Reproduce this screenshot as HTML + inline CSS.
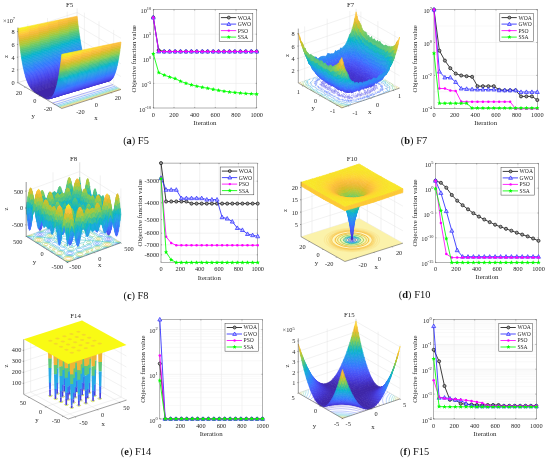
<!DOCTYPE html><html><head><meta charset="utf-8"><title>Figure</title><style>html,body{margin:0;padding:0;background:#fff}svg{display:block}.c0{fill:#3e26a8;stroke:#3e26a8}.c1{fill:#3f29af;stroke:#3f29af}.c2{fill:#402bb6;stroke:#402bb6}.c3{fill:#412ebd;stroke:#412ebd}.c4{fill:#4230c4;stroke:#4230c4}.c5{fill:#4333cb;stroke:#4333cb}.c6{fill:#4436d2;stroke:#4436d2}.c7{fill:#4539d9;stroke:#4539d9}.c8{fill:#463cde;stroke:#463cde}.c9{fill:#473fe2;stroke:#473fe2}.c10{fill:#4743e6;stroke:#4743e6}.c11{fill:#4846ea;stroke:#4846ea}.c12{fill:#484aed;stroke:#484aed}.c13{fill:#474df0;stroke:#474df0}.c14{fill:#4751f3;stroke:#4751f3}.c15{fill:#4754f6;stroke:#4754f6}.c16{fill:#4757f7;stroke:#4757f7}.c17{fill:#465bf9;stroke:#465bf9}.c18{fill:#455efb;stroke:#455efb}.c19{fill:#4461fc;stroke:#4461fc}.c20{fill:#4265fd;stroke:#4265fd}.c21{fill:#416afe;stroke:#416afe}.c22{fill:#3f6efe;stroke:#3f6efe}.c23{fill:#3c71fe;stroke:#3c71fe}.c24{fill:#3975fe;stroke:#3975fe}.c25{fill:#3678fd;stroke:#3678fd}.c26{fill:#327bfc;stroke:#327bfc}.c27{fill:#317efb;stroke:#317efb}.c28{fill:#3082f9;stroke:#3082f9}.c29{fill:#2f85f7;stroke:#2f85f7}.c30{fill:#2f88f6;stroke:#2f88f6}.c31{fill:#2e8bf3;stroke:#2e8bf3}.c32{fill:#2d8ef1;stroke:#2d8ef1}.c33{fill:#2c91ef;stroke:#2c91ef}.c34{fill:#2a94ed;stroke:#2a94ed}.c35{fill:#2997ea;stroke:#2997ea}.c36{fill:#279ae8;stroke:#279ae8}.c37{fill:#269ce6;stroke:#269ce6}.c38{fill:#239fe4;stroke:#239fe4}.c39{fill:#21a2e2;stroke:#21a2e2}.c40{fill:#1ea5e0;stroke:#1ea5e0}.c41{fill:#1ba8de;stroke:#1ba8de}.c42{fill:#17aadb;stroke:#17aadb}.c43{fill:#13acd8;stroke:#13acd8}.c44{fill:#10afd5;stroke:#10afd5}.c45{fill:#0cb1d2;stroke:#0cb1d2}.c46{fill:#08b3ce;stroke:#08b3ce}.c47{fill:#0ab5c7;stroke:#0ab5c7}.c48{fill:#12b7bf;stroke:#12b7bf}.c49{fill:#1ab9b6;stroke:#1ab9b6}.c50{fill:#21baad;stroke:#21baad}.c51{fill:#29bca7;stroke:#29bca7}.c52{fill:#31bda0;stroke:#31bda0}.c53{fill:#38be9a;stroke:#38be9a}.c54{fill:#3fc093;stroke:#3fc093}.c55{fill:#45c18c;stroke:#45c18c}.c56{fill:#4ac386;stroke:#4ac386}.c57{fill:#51c47f;stroke:#51c47f}.c58{fill:#58c579;stroke:#58c579}.c59{fill:#5fc672;stroke:#5fc672}.c60{fill:#67c86c;stroke:#67c86c}.c61{fill:#6fc965;stroke:#6fc965}.c62{fill:#78cb5f;stroke:#78cb5f}.c63{fill:#81cc58;stroke:#81cc58}.c64{fill:#8acb52;stroke:#8acb52}.c65{fill:#93cb4c;stroke:#93cb4c}.c66{fill:#9cca45;stroke:#9cca45}.c67{fill:#a4c940;stroke:#a4c940}.c68{fill:#acc83c;stroke:#acc83c}.c69{fill:#b3c738;stroke:#b3c738}.c70{fill:#bbc533;stroke:#bbc533}.c71{fill:#c2c430;stroke:#c2c430}.c72{fill:#c8c22e;stroke:#c8c22e}.c73{fill:#cec02c;stroke:#cec02c}.c74{fill:#d4be2a;stroke:#d4be2a}.c75{fill:#dabd2a;stroke:#dabd2a}.c76{fill:#e0bc2d;stroke:#e0bc2d}.c77{fill:#e5bb30;stroke:#e5bb30}.c78{fill:#ebba33;stroke:#ebba33}.c79{fill:#f0ba36;stroke:#f0ba36}.c80{fill:#f3bb37;stroke:#f3bb37}.c81{fill:#f6bd39;stroke:#f6bd39}.c82{fill:#f9be3a;stroke:#f9be3a}.c83{fill:#fcbf3c;stroke:#fcbf3c}.c84{fill:#fdc43a;stroke:#fdc43a}.c85{fill:#fdc938;stroke:#fdc938}.c86{fill:#fdce36;stroke:#fdce36}.c87{fill:#fed335;stroke:#fed335}.c88{fill:#fdd732;stroke:#fdd732}.c89{fill:#fbdc2f;stroke:#fbdc2f}.c90{fill:#f9e12b;stroke:#f9e12b}.c91{fill:#f8e628;stroke:#f8e628}.c93{fill:#f6f020;stroke:#f6f020}</style></head><body><svg width="550" height="461" viewBox="0 0 550 461" font-family="Liberation Serif, serif">
<rect width="550" height="461" fill="#fff"/>
<path d="M71.7 105.3L27.8 79.5M27.8 79.5L27.8 24.3M91.4 99L47.5 73.2M47.5 73.2L47.5 18M111.1 92.6L67.2 66.8M67.2 66.8L67.2 11.6M54.5 104.2L113.7 85.1M113.7 85.1L113.7 29.9M39.8 95.6L99 76.5M99 76.5L99 21.3M25.2 87L84.4 67.9M84.4 67.9L84.4 12.7M17.9 82.7L77.1 63.6M77.1 63.6L121 89.4M17.9 69.9L77.1 50.8M77.1 50.8L121 76.6M17.9 57.2L77.1 38.1M77.1 38.1L121 63.9M17.9 44.4L77.1 25.3M77.1 25.3L121 51.1M17.9 31.6L77.1 12.5M77.1 12.5L121 38.3" stroke="#e2e2e2" stroke-width="0.45" fill="none"/>
<path d="M121 89.4L77.1 63.6M17.9 82.7L77.1 63.6M77.1 63.6L77.1 8.4" stroke="#d8d8d8" stroke-width="0.45" fill="none"/>
<path d="M112.9 84.6l-10.1 3.1-7.9 2.4-2.1 0.7-10.1 3-6 1.9-4.1 1.2-10 3.1-4.3 1.3-5.8 1.7" fill="none" stroke="#484aed" stroke-width="0.45" opacity="1.0"/>
<path d="M115.3 86.1l-10 3.1-2.7 0.8-7.3 2.2-10.1 3.1-10 3.1-7.6 2.3-2.4 0.8-10.1 3.1" fill="none" stroke="#3975fe" stroke-width="0.45" opacity="1.0"/>
<path d="M117 87l-10.1 3.1-4.1 1.3-5.9 1.8-10 3.1-1.2 0.4-8.8 2.7-8.3 2.6-1.7 0.5-10.1 3.1" fill="none" stroke="#279ae8" stroke-width="0.45" opacity="1.0"/>
<path d="M118.2 87.8l-1.2 0.4-8.8 2.7-8 2.5-2 0.6-10 3.1-4.7 1.4-5.3 1.7-10 3.1-1.6 0.5-8.4 2.6" fill="none" stroke="#12b7bf" stroke-width="0.45" opacity="1.0"/>
<path d="M119.3 88.4l-10 3.1-2.5 0.8-7.5 2.3-9 2.8-1 0.3-10 3.1-5.6 1.7-4.4 1.4-10 3.1" fill="none" stroke="#5fc672" stroke-width="0.45" opacity="1.0"/>
<path d="M120.2 88.9l-0.5 0.2-9.5 2.9-6.8 2.2-3.2 0.9-10 3.2-3.2 1-6.8 2.1-9.7 3-10.3 3.2" fill="none" stroke="#c2c430" stroke-width="0.45" opacity="1.0"/>
<path d="M121 89.4l-10 3.1-6.2 1.9-3.8 1.2-10 3.1-2.4 0.8-7.6 2.3-8.7 2.8-1.3 0.4-9.9 3.1" fill="none" stroke="#fcbf3c" stroke-width="0.45" opacity="1.0"/>
<g stroke-width="0.6" stroke-linejoin="round"><path class="c83" d="M67.4 20.1l9.9-2.1-0.2-1.8-9.9 2.1z"/><path class="c85" d="M57.6 22.2l9.8-2.1-0.2-1.8-9.8 2z"/><path class="c87" d="M47.7 24.3l9.9-2.1-0.2-1.9-9.9 2.1z"/><path class="c89" d="M37.8 26.4l9.9-2.1-0.2-1.9-9.9 2z"/><path class="c91" d="M28 28.4l9.8-2-0.2-2-9.8 2.1z"/><path class="c93" d="M18.1 30.5l9.9-2.1-0.2-1.9-9.9 2z"/><path class="c80" d="M67.6 22l9.9-2.1-0.2-1.9-9.9 2.1z"/><path class="c82" d="M57.8 24.1l9.8-2.1-0.2-1.9-9.8 2.1z"/><path class="c84" d="M47.9 26.2l9.9-2.1-0.2-1.9-9.9 2.1z"/><path class="c86" d="M38 28.3l9.9-2.1-0.2-1.9-9.9 2.1z"/><path class="c88" d="M28.2 30.4l9.8-2.1-0.2-1.9-9.8 2z"/><path class="c90" d="M18.3 32.5l9.9-2.1-0.2-2-9.9 2.1z"/><path class="c77" d="M67.8 23.8l9.9-2.1-0.2-1.8-9.9 2.1z"/><path class="c79" d="M58 26l9.8-2.2-0.2-1.8-9.8 2.1z"/><path class="c81" d="M48.1 28.1l9.9-2.1-0.2-1.9-9.9 2.1z"/><path class="c83" d="M38.2 30.2l9.9-2.1-0.2-1.9-9.9 2.1z"/><path class="c85" d="M28.4 32.3l9.8-2.1-0.2-1.9-9.8 2.1z"/><path class="c87" d="M18.5 34.4l9.9-2.1-0.2-1.9-9.9 2.1z"/><path class="c74" d="M68 25.6l9.9-2.1-0.2-1.8-9.9 2.1z"/><path class="c76" d="M58.2 27.8l9.8-2.2-0.2-1.8-9.8 2.2z"/><path class="c78" d="M48.3 29.9l9.9-2.1-0.2-1.8-9.9 2.1z"/><path class="c80" d="M38.4 32.1l9.9-2.2-0.2-1.8-9.9 2.1z"/><path class="c82" d="M28.6 34.2l9.8-2.1-0.2-1.9-9.8 2.1z"/><path class="c84" d="M18.7 36.3l9.9-2.1-0.2-1.9-9.9 2.1z"/><path class="c71" d="M68.2 27.4l9.9-2.2-0.2-1.7-9.9 2.1z"/><path class="c73" d="M58.4 29.6l9.8-2.2-0.2-1.8-9.8 2.2z"/><path class="c75" d="M48.5 31.8l9.9-2.2-0.2-1.8-9.9 2.1z"/><path class="c77" d="M38.6 33.9l9.9-2.1-0.2-1.9-9.9 2.2z"/><path class="c79" d="M28.8 36l9.8-2.1-0.2-1.8-9.8 2.1z"/><path class="c80" d="M18.9 38.2l9.9-2.2-0.2-1.8-9.9 2.1z"/><path class="c68" d="M68.5 29.2l9.8-2.2-0.2-1.8-9.9 2.2z"/><path class="c70" d="M58.6 31.4l9.9-2.2-0.3-1.8-9.8 2.2z"/><path class="c72" d="M48.7 33.5l9.9-2.1-0.2-1.8-9.9 2.2z"/><path class="c74" d="M38.9 35.7l9.8-2.2-0.2-1.7-9.9 2.1z"/><path class="c76" d="M29 37.9l9.9-2.2-0.3-1.8-9.8 2.1z"/><path class="c77" d="M19.1 40l9.9-2.1-0.2-1.9-9.9 2.2z"/><path class="c66" d="M68.7 30.9l9.8-2.2-0.2-1.7-9.8 2.2z"/><path class="c67" d="M58.8 33.1l9.9-2.2-0.2-1.7-9.9 2.2z"/><path class="c69" d="M48.9 35.3l9.9-2.2-0.2-1.7-9.9 2.1z"/><path class="c71" d="M39.1 37.5l9.8-2.2-0.2-1.8-9.8 2.2z"/><path class="c73" d="M29.2 39.7l9.9-2.2-0.2-1.8-9.9 2.2z"/><path class="c74" d="M19.3 41.8l9.9-2.1-0.2-1.8-9.9 2.1z"/><path class="c63" d="M68.9 32.6l9.9-2.3-0.3-1.6-9.8 2.2z"/><path class="c65" d="M59 34.8l9.9-2.2-0.2-1.7-9.9 2.2z"/><path class="c66" d="M49.2 37l9.8-2.2-0.2-1.7-9.9 2.2z"/><path class="c68" d="M39.3 39.2l9.9-2.2-0.3-1.7-9.8 2.2z"/><path class="c70" d="M29.4 41.4l9.9-2.2-0.2-1.7-9.9 2.2z"/><path class="c71" d="M19.6 43.6l9.8-2.2-0.2-1.7-9.9 2.1z"/><path class="c60" d="M69.1 34.2l9.9-2.2-0.2-1.7-9.9 2.3z"/><path class="c62" d="M59.2 36.5l9.9-2.3-0.2-1.6-9.9 2.2z"/><path class="c63" d="M49.4 38.7l9.8-2.2-0.2-1.7-9.8 2.2z"/><path class="c65" d="M39.5 41l9.9-2.3-0.2-1.7-9.9 2.2z"/><path class="c67" d="M29.6 43.2l9.9-2.2-0.2-1.8-9.9 2.2z"/><path class="c69" d="M19.8 45.4l9.8-2.2-0.2-1.8-9.8 2.2z"/><path class="c57" d="M69.3 35.9l9.9-2.3-0.2-1.6-9.9 2.2z"/><path class="c59" d="M59.5 38.1l9.8-2.2-0.2-1.7-9.9 2.3z"/><path class="c61" d="M49.6 40.4l9.9-2.3-0.3-1.6-9.8 2.2z"/><path class="c62" d="M39.7 42.7l9.9-2.3-0.2-1.7-9.9 2.3z"/><path class="c64" d="M29.9 44.9l9.8-2.2-0.2-1.7-9.9 2.2z"/><path class="c66" d="M20 47.1l9.9-2.2-0.3-1.7-9.8 2.2z"/><path class="c55" d="M69.6 37.5l9.8-2.3-0.2-1.6-9.9 2.3z"/><path class="c56" d="M59.7 39.8l9.9-2.3-0.3-1.6-9.8 2.2z"/><path class="c58" d="M49.8 42.1l9.9-2.3-0.2-1.7-9.9 2.3z"/><path class="c60" d="M40 44.3l9.8-2.2-0.2-1.7-9.9 2.3z"/><path class="c61" d="M30.1 46.6l9.9-2.3-0.3-1.6-9.8 2.2z"/><path class="c63" d="M20.2 48.8l9.9-2.2-0.2-1.7-9.9 2.2z"/><path class="c52" d="M69.8 39l9.9-2.3-0.3-1.5-9.8 2.3z"/><path class="c54" d="M59.9 41.4l9.9-2.4-0.2-1.5-9.9 2.3z"/><path class="c55" d="M50.1 43.7l9.8-2.3-0.2-1.6-9.9 2.3z"/><path class="c57" d="M40.2 46l9.9-2.3-0.3-1.6-9.8 2.2z"/><path class="c59" d="M30.3 48.3l9.9-2.3-0.2-1.7-9.9 2.3z"/><path class="c60" d="M20.5 50.5l9.8-2.2-0.2-1.7-9.9 2.2z"/><path class="c50" d="M70 40.6l9.9-2.4-0.2-1.5-9.9 2.3z"/><path class="c51" d="M60.1 42.9l9.9-2.3-0.2-1.6-9.9 2.4z"/><path class="c53" d="M50.3 45.3l9.8-2.4-0.2-1.5-9.8 2.3z"/><path class="c54" d="M40.4 47.6l9.9-2.3-0.2-1.6-9.9 2.3z"/><path class="c56" d="M30.5 49.9l9.9-2.3-0.2-1.6-9.9 2.3z"/><path class="c57" d="M20.7 52.2l9.8-2.3-0.2-1.6-9.8 2.2z"/><path class="c47" d="M70.2 42.1l9.9-2.4-0.2-1.5-9.9 2.4z"/><path class="c49" d="M60.4 44.5l9.8-2.4-0.2-1.5-9.9 2.3z"/><path class="c50" d="M50.5 46.8l9.9-2.3-0.3-1.6-9.8 2.4z"/><path class="c52" d="M40.6 49.2l9.9-2.4-0.2-1.5-9.9 2.3z"/><path class="c53" d="M30.8 51.5l9.8-2.3-0.2-1.6-9.9 2.3z"/><path class="c55" d="M20.9 53.8l9.9-2.3-0.3-1.6-9.8 2.3z"/><path class="c45" d="M70.5 43.6l9.9-2.4-0.3-1.5-9.9 2.4z"/><path class="c46" d="M60.6 46l9.9-2.4-0.3-1.5-9.8 2.4z"/><path class="c48" d="M50.8 48.4l9.8-2.4-0.2-1.5-9.9 2.3z"/><path class="c49" d="M40.9 50.7l9.9-2.3-0.3-1.6-9.9 2.4z"/><path class="c51" d="M31 53.1l9.9-2.4-0.3-1.5-9.8 2.3z"/><path class="c52" d="M21.2 55.4l9.8-2.3-0.2-1.6-9.9 2.3z"/><path class="c43" d="M70.7 45.1l9.9-2.5-0.2-1.4-9.9 2.4z"/><path class="c44" d="M60.9 47.5l9.8-2.4-0.2-1.5-9.9 2.4z"/><path class="c45" d="M51 49.9l9.9-2.4-0.3-1.5-9.8 2.4z"/><path class="c47" d="M41.1 52.2l9.9-2.3-0.2-1.5-9.9 2.3z"/><path class="c48" d="M31.3 54.6l9.8-2.4-0.2-1.5-9.9 2.4z"/><path class="c50" d="M21.4 57l9.9-2.4-0.3-1.5-9.8 2.3z"/><path class="c40" d="M71 46.5l9.8-2.5-0.2-1.4-9.9 2.5z"/><path class="c42" d="M61.1 48.9l9.9-2.4-0.3-1.4-9.8 2.4z"/><path class="c43" d="M51.2 51.3l9.9-2.4-0.2-1.4-9.9 2.4z"/><path class="c44" d="M41.4 53.7l9.8-2.4-0.2-1.4-9.9 2.3z"/><path class="c46" d="M31.5 56.1l9.9-2.4-0.3-1.5-9.8 2.4z"/><path class="c47" d="M21.6 58.5l9.9-2.4-0.2-1.5-9.9 2.4z"/><path class="c38" d="M71.2 47.9l9.9-2.5-0.3-1.4-9.8 2.5z"/><path class="c39" d="M61.4 50.3l9.8-2.4-0.2-1.4-9.9 2.4z"/><path class="c41" d="M51.5 52.8l9.9-2.5-0.3-1.4-9.9 2.4z"/><path class="c42" d="M41.6 55.2l9.9-2.4-0.3-1.5-9.8 2.4z"/><path class="c43" d="M31.8 57.6l9.8-2.4-0.2-1.5-9.9 2.4z"/><path class="c45" d="M21.9 60l9.9-2.4-0.3-1.5-9.9 2.4z"/><path class="c36" d="M71.5 49.3l9.8-2.5-0.2-1.4-9.9 2.5z"/><path class="c37" d="M61.6 51.7l9.9-2.4-0.3-1.4-9.8 2.4z"/><path class="c38" d="M51.7 54.2l9.9-2.5-0.2-1.4-9.9 2.5z"/><path class="c40" d="M41.9 56.6l9.8-2.4-0.2-1.4-9.9 2.4z"/><path class="c41" d="M32 59.1l9.9-2.5-0.3-1.4-9.8 2.4z"/><path class="c42" d="M22.1 61.5l9.9-2.4-0.2-1.5-9.9 2.4z"/><path class="c34" d="M71.7 50.6l9.9-2.5-0.3-1.3-9.8 2.5z"/><path class="c35" d="M61.9 53.1l9.8-2.5-0.2-1.3-9.9 2.4z"/><path class="c36" d="M52 55.6l9.9-2.5-0.3-1.4-9.9 2.5z"/><path class="c38" d="M42.1 58l9.9-2.4-0.3-1.4-9.8 2.4z"/><path class="c39" d="M32.3 60.5l9.8-2.5-0.2-1.4-9.9 2.5z"/><path class="c40" d="M22.4 62.9l9.9-2.4-0.3-1.4-9.9 2.4z"/><path class="c32" d="M72 51.9l9.9-2.5-0.3-1.3-9.9 2.5z"/><path class="c33" d="M62.1 54.4l9.9-2.5-0.3-1.3-9.8 2.5z"/><path class="c34" d="M52.3 56.9l9.8-2.5-0.2-1.3-9.9 2.5z"/><path class="c35" d="M42.4 59.4l9.9-2.5-0.3-1.3-9.9 2.4z"/><path class="c37" d="M32.5 61.9l9.9-2.5-0.3-1.4-9.8 2.5z"/><path class="c38" d="M22.7 64.3l9.8-2.4-0.2-1.4-9.9 2.4z"/><path class="c30" d="M72.3 53.2l9.8-2.6-0.2-1.2-9.9 2.5z"/><path class="c31" d="M62.4 55.7l9.9-2.5-0.3-1.3-9.9 2.5z"/><path class="c32" d="M52.5 58.2l9.9-2.5-0.3-1.3-9.8 2.5z"/><path class="c33" d="M42.7 60.7l9.8-2.5-0.2-1.3-9.9 2.5z"/><path class="c35" d="M32.8 63.2l9.9-2.5-0.3-1.3-9.9 2.5z"/><path class="c36" d="M22.9 65.7l9.9-2.5-0.3-1.3-9.8 2.4z"/><path class="c30" d="M52.8 59.5l9.9-2.5-0.3-1.3-9.9 2.5z"/><path class="c31" d="M42.9 62.1l9.9-2.6-0.3-1.3-9.8 2.5z"/><path class="c32" d="M33.1 64.6l9.8-2.5-0.2-1.4-9.9 2.5z"/><path class="c34" d="M23.2 67.1l9.9-2.5-0.3-1.4-9.9 2.5z"/><path class="c28" d="M53.1 60.8l9.9-2.6-0.3-1.2-9.9 2.5z"/><path class="c29" d="M43.2 63.3l9.9-2.5-0.3-1.3-9.9 2.6z"/><path class="c30" d="M33.4 65.9l9.8-2.6-0.3-1.2-9.8 2.5z"/><path class="c32" d="M23.5 68.4l9.9-2.5-0.3-1.3-9.9 2.5z"/><path class="c26" d="M53.4 62l9.8-2.6-0.2-1.2-9.9 2.6z"/><path class="c27" d="M43.5 64.6l9.9-2.6-0.3-1.2-9.9 2.5z"/><path class="c28" d="M33.6 67.2l9.9-2.6-0.3-1.3-9.8 2.6z"/><path class="c30" d="M23.8 69.7l9.8-2.5-0.2-1.3-9.9 2.5z"/><path class="c24" d="M53.7 63.2l9.8-2.6-0.3-1.2-9.8 2.6z"/><path class="c25" d="M43.8 65.8l9.9-2.6-0.3-1.2-9.9 2.6z"/><path class="c26" d="M33.9 68.4l9.9-2.6-0.3-1.2-9.9 2.6z"/><path class="c28" d="M24.1 71l9.8-2.6-0.3-1.2-9.8 2.5z"/><path class="c23" d="M54 64.4l9.8-2.6-0.3-1.2-9.8 2.6z"/><path class="c24" d="M44.1 67l9.9-2.6-0.3-1.2-9.9 2.6z"/><path class="c25" d="M34.2 69.6l9.9-2.6-0.3-1.2-9.9 2.6z"/><path class="c26" d="M24.4 72.2l9.8-2.6-0.3-1.2-9.8 2.6z"/><path class="c21" d="M54.3 65.6l9.8-2.7-0.3-1.1-9.8 2.6z"/><path class="c22" d="M44.4 68.2l9.9-2.6-0.3-1.2-9.9 2.6z"/><path class="c23" d="M34.5 70.8l9.9-2.6-0.3-1.2-9.9 2.6z"/><path class="c24" d="M24.7 73.4l9.8-2.6-0.3-1.2-9.8 2.6z"/><path class="c19" d="M54.6 66.7l9.9-2.7-0.4-1.1-9.8 2.7z"/><path class="c20" d="M44.7 69.3l9.9-2.6-0.3-1.1-9.9 2.6z"/><path class="c21" d="M34.9 72l9.8-2.7-0.3-1.1-9.9 2.6z"/><path class="c22" d="M25 74.6l9.9-2.6-0.4-1.2-9.8 2.6z"/><path class="c18" d="M54.9 67.8l9.9-2.7-0.3-1.1-9.9 2.7z"/><path class="c19" d="M45.1 70.4l9.8-2.6-0.3-1.1-9.9 2.6zM35.2 73.1l9.9-2.7-0.4-1.1-9.8 2.7z"/><path class="c20" d="M25.3 75.8l9.9-2.7-0.3-1.1-9.9 2.6z"/><path class="c16" d="M55.2 68.8l9.9-2.7-0.3-1-9.9 2.7z"/><path class="c17" d="M45.4 71.5l9.8-2.7-0.3-1-9.8 2.6z"/><path class="c18" d="M35.5 74.2l9.9-2.7-0.3-1.1-9.9 2.7z"/><path class="c19" d="M25.6 76.9l9.9-2.7-0.3-1.1-9.9 2.7z"/><path class="c15" d="M55.6 69.8l9.9-2.7-0.4-1-9.9 2.7zM45.7 72.6l9.9-2.8-0.4-1-9.8 2.7z"/><path class="c16" d="M35.9 75.3l9.8-2.7-0.3-1.1-9.9 2.7z"/><path class="c17" d="M26 78l9.9-2.7-0.4-1.1-9.9 2.7z"/><path class="c13" d="M55.9 70.8l9.9-2.7-0.3-1-9.9 2.7z"/><path class="c14" d="M46.1 73.6l9.8-2.8-0.3-1-9.9 2.8z"/><path class="c15" d="M36.2 76.3l9.9-2.7-0.4-1-9.8 2.7z"/><path class="c16" d="M26.3 79l9.9-2.7-0.3-1-9.9 2.7z"/><path class="c12" d="M56.3 71.8l9.9-2.8-0.4-0.9-9.9 2.7z"/><path class="c13" d="M46.4 74.6l9.9-2.8-0.4-1-9.8 2.8zM36.6 77.3l9.8-2.7-0.3-1-9.9 2.7z"/><path class="c14" d="M26.7 80.1l9.9-2.8-0.4-1-9.9 2.7z"/><path class="c11" d="M56.7 72.7l9.8-2.8-0.3-0.9-9.9 2.8zM46.8 75.5l9.9-2.8-0.4-0.9-9.9 2.8z"/><path class="c12" d="M36.9 78.3l9.9-2.8-0.4-0.9-9.8 2.7z"/><path class="c13" d="M27.1 81.1l9.8-2.8-0.3-1-9.9 2.8z"/><path class="c9" d="M57.1 73.6l9.8-2.8-0.4-0.9-9.8 2.8z"/><path class="c10" d="M47.2 76.5l9.9-2.9-0.4-0.9-9.9 2.8z"/><path class="c11" d="M37.3 79.3l9.9-2.8-0.4-1-9.9 2.8zM27.5 82.1l9.8-2.8-0.4-1-9.8 2.8z"/><path class="c8" d="M57.5 74.5l9.8-2.8-0.4-0.9-9.8 2.8z"/><path class="c9" d="M47.6 77.4l9.9-2.9-0.4-0.9-9.9 2.9zM37.7 80.2l9.9-2.8-0.4-0.9-9.9 2.8z"/><path class="c10" d="M27.9 83l9.8-2.8-0.4-0.9-9.8 2.8z"/><path class="c7" d="M57.9 75.4l9.9-2.9-0.5-0.8-9.8 2.8z"/><path class="c8" d="M48 78.2l9.9-2.8-0.4-0.9-9.9 2.9zM38.2 81.1l9.8-2.9-0.4-0.8-9.9 2.8z"/><path class="c9" d="M28.3 83.9l9.9-2.8-0.5-0.9-9.8 2.8z"/><path class="c6" d="M58.3 76.2l9.9-2.9-0.4-0.8-9.9 2.9z"/><path class="c7" d="M48.5 79.1l9.8-2.9-0.4-0.8-9.9 2.8zM38.6 82l9.9-2.9-0.5-0.9-9.8 2.9z"/><path class="c8" d="M28.7 84.8l9.9-2.8-0.4-0.9-9.9 2.8z"/><path class="c6" d="M48.9 79.9l9.9-2.9-0.5-0.8-9.8 2.9zM39.1 82.8l9.8-2.9-0.4-0.8-9.9 2.9z"/><path class="c7" d="M29.2 85.7l9.9-2.9-0.5-0.8-9.9 2.8z"/><path class="c5" d="M49.4 80.7l9.9-2.9-0.5-0.8-9.9 2.9zM39.6 83.6l9.8-2.9-0.5-0.8-9.8 2.9z"/><path class="c6" d="M29.7 86.5l9.9-2.9-0.5-0.8-9.9 2.9z"/><path class="c4" d="M50 81.5l9.8-3-0.5-0.7-9.9 2.9zM40.1 84.4l9.9-2.9-0.6-0.8-9.8 2.9z"/><path class="c5" d="M30.2 87.4l9.9-3-0.5-0.8-9.9 2.9z"/><path class="c3" d="M50.5 82.2l9.9-2.9-0.6-0.8-9.8 3z"/><path class="c4" d="M40.7 85.2l9.8-3-0.5-0.7-9.9 2.9zM30.8 88.2l9.9-3-0.6-0.8-9.9 3z"/><path class="c2" d="M51.1 83l9.9-3-0.6-0.7-9.9 2.9z"/><path class="c3" d="M41.3 86l9.8-3-0.6-0.8-9.8 3zM31.4 89l9.9-3-0.6-0.8-9.9 3z"/><path class="c2" d="M51.8 83.7l9.9-3-0.7-0.7-9.9 3zM41.9 86.7l9.9-3-0.7-0.7-9.8 3zM32.1 89.7l9.8-3-0.6-0.7-9.9 3z"/><path class="c1" d="M52.5 84.4l9.9-3-0.7-0.7-9.9 3z"/><path class="c2" d="M42.7 87.5l9.8-3.1-0.7-0.7-9.9 3zM32.8 90.5l9.9-3-0.8-0.8-9.8 3z"/><path class="c1" d="M53.4 85.2l9.9-3.1-0.9-0.7-9.9 3zM43.5 88.3l9.9-3.1-0.9-0.8-9.8 3.1zM33.7 91.3l9.8-3-0.8-0.8-9.9 3z"/><path class="c0" d="M54.4 86l9.9-3.1-1-0.8-9.9 3.1z"/><path class="c1" d="M44.6 89.1l9.8-3.1-1-0.8-9.9 3.1zM34.7 92.2l9.9-3.1-1.1-0.8-9.8 3z"/><path class="c0" d="M55.8 86.9l9.9-3.1-1.4-0.9-9.9 3.1zM45.9 90.1l9.9-3.2-1.4-0.9-9.8 3.1zM36.1 93.2l9.8-3.1-1.3-1-9.9 3.1zM59.6 89.2l9.9-3.2-3.8-2.2-9.9 3.1zM49.7 92.4l9.9-3.2-3.8-2.3-9.9 3.2zM39.8 95.5l9.9-3.1-3.8-2.3-9.8 3.1zM53.5 94.5l9.9-3.1-3.8-2.2-9.9 3.2zM43.6 97.6l9.9-3.1-3.8-2.1-9.9 3.1zM45 98.2l9.9-3.1-1.4-0.6-9.9 3.1z"/><path class="c1" d="M46 98.6l9.9-3.1-1-0.4-9.9 3.1zM46.9 98.8l9.9-3-0.9-0.3-9.9 3.1z"/><path class="c2" d="M47.6 98.9l9.9-3-0.7-0.1-9.9 3zM48.3 98.9l9.9-3-0.7 0-9.9 3z"/><path class="c3" d="M48.9 98.8l9.9-2.9-0.6 0-9.9 3z"/><path class="c4" d="M49.5 98.7l9.8-3-0.5 0.2-9.9 2.9zM69.7 92.6l9.9-2.9-0.5 0.1-9.9 3zM59.9 95.6l9.8-3-0.5 0.2-9.9 2.9z"/><path class="c5" d="M50 98.5l9.9-2.9-0.6 0.1-9.8 3z"/><path class="c3" d="M99.8 83.6l9.9-2.9-0.5 0.1-9.9 3z"/><path class="c4" d="M90 86.6l9.8-3-0.5 0.2-9.8 2.9zM80.1 89.5l9.9-2.9-0.5 0.1-9.9 3z"/><path class="c5" d="M70.2 92.4l9.9-2.9-0.5 0.2-9.9 2.9zM60.4 95.3l9.8-2.9-0.5 0.2-9.8 3z"/><path class="c6" d="M50.5 98.2l9.9-2.9-0.5 0.3-9.9 2.9z"/><path class="c4" d="M100.3 83.4l9.9-2.9-0.5 0.2-9.9 2.9z"/><path class="c5" d="M80.6 89.3l9.8-3-0.4 0.3-9.9 2.9z"/><path class="c6" d="M70.7 92.1l9.9-2.8-0.5 0.2-9.9 2.9zM60.8 95l9.9-2.9-0.5 0.3-9.8 2.9z"/><path class="c7" d="M51 97.9l9.8-2.9-0.4 0.3-9.9 2.9z"/><path class="c5" d="M100.7 83.2l9.9-2.9-0.4 0.2-9.9 2.9z"/><path class="c6" d="M90.9 86.1l9.8-2.9-0.4 0.2-9.9 2.9zM81 88.9l9.9-2.8-0.5 0.2-9.8 3z"/><path class="c7" d="M71.1 91.8l9.9-2.9-0.4 0.4-9.9 2.8zM61.3 94.7l9.8-2.9-0.4 0.3-9.9 2.9z"/><path class="c8" d="M51.4 97.5l9.9-2.8-0.5 0.3-9.8 2.9z"/><path class="c6" d="M101.2 82.9l9.8-2.9-0.4 0.3-9.9 2.9z"/><path class="c7" d="M91.3 85.7l9.9-2.8-0.5 0.3-9.8 2.9zM81.4 88.6l9.9-2.9-0.4 0.4-9.9 2.8z"/><path class="c8" d="M71.6 91.4l9.8-2.8-0.4 0.3-9.9 2.9zM61.7 94.3l9.9-2.9-0.5 0.4-9.8 2.9z"/><path class="c9" d="M51.8 97.1l9.9-2.8-0.4 0.4-9.9 2.8z"/><path class="c7" d="M101.6 82.5l9.8-2.8-0.4 0.3-9.8 2.9z"/><path class="c8" d="M91.7 85.4l9.9-2.9-0.4 0.4-9.9 2.8zM81.8 88.2l9.9-2.8-0.4 0.3-9.9 2.9z"/><path class="c9" d="M72 91l9.8-2.8-0.4 0.4-9.8 2.8zM62.1 93.8l9.9-2.8-0.4 0.4-9.9 2.9z"/><path class="c10" d="M52.2 96.6l9.9-2.8-0.4 0.5-9.9 2.8z"/><path class="c8" d="M102 82.1l9.8-2.8-0.4 0.4-9.8 2.8z"/><path class="c9" d="M92.1 84.9l9.9-2.8-0.4 0.4-9.9 2.9zM82.2 87.7l9.9-2.8-0.4 0.5-9.9 2.8z"/><path class="c10" d="M72.4 90.5l9.8-2.8-0.4 0.5-9.8 2.8z"/><path class="c11" d="M62.5 93.3l9.9-2.8-0.4 0.5-9.9 2.8zM52.6 96.1l9.9-2.8-0.4 0.5-9.9 2.8z"/><path class="c9" d="M102.3 81.7l9.9-2.8-0.4 0.4-9.8 2.8z"/><path class="c10" d="M92.5 84.5l9.8-2.8-0.3 0.4-9.9 2.8z"/><path class="c11" d="M82.6 87.2l9.9-2.7-0.4 0.4-9.9 2.8zM72.7 90l9.9-2.8-0.4 0.5-9.8 2.8z"/><path class="c12" d="M62.9 92.8l9.8-2.8-0.3 0.5-9.9 2.8z"/><path class="c13" d="M53 95.5l9.9-2.7-0.4 0.5-9.9 2.8z"/><path class="c10" d="M102.7 81.2l9.9-2.8-0.4 0.5-9.9 2.8z"/><path class="c11" d="M92.8 83.9l9.9-2.7-0.4 0.5-9.8 2.8z"/><path class="c12" d="M83 86.7l9.8-2.8-0.3 0.6-9.9 2.7z"/><path class="c13" d="M73.1 89.5l9.9-2.8-0.4 0.5-9.9 2.8zM63.2 92.2l9.9-2.7-0.4 0.5-9.8 2.8z"/><path class="c14" d="M53.4 94.9l9.8-2.7-0.3 0.6-9.9 2.7z"/><path class="c12" d="M103 80.6l9.9-2.7-0.3 0.5-9.9 2.8zM93.2 83.4l9.8-2.8-0.3 0.6-9.9 2.7z"/><path class="c13" d="M83.3 86.1l9.9-2.7-0.4 0.5-9.8 2.8z"/><path class="c14" d="M73.4 88.9l9.9-2.8-0.3 0.6-9.9 2.8z"/><path class="c15" d="M63.6 91.6l9.8-2.7-0.3 0.6-9.9 2.7z"/><path class="c16" d="M53.7 94.3l9.9-2.7-0.4 0.6-9.8 2.7z"/><path class="c13" d="M103.4 80.1l9.9-2.8-0.4 0.6-9.9 2.7z"/><path class="c14" d="M93.5 82.8l9.9-2.7-0.4 0.5-9.8 2.8z"/><path class="c15" d="M83.7 85.5l9.8-2.7-0.3 0.6-9.9 2.7zM73.8 88.2l9.9-2.7-0.4 0.6-9.9 2.8z"/><path class="c16" d="M63.9 90.9l9.9-2.7-0.4 0.7-9.8 2.7z"/><path class="c17" d="M54.1 93.6l9.8-2.7-0.3 0.7-9.9 2.7z"/><path class="c14" d="M103.7 79.4l9.9-2.7-0.3 0.6-9.9 2.8z"/><path class="c15" d="M93.8 82.1l9.9-2.7-0.3 0.7-9.9 2.7z"/><path class="c16" d="M84 84.8l9.8-2.7-0.3 0.7-9.8 2.7z"/><path class="c17" d="M74.1 87.5l9.9-2.7-0.3 0.7-9.9 2.7z"/><path class="c18" d="M64.2 90.2l9.9-2.7-0.3 0.7-9.9 2.7z"/><path class="c19" d="M54.4 92.8l9.8-2.6-0.3 0.7-9.8 2.7z"/><path class="c16" d="M104 78.8l9.9-2.7-0.3 0.6-9.9 2.7z"/><path class="c17" d="M94.2 81.5l9.8-2.7-0.3 0.6-9.9 2.7z"/><path class="c18" d="M84.3 84.1l9.9-2.6-0.4 0.6-9.8 2.7z"/><path class="c19" d="M74.4 86.8l9.9-2.7-0.3 0.7-9.9 2.7zM64.6 89.4l9.8-2.6-0.3 0.7-9.9 2.7z"/><path class="c20" d="M54.7 92.1l9.9-2.7-0.4 0.8-9.8 2.6z"/><path class="c17" d="M104.4 78.1l9.8-2.7-0.3 0.7-9.9 2.7z"/><path class="c18" d="M94.5 80.7l9.9-2.6-0.4 0.7-9.8 2.7z"/><path class="c19" d="M84.6 83.4l9.9-2.7-0.3 0.8-9.9 2.6z"/><path class="c20" d="M74.8 86l9.8-2.6-0.3 0.7-9.9 2.7z"/><path class="c21" d="M64.9 88.6l9.9-2.6-0.4 0.8-9.8 2.6z"/><path class="c22" d="M55 91.3l9.9-2.7-0.3 0.8-9.9 2.7z"/><path class="c19" d="M104.7 77.3l9.8-2.6-0.3 0.7-9.8 2.7z"/><path class="c20" d="M94.8 80l9.9-2.7-0.3 0.8-9.9 2.6z"/><path class="c21" d="M84.9 82.6l9.9-2.6-0.3 0.7-9.9 2.7z"/><path class="c22" d="M75.1 85.2l9.8-2.6-0.3 0.8-9.8 2.6z"/><path class="c23" d="M65.2 87.8l9.9-2.6-0.3 0.8-9.9 2.6z"/><path class="c24" d="M55.3 90.4l9.9-2.6-0.3 0.8-9.9 2.7z"/><path class="c21" d="M105 76.6l9.8-2.7-0.3 0.8-9.8 2.6z"/><path class="c22" d="M95.1 79.2l9.9-2.6-0.3 0.7-9.9 2.7z"/><path class="c23" d="M85.2 81.8l9.9-2.6-0.3 0.8-9.9 2.6z"/><path class="c24" d="M75.4 84.4l9.8-2.6-0.3 0.8-9.8 2.6z"/><path class="c25" d="M65.5 87l9.9-2.6-0.3 0.8-9.9 2.6z"/><path class="c26" d="M55.6 89.5l9.9-2.5-0.3 0.8-9.9 2.6z"/><path class="c22" d="M105.3 75.7l9.8-2.6-0.3 0.8-9.8 2.7z"/><path class="c23" d="M95.4 78.3l9.9-2.6-0.3 0.9-9.9 2.6z"/><path class="c24" d="M85.5 80.9l9.9-2.6-0.3 0.9-9.9 2.6z"/><path class="c25" d="M75.7 83.5l9.8-2.6-0.3 0.9-9.8 2.6z"/><path class="c26" d="M65.8 86l9.9-2.5-0.3 0.9-9.9 2.6z"/><path class="c28" d="M55.9 88.6l9.9-2.6-0.3 1-9.9 2.5z"/><path class="c24" d="M105.5 74.9l9.9-2.6-0.3 0.8-9.8 2.6z"/><path class="c25" d="M95.7 77.5l9.8-2.6-0.2 0.8-9.9 2.6z"/><path class="c26" d="M85.8 80l9.9-2.5-0.3 0.8-9.9 2.6z"/><path class="c27" d="M75.9 82.6l9.9-2.6-0.3 0.9-9.8 2.6z"/><path class="c28" d="M66.1 85.1l9.8-2.5-0.2 0.9-9.9 2.5z"/><path class="c30" d="M56.2 87.6l9.9-2.5-0.3 0.9-9.9 2.6z"/><path class="c26" d="M105.8 74l9.9-2.6-0.3 0.9-9.9 2.6z"/><path class="c27" d="M96 76.5l9.8-2.5-0.3 0.9-9.8 2.6z"/><path class="c28" d="M86.1 79.1l9.9-2.6-0.3 1-9.9 2.5z"/><path class="c29" d="M76.2 81.6l9.9-2.5-0.3 0.9-9.9 2.6z"/><path class="c30" d="M66.4 84.1l9.8-2.5-0.3 1-9.8 2.5z"/><path class="c32" d="M56.5 86.6l9.9-2.5-0.3 1-9.9 2.5z"/><path class="c28" d="M106.1 73.1l9.9-2.6-0.3 0.9-9.9 2.6z"/><path class="c29" d="M96.2 75.6l9.9-2.5-0.3 0.9-9.8 2.5z"/><path class="c30" d="M86.4 78.1l9.8-2.5-0.2 0.9-9.9 2.6z"/><path class="c31" d="M76.5 80.6l9.9-2.5-0.3 1-9.9 2.5z"/><path class="c32" d="M66.6 83.1l9.9-2.5-0.3 1-9.8 2.5z"/><path class="c34" d="M56.8 85.6l9.8-2.5-0.2 1-9.9 2.5z"/><path class="c30" d="M106.4 72.1l9.8-2.5-0.2 0.9-9.9 2.6z"/><path class="c31" d="M96.5 74.6l9.9-2.5-0.3 1-9.9 2.5z"/><path class="c32" d="M86.6 77.1l9.9-2.5-0.3 1-9.8 2.5z"/><path class="c33" d="M76.8 79.6l9.8-2.5-0.2 1-9.9 2.5z"/><path class="c35" d="M66.9 82.1l9.9-2.5-0.3 1-9.9 2.5z"/><path class="c36" d="M57 84.5l9.9-2.4-0.3 1-9.8 2.5z"/><path class="c32" d="M106.6 71.1l9.9-2.5-0.3 1-9.8 2.5z"/><path class="c33" d="M96.8 73.6l9.8-2.5-0.2 1-9.9 2.5z"/><path class="c34" d="M86.9 76.1l9.9-2.5-0.3 1-9.9 2.5z"/><path class="c35" d="M77 78.5l9.9-2.4-0.3 1-9.8 2.5z"/><path class="c37" d="M67.2 81l9.8-2.5-0.2 1.1-9.9 2.5z"/><path class="c38" d="M57.3 83.4l9.9-2.4-0.3 1.1-9.9 2.4z"/><path class="c34" d="M106.9 70.1l9.9-2.5-0.3 1-9.9 2.5z"/><path class="c35" d="M97 72.5l9.9-2.4-0.3 1-9.8 2.5z"/><path class="c36" d="M87.2 75l9.8-2.5-0.2 1.1-9.9 2.5z"/><path class="c38" d="M77.3 77.4l9.9-2.4-0.3 1.1-9.9 2.4z"/><path class="c39" d="M67.4 79.9l9.9-2.5-0.3 1.1-9.8 2.5z"/><path class="c40" d="M57.6 82.3l9.8-2.4-0.2 1.1-9.9 2.4z"/><path class="c36" d="M107.1 69l9.9-2.5-0.2 1.1-9.9 2.5z"/><path class="c37" d="M97.3 71.4l9.8-2.4-0.2 1.1-9.9 2.4z"/><path class="c38" d="M87.4 73.9l9.9-2.5-0.3 1.1-9.8 2.5z"/><path class="c40" d="M77.5 76.3l9.9-2.4-0.2 1.1-9.9 2.4z"/><path class="c41" d="M67.7 78.7l9.8-2.4-0.2 1.1-9.9 2.5z"/><path class="c42" d="M57.8 81.1l9.9-2.4-0.3 1.2-9.8 2.4z"/><path class="c38" d="M107.4 67.9l9.9-2.5-0.3 1.1-9.9 2.5z"/><path class="c39" d="M97.5 70.3l9.9-2.4-0.3 1.1-9.8 2.4z"/><path class="c41" d="M87.7 72.7l9.8-2.4-0.2 1.1-9.9 2.5z"/><path class="c42" d="M77.8 75.1l9.9-2.4-0.3 1.2-9.9 2.4z"/><path class="c43" d="M67.9 77.5l9.9-2.4-0.3 1.2-9.8 2.4z"/><path class="c45" d="M58.1 79.9l9.8-2.4-0.2 1.2-9.9 2.4z"/><path class="c40" d="M107.6 66.7l9.9-2.4-0.2 1.1-9.9 2.5z"/><path class="c42" d="M97.8 69.1l9.8-2.4-0.2 1.2-9.9 2.4z"/><path class="c43" d="M87.9 71.5l9.9-2.4-0.3 1.2-9.8 2.4z"/><path class="c44" d="M78 73.9l9.9-2.4-0.2 1.2-9.9 2.4z"/><path class="c46" d="M68.2 76.3l9.8-2.4-0.2 1.2-9.9 2.4z"/><path class="c47" d="M58.3 78.6l9.9-2.3-0.3 1.2-9.8 2.4z"/><path class="c43" d="M107.9 65.6l9.8-2.4-0.2 1.1-9.9 2.4z"/><path class="c44" d="M98 68l9.9-2.4-0.3 1.1-9.8 2.4z"/><path class="c45" d="M88.1 70.3l9.9-2.3-0.2 1.1-9.9 2.4z"/><path class="c47" d="M78.3 72.7l9.8-2.4-0.2 1.2-9.9 2.4z"/><path class="c48" d="M68.4 75l9.9-2.3-0.3 1.2-9.8 2.4z"/><path class="c50" d="M58.5 77.4l9.9-2.4-0.2 1.3-9.9 2.3z"/><path class="c45" d="M108.1 64.4l9.9-2.4-0.3 1.2-9.8 2.4z"/><path class="c46" d="M98.3 66.7l9.8-2.3-0.2 1.2-9.9 2.4z"/><path class="c48" d="M88.4 69.1l9.9-2.4-0.3 1.3-9.9 2.3z"/><path class="c49" d="M78.5 71.4l9.9-2.3-0.3 1.2-9.8 2.4z"/><path class="c51" d="M68.7 73.7l9.8-2.3-0.2 1.3-9.9 2.3z"/><path class="c52" d="M58.8 76.1l9.9-2.4-0.3 1.3-9.9 2.4z"/><path class="c47" d="M108.4 63.1l9.8-2.3-0.2 1.2-9.9 2.4z"/><path class="c49" d="M98.5 65.5l9.9-2.4-0.3 1.3-9.8 2.3z"/><path class="c50" d="M88.6 67.8l9.9-2.3-0.2 1.2-9.9 2.4z"/><path class="c52" d="M78.8 70.1l9.8-2.3-0.2 1.3-9.9 2.3z"/><path class="c53" d="M68.9 72.4l9.9-2.3-0.3 1.3-9.8 2.3z"/><path class="c55" d="M59 74.7l9.9-2.3-0.2 1.3-9.9 2.4z"/><path class="c50" d="M108.6 61.8l9.8-2.3-0.2 1.3-9.8 2.3z"/><path class="c51" d="M98.7 64.2l9.9-2.4-0.2 1.3-9.9 2.4z"/><path class="c53" d="M88.8 66.5l9.9-2.3-0.2 1.3-9.9 2.3z"/><path class="c54" d="M79 68.8l9.8-2.3-0.2 1.3-9.8 2.3z"/><path class="c56" d="M69.1 71.1l9.9-2.3-0.2 1.3-9.9 2.3z"/><path class="c57" d="M59.2 73.3l9.9-2.2-0.2 1.3-9.9 2.3z"/><path class="c52" d="M108.8 60.5l9.9-2.3-0.3 1.3-9.8 2.3z"/><path class="c54" d="M98.9 62.8l9.9-2.3-0.2 1.3-9.9 2.4z"/><path class="c55" d="M89.1 65.1l9.8-2.3-0.2 1.4-9.9 2.3z"/><path class="c57" d="M79.2 67.4l9.9-2.3-0.3 1.4-9.8 2.3z"/><path class="c59" d="M69.3 69.7l9.9-2.3-0.2 1.4-9.9 2.3z"/><path class="c60" d="M59.5 71.9l9.8-2.2-0.2 1.4-9.9 2.2z"/><path class="c55" d="M109 59.2l9.9-2.3-0.2 1.3-9.9 2.3z"/><path class="c56" d="M99.2 61.5l9.8-2.3-0.2 1.3-9.9 2.3z"/><path class="c58" d="M89.3 63.7l9.9-2.2-0.3 1.3-9.8 2.3z"/><path class="c60" d="M79.4 66l9.9-2.3-0.2 1.4-9.9 2.3z"/><path class="c61" d="M69.6 68.2l9.8-2.2-0.2 1.4-9.9 2.3z"/><path class="c63" d="M59.7 70.5l9.9-2.3-0.3 1.5-9.8 2.2z"/><path class="c57" d="M109.3 57.8l9.8-2.2-0.2 1.3-9.9 2.3z"/><path class="c59" d="M99.4 60.1l9.9-2.3-0.3 1.4-9.8 2.3z"/><path class="c61" d="M89.5 62.3l9.9-2.2-0.2 1.4-9.9 2.2z"/><path class="c62" d="M79.7 64.6l9.8-2.3-0.2 1.4-9.9 2.3z"/><path class="c64" d="M69.8 66.8l9.9-2.2-0.3 1.4-9.8 2.2z"/><path class="c66" d="M59.9 69l9.9-2.2-0.2 1.4-9.9 2.3z"/><path class="c60" d="M109.5 56.4l9.8-2.2-0.2 1.4-9.8 2.2z"/><path class="c62" d="M99.6 58.7l9.9-2.3-0.2 1.4-9.9 2.3z"/><path class="c63" d="M89.7 60.9l9.9-2.2-0.2 1.4-9.9 2.2z"/><path class="c65" d="M79.9 63.1l9.8-2.2-0.2 1.4-9.8 2.3z"/><path class="c67" d="M70 65.3l9.9-2.2-0.2 1.5-9.9 2.2z"/><path class="c69" d="M60.1 67.5l9.9-2.2-0.2 1.5-9.9 2.2z"/><path class="c63" d="M109.7 55l9.9-2.2-0.3 1.4-9.8 2.2z"/><path class="c65" d="M99.8 57.2l9.9-2.2-0.2 1.4-9.9 2.3z"/><path class="c66" d="M90 59.4l9.8-2.2-0.2 1.5-9.9 2.2z"/><path class="c68" d="M80.1 61.6l9.9-2.2-0.3 1.5-9.8 2.2z"/><path class="c70" d="M70.2 63.8l9.9-2.2-0.2 1.5-9.9 2.2z"/><path class="c71" d="M60.4 66l9.8-2.2-0.2 1.5-9.9 2.2z"/><path class="c66" d="M109.9 53.5l9.9-2.2-0.2 1.5-9.9 2.2z"/><path class="c67" d="M100 55.7l9.9-2.2-0.2 1.5-9.9 2.2z"/><path class="c69" d="M90.2 57.9l9.8-2.2-0.2 1.5-9.8 2.2z"/><path class="c71" d="M80.3 60.1l9.9-2.2-0.2 1.5-9.9 2.2z"/><path class="c73" d="M70.4 62.2l9.9-2.1-0.2 1.5-9.9 2.2z"/><path class="c74" d="M60.6 64.4l9.8-2.2-0.2 1.6-9.8 2.2z"/><path class="c68" d="M110.1 52l9.9-2.2-0.2 1.5-9.9 2.2z"/><path class="c70" d="M100.3 54.2l9.8-2.2-0.2 1.5-9.9 2.2z"/><path class="c72" d="M90.4 56.4l9.9-2.2-0.3 1.5-9.8 2.2z"/><path class="c74" d="M80.5 58.5l9.9-2.1-0.2 1.5-9.9 2.2z"/><path class="c76" d="M70.7 60.7l9.8-2.2-0.2 1.6-9.9 2.1z"/><path class="c77" d="M60.8 62.8l9.9-2.1-0.3 1.5-9.8 2.2z"/><path class="c71" d="M110.3 50.5l9.9-2.2-0.2 1.5-9.9 2.2z"/><path class="c73" d="M100.5 52.6l9.8-2.1-0.2 1.5-9.8 2.2z"/><path class="c75" d="M90.6 54.8l9.9-2.2-0.2 1.6-9.9 2.2z"/><path class="c77" d="M80.7 56.9l9.9-2.1-0.2 1.6-9.9 2.1z"/><path class="c79" d="M70.9 59l9.8-2.1-0.2 1.6-9.8 2.2z"/><path class="c80" d="M61 61.1l9.9-2.1-0.2 1.7-9.9 2.1z"/><path class="c74" d="M110.5 48.9l9.9-2.1-0.2 1.5-9.9 2.2z"/><path class="c76" d="M100.7 51.1l9.8-2.2-0.2 1.6-9.8 2.1z"/><path class="c78" d="M90.8 53.2l9.9-2.1-0.2 1.5-9.9 2.2z"/><path class="c80" d="M80.9 55.3l9.9-2.1-0.2 1.6-9.9 2.1z"/><path class="c82" d="M71.1 57.4l9.8-2.1-0.2 1.6-9.8 2.1z"/><path class="c84" d="M61.2 59.5l9.9-2.1-0.2 1.6-9.9 2.1z"/><path class="c77" d="M110.7 47.3l9.9-2.1-0.2 1.6-9.9 2.1z"/><path class="c79" d="M100.9 49.4l9.8-2.1-0.2 1.6-9.8 2.2z"/><path class="c81" d="M91 51.6l9.9-2.2-0.2 1.7-9.9 2.1z"/><path class="c83" d="M81.1 53.6l9.9-2-0.2 1.6-9.9 2.1z"/><path class="c85" d="M71.3 55.7l9.8-2.1-0.2 1.7-9.8 2.1z"/><path class="c87" d="M61.4 57.8l9.9-2.1-0.2 1.7-9.9 2.1z"/><path class="c80" d="M110.9 45.7l9.9-2.1-0.2 1.6-9.9 2.1z"/><path class="c82" d="M101.1 47.8l9.8-2.1-0.2 1.6-9.8 2.1z"/><path class="c84" d="M91.2 49.9l9.9-2.1-0.2 1.6-9.9 2.2z"/><path class="c86" d="M81.3 52l9.9-2.1-0.2 1.7-9.9 2z"/><path class="c88" d="M71.5 54l9.8-2-0.2 1.6-9.8 2.1z"/><path class="c90" d="M61.6 56.1l9.9-2.1-0.2 1.7-9.9 2.1z"/><path class="c83" d="M111.1 44.1l9.9-2.1-0.2 1.6-9.9 2.1z"/><path class="c85" d="M101.3 46.1l9.8-2-0.2 1.6-9.8 2.1z"/><path class="c87" d="M91.4 48.2l9.9-2.1-0.2 1.7-9.9 2.1z"/><path class="c89" d="M81.5 50.2l9.9-2-0.2 1.7-9.9 2.1z"/><path class="c91" d="M71.7 52.3l9.8-2.1-0.2 1.8-9.8 2z"/><path class="c93" d="M61.8 54.3l9.9-2-0.2 1.7-9.9 2.1z"/></g>
<path d="M61.8 108.5L121 89.4M61.8 108.5L17.9 82.7M17.9 82.7L17.9 27.5M71.7 105.3l0.6 0.8M91.4 99l0.6 0.8M111.1 92.6l0.6 0.8M54.5 104.2l-0.6 0.8M39.8 95.6l-0.6 0.8M25.2 87l-0.6 0.8M17.9 82.7h-1M17.9 69.9h-1M17.9 57.2h-1M17.9 44.4h-1M17.9 31.6h-1" stroke="#444" stroke-width="0.5" fill="none"/>
<text x="69.5" y="7.3" font-size="6.8" text-anchor="middle" fill="#262626">F5</text>
<text x="3" y="23.2" font-size="6.3" fill="#262626">×10<tspan font-size="4.4" dy="-2.9">7</tspan></text>
<text x="14.6" y="85.1" font-size="6.3" text-anchor="end" fill="#262626">0</text>
<text x="14.6" y="72.34" font-size="6.3" text-anchor="end" fill="#262626">2</text>
<text x="14.6" y="59.57" font-size="6.3" text-anchor="end" fill="#262626">4</text>
<text x="14.6" y="46.81" font-size="6.3" text-anchor="end" fill="#262626">6</text>
<text x="14.6" y="34.05" font-size="6.3" text-anchor="end" fill="#262626">8</text>
<text transform="translate(7.6 56.5) rotate(-90)" font-size="6.8" text-anchor="middle" fill="#262626">z</text>
<text x="18.9" y="95" font-size="6.3" text-anchor="middle" fill="#262626">20</text>
<text x="34.9" y="103.3" font-size="6.3" text-anchor="middle" fill="#262626">0</text>
<text x="48" y="111.4" font-size="6.3" text-anchor="middle" fill="#262626">-20</text>
<text x="33.2" y="118.2" font-size="6.8" text-anchor="middle" fill="#262626">y</text>
<text x="80.4" y="113.6" font-size="6.3" text-anchor="middle" fill="#262626">-20</text>
<text x="96.4" y="106.6" font-size="6.3" text-anchor="middle" fill="#262626">0</text>
<text x="117.8" y="100.3" font-size="6.3" text-anchor="middle" fill="#262626">20</text>
<text x="96" y="119.6" font-size="6.8" text-anchor="middle" fill="#262626">x</text>
<path d="M348.1 105.7L304.6 80.8M304.6 80.8L304.6 26.4M370.7 98L327.2 73.1M327.2 73.1L327.2 18.7M393.3 90.3L349.8 65.4M349.8 65.4L349.8 11M337 105.2L394.8 85.4M394.8 85.4L394.8 31M320.1 95.5L377.9 75.6M377.9 75.6L377.9 21.2M303.1 85.7L360.9 65.9M360.9 65.9L360.9 11.5M298.3 70.7L356.1 50.9M356.1 50.9L399.6 75.8M298.3 58.4L356.1 38.6M356.1 38.6L399.6 63.5M298.3 46.1L356.1 26.3M356.1 26.3L399.6 51.2M298.3 33.8L356.1 14M356.1 14L399.6 38.9" stroke="#e2e2e2" stroke-width="0.45" fill="none"/>
<path d="M399.6 88.1L356.1 63.2M298.3 83L356.1 63.2M356.1 63.2L356.1 8.8" stroke="#d8d8d8" stroke-width="0.45" fill="none"/>
<path d="M362.1 96.2l0 0M360.2 96.6l-0.2-0.1 0.2 0.1M364.9 94.9l0 0M367.2 94.3l-0.4-0.1 0.4-0.1 0 0.2M368.6 93.6l0.4-0.2 0.3 0.1-0.7 0.1M370.7 92.9l0 0M352.3 98.9l-0.7-0.2 0.7-0.3 0.2 0.1-0.1 0.3-0.1 0.1M356 97.6l-0.5-0.2 0.5 0.2 0 0M360.3 96.2l-0.3 0-0.4-0.2 0.6-0.2 0.2 0.3-0.1 0.1M365.6 94.4l-0.3 0 0.4-0.2-0.1 0.2M367.7 93.6l-0.3-0.1 0.3 0 0 0.1M369.8 92.9l-0.6-0.2-0.6-0.2-0.1-0.3 0.7 0.1 0.5 0.1 0.6-0.1-0.2 0.3-0.1 0.2-0.2 0.1M372.5 92l0 0M375.1 91.1l-0.5-0.3 0.5 0.2 0 0.1M354.5 97.7l-0.3 0.1 0.3-0.1 0 0M356.8 97.1l-0.4 0 0.4-0.2 0 0.2M357.9 96.7l-0.3-0.1-0.8-0.1-0.6-0.1 0-0.4-0.4 0-0.6 0.2 0 0.5-0.7-0.1-0.4-0.2-0.5-0.2-0.4 0.3-0.1 0.4-0.1 0.2-0.6 0.4-0.3-0.1-0.6-0.1-0.4-0.3-0.5-0.1-0.2-0.3-0.4-0.3-0.4 0-0.5 0.2-0.6 0-0.5-0.2-0.3-0.1-0.5 0.2 0.4 0.3 0.3 0 0.7 0 0.3 0-0.1 0.2-0.2 0.3 0.6-0.1 0.5 0.1 0.4 0.2 0.6 0.1 0.6 0.2 0.8 0.1-0.4 0.2-0.7-0.2-0.6 0-0.6 0.1-0.6 0.2 0.4-0.3-0.6-0.4-0.4-0.1-0.3 0-0.4-0.2-0.6-0.1 0.2 0.2 0.4 0.2-0.2 0.3-0.6 0-0.3-0.3-0.5-0.2-0.4 0-0.1 0.4-0.4-0.1 0-0.3-0.3-0.1-0.5 0.3-0.6-0.1 0.6-0.4-0.2-0.5-0.7 0-0.2 0.3-0.7 0.1-0.5 0.3-0.4-0.2 0.4-0.4 0.6-0.1 0.7-0.1 0.3-0.3-0.4-0.4-0.5 0.2-0.5 0.4-0.5 0.2-0.4-0.1 0.2-0.4-0.1-0.4-0.3 0-0.2 0.2-0.6 0.2 0.2-0.2-0.1-0.5-0.9-0.1-0.9-0.1-0.4-0.1 0.2-0.4 0.4-0.3-0.3-0.3-0.3 0.2-0.1 0.2-0.6 0 0.2-0.2-0.5-0.3-0.9 0-0.3-0.1-0.4-0.2 0-0.4 0-0.2-0.3-0.2-0.6 0.2-0.3-0.1-0.4-0.2 0.5-0.4 0.5-0.2 0.5-0.2 0.6 0.1 0.4 0 0.6 0 0.2-0.1-0.4-0.2-0.3-0.1-0.5 0-0.3 0-0.6-0.1-0.6-0.1-0.3 0.1-0.6-0.1 0.2 0.2 0.7 0.2-0.5 0.1-0.8-0.1-0.2-0.3 0.5-0.2-0.2-0.3 0.1-0.3-0.8 0.1-0.4-0.1 0-0.4 0.1-0.3-0.5-0.1-0.5 0 0.2-0.2 0-0.5-0.3-0.4-0.3 0.1-0.3 0.3-0.6 0.2 0.1 0.2-0.6 0.4-0.5 0-0.5-0.1-0.3 0-0.8-0.1-0.2 0.1 0.4-0.5-0.7-0.2-0.6 0-0.2-0.1 0.5-0.2 0.8 0.2 0.4 0 0.2-0.2-0.1-0.3-0.8-0.2 0.4-0.5-0.8-0.1-0.4-0.1-0.5 0.2-0.4 0-0.2-0.3 0.2-0.1 0.8 0.1 0.1-0.4-0.1-0.3-0.4-0.2-0.6-0.1 0.4-0.3 0.1-0.3-0.8-0.1-0.2-0.1-0.4-0.1-0.7 0 0 0.3-0.4 0.1-0.3-0.2 0.5-0.3-0.2-0.2 0.2-0.3 0.5-0.2-0.2-0.1-0.8 0-0.6-0.2 0.5-0.3-0.3-0.5-0.6 0-0.1 0.2-0.7 0.3-0.8 0-0.2 0.3-0.8-0.1 0-0.3 0.8 0 0.4-0.3 0.7-0.1 0.3-0.3 0.7 0 0.8 0.1 0.4 0 0.2-0.2-0.7-0.1 0.3-0.3 0.5 0 0.3 0 0.6-0.1 0.5 0 0.4 0 0.2-0.2 0.4-0.4 0.9 0 0.8-0.1M326.9 81.4l-0.3 0.3-0.7 0.1-0.2 0.4-0.6 0-0.8-0.1-0.5 0-0.4 0-0.4-0.3-0.5-0.2-0.1-0.3-0.4-0.2 0.8-0.1 0.1-0.2 0.7-0.3 0.1-0.3 0.6-0.3-0.1 0.4 0 0.4-0.6 0.3-0.4 0.2-0.2 0.3 0.5 0.2 0.4 0.2 0.4 0 0.1-0.4 0.3-0.4 0.6 0 0.5 0.2 0.3-0.3 0-0.2M372.7 84.9l0.4-0.3 0.3 0.1 0.7 0 0.7 0.2 0.7 0.1 0.2 0.3-0.4 0.2-0.7 0-0.4 0 0.1-0.2 0.2-0.3-0.7 0-0.3 0-0.7-0.1 0.1 0.3 0.3 0.3 0.6 0.1 0.3 0 0.5 0.1 0.5 0.2 0.5 0.1 0.2 0.1-0.5 0.2-0.5 0.2-0.5 0-0.4-0.2-0.4-0.2-0.4-0.2-0.5-0.2-0.2 0.4 0.7 0.1 0.4 0.3 0 0.3 0.8 0.1 0.8 0.1-0.6 0.2-0.4 0.4-0.4 0.2-0.6 0.2 0.6-0.2 0.8 0.1 0.4-0.3 0.7-0.1-0.2 0.3-0.1 0.2-0.5 0.5 0.2 0.4 0.6 0 0.3 0-0.2 0.4-0.3 0.1-0.6 0-0.5 0.2-0.5 0.2-0.5 0-0.5-0.1-0.2 0.3 0.7 0 0.4 0-0.6 0.4-0.6 0.1-0.6-0.2-0.1-0.4 0-0.3-0.9-0.1-0.2 0.1-0.2 0.3-0.6 0.1-0.4 0.3-0.3 0.2 0.5 0.2 0.4-0.1 0.3-0.2 0.5-0.3 0.3 0.1-0.1 0.3 0.4 0.3 0.6 0 0.4 0-0.1 0.4-0.5 0.2-0.3-0.3-0.6 0-0.5 0-0.4 0-0.6 0.2-0.4-0.1-0.7-0.1-0.2-0.3-0.5-0.2 0.1-0.3-0.7 0.1 0.4 0.3-0.2 0.3 0.4 0.2 0.6-0.1-0.3 0.3-0.5 0.2-0.4 0-0.4 0-0.3 0.2 0.3 0.3 0.7 0.1 0.4 0.2 0.3 0.3-0.1 0.4-0.2 0.1-0.3 0-0.5 0-0.3 0 0-0.4-0.4 0-0.6 0-0.4-0.1 0.4 0.4-0.2 0.2-0.5 0.1 0.4 0.2 0.7 0.1-0.4 0.3-0.9-0.1-0.4 0.1-0.4-0.1 0.2 0.5-0.5 0.3-0.4 0.3-0.5-0.1-0.3-0.3 0.3-0.1 0.4-0.1 0.1-0.4-0.1-0.4-0.6 0-0.4 0-0.4 0-0.7 0 0.1 0.3 0.2 0.3-0.3 0.1-0.5-0.1-0.4-0.1 0.2 0.5 0.6 0 0.3 0.1 0.5 0.2 0.3 0.2-0.3 0.5-0.6-0.2 0.1-0.4-0.5 0-0.4 0-0.6-0.1-0.5 0.2-0.6 0.1-0.5 0.3 0 0.4-0.6 0 0-0.3 0.4-0.3-0.7-0.3-0.6 0.1-0.6 0.1 0.3 0.2 0.4 0.1 0 0.3 0.2 0.3 0.7 0.1 0.2 0.1 0 0.2 0 0.2M371 92.1l-0.4 0.1 0.3-0.1 0.1 0M353.2 97.9l-0.3 0 0.3-0.1 0 0.1M360.7 95.4l-0.5 0 0.5-0.2 0 0.2M370.3 92.2l-0.4-0.1 0.4 0.1M371.2 91.7l-0.3-0.1 0.4 0-0.1 0.1M374.9 90.5l-0.4 0 0.1-0.2 0.3 0 0 0.2M349.5 98.7l0-0.4-0.3-0.2 0.5 0.1 0.5 0.3-0.7 0.2M354.3 97.1l0 0M370.3 91.7l-0.5 0 0.1-0.2 0.6 0-0.2 0.2M375.5 89.8l0 0M378.2 89l-0.5-0.3 0.4 0.2 0.1 0.1M348.6 98.7l-1-0.1 0.1-0.4 0.5-0.2 0.3 0.1 0.1 0.5 0 0.1M376.7 89.1l0 0M358.9 94.7l0.6 0-0.5-0.2-0.1 0.2M366 92.3l0.4 0.1 0.3-0.3-0.8 0 0.1 0.2M376.8 88.7l0 0M357.5 94.9l0.4-0.1 0.2-0.2-0.4 0.1-0.2 0.2M362 93.3l-0.3-0.3-0.2 0 0.5 0.3M363.9 92.7l0.4 0 0.6-0.2 0.4-0.2 0.3-0.2-0.6 0-0.4 0.2-0.6 0.2-0.1 0.2M374.1 89.2l-0.4-0.2-0.5 0 0.5 0.3 0.4-0.1M376 88.6l-0.3-0.1 0.3 0 0 0.1M376.9 88.2l-0.6-0.2 0.6-0.3 0.3 0 0.4 0.3-0.7 0.2M352.1 96.4l0 0M355.1 95.3l0.3 0-0.4-0.2 0.1 0.2M358.3 94.2l0.4 0.1 0.5-0.2-0.3-0.2-0.5 0.2-0.1 0.1M352.1 96l0-0.4-0.4 0 0.4 0.4M353.2 95.6l0.3 0-0.3-0.1 0 0.1M354.2 95.3l0.4-0.2-0.3 0-0.1 0.2M357.3 94.2l0.4 0-0.3-0.2-0.1 0.2M371.8 89.2l0.8-0.1-0.4-0.2-0.4 0.3 0 0M373.3 88.7l0.4 0.1 0.1-0.3-0.5 0.1 0 0.1M345.1 98.1l-0.8-0.2 0.4-0.1 0.4 0.2 0 0.1M355.5 94.4l0 0M357.6 93.7l0.7-0.1-0.2-0.2-0.5 0.3 0 0M359.2 93.2l0.3 0.1-0.5-0.3 0.2 0.2M364.9 91.2l0.9-0.1-0.2-0.5-0.4 0.1-0.9 0-0.6 0.1 0.3 0.4 0.9 0M372.3 88.7l0.3 0-0.5-0.3 0.2 0.3M377.1 87.3l-0.5-0.1 0.3-0.1 0.2 0.2M377.9 86.9l-0.2-0.2 0.2 0.2M353 94.9l0 0M360.9 92.2l0 0M363.1 91.5l0 0M367.7 89.9l0.4 0-0.4-0.2 0 0.2M370.9 88.8l0.3-0.1-0.3 0.1M346 97l0.4 0-0.3-0.4-0.4 0.1 0.3 0.3M351.7 95l0.5-0.1 0.2-0.1-0.4 0-0.3 0.2M355.2 93.8l0.5-0.1-0.5 0 0 0.1M362.2 91.4l0 0M367.8 89.5l0.4 0-0.5-0.3 0.1 0.3M369 89.1l0.3-0.4-0.7 0.1 0.4 0.3M370.1 88.7l0 0M371.1 88.4l0 0M348.6 95.7l0.7 0-0.1-0.2-0.4-0.1-0.2 0.3M350.1 95.2l0 0M352.2 94.5l0 0M353.2 94.1l0.5-0.1-0.5-0.2-0.3 0.1 0.3 0.2M359 92.1l0.7-0.1 0.5-0.2-0.6 0.1-0.6 0.1 0 0.1M371.2 88l0.3-0.1-0.4-0.1 0.1 0.2M376.7 86.2l-0.4 0 0.2-0.2 0.5 0-0.3 0.2M343.4 97.2l-0.2-0.1 0.2 0.1M345.9 96.3l0.2 0-0.3-0.2 0.1 0.2M346.8 96l0.5 0-0.4-0.2-0.1 0.2M355.5 93l0 0M364 90.1l0.6-0.2-0.6 0.1 0 0.1M366.7 89.2l0 0M369.9 88l0.6-0.1-0.6 0.1M371.9 87.4l0.2-0.1-0.5-0.2 0.3 0.3M376.8 85.7l-0.5-0.2 0.5 0.2 0 0M341.4 97.5l0 0M349.2 94.8l0.3-0.1-0.6-0.2 0.3 0.3M351.4 94l0 0M358.3 91.6l0.6-0.1-0.6 0.1 0 0M361.9 90.4l0 0M370.4 87.5l0.3 0.1 0.1-0.2-0.7-0.2 0.3 0.3M345.7 95.6l-0.1-0.3-0.5 0 0.6 0.3M368.2 87.9l0.4-0.1-0.4 0.1M371.7 86.7l0 0M377 84.9l-0.3 0.1 0.3-0.1 0 0M355.9 91.7l0 0M366.8 88l0.3-0.1-0.3 0.1M368.5 87.4l0.4 0.1-0.3-0.1-0.1 0M371.7 86.3l0.3 0.1 0.3-0.3-0.6-0.1 0.2-0.5-0.5 0.1-0.5 0.1-0.6 0-0.3 0.1-0.1 0.4 0.9 0.1 0.9 0M340.8 96.7l-0.2-0.2 0.2 0.2M346.4 94.6l0.5-0.1-0.4 0.1-0.1 0M349.7 93.5l0 0M356.1 91.3l0 0M364 88.6l0 0M365.1 88.2l0 0M369.9 86.6l0 0M340.9 96.2l-0.3-0.2 0.4 0.1-0.1 0.1M366.8 87.3l0.5-0.2-0.5 0.2 0 0M340 96.2l0.2-0.2-0.2 0.2M342.2 95.3l0.5 0 0.2-0.2-0.6 0-0.1 0.2M344 94.7l0.3 0.1 0.1-0.2-0.3 0-0.1 0.1M367.9 86.5l0 0M339 96.1l-0.5-0.2 0.5-0.3 0.5-0.2 0.5 0 0.2 0.3-1.1 0 0 0.4-0.1 0M344.2 94.3l0.3 0.1-0.4-0.4-0.3-0.3-0.4 0.1-0.6 0.1 1 0.2 0.4 0.2M349 92.6l0 0M369.1 85.8l0.3-0.1-0.3 0.1M373.5 84.3l-0.4 0.1M373.7 84.2l-0.2 0.1M341.7 94.8l0.4-0.2-0.6-0.1-0.3 0.1 0.5 0.2M364 87.1l0 0M337.7 95.8l0 0M344.5 93.5l0 0M345.5 93.1l0.6-0.2 0.3-0.1-0.3 0.1-0.5 0.2-0.1 0M338.5 95.3l-0.5 0 0.2-0.2 0.5 0-0.2 0.2M337.6 95.3l-0.5 0 0.2-0.2 0.3 0.2M339.4 94.5l0.3-0.1-0.6-0.2 0.3 0.3M336.5 95.2l0 0M343.3 92.8l0 0M343.4 92.4l0 0M337.4 94.2l-0.3 0 0.3-0.1 0 0.1M339 93.5l0.7 0.1-0.2-0.2-0.3-0.1-0.2 0.2M337.7 93.2l0.4 0-0.2-0.1-0.2 0.1M339 92.8l-0.1-0.3-0.5-0.1-1-0.1 0.1 0.3 0.5 0 0.5 0 0.5 0.2M341.1 92.1l0.4-0.1-0.4 0 0 0.1M343.2 91.3l0.4-0.1-0.3 0.1-0.1 0M335 93.8l-0.5-0.2 0.5 0.2 0 0M339.3 92l0 0M338.4 91.9l0 0M333.8 93.2l-0.9-0.1 0.4-0.2 0.5 0.2 0 0.1M335.8 92.4l0 0M338 91.3l0.3-0.1-0.3 0.1M340.3 90.5l0 0M332.7 92.5l-0.4 0 0.6-0.4 0.4 0.1-0.6 0.3M337.9 90.6l0 0M331.8 92.5l-0.4 0 0.2-0.1 0.2 0.1M335.9 90.9l0 0M332.5 91.9l-0.4 0-0.4-0.3 0.7-0.2 0.2 0.3-0.1 0.2M334.4 90.7l0.4 0.1 0.3-0.3-0.7 0.1 0 0.1M335.1 90.5l0.6-0.2 0.8 0-0.2-0.2-0.4-0.2-0.7 0.1-0.8 0.1 0.7 0.4 0 0M331.2 91.2l-0.5-0.3 0.9 0-0.4 0.3M331.8 90.5l-0.7 0.1-0.4-0.1 0.5-0.2 0.6 0.2 0 0M335 89l0.4 0.2-0.2-0.2-0.3-0.1 0.1 0.1M330 90.5l-0.4 0 0.3-0.1 0.1 0.1M332.9 89.4l0.3 0-0.3 0M333.9 89.1l0.3-0.1 0.2-0.1-0.3 0-0.2 0.2M335.7 88.4l0.5-0.1-0.5 0.1 0 0M327.7 90.1l0 0M328.6 89.4l0.4 0-0.3-0.1-0.1 0.1M329.8 89l0.4 0.1-0.1-0.2-0.4-0.2 0.2-0.2-0.5-0.3-0.4 0.2-0.2 0.2 0.6 0.2 0.4 0.2M330.3 88.5l0.4-0.1 0.2-0.1-0.4 0-0.2 0.2M330.7 88l0 0M325.1 89.1l0 0M330.4 87.3l0.2-0.4-0.7 0.1-0.5-0.1-0.5 0-0.4 0.3-0.6 0.1 0.3 0.2 0.4 0.1 0.5-0.1 0.2-0.1 0.5-0.2 0.6 0.1M325.3 88.7l-0.5-0.2 0.4-0.3 0.3 0.1-0.1 0.4-0.1 0M326.9 88.2l0 0M331.7 86.2l0 0M329.9 86.4l0.5-0.1 0.1-0.1-0.2 0-0.4 0.2M327.4 86.9l0.5-0.1 0.2-0.1-0.4 0-0.3 0.2M331.5 85.5l0 0M326 87.2l-0.4 0-0.6-0.2 0.1-0.3 0.5 0.1 0.4 0.2 0 0.2M328.9 86l0.2-0.4-0.5 0.2 0.3 0.2M324.5 87.3l-0.3 0-0.1-0.2 0.7 0-0.3 0.2M331 84.9l0 0M323.1 87l-0.4 0-0.1-0.3 0.8 0 0.5-0.1-0.2 0.3-0.6 0.1M324.8 86.5l-0.6 0 0.3-0.2 0.3 0 0 0.2M326.4 85.8l0.4 0-0.3-0.4-0.5-0.1 0.4 0.5M327.8 85l0.3 0 0.2-0.2-0.5 0.1 0 0.1M322.8 86.3l-0.2-0.1 0.2 0.1M326.6 85l0.4-0.1-0.4 0.1M328.5 84.3l0.3 0.1-0.3-0.1 0 0M324.6 85.3l0.6 0-0.4-0.2-0.2 0.2M327.5 84.3l0.3-0.1-0.3 0 0 0.1M329.7 83.6l0 0M321.6 86.1l-0.3 0 0.2-0.4-0.8-0.2 0.3-0.2 0.6-0.1 0.6-0.2 0.7 0.2-0.7 0.3-0.1 0.3-0.5 0.3M327.6 83.9l0.3 0-0.3-0.1 0 0.1M328.9 83.1l0 0M324.1 84.4l0.4 0-0.3-0.4-0.5 0-0.1 0.2 0.5 0.2M327.5 83.2l0.6-0.1-0.5-0.3-0.1 0.4 0 0M324.8 83.8l0.5-0.2 0.1-0.4-0.4 0-0.5 0.2 0.3 0.4M325.9 83.4l0.2-0.1-0.2 0.1M321.6 84.7l-0.3-0.1 0.2-0.4 0.5 0.2-0.4 0.3M322.7 82.9l-0.5 0 0.1-0.2 0.4 0 0 0.2M325 81.9l0.3-0.1-0.3 0 0 0.1M321.7 82.8l-0.4 0-0.1-0.3 0.5 0.1 0 0.2M322.7 82.4l-0.3 0 0.4-0.1-0.1 0.1M321.7 82.3l-0.7-0.1 0.8-0.3-0.1 0.4 0 0M320.6 81.2l-0.5 0.2 0.5-0.2 0 0M323.9 79.3l0-0.1" fill="none" stroke="#4846ea" stroke-width="0.35" opacity="1.0"/>
<path d="M362.6 99l-0.7 0-0.6 0.1-1 0-0.4 0 0.2-0.4-0.4 0-0.6 0-0.6-0.1 0.1 0.3 0.5 0.1-0.1 0.3-0.5 0-0.6-0.2-0.4-0.2-0.3-0.1 0.3 0.4-0.6 0.4-0.3 0.3 0.1 0.3-0.4 0.2-0.2-0.3-0.4-0.2-0.7 0-0.4 0.3-0.7-0.1-0.5-0.2-0.2 0-0.6 0.1-0.4 0.3-0.2 0.3 0 0.5-0.9 0-0.3 0.1-0.6-0.2-0.5 0.3-0.5 0.1-1-0.1 0-0.4-0.7 0.1-0.5 0.2-0.4 0.3-0.5-0.2 0.6-0.3 0.2-0.3-0.6-0.2-0.5 0-0.1 0.2-0.5 0.2-0.2-0.3-0.7 0-0.8-0.2-0.4-0.2-0.5-0.1-0.7 0.1 0.3-0.3-0.1-0.5-0.7 0-0.6 0.2-0.8-0.2-0.5-0.1-0.6 0.1-0.6-0.2 0.4-0.1 0.5 0 0.2-0.2-0.1-0.4-0.3 0-0.5 0-0.7-0.2-0.4-0.2-0.6-0.2-0.3-0.2 0.1-0.4-0.5-0.2-0.7-0.2-0.6-0.1 0-0.4-0.4 0-0.6 0.1-0.2-0.1 0.4-0.3-0.6-0.3-0.4-0.2-0.9 0-0.1-0.4 0.1-0.4-0.6-0.2-0.3-0.2-0.4 0-0.4-0.1-0.7-0.1-0.2-0.4-0.5 0-0.3 0 0.3-0.5 0.9 0.1 0.6-0.2-0.8-0.1-0.9-0.1-0.6-0.2-0.7-0.1-0.3-0.2-0.7-0.1-0.2 0 0-0.4-0.5 0-0.3-0.1-0.3-0.2 0.7 0.1 0.5 0 0.6 0 0.5 0.1-0.2-0.2 0-0.3-0.8 0-0.3-0.2-0.3-0.2-0.8 0.1-0.5 0.2-0.2-0.1-0.2-0.2 0.7 0 0.3-0.3-0.2-0.2-0.5-0.1-0.4-0.2-0.5-0.2-0.4 0-0.5 0.2-0.3-0.1 0-0.4-0.5 0-0.5 0-0.5-0.1-0.2-0.1 0.4-0.1 0.3 0 0.2-0.1-0.4-0.3-0.2-0.3 0.3-0.3 0.2-0.4-0.3-0.2-0.6 0-0.4 0-0.6-0.1-0.4-0.2-0.4 0-0.6 0 0.1-0.3 0.7-0.1-0.3-0.5 0-0.4-0.5-0.1 0 0.3-0.1 0.2-0.4 0-0.4-0.2-0.3-0.3 0.2-0.4-0.4-0.3-0.1-0.3-0.4-0.1-0.6 0.2-0.3 0 0.1-0.4 0.5-0.4 0.5-0.2 0.4-0.3-0.7 0.1-0.6 0-1 0.1-0.2-0.2 0.1-0.4 0.5 0 0.3 0 0.4 0.1 0.6 0-0.6-0.4 0.2-0.3 0.2-0.2-0.4-0.2-0.5-0.2 0.2-0.2 0.5-0.2 0.4-0.3-0.2-0.1-0.7 0.1-0.2 0 0.3-0.4 0.4-0.3 0.6 0.3 0.6-0.1 0.4-0.2 0.5-0.2-0.2-0.1-0.4-0.1-0.8-0.1-0.4 0.3-0.3-0.1 0.7-0.2 0.4-0.3 0.8 0.2 0.3 0 0.6-0.2 0.2-0.1-0.4-0.3-0.5 0-0.6 0 0.2-0.2 0.2-0.3-0.7 0-0.3 0-0.2-0.3 0.7 0 0.5 0 0.6 0.1 0.1 0.4 0.7 0.1 0.3 0.3 0.5 0.1-0.3-0.2-0.3-0.3 0.2-0.2 0.5-0.2-0.4-0.2-0.4 0.2-0.8 0-0.3-0.3 0.2-0.2 0.6-0.1 0.6-0.2 0.3-0.3 0.5 0.1-0.1 0.4 0.4 0 0.8 0-0.2 0.3 0.7-0.1 0-0.1M321.9 78.1l-0.6 0 0.2-0.3M376.5 81.7l0.2 0.4-0.4 0.4 0.8 0 0.6-0.1 0.3 0.1-0.5 0.2-0.4 0.3-0.7 0.1 0.5 0.4 0.3 0.1 0.5 0 0.3-0.1 0.4-0.2-0.6-0.1 0.1-0.2 0.5 0 0.1 0.3 0.8 0 0.2 0.1-0.4 0.2-0.6 0.2-0.1 0.2 0.7 0.2 0.2 0.1 0.1-0.5 0.4 0.1 0.5 0.2 0.5 0.2-0.6 0.2-0.5 0 0.1 0.2 0.2 0.3 0.2 0.2 0.3 0.3 0.9-0.1 0.2 0.1 0.2 0.2-0.6 0.1-0.5 0.2-0.5 0.2 0.5 0.3 0.5-0.2 0.3 0.1-0.7 0.1 0.2 0.3 0.3 0 0.5-0.2 0.6 0.1 0 0.3-0.6 0.1-0.5 0.2 0.3 0.2 0.7-0.1 0.6 0.2 0 0.4-0.5 0.4-0.6 0.2-0.1 0.4 0.3 0.2 0.4-0.3 0.2-0.3 0.4 0.1 0.4 0.2-0.4 0.4-0.6 0.1-0.1 0.4-0.2 0.3 0.8 0.1-0.4 0.2-0.5 0.2-0.5 0-0.4 0-0.6 0-0.7 0.2 0.7 0.2 0.5 0.2-0.2 0.2-0.4 0.3-0.7 0.1-0.5 0-0.4-0.2-0.4-0.1-0.4 0.3-0.5 0.1-0.4 0.3 0.7 0.1 0.4 0 0.3-0.3 0.7-0.1 0.4 0.1-0.1 0.4-0.3 0.1-0.7 0-0.6 0.1-0.8-0.1-0.3 0.1 0.4 0.3-0.2 0.2-0.3 0.3-0.4 0.3-0.4 0-0.2-0.3-0.3-0.3-0.4 0.4 0.3 0.4-0.7 0.2-1 0-0.9-0.1 0.2 0.3 0.3 0.1 0.7 0 0.8 0.1-0.4 0.4-0.7 0.1-0.4 0.3-0.2 0.1-0.3-0.3-0.7-0.1-0.4-0.2-0.5-0.2-0.2-0.3-0.4 0.1 0.5 0.2-0.1 0.4 0.8 0.1-0.2 0.2-0.5 0-0.4 0-0.5 0 0.2-0.2-0.4-0.2-0.5 0.2 0.4 0.3 0.3 0 0.4 0.1-0.3 0.5-0.2 0.4-0.8 0-0.2 0.4-0.5 0.2-0.6 0.2-0.5 0.1-0.6-0.2-0.5 0.1-0.4 0.2-0.8 0.1-0.3 0-0.5 0-0.4 0.2-0.6 0.2-0.2 0.3-0.6 0-0.3 0-0.6 0.2 0.5 0.2 0.5-0.2 0.3 0.1-0.2 0.4-0.1 0.1M363.7 98.6l0 0M378.6 93.5l0 0M363.9 98.2l-0.2-0.1 0.3-0.3 0.9 0-0.3 0.3-0.7 0.1M367 97.1l0.9 0 0.5-0.2 0.1-0.3 0.3-0.4 0.5-0.2-0.3-0.3-0.4 0.1 0 0.3-0.5 0.2-0.3 0.3-0.4 0-0.5 0-0.5-0.1-0.4 0-0.1 0.2 0.5 0.2 0.4 0.1 0.2 0.1M371.4 95.7l-0.3 0 0.3-0.1 0 0.1M382.4 91.8l0 0M352.9 101.7l0 0M355.6 100.7l-0.3-0.1 0.3 0 0 0.1M358.8 99.7l-0.5 0 0.1-0.2 0.5 0-0.1 0.2M380.4 92.2l0 0M381.5 91.8l0 0M360.6 98.5l0.3 0 0.2-0.4-0.8 0-0.4 0.3 0.3 0.1 0.4 0M364.5 97.2l0 0M367.1 96.3l0.3 0 0.1-0.4 0.5-0.2-0.4-0.3-0.5-0.2 0.3 0.3-0.1 0.3-0.7 0.1 0.5 0.4M351 101.5l-0.3-0.1 0.3 0.1 0 0M353.7 100.6l-0.2-0.1 0.2 0.1M361.9 97.7l0.3 0.1 0.4-0.3-0.7 0.1 0 0.1M363.5 97.2l0.3 0 0.1-0.2-0.6-0.1 0.2 0.3M364.4 96.9l0.5-0.1 0.5-0.1-0.5-0.3-0.3 0-0.3 0.1 0.1 0.4M374.2 93.5l0 0M356.1 99.3l0.4 0.1-0.2-0.2-0.2 0.1M371.6 94l0.6-0.2-0.5 0.2-0.1 0M372.3 93.8l0.6-0.1-0.6 0.1M375.4 92.8l0.4-0.2-0.4 0.1 0 0.1M379.6 91.3l0 0M350.9 100.8l0.5 0-0.4-0.3-0.1 0.3M383.2 89.9l-0.4-0.1 0.4-0.1 0 0.2M349.1 101l0.1-0.4-0.7 0-0.2 0.3 0.8 0.1M350.2 100.6l0.2-0.4 0.7 0.1 0.4 0-0.4-0.3-0.4-0.1-0.3 0.3-0.6 0.1 0.4 0.3M380.4 89.9l0.9-0.1 0.5-0.2-0.2-0.2-0.6 0.2-0.5 0.2-0.1 0.1M379.5 89.9l0.3-0.1-0.3 0.1M347.8 100.4l0.5 0.1 0.1-0.3-0.7-0.1 0.1 0.3M348.8 100l0.3 0-0.3 0M380.3 89.2l0.7-0.1-0.3-0.2-0.4 0.3 0 0M347.1 100.3l0 0M380.8 88.7l0.3 0-0.2-0.1-0.1 0.1M347.1 99.9l0.3 0 0.3-0.2-0.8 0 0.2 0.2M381.2 87.8l0.3 0.1-0.3-0.1 0 0M344 100.2l0.5 0.1-0.3-0.3-0.2 0.2M345.3 99.8l0.4 0.2-0.2-0.3-0.5-0.2 0.3 0.3M342.8 99.9l0.3-0.1-0.3 0.1M345.1 99.1l0 0M382.8 86.2l-0.4 0.1 0.3-0.1 0.3-0.1-0.2 0.1M341.1 100.2l0 0M343 99.5l0.3-0.1 0-0.3-0.3-0.2-0.5 0.2-0.2 0.2 0.7 0.2M382.5 85.6l-0.3 0.1 0.2-0.2 0.1 0.1M379.4 86.3l0 0M339.4 99.8l-0.2-0.1-0.2-0.2 0.3 0.1 0.1 0.2M341.9 98.8l0 0M381.7 85.1l-0.3-0.1 0.3 0.1 0 0M339.2 98.2l0 0M378.7 84.7l0.4-0.1 0.3-0.2-0.5 0.1-0.2 0.2M336.4 98.5l0 0M337.4 98.1l0.7-0.1 0.4-0.2-0.9-0.1-0.4 0.1 0.2 0.3M335.7 97.6l0 0M334.5 97.4l0 0M334.5 96.2l0.4 0 0.4-0.3-0.2-0.1-0.5 0.2-0.1 0.2M374.9 82.3l0.3-0.1-0.3 0 0 0.1M334 95.2l0 0M332.5 95l0.4-0.1-0.3 0-0.1 0.1M331.4 95.2l-0.5 0-0.2-0.3 0.5-0.2 0.2 0.3 0 0.2M332.4 94.3l0 0M330 94.9l-0.3 0 0.4-0.1-0.1 0.1M328.8 94.1l0 0M327.8 94.1l0 0M327.2 93.3l-0.3 0 0.6-0.2-0.3 0.2M329.8 92.3l0 0M326.4 92.8l-0.3-0.2 0.4 0.1-0.1 0.1M327.9 91.9l0.7-0.3-0.6 0.2-0.1 0.1M324.5 91.7l-0.4 0 0.4-0.1 0 0.1M326.2 90.2l0 0M323.6 89.3l0.3 0.1-0.2-0.1-0.1 0M322.1 88.7l0.4-0.1-0.4 0.1M320.4 88.4l-0.3-0.1 0.3 0.1M319.4 88.3l-0.6-0.3-0.1-0.1 0.4 0 0.4 0.3-0.1 0.1M320.4 87.5l0 0M316.5 86.6l0 0M319.1 85.7l0 0M315.6 85.6l-0.5 0.1 0.2-0.2 0.3 0.1M314.3 84.9l0 0M316.9 83.6l0 0M317 83.2l-0.1-0.2 0.1 0.2M317.4 82.3l-0.2-0.3-0.9 0.2 0.3 0.1 0.8 0M314.6 83.1l-0.4-0.1 0.5-0.1-0.1 0.2M313.7 82.1l0 0M314.4 81.6l-0.4 0 0.2-0.2 0.2 0.1 0 0.1M320.6 79.4l0 0M315.9 80l-0.3-0.2 0.3 0.1 0 0.1M315.9 79.5l0 0M320.4 77.7l-0.4 0.1 0.3-0.2 0.3 0-0.2 0.1" fill="none" stroke="#416afe" stroke-width="0.35" opacity="1.0"/>
<path d="M361.8 101.1l-1.5-0.3-1.1 0.6-1.4 0.1-2.2 0.2-0.8 0-0.9 0.2-1.5 0.3-1.3 0.4-0.8 0.6-0.3 0.1-0.5-0.7-1.1-0.5-1 0.8-1.3 0-0.9-0.6-1.4-0.3-0.5-0.3-0.4-0.4-0.4 0.2-0.8 0.5-0.5-0.1-0.7-0.6-1.7 0.2-0.7-0.3-0.3-0.8-1.1-0.1-0.7-0.1-0.7-0.7-1.4-0.4 0-0.9-1.4-0.4-1.2-0.4-0.3-0.4-0.3-0.3-0.8-0.7-0.8-0.1-1.3 0 0.2-0.6 0.2-0.4-1.2-0.1-0.6-0.2-1.7-0.3-0.3-0.8-0.2-0.8-1-0.6-1.2-0.4-0.8-0.6-1.2-0.4-0.4-0.2-0.5-0.5-0.5-0.1-1.1-0.2-0.3-0.6-1.1-0.6-0.3-0.9-1-0.5-1.1-0.5-1.4-0.4-0.5-0.7-0.4-0.8-0.4-0.8 0.3-0.5-1.3-0.8 1.1-0.5 0.6-0.8 0.4-0.4 0.5-0.3 0.4-0.9-0.4-0.7 0.4-0.5 1.2-0.5 1.1 0 1.1 0.1 1.1-0.6-0.3-1M364.7 100.1l-1.6 0-0.1 0.5M367 99.3l-1 0.1-0.5 0.4M370.5 98.1l-1.1-0.5-0.6 0.2-0.4 0.6-0.8 0.6M375.1 96.5l-1.9 0-1.2 0.5-0.1 0.6M383.1 92l0.7 0-0.4-0.2-0.3 0.2M378.9 81.1l1.9 0.2 0.6 0.7 0.2 0.5-0.4 0.4 1.1 0 0.8 0.2 0.9 0.6 0.3 0.4 0.2 0.3-0.1 0.9 0.8 0.6 0.6 0.2 0.9 0.2 0.8 0.6 0.3 0.8-0.4 0.5-1.3 0.1-0.6 0.2 1.1 0.5 0.4 0.8 1.1 0.5-0.6 0.3-0.6 0.8-1.6 0.2-0.2 0.6-0.2 0.4-1.3 0.4-1.3 0.5-1.1 0.5-1.4 0.4-1.2 0.5-1.1 0.5-0.3 0.4" fill="none" stroke="#2d8ef1" stroke-width="0.4" opacity="1.0"/>
<path d="M351.1 104.7l-2.1-0.2-1.2-0.2-0.6 0-1.2 0.1-1.1-0.2-1.3-0.5-1.1-0.1-0.8-0.1-1.5-0.4-0.9-0.5-1.2-0.5-0.6-0.2-1-0.2-0.4-0.6-1-0.6-0.6 0.2-0.4 0.4-0.4-0.1-0.4-0.8-1.5-0.4-0.4-0.7-1.5-0.4-1.1-0.5-0.5-0.7-0.8-0.6-1.1-0.5-0.7-0.7-1.5-0.2-0.9-0.5-0.3-0.2-1.1-0.4 0-0.9-1.4-0.4-1.2-0.5-0.5-0.2-0.6-0.3-1.2-0.5-0.2-0.8-0.3-0.8-1.8 0-0.5-0.1-0.3-0.3-1.4-0.8-0.3-0.8-0.5-0.7-1.4-0.5 0.1-0.9-1-0.1-0.9-0.1-0.1-0.5-0.3-1.1-0.5-0.7 0.3-0.8-0.9-0.5-0.7-0.1 1.5-0.6 0-0.8 1-1 1.3-0.4 0.1-0.3M380.5 79.5l0.6 0.8 1.1 0.5 0.4 0.8 1.8 0.2 1.2 0.5 0.4 0.4-1.3 0.4 0.3 0.3 0.9 0.6 1.7 0.3 0 0.5-0.5 0.5 1.4 0.4 1 0.6-0.2 0.6 0.6 1-0.1 0.5-0.3 1 0 1.2-1.2 0.4-0.3 1.1 0 0" fill="none" stroke="#13acd8" stroke-width="0.4" opacity="1.0"/>
<path d="M348.8 105.5l-1-0.1-1.7 0.2-1.2-0.5-2-0.1-2.4-0.2-1.2-0.5-0.8-0.6-0.7-0.4-2.1-0.4-0.9-0.6-0.9-0.5-1.2-0.5-1.1-0.4-1.5-0.5-0.7-0.6-1-0.6-0.2-0.3-0.4-0.4-0.9-0.5-0.6-0.1-0.9-0.3-1.1-0.5-0.9-0.6-0.8-0.6-0.9-0.6-1.4-0.4-0.6-0.7-1-0.5-0.4-0.8-1.1-0.5-0.8-0.2-0.5-0.2-1-0.5-0.3-0.4-0.2-0.4-1.3-0.4-1.1-0.5-1.2-0.5 0-0.9-1.1-0.5-1.1-0.5-0.5-0.7-0.7-0.6-0.3-0.8-1.2-0.5 0.3-0.8-0.6-0.8-0.8-0.7-0.5-0.7 0.2-0.9M305.3 80.6l0.9-0.1 0.4-0.3M381.7 79.2l1.1 0.4 0.5 0.8 1.4 0.4 1.4 0.4 0.3 0.5 0.8 0.9 1.3 0.4 0.4 0.8 1.1 0.5 0.6 0.7 0.5 0.6 1.3 0.5 0.8 0.7-0.9 0.7 0.1 0.4 0 0.8 0.7 0.4 0.5 0.2-0.6 0.9 0.1 0.1" fill="none" stroke="#3fc093" stroke-width="0.4" opacity="1.0"/>
<path d="M346.9 106.2l-1.6 0.2-1.4-0.1-0.9-0.6-1.5-0.4-1.9-0.2-0.9-0.2-0.8-0.1-0.9-0.5-1.2-0.5-1.5-0.4-0.7-0.6-1.1-0.2M391.2 83.3l0.2 0.5 1.1 0.6 0 0.8 0.9 0.6 0.9 0.6 0.1 0.8 0.9 0.6-0.6 1 0.9 0.5 0.2 0.1M331.8 102.2l-0.2-0.5-1-0.6-1.2-0.3M389.5 82.3l0.1 0.4 0.9 0.2M387.6 81.2l0.7 0.4M385.3 79.9l0.6 0.5 0.6 0.2M325.7 98.7l-1.3-0.7M322.7 97l-1-0.8-1.1-0.5-0.2 0M314.7 92.4l-0.7-0.6-1.1-0.4M312.7 91.2l-0.6-0.5-1-0.6-1-0.4M308 88.6l-1-0.6-0.8-0.6-0.1-0.9-1.5-0.3 0.2-0.7-0.8-0.9-1.4-0.4 0.6-0.8 0.4-0.5-0.9-0.5-0.5-0.7 0.1-0.1" fill="none" stroke="#8acb52" stroke-width="0.4" opacity="1.0"/>
<path d="M344 107.1l-1.9-0.2-0.3-0.2-0.6-0.4-2.1-0.1-0.7-0.7-1.2-0.2M395.8 85.9l0.2 0.8 0.4 0.7 0.2 0.9 0.9 0.5M303.3 85.9l-0.6-0.9-1.2-0.4 0-0.9-1-0.6 0.1-0.9" fill="none" stroke="#dabd2a" stroke-width="0.4" opacity="1.0"/>
<path d="M342.8 107.6l-1.8-0.3-1.1-0.5-0.1 0M397.4 86.9l1.1 0.7 0.2 0.8M298.8 83.3l0.9-0.7 0-0.1" fill="none" stroke="#fdce36" stroke-width="0.4" opacity="1.0"/>
<g stroke-width="0.6" stroke-linejoin="round"><path class="c84" d="M355.8 22.3l1.3-6.1-1-4.4-1.3 6.7z"/><path class="c75" d="M354.5 27.8l1.3-5.5-1-3.8-1.3 6.1z"/><path class="c67" d="M353.2 31.2l1.3-3.4-1-3.2-1.3 4.3z"/><path class="c60" d="M351.9 36.2l1.3-5-1-2.3-1.2 3.9z"/><path class="c55" d="M350.6 37.9l1.3-1.7-0.9-3.4-1.3 1.8z"/><path class="c51" d="M349.4 40.9l1.2-3-0.9-3.3-1.3 3.4z"/><path class="c46" d="M348.1 43.9l1.3-3-1-2.9-1.3 3.5z"/><path class="c42" d="M346.8 44.9l1.3-1-1-2.4-1.3 2.5z"/><path class="c39" d="M345.5 48.1l1.3-3.2-1-0.9-1.3 1.8z"/><path class="c37" d="M344.2 48.6l1.3-0.5-1-2.3-1.2 1z"/><path class="c36" d="M342.9 50.8l1.3-2.2-0.9-1.8-1.3 1.6z"/><path class="c34" d="M341.7 51.9l1.2-1.1-0.9-2.4-1.3-0.5z"/><path class="c33" d="M340.4 53l1.3-1.1-1-4-1.3 2.4zM339.1 52.6l1.3 0.4-1-2.7-1.3-0.2z"/><path class="c32" d="M337.8 55.3l1.3-2.7-1-2.5-1.3 1.2zM336.5 54.6l1.3 0.7-1-4-1.3-0.6zM335.2 55.2l1.3-0.6-1-3.9-1.2 2.3z"/><path class="c31" d="M333.9 56.4l1.3-1.2-0.9-2.2-1.3 0.8zM332.7 56l1.2 0.4-0.9-2.6-1.3-0.1zM331.4 56.4l1.3-0.4-1-2.3-1.3 0.2zM330.1 57.4l1.3-1-1-2.5-1.3-0.2zM328.8 58.6l1.3-1.2-1-3.7-1.3-0.3zM327.5 57.1l1.3 1.5-1-5.2-1.2 2.3zM326.2 59.6l1.3-2.5-0.9-1.4-1.3 0.7z"/><path class="c30" d="M325 58.9l1.2 0.7-0.9-3.2-1.3-0.2z"/><path class="c31" d="M323.7 58.5l1.3 0.4-1-2.7-1.3 0.1z"/><path class="c32" d="M322.4 59.8l1.3-1.3-1-2.2-1.3 0.3z"/><path class="c31" d="M321.1 60.8l1.3-1-1-3.2-1.3 0.5zM319.8 61.1l1.3-0.3-1-3.7-1.2 1.1zM318.5 61.7l1.3-0.6-0.9-2.9-1.3 0.6z"/><path class="c32" d="M317.2 60.3l1.3 1.4-0.9-2.9-1.3-1.7z"/><path class="c34" d="M316 60.1l1.2 0.2-0.9-3.2-1.3-0.2zM314.7 61.7l1.3-1.6-1-3.2-1.3 1.3z"/><path class="c75" d="M300.6 41.4l1.2 3.3-0.9-2.4-1.3-5.9z"/><path class="c84" d="M299.3 36.9l1.3 4.5-1-5-1.3-3.1z"/><path class="c79" d="M356.7 24.3l1.3-4.4-0.9-3.7-1.3 6.1z"/><path class="c70" d="M355.5 30.9l1.2-6.6-0.9-2-1.3 5.5z"/><path class="c62" d="M354.2 35l1.3-4.1-1-3.1-1.3 3.4z"/><path class="c56" d="M352.9 37.2l1.3-2.2-1-3.8-1.3 5z"/><path class="c51" d="M351.6 41l1.3-3.8-1-1-1.3 1.7z"/><path class="c46" d="M350.3 44.9l1.3-3.9-1-3.1-1.2 3z"/><path class="c42" d="M349 46l1.3-1.1-0.9-4-1.3 3z"/><path class="c39" d="M347.8 48.9l1.2-2.9-0.9-2.1-1.3 1z"/><path class="c36" d="M346.5 50.9l1.3-2-1-4-1.3 3.2z"/><path class="c33" d="M345.2 53.2l1.3-2.3-1-2.8-1.3 0.5z"/><path class="c31" d="M343.9 53.6l1.3-0.4-1-4.6-1.3 2.2z"/><path class="c30" d="M342.6 55.5l1.3-1.9-1-2.8-1.2 1.1z"/><path class="c29" d="M341.3 55.1l1.3 0.4-0.9-3.6-1.3 1.1zM340.1 56.4l1.2-1.3-0.9-2.1-1.3-0.4z"/><path class="c28" d="M338.8 57l1.3-0.6-1-3.8-1.3 2.7z"/><path class="c27" d="M337.5 57.3l1.3-0.3-1-1.7-1.3-0.7zM336.2 58.7l1.3-1.4-1-2.7-1.3 0.6zM334.9 58.2l1.3 0.5-1-3.5-1.3 1.2zM333.6 60l1.3-1.8-1-1.8-1.2-0.4zM332.3 59.5l1.3 0.5-0.9-4-1.3 0.4zM331.1 59.8l1.2-0.3-0.9-3.1-1.3 1zM329.8 59.8l1.3 0-1-2.4-1.3 1.2zM328.5 59.9l1.3-0.1-1-1.2-1.3-1.5zM327.2 60.7l1.3-0.8-1-2.8-1.3 2.5zM325.9 62l1.3-1.3-1-1.1-1.2-0.7zM324.6 63l1.3-1-0.9-3.1-1.3-0.4zM323.4 63.9l1.2-0.9-0.9-4.5-1.3 1.3z"/><path class="c26" d="M322.1 63.6l1.3 0.3-1-4.1-1.3 1z"/><path class="c27" d="M319.5 62.9l1.3 1.3-1-3.1-1.3 0.6z"/><path class="c56" d="M304.1 50.4l1.3 4.9-1-3.2-1.3-3.6z"/><path class="c64" d="M302.8 46.7l1.3 3.7-1-1.9-1.3-3.8z"/><path class="c71" d="M301.5 43.2l1.3 3.5-1-2-1.2-3.3z"/><path class="c79" d="M300.2 39.4l1.3 3.8-0.9-1.8-1.3-4.5z"/><path class="c76" d="M357.7 27.8l1.3-6.5-1-1.4-1.3 4.4z"/><path class="c66" d="M356.4 32.8l1.3-5-1-3.5-1.2 6.6z"/><path class="c58" d="M355.1 36.7l1.3-3.9-0.9-1.9-1.3 4.1z"/><path class="c52" d="M353.9 41.2l1.2-4.5-0.9-1.7-1.3 2.2z"/><path class="c47" d="M352.6 43.1l1.3-1.9-1-4-1.3 3.8z"/><path class="c42" d="M351.3 47.4l1.3-4.3-1-2.1-1.3 3.9z"/><path class="c38" d="M350 48.5l1.3-1.1-1-2.5-1.3 1.1z"/><path class="c35" d="M348.7 51.4l1.3-2.9-1-2.5-1.2 2.9z"/><path class="c32" d="M347.4 52.2l1.3-0.8-0.9-2.5-1.3 2z"/><path class="c30" d="M346.2 53.7l1.2-1.5-0.9-1.3-1.3 2.3z"/><path class="c27" d="M344.9 57.1l1.3-3.4-1-0.5-1.3 0.4z"/><path class="c25" d="M343.6 57.9l1.3-0.8-1-3.5-1.3 1.9z"/><path class="c24" d="M342.3 59.3l1.3-1.4-1-2.4-1.3-0.4zM341 59.6l1.3-0.3-1-4.2-1.2 1.3zM339.7 59.4l1.3 0.2-0.9-3.2-1.3 0.6zM338.4 60.4l1.3-1-0.9-2.4-1.3 0.3z"/><path class="c23" d="M337.2 60.1l1.2 0.3-0.9-3.1-1.3 1.4zM335.9 61.8l1.3-1.7-1-1.4-1.3-0.5z"/><path class="c22" d="M334.6 62.5l1.3-0.7-1-3.6-1.3 1.8zM333.3 62.3l1.3 0.2-1-2.5-1.3-0.5z"/><path class="c23" d="M332 63.8l1.3-1.5-1-2.8-1.2 0.3zM330.7 63l1.3 0.8-0.9-4-1.3 0z"/><path class="c24" d="M329.5 62.8l1.2 0.2-0.9-3.2-1.3 0.1zM328.2 63.7l1.3-0.9-1-2.9-1.3 0.8z"/><path class="c23" d="M326.9 63.4l1.3 0.3-1-3-1.3 1.3zM325.6 65.5l1.3-2.1-1-1.4-1.3 1z"/><path class="c46" d="M306.3 56.4l1.3 2-0.9-0.4-1.3-2.7z"/><path class="c53" d="M305.1 53.4l1.2 3-0.9-1.1-1.3-4.9z"/><path class="c75" d="M301.2 41.7l1.3 5.6-1-4.1-1.3-3.8z"/><path class="c73" d="M358.7 29l1.3-5.7-1-2-1.3 6.5z"/><path class="c63" d="M357.4 35.7l1.3-6.7-1-1.2-1.3 5z"/><path class="c55" d="M356.1 39.3l1.3-3.6-1-2.9-1.3 3.9z"/><path class="c49" d="M354.8 42.7l1.3-3.4-1-2.6-1.2 4.5z"/><path class="c44" d="M353.5 45.8l1.3-3.1-0.9-1.5-1.3 1.9z"/><path class="c39" d="M352.3 49l1.2-3.2-0.9-2.7-1.3 4.3z"/><path class="c34" d="M351 52.1l1.3-3.1-1-1.6-1.3 1.1z"/><path class="c31" d="M349.7 52.9l1.3-0.8-1-3.6-1.3 2.9z"/><path class="c29" d="M348.4 54.4l1.3-1.5-1-1.5-1.3 0.8z"/><path class="c27" d="M347.1 57.4l1.3-3-1-2.2-1.2 1.5z"/><path class="c24" d="M345.8 58.6l1.3-1.2-0.9-3.7-1.3 3.4z"/><path class="c22" d="M344.6 59.1l1.2-0.5-0.9-1.5-1.3 0.8z"/><path class="c21" d="M343.3 61.2l1.3-2.1-1-1.2-1.3 1.4zM340.7 61.4l1.3-1.4-1-0.4-1.3-0.2zM339.4 61.7l1.3-0.3-1-2-1.3 1z"/><path class="c20" d="M338.1 62.5l1.3-0.8-1-1.3-1.2-0.3zM336.8 62.6l1.3-0.1-0.9-2.4-1.3 1.7zM335.6 62.8l1.2-0.2-0.9-0.8-1.3 0.7zM334.3 64.5l1.3-1.7-1-0.3-1.3-0.2z"/><path class="c19" d="M333 65.8l1.3-1.3-1-2.2-1.3 1.5zM331.7 64.9l1.3 0.9-1-2-1.3-0.8z"/><path class="c20" d="M330.4 66.8l1.3-1.9-1-1.9-1.2-0.2z"/><path class="c19" d="M329.1 66.6l1.3 0.2-0.9-4-1.3 0.9z"/><path class="c20" d="M327.9 67.4l1.2-0.8-0.9-2.9-1.3-0.3zM326.6 66.8l1.3 0.6-1-4-1.3 2.1z"/><path class="c50" d="M306 55.1l1.3 4-1-2.7-1.2-3z"/><path class="c56" d="M304.7 52l1.3 3.1-0.9-1.7-1.3-1.9z"/><path class="c63" d="M303.5 48.2l1.2 3.8-0.9-0.5-1.3-4.2z"/><path class="c72" d="M302.2 42.6l1.3 5.6-1-0.9-1.3-5.6z"/><path class="c70" d="M359.6 32.2l1.3-7.3-0.9-1.6-1.3 5.7z"/><path class="c60" d="M358.4 35.7l1.2-3.5-0.9-3.2-1.3 6.7z"/><path class="c53" d="M357.1 40.3l1.3-4.6-1 0-1.3 3.6z"/><path class="c46" d="M355.8 44.8l1.3-4.5-1-1-1.3 3.4z"/><path class="c41" d="M354.5 48.5l1.3-3.7-1-2.1-1.3 3.1z"/><path class="c35" d="M353.2 52.2l1.3-3.7-1-2.7-1.2 3.2z"/><path class="c31" d="M351.9 54.5l1.3-2.3-0.9-3.2-1.3 3.1z"/><path class="c28" d="M350.7 56.1l1.2-1.6-0.9-2.4-1.3 0.8z"/><path class="c26" d="M349.4 58.3l1.3-2.2-1-3.2-1.3 1.5z"/><path class="c23" d="M348.1 58.1l1.3 0.2-1-3.9-1.3 3z"/><path class="c22" d="M346.8 59.7l1.3-1.6-1-0.7-1.3 1.2z"/><path class="c21" d="M345.5 60.3l1.3-0.6-1-1.1-1.2 0.5z"/><path class="c20" d="M344.2 61.4l1.3-1.1-0.9-1.2-1.3 2.1z"/><path class="c18" d="M343 64.3l1.2-2.9-0.9-0.2-1.3-1.2z"/><path class="c17" d="M339.1 64.5l1.3 0.4-1-3.2-1.3 0.8z"/><path class="c18" d="M337.8 64.7l1.3-0.2-1-2-1.3 0.1zM336.5 66l1.3-1.3-1-2.1-1.2 0.2z"/><path class="c17" d="M335.2 66.7l1.3-0.7-0.9-3.2-1.3 1.7z"/><path class="c16" d="M334 66.8l1.2-0.1-0.9-2.2-1.3 1.3z"/><path class="c17" d="M332.7 66.9l1.3-0.1-1-1-1.3-0.9zM331.4 67.9l1.3-1-1-2-1.3 1.9z"/><path class="c40" d="M308.3 61.1l1.3 3.4-1-1.9-1.3-3.5z"/><path class="c61" d="M304.4 49.4l1.3 5.4-1-2.8-1.2-3.8z"/><path class="c71" d="M303.1 44.7l1.3 4.7-0.9-1.2-1.3-5.6z"/><path class="c67" d="M360.6 32.6l1.3-4.6-1-3.1-1.3 7.3z"/><path class="c59" d="M359.3 37.2l1.3-4.6-1-0.4-1.2 3.5z"/><path class="c51" d="M358 42.5l1.3-5.3-0.9-1.5-1.3 4.6z"/><path class="c44" d="M356.8 46.2l1.2-3.7-0.9-2.2-1.3 4.5z"/><path class="c38" d="M355.5 49l1.3-2.8-1-1.4-1.3 3.7z"/><path class="c33" d="M354.2 51.7l1.3-2.7-1-0.5-1.3 3.7z"/><path class="c29" d="M352.9 54.7l1.3-3-1 0.5-1.3 2.3z"/><path class="c25" d="M351.6 58.6l1.3-3.9-1-0.2-1.2 1.6z"/><path class="c22" d="M350.3 59l1.3-0.4-0.9-2.5-1.3 2.2z"/><path class="c21" d="M349.1 59.9l1.2-0.9-0.9-0.7-1.3-0.2z"/><path class="c20" d="M347.8 62.8l1.3-2.9-1-1.8-1.3 1.6z"/><path class="c18" d="M346.5 63.2l1.3-0.4-1-3.1-1.3 0.6z"/><path class="c17" d="M345.2 64.3l1.3-1.1-1-2.9-1.3 1.1z"/><path class="c16" d="M343.9 64.5l1.3-0.2-1-2.9-1.2 2.9z"/><path class="c38" d="M309.2 63.8l1.3 1.4-0.9-0.7-1.3-3.4z"/><path class="c43" d="M308 60l1.2 3.8-0.9-2.7-1.3-2.6z"/><path class="c51" d="M306.7 55.2l1.3 4.8-1-1.5-1.3-3.7z"/><path class="c59" d="M305.4 53.3l1.3 1.9-1-0.4-1.3-5.4z"/><path class="c67" d="M304.1 48.1l1.3 5.2-1-3.9-1.3-4.7z"/><path class="c65" d="M361.6 34.8l1.3-4.5-1-2.3-1.3 4.6z"/><path class="c57" d="M360.3 39.1l1.3-4.3-1-2.2-1.3 4.6z"/><path class="c49" d="M359 43.9l1.3-4.8-1-1.9-1.3 5.3z"/><path class="c42" d="M357.7 49.3l1.3-5.4-1-1.4-1.2 3.7z"/><path class="c36" d="M356.4 52.3l1.3-3-0.9-3.1-1.3 2.8z"/><path class="c31" d="M355.2 55.6l1.2-3.3-0.9-3.3-1.3 2.7z"/><path class="c27" d="M353.9 57.5l1.3-1.9-1-3.9-1.3 3z"/><path class="c23" d="M352.6 59.9l1.3-2.4-1-2.8-1.3 3.9z"/><path class="c20" d="M351.3 61.7l1.3-1.8-1-1.3-1.3 0.4z"/><path class="c18" d="M350 63.6l1.3-1.9-1-2.7-1.2 0.9z"/><path class="c17" d="M348.7 63l1.3 0.6-0.9-3.7-1.3 2.9z"/><path class="c15" d="M347.5 65.7l1.2-2.7-0.9-0.2-1.3 0.4zM346.2 64.6l1.3 1.1-1-2.5-1.3 1.1zM344.9 65.5l1.3-0.9-1-0.3-1.3 0.2z"/><path class="c14" d="M343.6 67.2l1.3-1.7-1-1-1.3 0.2z"/><path class="c41" d="M308.9 62.7l1.3 2-1-0.9-1.2-3.8z"/><path class="c48" d="M307.6 57.9l1.3 4.8-0.9-2.7-1.3-4.8z"/><path class="c56" d="M306.4 53.2l1.2 4.7-0.9-2.7-1.3-1.9z"/><path class="c65" d="M305.1 48.1l1.3 5.1-1 0.1-1.3-5.2z"/><path class="c63" d="M362.5 36.3l1.3-5.2-0.9-0.8-1.3 4.5z"/><path class="c55" d="M361.3 40.2l1.2-3.9-0.9-1.5-1.3 4.3z"/><path class="c48" d="M360 45.3l1.3-5.1-1-1.1-1.3 4.8z"/><path class="c40" d="M358.7 50.7l1.3-5.4-1-1.4-1.3 5.4z"/><path class="c34" d="M357.4 52.4l1.3-1.7-1-1.4-1.3 3z"/><path class="c29" d="M356.1 55.2l1.3-2.8-1-0.1-1.2 3.3z"/><path class="c25" d="M354.8 57.6l1.3-2.4-0.9 0.4-1.3 1.9z"/><path class="c22" d="M353.6 59.8l1.2-2.2-0.9-0.1-1.3 2.4z"/><path class="c19" d="M352.3 61.6l1.3-1.8-1 0.1-1.3 1.8z"/><path class="c17" d="M351 63.8l1.3-2.2-1 0.1-1.3 1.9z"/><path class="c15" d="M349.7 66.2l1.3-2.4-1-0.2-1.3-0.6z"/><path class="c13" d="M348.4 66.6l1.3-0.4-1-3.2-1.2 2.7zM347.1 66.2l1.3 0.4-0.9-0.9-1.3-1.1zM345.9 67.6l1.2-1.4-0.9-1.6-1.3 0.9z"/><path class="c12" d="M344.6 69.6l1.3-2-1-2.1-1.3 1.7z"/><path class="c34" d="M311.2 65.8l1.3 3.6-1-2.2-1.3-2.5z"/><path class="c40" d="M309.9 61.9l1.3 3.9-1-1.1-1.3-2z"/><path class="c47" d="M308.6 59l1.3 2.9-1 0.8-1.3-4.8z"/><path class="c55" d="M307.3 55.3l1.3 3.7-1-1.1-1.2-4.7z"/><path class="c64" d="M306 50.9l1.3 4.4-0.9-2.1-1.3-5.1z"/><path class="c62" d="M363.5 37.6l1.3-5.7-1-0.8-1.3 5.2z"/><path class="c53" d="M362.2 43.2l1.3-5.6-1-1.3-1.2 3.9z"/><path class="c46" d="M360.9 46.3l1.3-3.1-0.9-3-1.3 5.1z"/><path class="c39" d="M359.7 50.6l1.2-4.3-0.9-1-1.3 5.4z"/><path class="c33" d="M358.4 53.2l1.3-2.6-1 0.1-1.3 1.7z"/><path class="c29" d="M357.1 57l1.3-3.8-1-0.8-1.3 2.8z"/><path class="c25" d="M355.8 58.7l1.3-1.7-1-1.8-1.3 2.4z"/><path class="c21" d="M354.5 62.1l1.3-3.4-1-1.1-1.2 2.2z"/><path class="c18" d="M353.2 64.5l1.3-2.4-0.9-2.3-1.3 1.8z"/><path class="c16" d="M352 64.2l1.2 0.3-0.9-2.9-1.3 2.2z"/><path class="c14" d="M350.7 67.1l1.3-2.9-1-0.4-1.3 2.4z"/><path class="c12" d="M349.4 66.5l1.3 0.6-1-0.9-1.3 0.4zM348.1 68.2l1.3-1.7-1 0.1-1.3-0.4z"/><path class="c11" d="M346.8 68.6l1.3-0.4-1-2-1.2 1.4z"/><path class="c10" d="M345.5 69.8l1.3-1.2-0.9-1-1.3 2z"/><path class="c20" d="M316 73.3l1.3 2-1-1.5-1.3-1.4z"/><path class="c24" d="M314.7 70.8l1.3 2.5-1-0.9-1.3-1.7z"/><path class="c32" d="M312.1 67.6l1.3 2.9-0.9-1.1-1.3-3.6z"/><path class="c39" d="M310.9 64.9l1.2 2.7-0.9-1.8-1.3-3.9z"/><path class="c46" d="M309.6 60.5l1.3 4.4-1-3-1.3-2.9z"/><path class="c53" d="M308.3 56.8l1.3 3.7-1-1.5-1.3-3.7z"/><path class="c62" d="M307 52l1.3 4.8-1-1.5-1.3-4.4z"/><path class="c61" d="M364.5 38.3l1.3-6.3-1-0.1-1.3 5.7z"/><path class="c52" d="M363.2 42.8l1.3-4.5-1-0.7-1.3 5.6z"/><path class="c44" d="M361.9 48.9l1.3-6.1-1 0.4-1.3 3.1z"/><path class="c38" d="M360.6 50.8l1.3-1.9-1-2.6-1.2 4.3z"/><path class="c33" d="M359.3 55l1.3-4.2-0.9-0.2-1.3 2.6z"/><path class="c27" d="M358.1 59.2l1.2-4.2-0.9-1.8-1.3 3.8z"/><path class="c23" d="M356.8 61.5l1.3-2.3-1-2.2-1.3 1.7z"/><path class="c19" d="M355.5 62.5l1.3-1-1-2.8-1.3 3.4z"/><path class="c16" d="M354.2 65.6l1.3-3.1-1-0.4-1.3 2.4z"/><path class="c14" d="M352.9 66.6l1.3-1-1-1.1-1.2-0.3z"/><path class="c13" d="M351.6 66.5l1.3 0.1-0.9-2.4-1.3 2.9z"/><path class="c12" d="M350.4 69.2l1.2-2.7-0.9 0.6-1.3-0.6z"/><path class="c10" d="M349.1 70.3l1.3-1.1-1-2.7-1.3 1.7zM347.8 69.3l1.3 1-1-2.1-1.3 0.4zM346.5 69.8l1.3-0.5-1-0.7-1.3 1.2z"/><path class="c9" d="M345.2 72.5l1.3-2.7-1 0-1.3 1.2z"/><path class="c19" d="M317 74.4l1.2 1.6-0.9-0.7-1.3-2z"/><path class="c23" d="M315.7 72.3l1.3 2.1-1-1.1-1.3-2.5z"/><path class="c31" d="M313.1 67.2l1.3 4.3-1-1-1.3-2.9z"/><path class="c38" d="M311.8 64.9l1.3 2.3-1 0.4-1.2-2.7z"/><path class="c44" d="M310.5 60.7l1.3 4.2-0.9 0-1.3-4.4z"/><path class="c52" d="M309.3 57.8l1.2 2.9-0.9-0.2-1.3-3.7z"/><path class="c61" d="M308 52.9l1.3 4.9-1-1-1.3-4.8z"/><path class="c60" d="M365.4 39.8l1.3-6-0.9-1.8-1.3 6.3z"/><path class="c51" d="M364.2 45.1l1.2-5.3-0.9-1.5-1.3 4.5z"/><path class="c43" d="M362.9 49.9l1.3-4.8-1-2.3-1.3 6.1z"/><path class="c37" d="M361.6 52.9l1.3-3-1-1-1.3 1.9z"/><path class="c32" d="M360.3 55.7l1.3-2.8-1-2.1-1.3 4.2z"/><path class="c26" d="M359 59.1l1.3-3.4-1-0.7-1.2 4.2z"/><path class="c21" d="M357.7 61.7l1.3-2.6-0.9 0.1-1.3 2.3z"/><path class="c18" d="M356.5 64.1l1.2-2.4-0.9-0.2-1.3 1z"/><path class="c15" d="M355.2 66.5l1.3-2.4-1-1.6-1.3 3.1z"/><path class="c13" d="M353.9 67.3l1.3-0.8-1-0.9-1.3 1z"/><path class="c12" d="M352.6 69l1.3-1.7-1-0.7-1.3-0.1z"/><path class="c10" d="M351.3 70.7l1.3-1.7-1-2.5-1.2 2.7z"/><path class="c8" d="M350 71.4l1.3-0.7-0.9-1.5-1.3 1.1zM348.8 71.3l1.2 0.1-0.9-1.1-1.3-1z"/><path class="c9" d="M347.5 72.1l1.3-0.8-1-2-1.3 0.5z"/><path class="c8" d="M346.2 71.9l1.3 0.2-1-2.3-1.3 2.7z"/><path class="c15" d="M319.2 76.5l1.3 1.1-1 0-1.3-1.6z"/><path class="c19" d="M317.9 75.1l1.3 1.4-1-0.5-1.2-1.6z"/><path class="c22" d="M316.6 73.1l1.3 2-0.9-0.7-1.3-2.1z"/><path class="c26" d="M315.4 71.4l1.2 1.7-0.9-0.8-1.3-0.8z"/><path class="c31" d="M314.1 68.6l1.3 2.8-1 0.1-1.3-4.3z"/><path class="c37" d="M312.8 66l1.3 2.6-1-1.4-1.3-2.3z"/><path class="c44" d="M311.5 62.9l1.3 3.1-1-1.1-1.3-4.2z"/><path class="c52" d="M310.2 57.3l1.3 5.6-1-2.2-1.2-2.9z"/><path class="c60" d="M308.9 54.8l1.3 2.5-0.9 0.5-1.3-4.9z"/><path class="c59" d="M366.4 40.7l1.3-4.7-1-2.2-1.3 6z"/><path class="c50" d="M365.1 45.1l1.3-4.4-1-0.9-1.2 5.3z"/><path class="c43" d="M363.8 49.1l1.3-4-0.9 0-1.3 4.8z"/><path class="c36" d="M362.6 54.4l1.2-5.3-0.9 0.8-1.3 3z"/><path class="c30" d="M361.3 58.3l1.3-3.9-1-1.5-1.3 2.8z"/><path class="c25" d="M360 60.4l1.3-2.1-1-2.6-1.3 3.4z"/><path class="c21" d="M358.7 63.7l1.3-3.3-1-1.3-1.3 2.6z"/><path class="c17" d="M357.4 65.7l1.3-2-1-2-1.2 2.4z"/><path class="c14" d="M356.1 67.3l1.3-1.6-0.9-1.6-1.3 2.4z"/><path class="c12" d="M354.9 68.7l1.2-1.4-0.9-0.8-1.3 0.8z"/><path class="c11" d="M353.6 68.8l1.3-0.1-1-1.4-1.3 1.7z"/><path class="c9" d="M352.3 70.7l1.3-1.9-1 0.2-1.3 1.7z"/><path class="c8" d="M351 70.6l1.3 0.1-1 0-1.3 0.7zM349.7 73.2l1.3-2.6-1 0.8-1.2-0.1z"/><path class="c7" d="M348.4 71.8l1.3 1.4-0.9-1.9-1.3 0.8zM347.1 74.5l1.3-2.7-0.9 0.3-1.3-0.2z"/><path class="c22" d="M317.6 74.1l1.3 2.4-1-1.4-1.3-2z"/><path class="c26" d="M316.3 72.2l1.3 1.9-1-1-1.2-1.7z"/><path class="c31" d="M315 69l1.3 3.2-0.9-0.8-1.3-2.8z"/><path class="c36" d="M313.8 67.5l1.2 1.5-0.9-0.4-1.3-2.6z"/><path class="c42" d="M312.5 64.4l1.3 3.1-1-1.5-1.3-3.1z"/><path class="c50" d="M311.2 60.6l1.3 3.8-1-1.5-1.3-5.6z"/><path class="c59" d="M309.9 54.7l1.3 5.9-1-3.3-1.3-2.5zM367.4 40.3l1.3-4.9-1 0.6-1.3 4.7z"/><path class="c50" d="M366.1 47.6l1.3-7.3-1 0.4-1.3 4.4z"/><path class="c42" d="M364.8 50.6l1.3-3-1-2.5-1.3 4z"/><path class="c36" d="M363.5 54.1l1.3-3.5-1-1.5-1.2 5.3z"/><path class="c30" d="M362.2 57.1l1.3-3-0.9 0.3-1.3 3.9z"/><path class="c25" d="M361 59.7l1.2-2.6-0.9 1.2-1.3 2.1z"/><path class="c21" d="M359.7 62.2l1.3-2.5-1 0.7-1.3 3.3z"/><path class="c17" d="M358.4 65.1l1.3-2.9-1 1.5-1.3 2z"/><path class="c14" d="M357.1 68.3l1.3-3.2-1 0.6-1.3 1.6z"/><path class="c11" d="M355.8 69.7l1.3-1.4-1-1-1.2 1.4zM354.5 68.9l1.3 0.8-0.9-1-1.3 0.1z"/><path class="c10" d="M353.3 70.5l1.2-1.6-0.9-0.1-1.3 1.9z"/><path class="c8" d="M352 72.8l1.3-2.3-1 0.2-1.3-0.1z"/><path class="c7" d="M350.7 73.3l1.3-0.5-1-2.2-1.3 2.6z"/><path class="c6" d="M349.4 74.7l1.3-1.4-1-0.1-1.3-1.4zM348.1 74.1l1.3 0.6-1-2.9-1.3 2.7z"/><path class="c21" d="M318.6 76l1.3 1-1-0.5-1.3-2.4z"/><path class="c30" d="M316 71l1.3 3.1-1-1.9-1.3-3.2z"/><path class="c36" d="M314.7 67.8l1.3 3.2-1-2-1.2-1.5z"/><path class="c42" d="M313.4 64.7l1.3 3.1-0.9-0.3-1.3-3.1z"/><path class="c49" d="M312.2 60.9l1.2 3.8-0.9-0.3-1.3-3.8z"/><path class="c58" d="M310.9 54.5l1.3 6.4-1-0.3-1.3-5.9zM368.3 42.4l1.3-5-0.9-2-1.3 4.9z"/><path class="c50" d="M367.1 46.1l1.2-3.7-0.9-2.1-1.3 7.3z"/><path class="c41" d="M365.8 52.2l1.3-6.1-1 1.5-1.3 3z"/><path class="c35" d="M364.5 55.9l1.3-3.7-1-1.6-1.3 3.5z"/><path class="c30" d="M363.2 58.2l1.3-2.3-1-1.8-1.3 3z"/><path class="c25" d="M361.9 61.1l1.3-2.9-1-1.1-1.2 2.6z"/><path class="c21" d="M360.6 65.1l1.3-4-0.9-1.4-1.3 2.5z"/><path class="c17" d="M359.4 66.5l1.2-1.4-0.9-2.9-1.3 2.9z"/><path class="c14" d="M358.1 67.6l1.3-1.1-1-1.4-1.3 3.2z"/><path class="c12" d="M356.8 69.6l1.3-2-1 0.7-1.3 1.4z"/><path class="c10" d="M355.5 71.2l1.3-1.6-1 0.1-1.3-0.8zM354.2 71.7l1.3-0.5-1-2.3-1.2 1.6z"/><path class="c8" d="M352.9 72.2l1.3-0.5-0.9-1.2-1.3 2.3z"/><path class="c6" d="M350.4 75.1l1.3-2.3-1 0.5-1.3 1.4zM347.8 76.6l1.3-2.6-1 0.1-1.3 1.3z"/><path class="c16" d="M320.8 78.1l1.3 1.3-1-0.3-1.2-2.1z"/><path class="c20" d="M319.5 76.6l1.3 1.5-0.9-1.1-1.3-1z"/><path class="c24" d="M318.3 74.3l1.2 2.3-0.9-0.6-1.3-1.9z"/><path class="c29" d="M317 71.4l1.3 2.9-1-0.2-1.3-3.1z"/><path class="c35" d="M315.7 69l1.3 2.4-1-0.4-1.3-3.2z"/><path class="c41" d="M314.4 66.3l1.3 2.7-1-1.2-1.3-3.1z"/><path class="c49" d="M313.1 60.9l1.3 5.4-1-1.6-1.2-3.8z"/><path class="c59" d="M311.8 55.2l1.3 5.7-0.9 0-1.3-6.4z"/><path class="c57" d="M369.3 42.9l1.3-5.2-1-0.3-1.3 5z"/><path class="c50" d="M368 47.2l1.3-4.3-1-0.5-1.2 3.7z"/><path class="c41" d="M366.7 53.2l1.3-6-0.9-1.1-1.3 6.1z"/><path class="c34" d="M365.5 54.9l1.2-1.7-0.9-1-1.3 3.7z"/><path class="c29" d="M364.2 60.3l1.3-5.4-1 1-1.3 2.3z"/><path class="c24" d="M362.9 63.1l1.3-2.8-1-2.1-1.3 2.9z"/><path class="c20" d="M361.6 65l1.3-1.9-1-2-1.3 4z"/><path class="c16" d="M360.3 67.8l1.3-2.8-1 0.1-1.2 1.4z"/><path class="c14" d="M359 69l1.3-1.2-0.9-1.3-1.3 1.1z"/><path class="c12" d="M357.8 69.3l1.2-0.3-0.9-1.4-1.3 2z"/><path class="c10" d="M356.5 72.4l1.3-3.1-1 0.3-1.3 1.6z"/><path class="c8" d="M355.2 73.6l1.3-1.2-1-1.2-1.3 0.5zM353.9 73l1.3 0.6-1-1.9-1.3 0.5z"/><path class="c7" d="M352.6 75.4l1.3-2.4-1-0.8-1.2 0.6z"/><path class="c6" d="M351.3 75.1l1.3 0.3-0.9-2.6-1.3 2.3zM350 75.8l1.3-0.7-0.9 0-1.3-1.1z"/><path class="c5" d="M348.8 77l1.2-1.2-0.9-1.8-1.3 2.6z"/><path class="c16" d="M321.8 78.9l1.3 0.9-1-0.4-1.3-1.3z"/><path class="c20" d="M320.5 76.1l1.3 2.8-1-0.8-1.3-1.5z"/><path class="c24" d="M319.2 75.2l1.3 0.9-1 0.5-1.2-2.3z"/><path class="c29" d="M317.9 73.3l1.3 1.9-0.9-0.9-1.3-2.9z"/><path class="c35" d="M316.7 68.4l1.2 4.9-0.9-1.9-1.3-2.4z"/><path class="c42" d="M315.4 64.9l1.3 3.5-1 0.6-1.3-2.7z"/><path class="c49" d="M314.1 61.2l1.3 3.7-1 1.4-1.3-5.4z"/><path class="c59" d="M312.8 56.6l1.3 4.6-1-0.3-1.3-5.7z"/><path class="c58" d="M370.3 42.3l1.3-5.8-1 1.2-1.3 5.2z"/><path class="c49" d="M369 49.2l1.3-6.9-1 0.6-1.3 4.3z"/><path class="c41" d="M367.7 52.8l1.3-3.6-1-2-1.3 6z"/><path class="c34" d="M366.4 57.8l1.3-5-1 0.4-1.2 1.7z"/><path class="c29" d="M365.1 59.2l1.3-1.4-0.9-2.9-1.3 5.4z"/><path class="c24" d="M363.9 63.3l1.2-4.1-0.9 1.1-1.3 2.8z"/><path class="c20" d="M362.6 65.1l1.3-1.8-1-0.2-1.3 1.9z"/><path class="c16" d="M361.3 68.5l1.3-3.4-1-0.1-1.3 2.8z"/><path class="c13" d="M360 69.6l1.3-1.1-1-0.7-1.3 1.2z"/><path class="c12" d="M358.7 70.1l1.3-0.5-1-0.6-1.2 0.3z"/><path class="c10" d="M357.4 71.5l1.3-1.4-0.9-0.8-1.3 3.1z"/><path class="c8" d="M356.2 74l1.2-2.5-0.9 0.9-1.3 1.2z"/><path class="c7" d="M354.9 75.1l1.3-1.1-1-0.4-1.3-0.6zM353.6 73.8l1.3 1.3-1-2.1-1.3 2.4z"/><path class="c6" d="M352.3 76.2l1.3-2.4-1 1.6-1.3-0.3zM351 76.1l1.3 0.1-1-1.1-1.3 0.7zM349.7 75.8l1.3 0.3-1-0.3-1.2 1.2z"/><path class="c19" d="M321.5 78.2l1.3 1.6-1-0.9-1.3-2.8z"/><path class="c24" d="M320.2 75.8l1.3 2.4-1-2.1-1.3-0.9z"/><path class="c28" d="M318.9 72.4l1.3 3.4-1-0.6-1.3-1.9z"/><path class="c34" d="M317.6 70.7l1.3 1.7-1 0.9-1.2-4.9z"/><path class="c42" d="M316.3 65.7l1.3 5-0.9-2.3-1.3-3.5z"/><path class="c50" d="M315.1 62.7l1.2 3-0.9-0.8-1.3-3.7z"/><path class="c58" d="M313.8 56.3l1.3 6.4-1-1.5-1.3-4.6z"/><path class="c59" d="M371.2 42.8l1.3-3.4-0.9-2.9-1.3 5.8z"/><path class="c49" d="M370 49l1.2-6.2-0.9-0.5-1.3 6.9z"/><path class="c41" d="M368.7 53.1l1.3-4.1-1 0.2-1.3 3.6z"/><path class="c34" d="M367.4 57.8l1.3-4.7-1-0.3-1.3 5z"/><path class="c29" d="M366.1 59.5l1.3-1.7-1 0-1.3 1.4z"/><path class="c24" d="M364.8 63.8l1.3-4.3-1-0.3-1.2 4.1z"/><path class="c20" d="M363.5 66.3l1.3-2.5-0.9-0.5-1.3 1.8z"/><path class="c16" d="M362.3 68.3l1.2-2-0.9-1.2-1.3 3.4z"/><path class="c14" d="M361 68.8l1.3-0.5-1 0.2-1.3 1.1z"/><path class="c12" d="M359.7 71.7l1.3-2.9-1 0.8-1.3 0.5z"/><path class="c10" d="M358.4 72.1l1.3-0.4-1-1.6-1.3 1.4z"/><path class="c9" d="M357.1 73.7l1.3-1.6-1-0.6-1.2 2.5z"/><path class="c7" d="M355.8 75.6l1.3-1.9-0.9 0.3-1.3 1.1z"/><path class="c6" d="M354.6 76l1.2-0.4-0.9-0.5-1.3-1.3zM353.3 76l1.3 0-1-2.2-1.3 2.4z"/><path class="c5" d="M352 77l1.3-1-1 0.2-1.3-0.1z"/><path class="c6" d="M350.7 77.5l1.3-0.5-1-0.9-1.3-0.3z"/><path class="c5" d="M349.4 78.5l1.3-1-1-1.7-1.3 0.9z"/><path class="c16" d="M323.7 78.7l1.3 1.9-1 0.5-1.2-1.3z"/><path class="c19" d="M322.4 78.6l1.3 0.1-0.9 1.1-1.3-1.6z"/><path class="c23" d="M321.2 76.3l1.2 2.3-0.9-0.4-1.3-2.4z"/><path class="c29" d="M319.9 73.6l1.3 2.7-1-0.5-1.3-3.4z"/><path class="c35" d="M318.6 69.9l1.3 3.7-1-1.2-1.3-1.7z"/><path class="c41" d="M317.3 68.2l1.3 1.7-1 0.8-1.3-5z"/><path class="c49" d="M316 63.1l1.3 5.1-1-2.5-1.2-3z"/><path class="c58" d="M314.7 57.7l1.3 5.4-0.9-0.4-1.3-6.4zM372.2 44.4l1.3-5.2-1 0.2-1.3 3.4z"/><path class="c49" d="M370.9 50.4l1.3-6-1-1.6-1.2 6.2z"/><path class="c41" d="M369.6 54.9l1.3-4.5-0.9-1.4-1.3 4.1z"/><path class="c34" d="M368.4 59.1l1.2-4.2-0.9-1.8-1.3 4.7z"/><path class="c29" d="M367.1 60.3l1.3-1.2-1-1.3-1.3 1.7z"/><path class="c24" d="M365.8 64l1.3-3.7-1-0.8-1.3 4.3z"/><path class="c20" d="M364.5 66.4l1.3-2.4-1-0.2-1.3 2.5z"/><path class="c16" d="M363.2 68.4l1.3-2-1-0.1-1.2 2z"/><path class="c14" d="M361.9 71.2l1.3-2.8-0.9-0.1-1.3 0.5z"/><path class="c11" d="M360.7 72.7l1.2-1.5-0.9-2.4-1.3 2.9z"/><path class="c10" d="M359.4 72.2l1.3 0.5-1-1-1.3 0.4z"/><path class="c9" d="M358.1 75.4l1.3-3.2-1-0.1-1.3 1.6z"/><path class="c7" d="M356.8 74.5l1.3 0.9-1-1.7-1.3 1.9z"/><path class="c6" d="M354.2 76.6l1.3-0.7-0.9 0.1-1.3 0zM352.9 76.7l1.3-0.1-0.9-0.6-1.3 1z"/><path class="c5" d="M350.4 78l1.3-0.5-1 0-1.3 1z"/><path class="c11" d="M327.3 82.3l1.2 1.9-0.9-1.5-1.3 0.1z"/><path class="c14" d="M326 80.8l1.3 1.5-1 0.5-1.3-2.2z"/><path class="c23" d="M322.1 77.5l1.3 1.3-1-0.2-1.2-2.3z"/><path class="c29" d="M320.8 73l1.3 4.5-0.9-1.2-1.3-2.7z"/><path class="c35" d="M319.6 70.3l1.2 2.7-0.9 0.6-1.3-3.7z"/><path class="c41" d="M318.3 68.3l1.3 2-1-0.4-1.3-1.7z"/><path class="c48" d="M317 62.8l1.3 5.5-1-0.1-1.3-5.1z"/><path class="c58" d="M315.7 58.7l1.3 4.1-1 0.3-1.3-5.4zM373.2 45.1l1.3-6.2-1 0.3-1.3 5.2z"/><path class="c49" d="M371.9 49.1l1.3-4-1-0.7-1.3 6z"/><path class="c40" d="M370.6 55.5l1.3-6.4-1 1.3-1.3 4.5z"/><path class="c33" d="M369.3 58.6l1.3-3.1-1-0.6-1.2 4.2z"/><path class="c28" d="M368 61.9l1.3-3.3-0.9 0.5-1.3 1.2z"/><path class="c24" d="M366.8 64.9l1.2-3-0.9-1.6-1.3 3.7z"/><path class="c20" d="M365.5 67.2l1.3-2.3-1-0.9-1.3 2.4z"/><path class="c16" d="M364.2 69.2l1.3-2-1-0.8-1.3 2z"/><path class="c14" d="M362.9 70.2l1.3-1-1-0.8-1.3 2.8z"/><path class="c11" d="M361.6 72l1.3-1.8-1 1-1.2 1.5z"/><path class="c10" d="M360.3 74.1l1.3-2.1-0.9 0.7-1.3-0.5z"/><path class="c8" d="M359.1 74.9l1.2-0.8-0.9-1.9-1.3 3.2z"/><path class="c7" d="M356.5 76l1.3-1.2-1-0.3-1.3 1.4z"/><path class="c6" d="M355.2 78l1.3-2-1-0.1-1.3 0.7z"/><path class="c5" d="M353.9 79l1.3-1-1-1.4-1.3 0.1zM352.6 79.2l1.3-0.2-1-2.3-1.2 0.8zM351.3 80.1l1.3-0.9-0.9-1.7-1.3 0.5z"/><path class="c6" d="M350.1 78.4l1.2 1.7-0.9-2.1-1.3 0zM348.8 78.9l1.3-0.5-1-0.4-1.3 0.3z"/><path class="c11" d="M328.2 82.2l1.3 1.5-1 0.5-1.2-1.9z"/><path class="c19" d="M324.4 79.6l1.3 2.2-1-0.4-1.3-2.6z"/><path class="c23" d="M323.1 76.5l1.3 3.1-1-0.8-1.3-1.3z"/><path class="c29" d="M321.8 74.4l1.3 2.1-1 1-1.3-4.5z"/><path class="c41" d="M319.2 68.5l1.3 4.5-0.9-2.7-1.3-2z"/><path class="c49" d="M318 62.9l1.2 5.6-0.9-0.2-1.3-5.5z"/><path class="c58" d="M316.7 59.2l1.3 3.7-1-0.1-1.3-4.1zM374.1 45.7l1.3-5-0.9-1.8-1.3 6.2z"/><path class="c49" d="M372.9 51.2l1.2-5.5-0.9-0.6-1.3 4z"/><path class="c41" d="M371.6 53.9l1.3-2.7-1-2.1-1.3 6.4z"/><path class="c34" d="M370.3 59.2l1.3-5.3-1 1.6-1.3 3.1z"/><path class="c28" d="M369 63l1.3-3.8-1-0.6-1.3 3.3z"/><path class="c23" d="M367.7 65.5l1.3-2.5-1-1.1-1.2 3z"/><path class="c20" d="M366.4 66.7l1.3-1.2-0.9-0.6-1.3 2.3z"/><path class="c17" d="M365.2 68.8l1.2-2.1-0.9 0.5-1.3 2z"/><path class="c14" d="M363.9 71.9l1.3-3.1-1 0.4-1.3 1z"/><path class="c12" d="M362.6 72.8l1.3-0.9-1-1.7-1.3 1.8z"/><path class="c10" d="M361.3 74.7l1.3-1.9-1-0.8-1.3 2.1z"/><path class="c8" d="M360 75.8l1.3-1.1-1-0.6-1.2 0.8zM358.7 75.6l1.3 0.2-0.9-0.9-1.3-0.1z"/><path class="c7" d="M357.5 78.5l1.2-2.9-0.9-0.8-1.3 1.2z"/><path class="c6" d="M356.2 77.6l1.3 0.9-1-2.5-1.3 2z"/><path class="c5" d="M354.9 78.3l1.3-0.7-1 0.4-1.3 1zM352.3 80.6l1.3-2.6-1 1.2-1.3 0.9z"/><path class="c6" d="M349.7 80.4l1.3-1.3-0.9-0.7-1.3 0.5z"/><path class="c16" d="M326.6 81.4l1.3 0.6-1 0.4-1.2-0.6z"/><path class="c19" d="M325.3 80.8l1.3 0.6-0.9 0.4-1.3-2.2z"/><path class="c24" d="M324.1 76.8l1.2 4-0.9-1.2-1.3-3.1z"/><path class="c29" d="M322.8 74.8l1.3 2-1-0.3-1.3-2.1z"/><path class="c34" d="M321.5 72.6l1.3 2.2-1-0.4-1.3-1.4z"/><path class="c40" d="M320.2 68.8l1.3 3.8-1 0.4-1.3-4.5z"/><path class="c49" d="M318.9 65.1l1.3 3.7-1-0.3-1.2-5.6z"/><path class="c58" d="M317.6 59.4l1.3 5.7-0.9-2.2-1.3-3.7z"/><path class="c57" d="M375.1 45.1l1.3-3.6-1-0.8-1.3 5z"/><path class="c49" d="M373.8 51.5l1.3-6.4-1 0.6-1.2 5.5z"/><path class="c41" d="M372.5 55.5l1.3-4-0.9-0.3-1.3 2.7z"/><path class="c35" d="M371.3 59.1l1.2-3.6-0.9-1.6-1.3 5.3z"/><path class="c28" d="M370 63.8l1.3-4.7-1 0.1-1.3 3.8z"/><path class="c23" d="M368.7 65.6l1.3-1.8-1-0.8-1.3 2.5z"/><path class="c20" d="M367.4 68l1.3-2.4-1-0.1-1.3 1.2z"/><path class="c17" d="M366.1 71.2l1.3-3.2-1-1.3-1.2 2.1z"/><path class="c14" d="M364.8 71l1.3 0.2-0.9-2.4-1.3 3.1z"/><path class="c12" d="M363.6 74l1.2-3-0.9 0.9-1.3 0.9z"/><path class="c9" d="M362.3 75l1.3-1-1-1.2-1.3 1.9z"/><path class="c8" d="M361 76.8l1.3-1.8-1-0.3-1.3 1.1z"/><path class="c7" d="M359.7 77l1.3-0.2-1-1-1.3-0.2zM358.4 76.7l1.3 0.3-1-1.4-1.2 2.9z"/><path class="c6" d="M355.8 78.6l1.3-0.3-0.9-0.7-1.3 0.7zM354.6 78.7l1.2-0.1-0.9-0.3-1.3-0.3z"/><path class="c5" d="M353.3 80.3l1.3-1.6-1-0.7-1.3 2.6zM350.7 81.5l1.3-1.6-1-0.8-1.3 1.3z"/><path class="c16" d="M327.6 81.6l1.3 2.7-1-2.3-1.3-0.6z"/><path class="c20" d="M326.3 79.9l1.3 1.7-1-0.2-1.3-0.6z"/><path class="c24" d="M325 78.3l1.3 1.6-1 0.9-1.2-4z"/><path class="c29" d="M323.7 74.8l1.3 3.5-0.9-1.5-1.3-2z"/><path class="c35" d="M322.5 72.6l1.2 2.2-0.9 0-1.3-2.2z"/><path class="c41" d="M321.2 68.3l1.3 4.3-1 0-1.3-3.8z"/><path class="c49" d="M319.9 65.5l1.3 2.8-1 0.5-1.3-3.7z"/><path class="c58" d="M318.6 60l1.3 5.5-1-0.4-1.3-5.7zM376.1 47.2l1.3-6.9-1 1.2-1.3 3.6z"/><path class="c49" d="M374.8 53l1.3-5.8-1-2.1-1.3 6.4z"/><path class="c41" d="M373.5 56l1.3-3-1-1.5-1.3 4z"/><path class="c34" d="M372.2 61.2l1.3-5.2-1-0.5-1.2 3.6z"/><path class="c28" d="M370.9 63.3l1.3-2.1-0.9-2.1-1.3 4.7z"/><path class="c23" d="M369.7 66.7l1.2-3.4-0.9 0.5-1.3 1.8z"/><path class="c20" d="M368.4 68.2l1.3-1.5-1-1.1-1.3 2.4z"/><path class="c16" d="M367.1 70.4l1.3-2.2-1-0.2-1.3 3.2z"/><path class="c14" d="M365.8 73.7l1.3-3.3-1 0.8-1.3-0.2z"/><path class="c11" d="M364.5 74l1.3-0.3-1-2.7-1.2 3z"/><path class="c10" d="M363.2 74.9l1.3-0.9-0.9 0-1.3 1z"/><path class="c8" d="M362 76.4l1.2-1.5-0.9 0.1-1.3 1.8z"/><path class="c7" d="M360.7 78.6l1.3-2.2-1 0.4-1.3 0.2z"/><path class="c6" d="M359.4 79.1l1.3-0.5-1-1.6-1.3-0.3zM358.1 79.7l1.3-0.6-1-2.4-1.3 1.6zM356.8 79.6l1.3 0.1-1-1.4-1.3 0.3zM355.5 79.3l1.3 0.3-1-1-1.2 0.1zM354.2 80.5l1.3-1.2-0.9-0.6-1.3 1.6z"/><path class="c5" d="M353 80.7l1.2-0.2-0.9-0.2-1.3-0.4zM351.7 81.1l1.3-0.4-1-0.8-1.3 1.6z"/><path class="c9" d="M332.4 85.1l1.3 0.7-1 0.1-1.3-0.2z"/><path class="c11" d="M331.1 84.2l1.3 0.9-1 0.6-1.2-0.7z"/><path class="c13" d="M329.8 83l1.3 1.2-0.9 0.8-1.3-0.7z"/><path class="c16" d="M328.6 83l1.2 0-0.9 1.3-1.3-2.7z"/><path class="c20" d="M327.3 80.5l1.3 2.5-1-1.4-1.3-1.7z"/><path class="c28" d="M324.7 77l1.3 2.5-1-1.2-1.3-3.5z"/><path class="c35" d="M323.4 72.5l1.3 4.5-1-2.2-1.2-2.2z"/><path class="c41" d="M322.1 70.8l1.3 1.7-0.9 0.1-1.3-4.3z"/><path class="c48" d="M320.9 66.5l1.2 4.3-0.9-2.5-1.3-2.8z"/><path class="c57" d="M319.6 61.8l1.3 4.7-1-1-1.3-5.5z"/><path class="c58" d="M377 46.7l1.3-4.7-0.9-1.7-1.3 6.9z"/><path class="c48" d="M375.8 52.9l1.2-6.2-0.9 0.5-1.3 5.8z"/><path class="c40" d="M374.5 57.1l1.3-4.2-1 0.1-1.3 3z"/><path class="c34" d="M373.2 60.8l1.3-3.7-1-1.1-1.3 5.2z"/><path class="c28" d="M371.9 63.6l1.3-2.8-1 0.4-1.3 2.1z"/><path class="c24" d="M370.6 66.5l1.3-2.9-1-0.3-1.2 3.4z"/><path class="c20" d="M369.3 68.2l1.3-1.7-0.9 0.2-1.3 1.5z"/><path class="c17" d="M368.1 71.8l1.2-3.6-0.9 0-1.3 2.2z"/><path class="c13" d="M366.8 74.2l1.3-2.4-1-1.4-1.3 3.3z"/><path class="c11" d="M365.5 73.6l1.3 0.6-1-0.5-1.3 0.3z"/><path class="c10" d="M364.2 77.3l1.3-3.7-1 0.4-1.3 0.9z"/><path class="c8" d="M362.9 77l1.3 0.3-1-2.4-1.2 1.5z"/><path class="c7" d="M361.6 77l1.3 0-0.9-0.6-1.3 2.2z"/><path class="c5" d="M357.8 80.6l1.3-1.3-1 0.4-1.3-0.1z"/><path class="c6" d="M356.5 80.4l1.3 0.2-1-1-1.3-0.3zM355.2 80.3l1.3 0.1-1-1.1-1.3 1.2zM353.9 81.6l1.3-1.3-1 0.2-1.2 0.2z"/><path class="c5" d="M352.6 82.7l1.3-1.1-0.9-0.9-1.3 0.4z"/><path class="c19" d="M328.2 81.8l1.3 2-0.9-0.8-1.3-2.5z"/><path class="c28" d="M325.7 77.6l1.3 2.9-1-1-1.3-2.5z"/><path class="c34" d="M324.4 75l1.3 2.6-1-0.6-1.3-4.5z"/><path class="c41" d="M323.1 70.8l1.3 4.2-1-2.5-1.3-1.7z"/><path class="c48" d="M321.8 66.5l1.3 4.3-1 0-1.2-4.3z"/><path class="c57" d="M320.5 60.8l1.3 5.7-0.9 0-1.3-4.7z"/><path class="c58" d="M378 48.1l1.3-6.6-1 0.5-1.3 4.7z"/><path class="c49" d="M376.7 53.1l1.3-5-1-1.4-1.2 6.2z"/><path class="c41" d="M375.4 57.7l1.3-4.6-0.9-0.2-1.3 4.2z"/><path class="c34" d="M374.2 60.1l1.2-2.4-0.9-0.6-1.3 3.7z"/><path class="c29" d="M372.9 64.9l1.3-4.8-1 0.7-1.3 2.8z"/><path class="c24" d="M371.6 66.6l1.3-1.7-1-1.3-1.3 2.9z"/><path class="c21" d="M370.3 69.5l1.3-2.9-1-0.1-1.3 1.7z"/><path class="c17" d="M369 71.9l1.3-2.4-1-1.3-1.2 3.6z"/><path class="c13" d="M367.7 74.3l1.3-2.4-0.9-0.1-1.3 2.4z"/><path class="c11" d="M366.5 75.8l1.2-1.5-0.9-0.1-1.3-0.6z"/><path class="c9" d="M365.2 77.2l1.3-1.4-1-2.2-1.3 3.7z"/><path class="c7" d="M363.9 78.7l1.3-1.5-1 0.1-1.3-0.3zM362.6 79.9l1.3-1.2-1-1.7-1.3 0z"/><path class="c6" d="M361.3 79.9l1.3 0-1-2.9-1.2 1.7zM360 80l1.3-0.1-0.9-1.2-1.3 0.6z"/><path class="c5" d="M358.7 81.5l1.3-1.5-0.9-0.7-1.3 1.3zM357.5 82.3l1.2-0.8-0.9-0.9-1.3-0.2zM356.2 82.5l1.3-0.2-1-1.9-1.3-0.1zM354.9 81.2l1.3 1.3-1-2.2-1.3 1.3zM353.6 82.1l1.3-0.9-1 0.4-1.3 1.1z"/><path class="c12" d="M333.1 84.7l1.2 1.7-0.9-0.5-1.3-1.3z"/><path class="c16" d="M330.5 83.6l1.3 2-1-1.7-1.3-0.1z"/><path class="c19" d="M329.2 81.7l1.3 1.9-1 0.2-1.3-2z"/><path class="c23" d="M327.9 80.9l1.3 0.8-1 0.1-1.2-1.3z"/><path class="c28" d="M326.6 77.8l1.3 3.1-0.9-0.4-1.3-2.9z"/><path class="c34" d="M325.4 73.5l1.2 4.3-0.9-0.2-1.3-2.6z"/><path class="c41" d="M324.1 71.7l1.3 1.8-1 1.5-1.3-4.2z"/><path class="c48" d="M322.8 67.4l1.3 4.3-1-0.9-1.3-4.3z"/><path class="c58" d="M321.5 60.8l1.3 6.6-1-0.9-1.3-5.7zM379 47.9l1.3-6.1-1-0.3-1.3 6.6z"/><path class="c49" d="M377.7 52.5l1.3-4.6-1 0.2-1.3 5z"/><path class="c41" d="M376.4 57.6l1.3-5.1-1 0.6-1.3 4.6z"/><path class="c34" d="M375.1 62.5l1.3-4.9-1 0.1-1.2 2.4z"/><path class="c29" d="M373.8 64.5l1.3-2-0.9-2.4-1.3 4.8z"/><path class="c24" d="M372.6 67.8l1.2-3.3-0.9 0.4-1.3 1.7z"/><path class="c20" d="M371.3 71.1l1.3-3.3-1-1.2-1.3 2.9z"/><path class="c16" d="M370 73.4l1.3-2.3-1-1.6-1.3 2.4z"/><path class="c13" d="M368.7 74.3l1.3-0.9-1-1.5-1.3 2.4z"/><path class="c11" d="M367.4 75.2l1.3-0.9-1 0-1.2 1.5z"/><path class="c10" d="M366.1 76.6l1.3-1.4-0.9 0.6-1.3 1.4z"/><path class="c8" d="M364.9 79l1.2-2.4-0.9 0.6-1.3 1.5z"/><path class="c6" d="M362.3 80.6l1.3-1.8-1 1.1-1.3 0z"/><path class="c5" d="M361 81.1l1.3-0.5-1-0.7-1.3 0.1zM359.7 81.9l1.3-0.8-1-1.1-1.3 1.5z"/><path class="c6" d="M354.6 83.9l1.3-1.8-1-0.9-1.3 0.9z"/><path class="c14" d="M332.7 85l1.3 1.4-0.9-1.7-1.3 0.9z"/><path class="c16" d="M331.5 85.2l1.2-0.2-0.9 0.6-1.3-2z"/><path class="c20" d="M330.2 82.1l1.3 3.1-1-1.6-1.3-1.9z"/><path class="c24" d="M328.9 79.7l1.3 2.4-1-0.4-1.3-0.8z"/><path class="c29" d="M327.6 77.3l1.3 2.4-1 1.2-1.3-3.1z"/><path class="c35" d="M326.3 75.3l1.3 2-1 0.5-1.2-4.3z"/><path class="c41" d="M325 70.4l1.3 4.9-0.9-1.8-1.3-1.8z"/><path class="c48" d="M323.8 68.4l1.2 2-0.9 1.3-1.3-4.3z"/><path class="c58" d="M322.5 61.7l1.3 6.7-1-1-1.3-6.6zM379.9 49.5l1.3-5.8-0.9-1.9-1.3 6.1z"/><path class="c49" d="M378.7 53.6l1.2-4.1-0.9-1.6-1.3 4.6z"/><path class="c41" d="M377.4 59.2l1.3-5.6-1-1.1-1.3 5.1z"/><path class="c34" d="M376.1 63.1l1.3-3.9-1-1.6-1.3 4.9z"/><path class="c28" d="M374.8 66.1l1.3-3-1-0.6-1.3 2z"/><path class="c24" d="M373.5 68.9l1.3-2.8-1-1.6-1.2 3.3z"/><path class="c19" d="M372.2 70.8l1.3-1.9-0.9-1.1-1.3 3.3z"/><path class="c16" d="M371 72.2l1.2-1.4-0.9 0.3-1.3 2.3z"/><path class="c13" d="M369.7 75.6l1.3-3.4-1 1.2-1.3 0.9z"/><path class="c11" d="M368.4 76.7l1.3-1.1-1-1.3-1.3 0.9z"/><path class="c10" d="M367.1 77.5l1.3-0.8-1-1.5-1.3 1.4z"/><path class="c8" d="M365.8 78.7l1.3-1.2-1-0.9-1.2 2.4z"/><path class="c7" d="M364.5 79.1l1.3-0.4-0.9 0.3-1.3-0.2zM363.3 79.4l1.2-0.3-0.9-0.3-1.3 1.8z"/><path class="c6" d="M360.7 81.8l1.3-1.7-1 1-1.3 0.8z"/><path class="c5" d="M359.4 83.1l1.3-1.3-1 0.1-1.3-0.7z"/><path class="c6" d="M358.1 81.9l1.3 1.2-1-1.9-1.3 0.4zM356.8 83.1l1.3-1.2-1-0.3-1.2 0.5z"/><path class="c5" d="M355.5 82.9l1.3 0.2-0.9-1-1.3 1.8z"/><path class="c13" d="M333.7 86l1.3 1.5-1-1.1-1.3-1.4z"/><path class="c16" d="M332.4 83.5l1.3 2.5-1-1-1.2 0.2z"/><path class="c20" d="M331.1 81.9l1.3 1.6-0.9 1.7-1.3-3.1z"/><path class="c24" d="M329.9 81.6l1.2 0.3-0.9 0.2-1.3-2.4z"/><path class="c34" d="M327.3 76.3l1.3 3.1-1-2.1-1.3-2z"/><path class="c41" d="M326 71.5l1.3 4.8-1-1-1.3-4.9z"/><path class="c49" d="M324.7 68.6l1.3 2.9-1-1.1-1.2-2z"/><path class="c57" d="M323.4 63.8l1.3 4.8-0.9-0.2-1.3-6.7zM380.9 49.2l1.3-5.1-1-0.4-1.3 5.8z"/><path class="c49" d="M379.6 54.7l1.3-5.5-1 0.3-1.2 4.1z"/><path class="c41" d="M378.3 59.5l1.3-4.8-0.9-1.1-1.3 5.6z"/><path class="c34" d="M377.1 62.5l1.2-3-0.9-0.3-1.3 3.9z"/><path class="c29" d="M375.8 65.4l1.3-2.9-1 0.6-1.3 3z"/><path class="c24" d="M374.5 69.1l1.3-3.7-1 0.7-1.3 2.8z"/><path class="c20" d="M373.2 72l1.3-2.9-1-0.2-1.3 1.9z"/><path class="c17" d="M371.9 72.6l1.3-0.6-1-1.2-1.2 1.4z"/><path class="c14" d="M370.6 75.5l1.3-2.9-0.9-0.4-1.3 3.4z"/><path class="c11" d="M369.4 75.8l1.2-0.3-0.9 0.1-1.3 1.1z"/><path class="c10" d="M368.1 78.6l1.3-2.8-1 0.9-1.3 0.8z"/><path class="c8" d="M366.8 80.5l1.3-1.9-1-1.1-1.3 1.2z"/><path class="c7" d="M365.5 81.6l1.3-1.1-1-1.8-1.3 0.4zM364.2 80l1.3 1.6-1-2.5-1.2 0.3zM362.9 80.7l1.3-0.7-0.9-0.6-1.3 0.7z"/><path class="c6" d="M361.6 83.4l1.3-2.7-0.9-0.6-1.3 1.7z"/><path class="c5" d="M360.4 83.2l1.2 0.2-0.9-1.6-1.3 1.3zM359.1 83.6l1.3-0.4-1-0.1-1.3-1.2zM357.8 84.3l1.3-0.7-1-1.7-1.3 1.2z"/><path class="c11" d="M336 87.3l1.2 0.6-0.9-0.3-1.3-0.1z"/><path class="c14" d="M334.7 85.5l1.3 1.8-1 0.2-1.3-1.5z"/><path class="c17" d="M333.4 84.3l1.3 1.2-1 0.5-1.3-2.5z"/><path class="c28" d="M329.5 78l1.3 4.4-0.9-0.8-1.3-2.2z"/><path class="c34" d="M328.3 76.5l1.2 1.5-0.9 1.4-1.3-3.1z"/><path class="c41" d="M327 71.9l1.3 4.6-1-0.2-1.3-4.8z"/><path class="c49" d="M325.7 69.1l1.3 2.8-1-0.4-1.3-2.9z"/><path class="c57" d="M324.4 63.2l1.3 5.9-1-0.5-1.3-4.8z"/><path class="c58" d="M381.9 49.6l1.3-4.7-1-0.8-1.3 5.1z"/><path class="c49" d="M380.6 55.6l1.3-6-1-0.4-1.3 5.5z"/><path class="c41" d="M379.3 58.9l1.3-3.3-1-0.9-1.3 4.8z"/><path class="c35" d="M378 63.1l1.3-4.2-1 0.6-1.2 3z"/><path class="c29" d="M376.7 66.7l1.3-3.6-0.9-0.6-1.3 2.9z"/><path class="c24" d="M375.5 68.8l1.2-2.1-0.9-1.3-1.3 3.7z"/><path class="c20" d="M374.2 72.4l1.3-3.6-1 0.3-1.3 2.9z"/><path class="c17" d="M372.9 74l1.3-1.6-1-0.4-1.3 0.6z"/><path class="c14" d="M371.6 75.1l1.3-1.1-1-1.4-1.3 2.9z"/><path class="c12" d="M370.3 77.3l1.3-2.2-1 0.4-1.2 0.3z"/><path class="c10" d="M369 79.4l1.3-2.1-0.9-1.5-1.3 2.8z"/><path class="c8" d="M367.8 78.7l1.2 0.7-0.9-0.8-1.3 1.9z"/><path class="c7" d="M365.2 82.3l1.3-2.6-1 1.9-1.3-1.6z"/><path class="c6" d="M363.9 82.4l1.3-0.1-1-2.3-1.3 0.7z"/><path class="c5" d="M362.6 83.3l1.3-0.9-1-1.7-1.3 2.7z"/><path class="c24" d="M331.8 82.5l1.3 0.9-1-0.3-1.3-0.7z"/><path class="c29" d="M330.5 79.2l1.3 3.3-1-0.1-1.3-4.4z"/><path class="c41" d="M327.9 72.8l1.3 5-0.9-1.3-1.3-4.6z"/><path class="c49" d="M326.7 68.5l1.2 4.3-0.9-0.9-1.3-2.8z"/><path class="c58" d="M325.4 63.3l1.3 5.2-1 0.6-1.3-5.9z"/><path class="c57" d="M382.8 50.5l1.3-4.5-0.9-1.1-1.3 4.7z"/><path class="c49" d="M381.6 54.7l1.2-4.2-0.9-0.9-1.3 6z"/><path class="c41" d="M380.3 60.9l1.3-6.2-1 0.9-1.3 3.3z"/><path class="c35" d="M379 63.6l1.3-2.7-1-2-1.3 4.2z"/><path class="c29" d="M377.7 66.9l1.3-3.3-1-0.5-1.3 3.6z"/><path class="c24" d="M376.4 69.7l1.3-2.8-1-0.2-1.2 2.1z"/><path class="c20" d="M375.1 71.7l1.3-2-0.9-0.9-1.3 3.6z"/><path class="c17" d="M373.9 74.3l1.2-2.6-0.9 0.7-1.3 1.6z"/><path class="c14" d="M372.6 75.9l1.3-1.6-1-0.3-1.3 1.1z"/><path class="c12" d="M371.3 78l1.3-2.1-1-0.8-1.3 2.2z"/><path class="c9" d="M370 80.5l1.3-2.5-1-0.7-1.3 2.1zM368.7 79.4l1.3 1.1-1-1.1-1.2-0.7z"/><path class="c8" d="M367.4 81.1l1.3-1.7-0.9-0.7-1.3 1z"/><path class="c7" d="M366.2 82l1.2-0.9-0.9-1.4-1.3 2.6z"/><path class="c5" d="M362.3 83.7l1.3-1.1-1 0.7-1.3 1.3z"/><path class="c9" d="M339.2 89.5l1.3-0.4-1 0.3-1.3 0.3z"/><path class="c11" d="M337.9 87.9l1.3 1.6-1 0.2-1.3-0.8z"/><path class="c14" d="M336.6 86.5l1.3 1.4-1 1-1.3-1.5z"/><path class="c16" d="M335.3 86.2l1.3 0.3-1 0.9-1.2-0.8z"/><path class="c20" d="M334 84.6l1.3 1.6-0.9 0.4-1.3-3.2z"/><path class="c28" d="M331.5 80.4l1.3 3.4-1-1.3-1.3-3.3z"/><path class="c34" d="M330.2 76.8l1.3 3.6-1-1.2-1.3-1.4z"/><path class="c41" d="M328.9 74.4l1.3 2.4-1 1-1.3-5z"/><path class="c49" d="M327.6 69l1.3 5.4-1-1.6-1.2-4.3z"/><path class="c58" d="M326.3 65.1l1.3 3.9-0.9-0.5-1.3-5.2zM383.8 49.9l1.3-4.8-1 0.9-1.3 4.5z"/><path class="c50" d="M382.5 55.8l1.3-5.9-1 0.6-1.2 4.2z"/><path class="c41" d="M381.2 61.3l1.3-5.5-0.9-1.1-1.3 6.2z"/><path class="c34" d="M380 65.2l1.2-3.9-0.9-0.4-1.3 2.7z"/><path class="c29" d="M378.7 67.5l1.3-2.3-1-1.6-1.3 3.3z"/><path class="c25" d="M377.4 69.9l1.3-2.4-1-0.6-1.3 2.8z"/><path class="c20" d="M376.1 73.7l1.3-3.8-1-0.2-1.3 2z"/><path class="c17" d="M374.8 74.8l1.3-1.1-1-2-1.2 2.6z"/><path class="c14" d="M373.5 76.5l1.3-1.7-0.9-0.5-1.3 1.6z"/><path class="c12" d="M372.3 77.8l1.2-1.3-0.9-0.6-1.3 2.1z"/><path class="c9" d="M371 80.8l1.3-3-1 0.2-1.3 2.5z"/><path class="c8" d="M368.4 81.7l1.3 0.2-1-2.5-1.3 1.7z"/><path class="c23" d="M333.7 83.5l1.3 2.7-1-1.6-1.2-0.8z"/><path class="c28" d="M332.4 80.5l1.3 3-0.9 0.3-1.3-3.4z"/><path class="c34" d="M331.2 78.2l1.2 2.3-0.9-0.1-1.3-3.6z"/><path class="c41" d="M329.9 74.6l1.3 3.6-1-1.4-1.3-2.4z"/><path class="c49" d="M328.6 70.2l1.3 4.4-1-0.2-1.3-5.4z"/><path class="c58" d="M327.3 65.5l1.3 4.7-1-1.2-1.3-3.9z"/><path class="c59" d="M384.8 51.6l1.3-6.6-1 0.1-1.3 4.8z"/><path class="c50" d="M383.5 55.5l1.3-3.9-1-1.7-1.3 5.9z"/><path class="c42" d="M382.2 60.4l1.3-4.9-1 0.3-1.3 5.5z"/><path class="c34" d="M380.9 65.9l1.3-5.5-1 0.9-1.2 3.9z"/><path class="c28" d="M379.6 68.7l1.3-2.8-0.9-0.7-1.3 2.3z"/><path class="c24" d="M378.4 71.5l1.2-2.8-0.9-1.2-1.3 2.4z"/><path class="c20" d="M377.1 72.5l1.3-1-1-1.6-1.3 3.8z"/><path class="c17" d="M375.8 76.7l1.3-4.2-1 1.2-1.3 1.1z"/><path class="c14" d="M374.5 77.5l1.3-0.8-1-1.9-1.3 1.7z"/><path class="c12" d="M373.2 78.6l1.3-1.1-1-1-1.2 1.3z"/><path class="c10" d="M371.9 80.4l1.3-1.8-0.9-0.8-1.3 3z"/><path class="c9" d="M342.4 89.1l1.3 0.9-1-0.2-1.3 1.2z"/><path class="c10" d="M341.1 89.9l1.3-0.8-1 1.9-1.3-0.7z"/><path class="c11" d="M339.8 89.7l1.3 0.2-1 0.4-1.2-1.2z"/><path class="c14" d="M338.5 88.5l1.3 1.2-0.9-0.6-1.3-0.7z"/><path class="c17" d="M337.3 86.8l1.2 1.7-0.9-0.1-1.3-2.2z"/><path class="c23" d="M334.7 83.6l1.3 2.8-1-0.2-1.3-2.7z"/><path class="c29" d="M333.4 80.2l1.3 3.4-1-0.1-1.3-3z"/><path class="c35" d="M332.1 78.6l1.3 1.6-1 0.3-1.2-2.3z"/><path class="c41" d="M330.8 73.9l1.3 4.7-0.9-0.4-1.3-3.6z"/><path class="c49" d="M329.6 70.6l1.2 3.3-0.9 0.7-1.3-4.4z"/><path class="c58" d="M328.3 66.4l1.3 4.2-1-0.4-1.3-4.7zM385.7 52.8l1.3-6.3-0.9-1.5-1.3 6.6z"/><path class="c49" d="M384.5 57.5l1.2-4.7-0.9-1.2-1.3 3.9z"/><path class="c42" d="M383.2 60.7l1.3-3.2-1-2-1.3 4.9z"/><path class="c35" d="M381.9 64.7l1.3-4-1-0.3-1.3 5.5z"/><path class="c29" d="M380.6 67.6l1.3-2.9-1 1.2-1.3 2.8z"/><path class="c25" d="M379.3 70.7l1.3-3.1-1 1.1-1.2 2.8z"/><path class="c20" d="M378 74.8l1.3-4.1-0.9 0.8-1.3 1z"/><path class="c17" d="M376.8 75.6l1.2-0.8-0.9-2.3-1.3 4.2z"/><path class="c14" d="M375.5 78l1.3-2.4-1 1.1-1.3 0.8z"/><path class="c12" d="M374.2 80.2l1.3-2.2-1-0.5-1.3 1.1zM340.8 89.1l1.3 1.6-1-0.8-1.3-0.2z"/><path class="c15" d="M339.5 87.8l1.3 1.3-1 0.6-1.3-1.2z"/><path class="c18" d="M338.2 86.8l1.3 1-1 0.7-1.2-1.7z"/><path class="c21" d="M336.9 84.7l1.3 2.1-0.9 0-1.3-0.4z"/><path class="c24" d="M335.7 84.5l1.2 0.2-0.9 1.7-1.3-2.8z"/><path class="c29" d="M334.4 82l1.3 2.5-1-0.9-1.3-3.4z"/><path class="c35" d="M333.1 79.1l1.3 2.9-1-1.8-1.3-1.6z"/><path class="c41" d="M331.8 75.5l1.3 3.6-1-0.5-1.3-4.7z"/><path class="c49" d="M330.5 71.9l1.3 3.6-1-1.6-1.2-3.3z"/><path class="c58" d="M329.2 65.9l1.3 6-0.9-1.3-1.3-4.2z"/><path class="c59" d="M386.7 51.8l1.3-5.9-1 0.6-1.3 6.3z"/><path class="c49" d="M385.4 58.4l1.3-6.6-1 1-1.2 4.7z"/><path class="c42" d="M384.1 61l1.3-2.6-0.9-0.9-1.3 3.2z"/><path class="c36" d="M382.9 66.2l1.2-5.2-0.9-0.3-1.3 4z"/><path class="c30" d="M381.6 69.2l1.3-3-1-1.5-1.3 2.9z"/><path class="c25" d="M380.3 72.7l1.3-3.5-1-1.6-1.3 3.1z"/><path class="c20" d="M379 74.1l1.3-1.4-1-2-1.3 4.1z"/><path class="c17" d="M377.7 76.4l1.3-2.3-1 0.7-1.2 0.8z"/><path class="c15" d="M376.4 77.6l1.3-1.2-0.9-0.8-1.3 2.4z"/><path class="c12" d="M375.2 79.8l1.2-2.2-0.9 0.4-1.3 2.2z"/><path class="c11" d="M343 89.4l1.3 2.6-0.9-2.4-1.3 1.1z"/><path class="c13" d="M341.8 89.5l1.2-0.1-0.9 1.3-1.3-1.6z"/><path class="c15" d="M340.5 89.1l1.3 0.4-1-0.4-1.3-1.3z"/><path class="c18" d="M339.2 87.4l1.3 1.7-1-1.3-1.3-1z"/><path class="c22" d="M337.9 85.7l1.3 1.7-1-0.6-1.3-2.1z"/><path class="c29" d="M335.3 81.9l1.3 2.9-0.9-0.3-1.3-2.5z"/><path class="c35" d="M334.1 80l1.2 1.9-0.9 0.1-1.3-2.9z"/><path class="c42" d="M332.8 74.5l1.3 5.5-1-0.9-1.3-3.6z"/><path class="c49" d="M331.5 71.4l1.3 3.1-1 1-1.3-3.6z"/><path class="c59" d="M330.2 65l1.3 6.4-1 0.5-1.3-6z"/><path class="c60" d="M387.7 51.2l1.3-3.7-1-1.6-1.3 5.9z"/><path class="c50" d="M386.4 58.1l1.3-6.9-1 0.6-1.3 6.6z"/><path class="c43" d="M385.1 60.7l1.3-2.6-1 0.3-1.3 2.6z"/><path class="c36" d="M383.8 66.6l1.3-5.9-1 0.3-1.2 5.2z"/><path class="c30" d="M382.5 69l1.3-2.4-0.9-0.4-1.3 3z"/><path class="c25" d="M381.3 71.5l1.2-2.5-0.9 0.2-1.3 3.5z"/><path class="c21" d="M380 73.9l1.3-2.4-1 1.2-1.3 1.4z"/><path class="c18" d="M378.7 75.9l1.3-2-1 0.2-1.3 2.3z"/><path class="c15" d="M377.4 78.5l1.3-2.6-1 0.5-1.3 1.2z"/><path class="c13" d="M376.1 80.4l1.3-1.9-1-0.9-1.2 2.2z"/><path class="c11" d="M344 91.6l1.3 0.3-1 0.1-1.3-2.6z"/><path class="c16" d="M341.4 89.2l1.3 0.5-0.9-0.2-1.3-0.4z"/><path class="c18" d="M340.2 88.9l1.2 0.3-0.9-0.1-1.3-1.7z"/><path class="c22" d="M338.9 85.4l1.3 3.5-1-1.5-1.3-1.7z"/><path class="c26" d="M337.6 84l1.3 1.4-1 0.3-1.3-0.9z"/><path class="c30" d="M336.3 83.1l1.3 0.9-1 0.8-1.3-2.9z"/><path class="c35" d="M335 78.1l1.3 5-1-1.2-1.2-1.9z"/><path class="c42" d="M333.7 76.5l1.3 1.6-0.9 1.9-1.3-5.5z"/><path class="c50" d="M332.5 71l1.2 5.5-0.9-2-1.3-3.1z"/><path class="c60" d="M331.2 65.4l1.3 5.6-1 0.4-1.3-6.4zM388.6 52.9l1.3-6.7-0.9 1.3-1.3 3.7z"/><path class="c51" d="M387.4 57.4l1.2-4.5-0.9-1.7-1.3 6.9z"/><path class="c44" d="M386.1 60.9l1.3-3.5-1 0.7-1.3 2.6z"/><path class="c37" d="M384.8 65.7l1.3-4.8-1-0.2-1.3 5.9z"/><path class="c30" d="M383.5 70.1l1.3-4.4-1 0.9-1.3 2.4z"/><path class="c26" d="M382.2 71.2l1.3-1.1-1-1.1-1.2 2.5z"/><path class="c22" d="M380.9 75.5l1.3-4.3-0.9 0.3-1.3 2.4z"/><path class="c19" d="M379.7 76.3l1.2-0.8-0.9-1.6-1.3 2z"/><path class="c8" d="M350.1 90.7l1.3 0.5-1 0.6-1.3 0.6z"/><path class="c9" d="M348.8 90.8l1.3-0.1-1 1.7-1.2 0zM347.5 92.3l1.3-1.5-0.9 1.6-1.3 0.1z"/><path class="c10" d="M346.3 91.1l1.2 1.2-0.9 0.2-1.3-0.6z"/><path class="c11" d="M345 91.3l1.3-0.2-1 0.8-1.3-0.3z"/><path class="c14" d="M343.7 89.4l1.3 1.9-1 0.3-1.3-1.9z"/><path class="c16" d="M342.4 89.4l1.3 0-1 0.3-1.3-0.5z"/><path class="c19" d="M341.1 87.4l1.3 2-1-0.2-1.2-0.3z"/><path class="c22" d="M339.8 86.7l1.3 0.7-0.9 1.5-1.3-3.5z"/><path class="c31" d="M337.3 81.3l1.3 4.3-1-1.6-1.3-0.9z"/><path class="c37" d="M336 78.4l1.3 2.9-1 1.8-1.3-5z"/><path class="c43" d="M334.7 76.4l1.3 2-1-0.3-1.3-1.6z"/><path class="c51" d="M333.4 70.5l1.3 5.9-1 0.1-1.2-5.5z"/><path class="c60" d="M332.1 67.3l1.3 3.2-0.9 0.5-1.3-5.6z"/><path class="c61" d="M389.6 52.8l1.3-5.1-1-1.5-1.3 6.7z"/><path class="c52" d="M388.3 56.7l1.3-3.9-1 0.1-1.2 4.5z"/><path class="c44" d="M387 63l1.3-6.3-0.9 0.7-1.3 3.5z"/><path class="c38" d="M385.8 65.8l1.2-2.8-0.9-2.1-1.3 4.8z"/><path class="c32" d="M384.5 68.4l1.3-2.6-1-0.1-1.3 4.4z"/><path class="c27" d="M383.2 73l1.3-4.6-1 1.7-1.3 1.1z"/><path class="c23" d="M381.9 73.9l1.3-0.9-1-1.8-1.3 4.3z"/><path class="c19" d="M380.6 76.9l1.3-3-1 1.6-1.2 0.8z"/><path class="c11" d="M347.2 90.8l1.3 1.2-1 0.3-1.2-1.2z"/><path class="c17" d="M343.4 88.3l1.3 2.9-1-1.8-1.3 0z"/><path class="c20" d="M342.1 87.7l1.3 0.6-1 1.1-1.3-2z"/><path class="c23" d="M340.8 87.4l1.3 0.3-1-0.3-1.3-0.7z"/><path class="c26" d="M339.5 85.1l1.3 2.3-1-0.7-1.2-1.1z"/><path class="c31" d="M338.2 83.1l1.3 2-0.9 0.5-1.3-4.3z"/><path class="c38" d="M337 79.2l1.2 3.9-0.9-1.8-1.3-2.9z"/><path class="c44" d="M335.7 76l1.3 3.2-1-0.8-1.3-2z"/><path class="c52" d="M334.4 71.3l1.3 4.7-1 0.4-1.3-5.9z"/><path class="c61" d="M333.1 66.1l1.3 5.2-1-0.8-1.3-3.2z"/><path class="c62" d="M390.6 52.8l1.3-6.5-1 1.4-1.3 5.1z"/><path class="c53" d="M389.3 57.3l1.3-4.5-1 0-1.3 3.9z"/><path class="c46" d="M388 60.8l1.3-3.5-1-0.6-1.3 6.3z"/><path class="c39" d="M386.7 64.5l1.3-3.7-1 2.2-1.2 2.8z"/><path class="c34" d="M385.4 68.4l1.3-3.9-0.9 1.3-1.3 2.6z"/><path class="c28" d="M384.2 72.2l1.2-3.8-0.9 0-1.3 4.6z"/><path class="c24" d="M382.9 73.5l1.3-1.3-1 0.8-1.3 0.9z"/><path class="c21" d="M381.6 76.6l1.3-3.1-1 0.4-1.3 3z"/><path class="c10" d="M373.9 84l1.3-0.9-1 1.4-1.3-0.5z"/><path class="c9" d="M367.5 87.1l1.2-0.7-0.9 0.9-1.3-0.7zM352 92.7l1.3-2.4-0.9 1.9-1.3 0.5z"/><path class="c10" d="M350.8 90.5l1.2 2.2-0.9 0-1.3-1z"/><path class="c12" d="M348.2 91.5l1.3 0.8-1-0.3-1.3-1.2z"/><path class="c14" d="M346.9 90.2l1.3 1.3-1-0.7-1.3 1.3z"/><path class="c15" d="M345.6 90.7l1.3-0.5-1 1.9-1.2-0.9z"/><path class="c18" d="M344.3 89.8l1.3 0.9-0.9 0.5-1.3-2.9z"/><path class="c21" d="M343.1 87.5l1.2 2.3-0.9-1.5-1.3-0.6z"/><path class="c24" d="M341.8 86.1l1.3 1.4-1 0.2-1.3-0.3z"/><path class="c28" d="M340.5 84.2l1.3 1.9-1 1.3-1.3-2.3z"/><path class="c32" d="M339.2 82.8l1.3 1.4-1 0.9-1.3-2z"/><path class="c38" d="M337.9 78.6l1.3 4.2-1 0.3-1.2-3.9z"/><path class="c45" d="M336.6 76.6l1.3 2-0.9 0.6-1.3-3.2z"/><path class="c52" d="M335.4 71.5l1.2 5.1-0.9-0.6-1.3-4.7z"/><path class="c62" d="M334.1 66.8l1.3 4.7-1-0.2-1.3-5.2z"/><path class="c63" d="M391.5 52.8l1.3-6-0.9-0.5-1.3 6.5z"/><path class="c54" d="M390.3 56.8l1.2-4-0.9 0-1.3 4.5z"/><path class="c47" d="M389 61.7l1.3-4.9-1 0.5-1.3 3.5z"/><path class="c41" d="M387.7 64.4l1.3-2.7-1-0.9-1.3 3.7z"/><path class="c35" d="M386.4 69.5l1.3-5.1-1 0.1-1.3 3.9z"/><path class="c29" d="M385.1 71.4l1.3-1.9-1-1.1-1.2 3.8z"/><path class="c26" d="M383.8 73.3l1.3-1.9-0.9 0.8-1.3 1.3z"/><path class="c11" d="M368.4 85.4l1.3 1.5-1-0.5-1.2 0.7zM367.1 85.8l1.3-0.4-0.9 1.7-1.3 1.2zM365.9 87.6l1.2-1.8-0.9 2.5-1.3-0.5zM364.6 87.7l1.3-0.1-1 0.2-1.3-0.2zM355.6 90.5l1.3-0.7-1 1.2-1.3 0.5z"/><path class="c12" d="M354.3 90.4l1.3 0.1-1 1-1.3-1.2zM351.7 90.7l1.3 1.6-1 0.4-1.2-2.2z"/><path class="c13" d="M349.2 92.1l1.2-0.4-0.9 0.6-1.3-0.8z"/><path class="c15" d="M347.9 89.3l1.3 2.8-1-0.6-1.3-1.3z"/><path class="c18" d="M346.6 89.8l1.3-0.5-1 0.9-1.3 0.5z"/><path class="c19" d="M345.3 89.8l1.3 0-1 0.9-1.3-0.9z"/><path class="c22" d="M344 87.1l1.3 2.7-1 0-1.2-2.3z"/><path class="c26" d="M342.7 85.1l1.3 2-0.9 0.4-1.3-1.4z"/><path class="c30" d="M341.5 84.7l1.2 0.4-0.9 1-1.3-1.9z"/><path class="c34" d="M340.2 81.4l1.3 3.3-1-0.5-1.3-1.4z"/><path class="c40" d="M338.9 78.6l1.3 2.8-1 1.4-1.3-4.2z"/><path class="c47" d="M337.6 74.6l1.3 4-1 0-1.3-2z"/><path class="c54" d="M336.3 71.2l1.3 3.4-1 2-1.2-5.1z"/><path class="c63" d="M335 65.2l1.3 6-0.9 0.3-1.3-4.7z"/><path class="c65" d="M392.5 50.8l1.3-4.9-1 0.9-1.3 6z"/><path class="c56" d="M391.2 56.5l1.3-5.7-1 2-1.2 4z"/><path class="c48" d="M389.9 61l1.3-4.5-0.9 0.3-1.3 4.9z"/><path class="c42" d="M388.7 65.6l1.2-4.6-0.9 0.7-1.3 2.7z"/><path class="c36" d="M387.4 69l1.3-3.4-1-1.2-1.3 5.1z"/><path class="c30" d="M386.1 72.4l1.3-3.4-1 0.5-1.3 1.9z"/><path class="c27" d="M384.8 74.5l1.3-2.1-1-1-1.3 1.9z"/><path class="c16" d="M379.7 79.9l1.3 0.2-1 0.7-1.3 0.1z"/><path class="c12" d="M373.2 84.4l1.3-0.6-0.9 1.3-1.3 0.8zM372 84.7l1.2-0.3-0.9 1.5-1.3 0.8zM370.7 85.4l1.3-0.7-1 2-1.3 0.2z"/><path class="c13" d="M369.4 85.7l1.3-0.3-1 1.5-1.3-1.5zM366.8 85.8l1.3 1.7-1-1.7-1.2 1.8zM365.5 86.7l1.3-0.9-0.9 1.8-1.3 0.1z"/><path class="c12" d="M364.3 87.4l1.2-0.7-0.9 1-1.3 1.7zM363 88.3l1.3-0.9-1 2-1.3-0.8zM361.7 88.4l1.3-0.1-1 0.3-1.3 1z"/><path class="c13" d="M352.7 90.6l1.3 1.1-1 0.6-1.3-1.6z"/><path class="c15" d="M350.1 89.6l1.3 1.1-1 1-1.2 0.4z"/><path class="c18" d="M348.8 89.1l1.3 0.5-0.9 2.5-1.3-2.8z"/><path class="c21" d="M346.3 87.5l1.3 2.5-1-0.2-1.3 0z"/><path class="c24" d="M345 86.6l1.3 0.9-1 2.3-1.3-2.7z"/><path class="c28" d="M343.7 85.3l1.3 1.3-1 0.5-1.3-2z"/><path class="c32" d="M342.4 82.7l1.3 2.6-1-0.2-1.2-0.4z"/><path class="c36" d="M341.1 81.7l1.3 1-0.9 2-1.3-3.3z"/><path class="c42" d="M339.9 78.4l1.2 3.3-0.9-0.3-1.3-2.8z"/><path class="c49" d="M338.6 74.7l1.3 3.7-1 0.2-1.3-4z"/><path class="c56" d="M337.3 70.6l1.3 4.1-1-0.1-1.3-3.4z"/><path class="c65" d="M336 65.1l1.3 5.5-1 0.6-1.3-6z"/><path class="c67" d="M393.5 50.4l1.3-5-1 0.5-1.3 4.9z"/><path class="c58" d="M392.2 57.1l1.3-6.7-1 0.4-1.3 5.7z"/><path class="c50" d="M390.9 60.8l1.3-3.7-1-0.6-1.3 4.5z"/><path class="c44" d="M389.6 63.3l1.3-2.5-1 0.2-1.2 4.6z"/><path class="c38" d="M388.3 68.2l1.3-4.9-0.9 2.3-1.3 3.4z"/><path class="c32" d="M387.1 71.2l1.2-3-0.9 0.8-1.3 3.4z"/><path class="c19" d="M380.6 79l1.3 0.4-0.9 0.7-1.3-0.2z"/><path class="c15" d="M374.2 83l1.3-0.2-1 1-1.3 0.6z"/><path class="c14" d="M371.6 84.1l1.3 1.4-0.9-0.8-1.3 0.7zM369.1 85l1.3 1.2-1-0.5-1.3 1.8z"/><path class="c15" d="M367.8 86.4l1.3-1.4-1 2.5-1.3-1.7zM365.2 86.6l1.3-0.2-1 0.3-1.2 0.7zM363.9 87.7l1.3-1.1-0.9 0.8-1.3 0.9zM361.4 87.3l1.3-0.4-1 1.5-1.3 1.8z"/><path class="c14" d="M360.1 89.4l1.3-2.1-1 2.9-1.3 0.3zM358.8 90.3l1.3-0.9-1 1.1-1.3-0.7zM357.5 89.1l1.3 1.2-1-0.5-1.2 1.3z"/><path class="c15" d="M356.2 90.5l1.3-1.4-0.9 2-1.3-1.2zM353.7 90.3l1.2 1-0.9 0.4-1.3-1.1z"/><path class="c18" d="M351.1 89.6l1.3 1.6-1-0.5-1.3-1.1z"/><path class="c20" d="M349.8 89.2l1.3 0.4-1 0-1.3-0.5z"/><path class="c21" d="M348.5 88.3l1.3 0.9-1-0.1-1.2 0.9z"/><path class="c23" d="M347.2 88.7l1.3-0.4-0.9 1.7-1.3-2.5z"/><path class="c26" d="M346 87.1l1.2 1.6-0.9-1.2-1.3-0.9z"/><path class="c30" d="M344.7 83.9l1.3 3.2-1-0.5-1.3-1.3z"/><path class="c34" d="M343.4 83.2l1.3 0.7-1 1.4-1.3-2.6z"/><path class="c38" d="M342.1 81.1l1.3 2.1-1-0.5-1.3-1z"/><path class="c44" d="M340.8 76.8l1.3 4.3-1 0.6-1.2-3.3z"/><path class="c50" d="M339.5 74.7l1.3 2.1-0.9 1.6-1.3-3.7z"/><path class="c58" d="M338.3 70.8l1.2 3.9-0.9 0-1.3-4.1z"/><path class="c67" d="M337 64.8l1.3 6-1-0.2-1.3-5.5z"/><path class="c69" d="M394.4 50.2l1.3-5.6-0.9 0.8-1.3 5z"/><path class="c60" d="M393.2 56.2l1.2-6-0.9 0.2-1.3 6.7z"/><path class="c52" d="M391.9 59.8l1.3-3.6-1 0.9-1.3 3.7z"/><path class="c46" d="M390.6 62.9l1.3-3.1-1 1-1.3 2.5z"/><path class="c41" d="M389.3 66.5l1.3-3.6-1 0.4-1.3 4.9z"/><path class="c32" d="M386.7 71.6l1.3-2.7-0.9 2.3-1.3 0.7z"/><path class="c29" d="M385.5 75l1.2-3.4-0.9 0.3-1.3 2.3z"/><path class="c18" d="M375.2 82.2l1.3 1-1-0.4-1.3 0.2z"/><path class="c16" d="M372.6 84.9l1.3-0.8-1 1.4-1.3-1.4z"/><path class="c17" d="M371.3 84.2l1.3 0.7-1-0.8-1.2 2.1zM370 85.3l1.3-1.1-0.9 2-1.3-1.2zM368.8 85.1l1.2 0.2-0.9-0.3-1.3 1.4zM367.5 85.6l1.3-0.5-1 1.3-1.3 0zM366.2 86.3l1.3-0.7-1 0.8-1.3 0.2z"/><path class="c16" d="M359.8 89.4l1.3-1.5-1 1.5-1.3 0.9zM358.5 89.7l1.3-0.3-1 0.9-1.3-1.2z"/><path class="c17" d="M357.2 89.1l1.3 0.6-1-0.6-1.3 1.4zM355.9 88.2l1.3 0.9-1 1.4-1.3 0.8z"/><path class="c18" d="M354.6 90.3l1.3-2.1-1 3.1-1.2-1zM353.3 89.2l1.3 1.1-0.9 0-1.3 0.9z"/><path class="c19" d="M352.1 90l1.2-0.8-0.9 2-1.3-1.6z"/><path class="c21" d="M350.8 87.7l1.3 2.3-1-0.4-1.3-0.4z"/><path class="c24" d="M349.5 87.9l1.3-0.2-1 1.5-1.3-0.9z"/><path class="c26" d="M348.2 85.8l1.3 2.1-1 0.4-1.3 0.4z"/><path class="c28" d="M346.9 86.5l1.3-0.7-1 2.9-1.2-1.6z"/><path class="c31" d="M345.6 84.1l1.3 2.4-0.9 0.6-1.3-3.2z"/><path class="c36" d="M344.4 82.6l1.2 1.5-0.9-0.2-1.3-0.7z"/><path class="c40" d="M343.1 79l1.3 3.6-1 0.6-1.3-2.1z"/><path class="c46" d="M341.8 77.8l1.3 1.2-1 2.1-1.3-4.3z"/><path class="c52" d="M340.5 74.2l1.3 3.6-1-1-1.3-2.1z"/><path class="c60" d="M339.2 68.1l1.3 6.1-1 0.5-1.2-3.9z"/><path class="c70" d="M337.9 63.6l1.3 4.5-0.9 2.7-1.3-6z"/><path class="c72" d="M395.4 49.3l1.3-7.3-1 2.6-1.3 5.6z"/><path class="c63" d="M394.1 53.3l1.3-4-1 0.9-1.2 6z"/><path class="c56" d="M392.8 57.2l1.3-3.9-0.9 2.9-1.3 3.6z"/><path class="c49" d="M391.6 62.9l1.2-5.7-0.9 2.6-1.3 3.1z"/><path class="c43" d="M390.3 64.9l1.3-2-1 0-1.3 3.6z"/><path class="c39" d="M389 68.3l1.3-3.4-1 1.6-1.3 2.4z"/><path class="c35" d="M387.7 70.1l1.3-1.8-1 0.6-1.3 2.7z"/><path class="c31" d="M386.4 74l1.3-3.9-1 1.5-1.2 3.4z"/><path class="c28" d="M385.1 74.7l1.3-0.7-0.9 1-1.3 1.1z"/><path class="c23" d="M382.6 78.2l1.3-1.7-1 2.2-1.3 1.3z"/><path class="c22" d="M381.3 79.2l1.3-1-1 1.8-1.3 0zM380 78.8l1.3 0.4-1 0.8-1.3 1.5z"/><path class="c21" d="M378.7 79.7l1.3-0.9-1 2.7-1.2 0.8z"/><path class="c20" d="M377.4 81.9l1.3-2.2-0.9 2.6-1.3 0.9zM376.1 82.8l1.3-0.9-0.9 1.3-1.3-1zM374.9 81.4l1.2 1.4-0.9-0.6-1.3 1.9zM373.6 82l1.3-0.6-1 2.7-1.3 0.8zM372.3 83.9l1.3-1.9-1 2.9-1.3-0.7z"/><path class="c19" d="M371 83.8l1.3 0.1-1 0.3-1.3 1.1z"/><path class="c20" d="M369.7 83.7l1.3 0.1-1 1.5-1.2-0.2zM368.4 83.5l1.3 0.2-0.9 1.4-1.3 0.5zM367.2 84.3l1.2-0.8-0.9 2.1-1.3 0.7zM365.9 86.2l1.3-1.9-1 2-1.3 0.6z"/><path class="c19" d="M364.6 86.7l1.3-0.5-1 0.7-1.3 1zM363.3 86.7l1.3 0-1 1.2-1.3 0.7z"/><path class="c20" d="M362 85.7l1.3 1-1 1.9-1.2-0.7zM360.7 86.5l1.3-0.8-0.9 2.2-1.3 1.5zM359.5 86.6l1.2-0.1-0.9 2.9-1.3 0.3zM358.2 88.7l1.3-2.1-1 3.1-1.3-0.6z"/><path class="c21" d="M356.9 87.1l1.3 1.6-1 0.4-1.3-0.9zM355.6 88.3l1.3-1.2-1 1.1-1.3 2.1zM354.3 88.5l1.3-0.2-1 2-1.3-1.1z"/><path class="c22" d="M353 88.7l1.3-0.2-1 0.7-1.2 0.8z"/><path class="c24" d="M351.7 86.8l1.3 1.9-0.9 1.3-1.3-2.3z"/><path class="c26" d="M350.5 87.1l1.2-0.3-0.9 0.9-1.3 0.2z"/><path class="c29" d="M349.2 85.2l1.3 1.9-1 0.8-1.3-2.1z"/><path class="c32" d="M347.9 83.7l1.3 1.5-1 0.6-1.3 0.7z"/><path class="c35" d="M346.6 82.5l1.3 1.2-1 2.8-1.3-2.4z"/><path class="c38" d="M345.3 81.8l1.3 0.7-1 1.6-1.2-1.5z"/><path class="c43" d="M344 77.9l1.3 3.9-0.9 0.8-1.3-3.6z"/><path class="c49" d="M342.8 76l1.2 1.9-0.9 1.1-1.3-1.2z"/><path class="c55" d="M341.5 71.1l1.3 4.9-1 1.8-1.3-3.6z"/><path class="c63" d="M340.2 68.9l1.3 2.2-1 3.1-1.3-6.1z"/><path class="c72" d="M338.9 63.3l1.3 5.6-1-0.8-1.3-4.5z"/><path class="c76" d="M396.4 47l1.3-6.3-1 1.3-1.3 7.3z"/><path class="c67" d="M395.1 53.1l1.3-6.1-1 2.3-1.3 4z"/><path class="c59" d="M393.8 57.7l1.3-4.6-1 0.2-1.3 3.9z"/><path class="c52" d="M392.5 59.9l1.3-2.2-1-0.5-1.2 5.7z"/><path class="c47" d="M391.2 64l1.3-4.1-0.9 3-1.3 2z"/><path class="c42" d="M390 65.9l1.2-1.9-0.9 0.9-1.3 3.4z"/><path class="c38" d="M388.7 70.5l1.3-4.6-1 2.4-1.3 1.8z"/><path class="c29" d="M384.8 75.1l1.3-0.6-1 0.2-1.2 1.8z"/><path class="c28" d="M383.5 75.1l1.3 0-0.9 1.4-1.3 1.7z"/><path class="c26" d="M382.3 77l1.2-1.9-0.9 3.1-1.3 1z"/><path class="c25" d="M381 78.8l1.3-1.8-1 2.2-1.3-0.4z"/><path class="c24" d="M378.4 79.4l1.3-0.3-1 0.6-1.3 2.2z"/><path class="c23" d="M377.1 79.8l1.3-0.4-1 2.5-1.3 0.9zM375.8 81.6l1.3-1.8-1 3-1.2-1.4zM373.3 82.1l1.2 0.4-0.9-0.5-1.3 1.9z"/><path class="c22" d="M372 83.2l1.3-1.1-1 1.8-1.3-0.1z"/><path class="c23" d="M370.7 82.5l1.3 0.7-1 0.6-1.3-0.1z"/><path class="c24" d="M369.4 82.3l1.3 0.2-1 1.2-1.3-0.2z"/><path class="c22" d="M365.6 85.3l1.2-0.4-0.9 1.3-1.3 0.5zM364.3 85.1l1.3 0.2-1 1.4-1.3 0z"/><path class="c23" d="M363 85.4l1.3-0.3-1 1.6-1.3-1z"/><path class="c24" d="M361.7 85.1l1.3 0.3-1 0.3-1.3 0.8zM360.4 85l1.3 0.1-1 1.4-1.2 0.1zM359.1 86.4l1.3-1.4-0.9 1.6-1.3 2.1zM357.8 87.6l1.3-1.2-0.9 2.3-1.3-1.6zM356.6 86.5l1.2 1.1-0.9-0.5-1.3 1.2z"/><path class="c25" d="M355.3 85.7l1.3 0.8-1 1.8-1.3 0.2z"/><path class="c26" d="M354 85.2l1.3 0.5-1 2.8-1.3 0.2z"/><path class="c28" d="M352.7 85.2l1.3 0-1 3.5-1.3-1.9z"/><path class="c30" d="M351.4 84.7l1.3 0.5-1 1.6-1.2 0.3z"/><path class="c32" d="M350.1 85.1l1.3-0.4-0.9 2.4-1.3-1.9z"/><path class="c34" d="M348.9 83.9l1.2 1.2-0.9 0.1-1.3-1.5z"/><path class="c38" d="M347.6 81.4l1.3 2.5-1-0.2-1.3-1.2z"/><path class="c42" d="M346.3 79.8l1.3 1.6-1 1.1-1.3-0.7z"/><path class="c47" d="M345 76.7l1.3 3.1-1 2-1.3-3.9z"/><path class="c53" d="M343.7 73.1l1.3 3.6-1 1.2-1.2-1.9z"/><path class="c60" d="M342.4 70.1l1.3 3-0.9 2.9-1.3-4.9z"/><path class="c67" d="M341.2 65.8l1.2 4.3-0.9 1-1.3-2.2z"/><path class="c76" d="M339.9 60.7l1.3 5.1-1 3.1-1.3-5.6z"/><path class="c80" d="M397.3 45.1l1.3-5.1-0.9 0.7-1.3 6.3z"/><path class="c71" d="M396.1 49.9l1.2-4.8-0.9 1.9-1.3 6.1z"/><path class="c56" d="M393.5 59.6l1.3-5.5-1 3.6-1.3 2.2z"/><path class="c51" d="M392.2 61.8l1.3-2.2-1 0.3-1.3 4.1z"/><path class="c46" d="M390.9 65.1l1.3-3.3-1 2.2-1.2 1.9z"/><path class="c42" d="M389.6 67.3l1.3-2.2-0.9 0.8-1.3 4.6z"/><path class="c38" d="M388.4 68.7l1.2-1.4-0.9 3.2-1.3 2.2z"/><path class="c35" d="M387.1 72.4l1.3-3.7-1 4-1.3 1.8z"/><path class="c33" d="M385.8 73l1.3-0.6-1 2.1-1.3 0.6z"/><path class="c28" d="M380.7 78.1l1.2-0.7-0.9 1.4-1.3 0.3z"/><path class="c27" d="M379.4 79.1l1.3-1-1 1-1.3 0.3zM376.8 78.9l1.3 0.8-1 0.1-1.3 1.8z"/><path class="c26" d="M375.5 79.7l1.3-0.8-1 2.7-1.3 0.9z"/><path class="c27" d="M374.2 79.6l1.3 0.1-1 2.8-1.2-0.4zM372.9 80.2l1.3-0.6-0.9 2.5-1.3 1.1zM371.7 80.6l1.2-0.4-0.9 3-1.3-0.7zM370.4 82.2l1.3-1.6-1 1.9-1.3-0.2zM369.1 80.8l1.3 1.4-1 0.1-1.3 2.4z"/><path class="c26" d="M367.8 83l1.3-2.2-1 3.9-1.3 0.2zM366.5 83.9l1.3-0.9-1 1.9-1.2 0.4zM365.2 83.4l1.3 0.5-0.9 1.4-1.3-0.2z"/><path class="c27" d="M364 84.1l1.2-0.7-0.9 1.7-1.3 0.3zM362.7 83.8l1.3 0.3-1 1.3-1.3-0.3z"/><path class="c28" d="M361.4 84.7l1.3-0.9-1 1.3-1.3-0.1zM360.1 84.2l1.3 0.5-1 0.3-1.3 1.4z"/><path class="c27" d="M358.8 85.1l1.3-0.9-1 2.2-1.3 1.2z"/><path class="c28" d="M357.5 84.4l1.3 0.7-1 2.5-1.2-1.1z"/><path class="c30" d="M356.2 84.4l1.3 0-0.9 2.1-1.3-0.8z"/><path class="c31" d="M355 84l1.2 0.4-0.9 1.3-1.3-0.5z"/><path class="c32" d="M353.7 83.7l1.3 0.3-1 1.2-1.3 0z"/><path class="c34" d="M352.4 83.9l1.3-0.2-1 1.5-1.3-0.5z"/><path class="c35" d="M351.1 82.6l1.3 1.3-1 0.8-1.3 0.4z"/><path class="c37" d="M349.8 82.4l1.3 0.2-1 2.5-1.2-1.2z"/><path class="c41" d="M348.5 79.7l1.3 2.7-0.9 1.5-1.3-2.5z"/><path class="c45" d="M347.3 78.5l1.2 1.2-0.9 1.7-1.3-1.6z"/><path class="c50" d="M346 76l1.3 2.5-1 1.3-1.3-3.1z"/><path class="c56" d="M344.7 72.4l1.3 3.6-1 0.7-1.3-3.6z"/><path class="c63" d="M343.4 69.3l1.3 3.1-1 0.7-1.3-3z"/><path class="c71" d="M342.1 65.2l1.3 4.1-1 0.8-1.2-4.3z"/><path class="c80" d="M340.8 59.6l1.3 5.6-0.9 0.6-1.3-5.1z"/><path class="c85" d="M398.3 43.7l1.3-6.7-1 3-1.3 5.1z"/><path class="c75" d="M397 49.2l1.3-5.5-1 1.4-1.2 4.8z"/><path class="c68" d="M395.7 53.6l1.3-4.4-0.9 0.7-1.3 4.2z"/><path class="c61" d="M394.5 57l1.2-3.4-0.9 0.5-1.3 5.5z"/><path class="c55" d="M393.2 60.5l1.3-3.5-1 2.6-1.3 2.2z"/><path class="c50" d="M391.9 63.8l1.3-3.3-1 1.3-1.3 3.3z"/><path class="c46" d="M390.6 66l1.3-2.2-1 1.3-1.3 2.2z"/><path class="c43" d="M389.3 67.6l1.3-1.6-1 1.3-1.2 1.4z"/><path class="c40" d="M388 69.2l1.3-1.6-0.9 1.1-1.3 3.7z"/><path class="c37" d="M386.8 72.1l1.2-2.9-0.9 3.2-1.3 0.6z"/><path class="c35" d="M385.5 72.7l1.3-0.6-1 0.9-1.3 2.4z"/><path class="c34" d="M384.2 72.6l1.3 0.1-1 2.7-1.3 1.2zM382.9 73.4l1.3-0.8-1 4-1.3 0.8z"/><path class="c33" d="M381.6 74.8l1.3-1.4-1 4-1.2 0.7z"/><path class="c32" d="M380.3 74.8l1.3 0-0.9 3.3-1.3 1zM379 75.5l1.3-0.7-0.9 4.3-1.3 0.6zM377.8 77.4l1.2-1.9-0.9 4.2-1.3-0.8z"/><path class="c31" d="M376.5 78.3l1.3-0.9-1 1.5-1.3 0.8zM375.2 78.5l1.3-0.2-1 1.4-1.3-0.1z"/><path class="c32" d="M373.9 77.8l1.3 0.7-1 1.1-1.3 0.6zM372.6 78.8l1.3-1-1 2.4-1.2 0.4z"/><path class="c31" d="M371.3 80.2l1.3-1.4-0.9 1.8-1.3 1.6zM370.1 80l1.2 0.2-0.9 2-1.3-1.4z"/><path class="c32" d="M368.8 79.8l1.3 0.2-1 0.8-1.3 2.2z"/><path class="c31" d="M367.5 81.2l1.3-1.4-1 3.2-1.3 0.9zM366.2 81.3l1.3-0.1-1 2.7-1.3-0.5zM364.9 82.1l1.3-0.8-1 2.1-1.2 0.7zM363.6 81.8l1.3 0.3-0.9 2-1.3-0.3zM362.4 83.4l1.2-1.6-0.9 2-1.3 0.9z"/><path class="c32" d="M361.1 82.3l1.3 1.1-1 1.3-1.3-0.5zM359.8 82.3l1.3 0-1 1.9-1.3 0.9z"/><path class="c33" d="M358.5 83.3l1.3-1-1 2.8-1.3-0.7z"/><path class="c34" d="M357.2 82.4l1.3 0.9-1 1.1-1.3 0z"/><path class="c35" d="M355.9 82.6l1.3-0.2-1 2-1.2-0.4z"/><path class="c36" d="M354.6 83.2l1.3-0.6-0.9 1.4-1.3-0.3z"/><path class="c37" d="M353.4 81.6l1.2 1.6-0.9 0.5-1.3 0.2z"/><path class="c39" d="M352.1 81.6l1.3 0-1 2.3-1.3-1.3z"/><path class="c42" d="M350.8 80l1.3 1.6-1 1-1.3-0.2z"/><path class="c45" d="M349.5 78.6l1.3 1.4-1 2.4-1.3-2.7z"/><path class="c50" d="M348.2 74.7l1.3 3.9-1 1.1-1.2-1.2z"/><path class="c55" d="M346.9 72.2l1.3 2.5-0.9 3.8-1.3-2.5z"/><path class="c61" d="M345.7 70.2l1.2 2-0.9 3.8-1.3-3.6z"/><path class="c67" d="M344.4 67.2l1.3 3-1 2.2-1.3-3.1z"/><path class="c75" d="M343.1 62l1.3 5.2-1 2.1-1.3-4.1z"/><path class="c84" d="M341.8 57.5l1.3 4.5-1 3.2-1.3-5.6z"/></g>
<path d="M341.8 107.9L399.6 88.1M341.8 107.9L298.3 83M298.3 83L298.3 28.6M348.1 105.7l0.6 0.8M370.7 98l0.6 0.8M393.3 90.3l0.6 0.8M337 105.2l-0.6 0.8M320.1 95.5l-0.6 0.8M303.1 85.7l-0.6 0.8M298.3 70.7h-1M298.3 58.4h-1M298.3 46.1h-1M298.3 33.8h-1" stroke="#444" stroke-width="0.5" fill="none"/>
<text x="350.5" y="7" font-size="6.8" text-anchor="middle" fill="#262626">F7</text>
<text x="294.6" y="73.11" font-size="6.3" text-anchor="end" fill="#262626">2</text>
<text x="294.6" y="60.81" font-size="6.3" text-anchor="end" fill="#262626">4</text>
<text x="294.6" y="48.52" font-size="6.3" text-anchor="end" fill="#262626">6</text>
<text x="294.6" y="36.22" font-size="6.3" text-anchor="end" fill="#262626">8</text>
<text transform="translate(289.4 55.5) rotate(-90)" font-size="6.8" text-anchor="middle" fill="#262626">z</text>
<text x="298.3" y="94" font-size="6.3" text-anchor="middle" fill="#262626">1</text>
<text x="315.6" y="102.9" font-size="6.3" text-anchor="middle" fill="#262626">0</text>
<text x="332.7" y="113.1" font-size="6.3" text-anchor="middle" fill="#262626">-1</text>
<text x="313.1" y="109.7" font-size="6.8" text-anchor="middle" fill="#262626">y</text>
<text x="355.1" y="115.1" font-size="6.3" text-anchor="middle" fill="#262626">-1</text>
<text x="377.5" y="107.2" font-size="6.3" text-anchor="middle" fill="#262626">0</text>
<text x="399.6" y="98.3" font-size="6.3" text-anchor="middle" fill="#262626">1</text>
<text x="369.6" y="113.5" font-size="6.8" text-anchor="middle" fill="#262626">x</text>
<path d="M67.4 262.3L26.2 236.3M26.2 236.3L26.2 182M94.2 252.5L53 226.5M53 226.5L53 172.2M120.9 242.7L79.7 216.7M79.7 216.7L79.7 162.4M67.4 262.3L120.9 242.7M120.9 242.7L120.9 188.4M46.8 249.3L100.3 229.7M100.3 229.7L100.3 175.4M26.2 236.3L79.7 216.7M79.7 216.7L79.7 162.4M26.2 224.9L79.7 205.3M79.7 205.3L120.9 231.3M26.2 208L79.7 188.4M79.7 188.4L120.9 214.4M26.2 191.1L79.7 171.5M79.7 171.5L120.9 197.5" stroke="#e2e2e2" stroke-width="0.45" fill="none"/>
<path d="M120.9 242.7L79.7 216.7M26.2 236.3L79.7 216.7M79.7 216.7L79.7 162.4" stroke="#d8d8d8" stroke-width="0.45" fill="none"/>
<path d="M108.4 240l-1.1-0.3-0.5-0.4 0.5-0.9 1.1-0.1 0.9 0 0.8 0.4 0.2 0.6-0.8 0.5-1.1 0.2M39.7 235.3l-1-0.3-0.5-0.5 0.5-0.6 1-0.3 0.9 0.1 1 0.3 0.2 0.6-0.9 0.6-1.2 0.1" fill="none" stroke="#484aed" stroke-width="0.5" opacity="0.9"/>
<path d="M76.8 258.9l0.7-0.5 1-0.3 0.6-0.1M114.6 245l0.6-0.7 0.7-0.4 1-0.3 1.2-0.1 0.6 0M110.6 240.5l-1 0.2-1.3 0.1-1.5-0.2-0.4-0.2-0.5-0.1-0.6-0.5-0.2-0.6 0.2-0.7 0.2-0.4 0.6-0.4 1-0.2 1-0.1 1.5 0.2 0.7 0.1 0.4 0.1 0.7 0.4 0.4 0.5 0.1 0.7-0.5 0.7-0.7 0.4-0.1 0M71.2 254.4l-0.5 0.1-0.6 0-1.2 0-0.5-0.2-0.5-0.1-0.6-0.5 0-0.6 0.7-0.8 0.9-0.2 1.2-0.1 1.3 0.2 0.7 0.4 0.4 0.6-0.4 0.8-0.9 0.4M97.3 244.2l-1.6-0.2-0.5-0.5 0.2-0.5 0.8-0.4 1.3 0 0.9 0.4 0.1 0.6-0.3 0.3-0.9 0.3M79.3 250l0 0M58.4 256.6l0.6 0.2 0.7 0.4 0.4 0.5 0.1 0M101.3 235.5l-0.5 0-1.1-0.3-0.5-0.4-0.1-0.7 0.5-0.5 1.1-0.2 1.6 0.2 0.5 0.2 0.3 0.3 0.2 0.5-0.8 0.8-1.2 0.1M62.5 248.9l0 0M97.6 232.3l-0.7 0-0.5-0.5-0.4-0.5 1 0.3 0.9 0.3-0.3 0.4M94.4 230.3l-1.1 0-1.1-0.3-0.3-0.4 0-0.1M94.6 229.2l0.3 0.5-0.5 0.6M49.9 240.9l-1.4 0-1.1-0.4 0.1-0.7 1.2-0.5 1.4 0.2 0.5 0.4 0 0.6-0.7 0.4 0 0M42 235.9l-0.6 0.1-0.5 0.1-1.4 0-1.3-0.2-0.8-0.3-0.6-0.5-0.2-0.6 0.4-0.8 0.7-0.5 0.9-0.2 0.5-0.1 0.7 0 1.2 0 1.2 0.2 0.9 0.3 0.4 0.5 0 0.7-0.2 0.4-0.4 0.5-0.9 0.4M49.4 232l-0.5 0-1.1-0.3-0.4-0.5 0.5-0.9 0.5-0.1 0.6-0.2 1.3 0 0.3 0M51.4 231.5l-0.8 0.4-1.2 0.1M54.9 229.4l-0.7-0.1-0.1-0.4 1-0.2 1.1-0.1-0.6 0.4-0.7 0.4M27.9 237.4l0.6 0 1.1 0.3 0.7 0.3 0.6 0.6 0.2 0.6 0 0.2" fill="none" stroke="#3975fe" stroke-width="0.5" opacity="0.9"/>
<path d="M66.8 261.9l1.3 0.1M75.3 259.4l0.3-0.5 0.3-0.4 0.8-0.6 1-0.3 1.1-0.1 1.3-0.1 0.7 0M86 255.5l0.9-0.7 0.9-0.3 1.1-0.1 0.2 0M96.7 251.6l0.8-0.4 0.9-0.3 0.1 0M102.8 249.3l0.5-0.5 0.6-0.5 0.8-0.3 1.1-0.2 1.3-0.1 0 0M113.3 245.5l0.3-0.6 0.3-0.6 0.5-0.5 0.7-0.5 0.9-0.2 1.3-0.1 1 0 1.6 0.1M110.5 241.3l-1.3 0.1-0.8-0.1-0.7 0-0.8-0.1-0.8-0.1-0.5-0.1-1-0.3-0.5-0.5-0.2-0.5 0-0.7 0.1-0.7 0.2-0.7 0.2-0.8-0.9-0.3-0.6 0-0.9-0.1-0.7-0.1-0.7-0.1-1.1-0.1-1.1-0.4-0.6-0.4-0.2-0.4-0.3-0.8-0.5-0.5-0.8-0.3-1-0.3-0.6-0.5-0.6-0.4-0.6-0.5-0.6-0.4-1-0.3-0.8-0.3-0.6-0.5-0.2-0.6-0.1-0.6M97.6 230l0.7 0.4 0.7 0.4 0.7 0.4 0.4 0.6 0.5 0.5 0.8 0.3 1.1 0.3 1 0.3 0.8 0.3 0.4 0.6 0.1 0.6 0 0.5 0 0.8 0.2 0.6 0.7-0.1 0.9 0.2 0.7 0 0.7 0.1 1 0.1 0.4 0.1 1.3 0.2 1 0.2 0.8 0.4 0.4 0.5 0.2 0.6-0.1 0.5-0.2 0.7-0.3 0.4-0.9 0.6-1.1 0.2M71.1 255.2l-0.6 0-0.7 0-0.9-0.1-0.8-0.1-0.5-0.1-0.9-0.3-0.6-0.4-0.2-0.6 0-0.7 0.3-0.8 0.6-0.5 1-0.3 0.6 0 0.7 0 1.1 0 1.4 0.2 0.7 0.1 0.6 0.1 0.8 0.4 0.2 0.5 0 0.7-0.4 0.8-0.5 0.5-0.8 0.4-1.1 0.2M79.8 251.2l-1.5-0.1-1.3-0.3-0.6-0.4 0-0.7 0.3-0.5 0.6-0.5 0.9-0.2 1.3-0.1 0.6 0 0.8 0 1.1-0.1 0.6-0.5 0.3-0.4 1-0.5 0.7-0.2 1.2-0.3 1-0.3 0.5-0.5 0.7-0.5 1-0.2 0.5 0 0.9 0.1 0.7 0 0.9 0.3 0 0.7-0.4 0.6-0.6 0.4-1.1 0.2-1.2 0.1-0.8 0.4-0.8 0.4-0.8 0.3-0.8 0.4-1.2 0.1-1.2 0.1-0.4 0.4-0.5 0.7-0.5 0.5-0.8 0.4-1.1 0.2M97.3 245l-0.8 0-0.6 0-1-0.1-0.7-0.1-0.6-0.1-0.3-0.5 0-0.7 0.4-0.8 0.5-0.5 0.8-0.4 1.1-0.1 1.5 0.1 1.6 0.2 0.8 0.4 0.3 0.6 0 0.5-0.3 0.6-0.6 0.5-1 0.3-1.1 0.1M57.1 255.8l0.6 0.1 1.3 0.2 1 0.3 0.8 0.4 0.4 0.5 0.1 0.6 0 0.6M63.1 250.1l-1.6-0.1-1.1-0.4-0.6-0.4-0.1-0.4-0.1-0.9-0.2-0.5-0.9-0.2-1.4-0.4-0.6-0.4-0.5-0.5-0.6-0.4-0.6-0.4-1.1-0.3-0.9-0.3-0.5-0.5 0-0.7 0.4-0.6 1-0.2 0.7 0 0.9 0.1 0.5 0.1 0.9 0.3 0.4 0.5 0.2 0.6 0.7 0.4 0.8 0.4 0.8 0.4 0.7 0.4 0.2 0.6 0.3 0.5 1 0.3 0.7 0.1 0.6 0.1 1.2 0.2 0.7 0.4 0.4 0.6-0.1 0.5-0.3 0.6-0.8 0.4-1.1 0.1M90.2 239.7l-1 0-1.1-0.2-0.6-0.5 0.2-0.7 0.8-0.5 0.7 0 0.7 0 0.7 0.1 0.8 0.4 0.2 0.5-0.4 0.6-1 0.3M72.4 245.7l-1-0.1-0.4-0.5 1.2-0.5 0.8 0.4-0.6 0.7M50.7 251.8l1.1 0.3 0.8 0.4 0.4 0.5 0.1 0.3M86.2 236.3l-0.7 0.2-0.1-0.7 0.8 0.4 0 0.1M82 234.5l-1.3-0.3M81.2 233.2l0.6 0 1.1 0.2 0.2 0.6-1.1 0.5M43.4 247.2l0.9 0.4 0.5 0.4 0 0.1M51.4 241.9l-0.5-0.1-0.8 0.1-1-0.1-0.6 0-0.7-0.1-1.1-0.3-0.7-0.4-0.4-0.6 0-0.4 0.3-0.7 0.6-0.5 1-0.3 1.2 0 1.6 0.1 1.3 0.3 0.6 0.5 0.2 0.5 0 0.7-0.4 0.8-0.6 0.5M58.3 237.6l-1-0.1-0.7-0.4-0.2-0.6 0.6-0.6 1-0.2M60.6 236.3l0 0.2M63.7 235l-0.6-0.3 0.9-0.3-0.3 0.6M36.8 243l1.2 0.2 1 0.3 0.6 0.5 0.3 0.5 0.2 0.6M41.8 236.7l-1.3 0-0.9 0-0.6-0.1-0.8 0-1-0.2-1.2-0.4-0.5-0.5-0.1-0.6 0.1-0.5 0.3-0.7 0.2-0.3 0.9-0.7 0.9-0.3 1.1-0.1 1.4 0 0.5 0 0.9 0 0.8 0 0.7 0.1 1 0 0.6 0.1 0.6-0.4 0.3-0.7 0.3-0.7 0.2-0.4 0.9-0.6 0.9-0.3 1-0.1 1.3-0.1 1-0.3M53.6 227.7l0.9-0.2 0.9-0.3 0.9-0.3M57.2 230l-0.9 0.4-1.1 0.1-1 0.2-0.7 0.4-0.5 0.6-0.6 0.5-0.8 0.3-1.1 0.2-1.3 0.1-0.7 0-0.7-0.1-1 0-0.5-0.1-1 0.2-0.2 0.8-0.1 0.5-0.3 0.7-0.5 0.8-0.5 0.6-0.8 0.3-1.1 0.2M27 236.8l1.2 0.1 1.4 0.2 0.9 0.2 1 0.4 0.4 0.5 0.2 0.6 0 0.6-0.1 0.6" fill="none" stroke="#279ae8" stroke-width="0.5" opacity="0.9"/>
<path d="M74.1 259.8l0.4-0.7 0.3-0.7 0.4-0.7 0.6-0.4 0.9-0.3 1.3-0.1 1.3 0 1 0 1.6-0.1 0.8-0.1M83.9 256.3l0.5-0.5 0.5-0.5 0.5-0.6 0.7-0.4 0.9-0.3 1.1-0.1 0.7-0.1 0.5-0.1 1-0.2 0.7-0.4 0.4-0.2 1.2-0.5 0.9-0.3 0.9-0.3 0.9-0.3 0.6-0.4 0.8-0.4 1-0.3 0.5-0.1 0.6 0 1.1-0.2 0.9-0.3 0.7-0.4 0.4-0.4 0.6-0.7 0.4-0.3 1-0.5 0.6-0.1 0.5-0.1 1.3-0.1 1.3 0 1 0M112 246l0.5-0.9 0.2-0.7 0.3-0.7 0.2-0.7 0.1-0.8-1.6-0.1-1.5-0.1-1.5-0.1-1.5-0.1-1.6-0.1-1.5-0.1-1.5-0.1-0.4-0.6 0.3-0.3 0.1-0.8 0.1-0.8 0-0.9-0.4-0.5-0.7-0.4-0.6-0.2-0.4-0.1-1.3-0.2-1.2-0.2-1-0.3-0.5-0.5-0.3-0.6-0.2-0.5-0.5-0.5-0.9-0.4-0.6-0.2-1-0.5-0.3-0.3-0.8-0.6-0.7-0.4-0.4-0.2-0.5-0.2-0.9-0.3-0.5-0.5M57.3 230.9l-1.1 0.2-1 0.3-0.8 0.3-0.2 0.3-0.8 0.8-0.8 0.3-1.1 0.2-1 0-1.6 0.1-0.5 0.1-0.7 0-0.9 0.3-0.5 0.4-0.5 0.7-0.3 0.7-0.2 0.7-0.2 0.4-0.6 0.8-1.5-0.1-1.5-0.1-1.6-0.1-1.5-0.1-1.5-0.1-1.5-0.1-1.6-0.1-0.4 0.6-0.1 0.8-0.1 0.8-0.2 0.8 0 0.6 0.1 0.2M66 261.4l1.6 0.2 1.5 0 0.1 0M73.2 255.6l-1.1 0.2-1.4 0-1.5-0.1-1.5-0.1-1.4-0.2-0.6-0.2-0.8-0.5-0.3-0.7 0.1-0.6 0-0.5 0-0.9-0.2-0.6-0.7-0.4-0.8-0.1-1.7-0.3-1.2-0.2-0.9-0.3-0.6-0.5-0.3-0.5-0.2-0.6-0.5-0.5-0.9-0.3-0.5-0.2-0.4-0.2-0.7-0.4-0.6-0.4-0.5-0.5-0.7-0.4-0.9-0.3-0.9-0.4-0.5-0.5-0.2-0.5-0.3-0.6-0.5-0.5-1-0.3-0.9-0.1-1.6-0.3-0.4-0.1-0.6-0.2-0.7-0.4-0.3-0.5-0.1-0.6 0.1-0.7 0.1-0.8 0.3-0.7-0.4-0.6 1.6 0.1 1.5 0.1 1.5 0.1 1.5 0.2 1.6 0.1 1.5 0.1 0.5 0.4-0.2 0.6-0.1 0.8 0 0.7 0.3 0.6 0.8 0.4 1.1 0.2 1.2 0.3 0.9 0.3 0.3 0.4 0.4 0.6 0.7 0.4 0.8 0.4 0.7 0.4 0.7 0.4 0.3 0.6 0.5 0.5 0.8 0.3 1.2 0.2 1.2 0.3 0.8 0.3 0.3 0.6 0 0.7-0.1 0.7 0.2 0.6 0.6 0.4 1.1 0.3 0.7 0 0.7 0.1 0.9 0.1 0.7 0 0.7 0 1.2-0.1 0.8-0.3 0.5-0.6 0.3-0.7 0.2-0.3 0.7-0.8 0.9-0.3 1.3 0 1.3-0.1 1-0.2 0.7-0.4 0.6-0.5 0.9-0.3 0.9-0.3 0.9-0.3 0.9-0.3 0.6-0.4 0.7-0.5 1-0.2 1.3-0.1 0.9 0 1.3-0.3 0.3-0.3 0.6-0.8 0.3-0.7 0.1-0.8 0.8-0.4 1.5 0.1 1.6 0.1 1.5 0.2 1.5 0.1 1.5 0.1 1.6 0.1-0.7 0.4-0.1 0.8-0.2 0.7-0.2 0.5-0.5 0.8-0.6 0.5-0.9 0.3-0.7 0-0.5 0.1-1.3 0-1.3 0.1-1.1 0.2-0.8 0.3-0.5 0.5-0.5 0.6-0.8 0.3-1 0.3-0.8 0.1-1.1 0.4-0.5 0.2-1.1 0.5-0.9 0.3-0.5 0.1-0.5 0.1-1.1 0.2-0.7 0.4-0.5 0.5-0.6 0.5-0.8 0.4-1.1 0.2-1 0-1.6 0.1-1.2 0-0.9 0.3-0.5 0.5-0.4 0.7-0.3 0.6-0.4 0.7-0.4 0.5-0.8 0.4M114 238.4l0.1 0.8-0.1 0.7-0.2 0.8-0.2 0.7-0.3 0.8 1.5 0.1 1.5 0.1 1.5 0.1 1.6 0.1 1.5 0.1M55.6 254.9l0.7 0.2 1.2 0.2 1.3 0.2 0.8 0.2 0.5 0 1.1 0.3 0.8 0.3 0.3 0.6 0.1 0.5-0.1 0.8-0.1 0.7 0 0.1M93.4 240.8l-1.5-0.1-1.5-0.1-1.6-0.1-1.5-0.1-1.5-0.1-0.7 0.5-0.2 0.7-0.2 0.6-0.8 0.5-1.1 0.2-1.2 0.1-0.8 0.3-0.8 0.4-0.7 0.4-0.9 0.3-1.2 0.1-1.1 0.2-0.6 0.4-0.3 0.5-0.5 0.8-0.7 0.3-1.2 0.2-0.8-0.1-0.7 0-0.8-0.1-1.1-0.3-0.6-0.4 0-0.7 0-0.6-0.4-0.5-1-0.4-1.1-0.2-0.6-0.5-0.6-0.4-0.5-0.5-0.6-0.4-1-0.2-1.1-0.4-0.4-0.5 0-0.7 0.2-0.7-0.4-0.5M58.3 238.5l-1.6-0.1-1.5-0.1-1.5-0.1 0.8-0.4 0-0.6 0.3-0.8 0.4-0.7 0.6-0.5 1-0.3 0.3 0M61.6 233.7l0.9-0.3 0.9-0.3 0.9-0.3 0.9-0.3 0.6-0.5M81.3 232l1.2 0.2 1.2 0.3 0.8 0.3 0.5 0.5 0.3 0.6 0.7 0.4 0.7 0.4 0.8 0.4 0.7 0.4 0.3 0.5 0.4 0.5 0.9 0.3 1.2 0.3 0.9 0.2 1 0.4 0.2 0.4 0.1 0.8-0.1 0.7-0.2 0.8 0.5 0.4M84.2 240.2l1.6 0.1-0.4-0.5 0.2-0.4 0-0.9-0.4-0.6-1-0.3-1.1-0.3-0.6-0.4-0.5-0.5-0.6-0.4-0.6-0.5M66.3 235.8l-0.8 0.3-1 0.1-1.3 0.2-0.7 0.4-0.3 0.7-0.2 0.3-0.7 0.9 1.6 0.1 1.5 0.1 1.5 0.1 1.5 0.1M72.8 235.6l1-0.2 1.6 0.1 0.1 0.1M79.8 238.5l0.1 0.7-0.2 0.7 1.5 0.1 1.5 0.1 1.5 0.1 0 0M73.3 243.6l1-0.2 0.4-0.4 0.6-0.7 0.9-0.3M79.1 241.3l0.4-0.6 0.2-0.8M76.6 239.7l-0.6-0.5-0.4-0.5-0.4-0.5-0.6-0.4-1.2-0.1-0.7 0.4-0.7 0.4M67.4 239.1l-0.2 0.7 0.1 0.7M70.5 242.6l0.2 0.6 0.9 0.2 1.6 0.2 0.1 0M73.7 241.3l-1.2-0.1-0.6-0.4-0.4-0.5M72 239.4l1.6 0.1 1.5 0.1 1.5 0.1-0.8 0.4-0.7 0.4-0.7 0.4-0.7 0.4M97.6 228.7l0.2 0.3 0.9 0.6 0.7 0.4 0.7 0.4 0.7 0.4 0.5 0.5 0.5 0.5 0.8 0.4 0.5 0.1 0.5 0.2 1 0.3 0.7 0.4 0.5 0.5 0.1 0.4 0.2 0.8 0.2 0.3 0.7 0.7 0.6 0.1 0.4 0.2 1.2 0.2 1.3 0.2 1 0.1M35.6 242.3l1 0.1 0.9 0.2 1.6 0.2 0.4 0.2 0.6 0.1 0.6 0.5 0.3 0.5 0.1 0.6 0.2 0.6 0.5 0.5 0.7 0.4 1 0.3 0.5 0.2 0.5 0.1 0.8 0.4 0.5 0.5 0.3 0.3 0.9 0.6 0.5 0.3 0.9 0.5 0.7 0.4 0.4 0.5 0.5 0.5 0.8 0.3 0.5 0.2 0.6 0.1 1 0.3 0.7 0.4 0.4 0.5 0.2 0.5 0.2 0.7 0.3 0.5M26.2 236.3l1.5 0.1 1.6 0.1 1.5 0.1 1.5 0.1 1.5 0.1 0-0.6 0.3-0.8 0.2-0.7 0.3-0.8 0.4-0.7 0.1-0.2M38.5 231.8l1 0 0.9 0 1.7-0.1 0.5-0.1 0.6-0.1 0.8-0.3 0.6-0.5 0.5-0.6 0.5-0.5 0.7-0.4 0.9-0.3 1.1-0.2 0.6 0 0.5-0.1 1-0.3M53.6 226.9l0.9-0.3" fill="none" stroke="#12b7bf" stroke-width="0.5" opacity="0.9"/>
<path d="M72.4 260.5l0.6-0.7 0.2-0.3 0.4-0.8 0.1-0.7 0-0.7-0.5-0.4-1-0.4-1.3-0.1-0.7-0.1-0.7-0.1-0.9 0-0.7-0.1-0.8 0-0.9 0-1.5 0.2-0.7 0.4-0.4 0.6-0.2 0.5-0.1 0.7 0 0.7 0.2 0.6 0.1 0.1M108.2 246.7l1.1-0.1 0.9-0.3 0.7-0.5 0.4-0.5 0.3-0.5 0.1-0.7-0.1-0.6-0.5-0.5-0.9-0.3-1.3-0.3-0.8 0-0.6-0.1-0.9 0-0.9 0-1.5 0.2-0.8 0.3-0.5 0.5-0.4 0.7-0.2 0.7-0.3 0.7-0.2 0.3-1 0.7-0.5-0.1-1 0-0.7-0.1-0.7 0-1.2 0.1-1.2 0.2-0.8 0.3-0.4 0.3-0.7 0.8-0.7 0.4-1 0.2-1.1 0.1-0.9 0.4-0.8 0.3-0.8 0.4-0.8 0.3-1.1 0.2-1 0.2-0.8 0.4-0.5 0.6-0.2 0.2-1 0.7-1.1 0.1-1.4 0-0.5 0-0.8 0.1-1.2 0.1-0.9 0.3-0.6 0.4-0.3 0.5-0.3 0.8 0 0.7 0.3 0.4 0.9 0.4 1.3 0.2 1.5 0.1 1.3-0.1 1.1-0.1 0.8-0.4 0.6-0.5 0.4-0.4 0.5-0.7 0.3-0.3 0.3-0.3 0.9-0.2 1.2-0.1 1.3-0.1 0.9-0.2 0.5-0.3 0.9-0.6 0.9-0.3 0.9-0.3 0.9-0.2 0.9-0.3 0.7-0.5 0.7-0.4 1-0.3 1.2 0 1.1-0.2 0.9-0.3 0.7-0.4 0.4-0.6 0.3-0.5 0.4-0.7 0.5-0.6 0.6 0.1 1 0 0.7 0.1 0.8 0 0.9 0 0.5 0 1.3 0 0.1 0M64.8 260.6l1 0.3 0.9 0.1 0.5 0.1 1.1 0 1.4 0 1.1-0.1M115.1 239l-0.1 0.6 0 0.6 0.2 0.6 0.4 0.5 0.8 0.4 1.1 0.2 1 0.2 1.6 0.1M62.3 254.9l0.8-0.5 0.2-0.6 0.2-0.7 0-0.6-0.4-0.6-0.7-0.4-1-0.2-0.8-0.2-0.5 0-1.3-0.2-1.1-0.3-0.5-0.5-0.1-0.6-0.2-0.6-0.5-0.4-0.9-0.4-1-0.3-0.6-0.4-0.6-0.5-0.6-0.4-0.6-0.5-1-0.3-0.8-0.3-0.5-0.5-0.2-0.6-0.3-0.6-0.6-0.4-0.9-0.3-1.3-0.2-0.7-0.1-0.7-0.1-0.9-0.1-0.6 0-0.9-0.3 0.3-0.5 0.1-0.8 0.1-0.7 0-0.9-0.2-0.5-0.5-0.5-1-0.3-0.5-0.1-0.8-0.1-0.8-0.1-0.7 0-0.8-0.1-1 0.1-1.4 0.2-0.7 0.4-0.5 0.6-0.2 0.5-0.1 0.7 0.2 0.6 0.4 0.5 0.8 0.4 0.9 0.2 1.4 0.2 0.4 0.1 1 0.1 0.7 0.1 0.7 0 0.9 0.2 0.7-0.1 0.4 0.5-0.2 0.7 0 0.7 0.1 0.6 0.4 0.6 0.8 0.3 0.9 0.3 1.2 0.3 0.8 0.3 0.5 0.5 0.4 0.6 0.7 0.4 0.7 0.4 0.7 0.4 0.7 0.4 0.4 0.5 0.5 0.5 0.6 0.2 1.3 0.4 0.9 0.2 1.1 0.4 0.2 0.6 0.1 0.6 0.1 0.6 0.4 0.6 0.6 0.4 0.9 0.3 1.2 0.2 1.5 0.2 1.4 0 0.9-0.2M71.9 250l0.5 0 0.8-0.4 0.5-0.5 0.1-0.4-0.1-0.5-0.8-0.5-1.2-0.2-0.6 0-1.3 0-0.9 0.3-0.5 0.5 0 0.9 0.7 0.6 0.4 0.1 0.7 0.1 1 0.1 0.7-0.1M97.9 240.5l1.7 0 1-0.3 0.6-0.5 0.2-0.5 0.1-0.6-0.4-0.6-0.7-0.4-1.1-0.3-0.7-0.1-0.6 0-1-0.1-0.8 0.1-0.5-0.1-0.6 0.5-0.4 0.6 0 0.8 0.2 0.6 0.6 0.5 1 0.3 1.4 0.1M88.4 243.3l0.7 0 1-0.2 0.5-0.6-0.1-0.6-0.7-0.4-1-0.1-1.3 0-0.7 0.4-0.3 0.7 0.6 0.7 0.6 0.1 0.7 0M77.6 246.6l0.5 0.1 1.3-0.1 0.4-0.6-0.7-0.6-1.4 0.1-0.6 0.5 0.5 0.6M83 244.6l1-0.2-0.6-0.4-0.4 0.6 0 0M107 233.9l0.2 0.6 0.3 0.5 0.6 0.5 1 0.3 1.1 0.2 0.1 0M92.7 236.5l0.7 0 1-0.2 0.4-0.6 0-0.7-0.5-0.5-0.9-0.3-1.1-0.3-0.6-0.4-0.6-0.4-0.5-0.5-0.6-0.4-1.1-0.3-0.3-0.1M84.3 228.9l-1.4 0.1-0.8 0.4-0.2 0.4-0.2 0.7 0.3 0.6 0.8 0.4 1.2 0.2 0.6 0.1 0.7 0.1 1 0.3M86.7 233.2l0.1 0.1M88 234l1.1 0.5 0.7 0.4 0.2 0.6 0.4 0.5 0.9 0.3 0.5 0.1 0.9 0.1M65.3 245.8l0.6 0 0.7-0.3-0.2-0.7-1.1-0.3-1.2 0.2 0.1 0.9 1.1 0.2M102.3 230.9l0.5 0.5 0.8 0.4 0.1 0M61.7 243.2l-0.1-0.7-0.7 0.2 0.8 0.5M57.9 241.2l0.7 0M58.3 239.3l-1.4 0-1 0.3-0.4 0.5 0.2 0.6 0.8 0.4 0.7 0.1 0.7 0M74.9 234.4l0 0M74.7 233.3l-0.6 0.5 0.8 0.6M50.7 237.3l1.4-0.1 0.8-0.4 0.5-0.5 0.3-0.7 0.1-0.8-0.3-0.5-0.6-0.1-0.7-0.1-1-0.1-0.6 0-0.8 0-1.1 0.1-1 0.3-0.6 0.5-0.2 0.5-0.1 0.6 0.3 0.6 0.8 0.4 1.2 0.2 1.6 0.1M64.5 229.5l-0.5 0.5M57.2 231.8l-1.1 0.2-0.6 0.4-0.4 0.6 0 0.7 0.9 0.3 0.7 0 0.9 0.1M63.2 232.1l0.9-0.3 0.4-0.6 0.6-0.5 1.1-0.1M27.2 235.9l1.2 0.1 1.4 0 1-0.1 1.2-0.2 0.7-0.4 0.5-0.6 0.2-0.4 0.4-0.8M40 231.3l1.3-0.1 1.1-0.2 0.8-0.3 0.6-0.5 0.5-0.5M48.6 228.1l1-0.3" fill="none" stroke="#5fc672" stroke-width="0.5" opacity="0.9"/>
<path d="M68.3 260.6l0.6 0 1.2-0.1 0.9-0.2 0.7-0.4 0.5-0.6 0.3-0.7-0.2-0.8-0.5-0.4-0.9-0.4-1.2-0.2-1.5-0.1-1.4 0-1 0.3-0.8 0.3-0.5 0.6-0.2 0.7 0.2 0.8 0.5 0.5 0.8 0.4 1.1 0.2 0.5 0.1 0.9 0M108 246.1l0.5-0.1 0.9-0.2 0.6-0.4 0.4-0.7-0.1-0.8-0.4-0.4-1-0.4-1.2-0.2-1.5 0-0.5 0.1-0.6 0.1-0.8 0.3-0.5 0.6-0.2 0.4 0 0.7 0.4 0.5 0.9 0.3 0.9 0.2 1.5 0 0.7 0M79.8 255.8l1.5-0.2 0.9-0.3 0.5-0.6 0.1-0.7-0.4-0.5-0.6-0.2-0.4-0.1-1.3-0.1-1.2 0.1-0.9 0.3-0.6 0.5-0.2 0.7 0.4 0.5 0.9 0.4 1.3 0.2M98.7 248.8l0.5-0.1 0.4-0.5-0.3-0.9-1.1-0.3-0.5 0-1.2 0.1-0.8 0.4-0.4 0.6 0.3 0.6 0.9 0.3 1.6 0 0.6-0.2M87.1 252.4l1.2-0.1 0.6-0.5-0.1-0.6-1.1-0.2-1.2 0.1-0.5 0.4 0.1 0.6 1 0.3M90.9 250.4l1.1-0.1 1-0.2-0.1-0.4-0.7-0.1-0.7 0.4-0.6 0.4M116 239.6l0.2 0.8 0.5 0.5 0.8 0.4 1.1 0.3 0.6 0M60.1 254.4l1.2-0.3 0.6-0.4 0.3-0.7-0.3-0.6-0.7-0.4-0.9-0.2-1.6-0.1-0.5 0-0.6 0.1-0.5 0.4-0.4 0.7 0.2 0.7 0.6 0.4 1 0.3 1.6 0.1M98.3 239.7l1.1-0.2 0.4-0.7-0.9-0.7-1.6 0-0.8 0.4 0 0.6 0.5 0.4 1.3 0.2M53.5 250.2l1.2-0.2 0.5-0.5-0.3-0.5-0.8-0.2-1.4-0.1-0.5 0.6 0.3 0.5 1 0.4M50.1 247.4l1 0.3-0.4-0.5-0.5-0.5-0.7 0-0.3 0.4 0.9 0.3M46.1 245.6l1.4-0.2 0.5-0.5-0.1-0.7-0.5-0.4-1.1-0.3-0.5 0-1.2 0.1-0.7 0.5 0.1 0.8 0.3 0.3 0.5 0.2 1.3 0.2M84.6 230.1l0 0M39 241.6l1-0.1 1-0.2 0.6-0.4 0.2-0.4 0.2-0.7-0.2-0.5-0.6-0.6-0.5-0.1-0.4-0.2-1.3-0.1-1.5 0-0.9 0.2-0.9 0.4-0.4 0.6-0.1 0.8 0.5 0.5 0.7 0.4 0.4 0.1 0.7 0.1 1.1 0.2 0.4 0M49.5 236.4l1.4 0 0.8-0.4 0.2-0.5-0.4-0.5-1.3-0.2-1.3 0.3-0.3 0.3 0.1 0.6 0.8 0.4M28.4 235.5l0.6 0 1.2-0.1 0.9-0.2 0.8-0.5 0.5-0.5 0.1-0.2" fill="none" stroke="#c2c430" stroke-width="0.5" opacity="0.9"/>
<path d="M68.2 260l1 0 1-0.3 0.7-0.4 0.2-0.3 0-0.7-0.5-0.5-0.9-0.3-0.5-0.1-0.9-0.1-0.6 0.1-1 0.2-0.7 0.4-0.3 0.3 0 0.7 0.4 0.5 0.8 0.3 0.9 0.2 0.4 0M106.5 245.3l0.9 0.1 1-0.3 0.5-0.5-0.5-0.6-1-0.3-1.2 0.1-0.7 0.3 0 0.9 1 0.3M37.8 240.7l0.9 0 1.1-0.1 0.5-0.6-0.5-0.7-1.1-0.3-1.1 0.2-0.7 0.4 0.1 0.7 0.8 0.4" fill="none" stroke="#fcbf3c" stroke-width="0.5" opacity="0.9"/>
<g stroke-width="0.6" stroke-linejoin="round"><path class="c58" d="M79.5 189l0.9-5.9-0.7-5.9-0.9 5.8z"/><path class="c49" d="M72.6 191.4l0.9 4.9-0.7-6.4-0.9-4.4z"/><path class="c57" d="M71.7 187.4l0.9 4-0.7-5.9-0.8-4.1z"/><path class="c64" d="M70.9 184.4l0.8 3-0.6-6-0.9-2.9z"/><path class="c68" d="M70 183.2l0.9 1.2-0.7-5.9-0.9-1.2z"/><path class="c69" d="M69.1 184.1l0.9-0.9-0.7-5.9-0.8 0.8z"/><path class="c67" d="M68.3 186.8l0.8-2.7-0.6-6-0.9 2.7z"/><path class="c61" d="M67.4 190.7l0.9-3.9-0.7-6-0.8 3.9z"/><path class="c54" d="M66.6 195l0.8-4.3-0.6-6-0.9 4.3z"/><path class="c48" d="M65.7 198.9l0.9-3.9-0.7-6-0.9 3.6z"/><path class="c43" d="M64.8 201.1l0.9-2.2-0.7-6.3-0.8 2.1z"/><path class="c49" d="M62.2 196.1l0.9 3-0.7-6.2-0.8-2.8z"/><path class="c54" d="M61.4 193.5l0.8 2.6-0.6-6-0.9-2.6z"/><path class="c58" d="M60.5 192.3l0.9 1.2-0.7-6-0.8-1.2z"/><path class="c59" d="M59.7 193l0.8-0.7-0.6-6-0.9 0.8z"/><path class="c57" d="M58.8 195.4l0.9-2.4-0.7-5.9-0.9 2.4z"/><path class="c53" d="M57.9 198.1l0.9-2.7-0.7-5.9-0.8 2.6z"/><path class="c50" d="M57.1 199.4l0.8-1.3-0.6-6-0.9 1.2zM56.2 198.6l0.9 0.8-0.7-6.1-0.9-0.7z"/><path class="c52" d="M55.3 197.3l0.9 1.3-0.7-6-0.8-1.2z"/><path class="c54" d="M54.5 197.8l0.8-0.5-0.6-5.9-0.9 0.5z"/><path class="c53" d="M53.6 198.5l0.9-0.7-0.7-5.9-0.8 0.7z"/><path class="c52" d="M52.8 199.3l0.8-0.8-0.6-5.9-0.9 0.7zM51.9 199.8l0.9-0.5-0.7-6-0.9 0.5z"/><path class="c55" d="M49.3 199l0.9-1.2-0.7-5.9-0.9 1.2z"/><path class="c53" d="M48.4 201.7l0.9-2.7-0.7-5.9-0.8 2.6z"/><path class="c49" d="M47.6 204.3l0.8-2.6-0.6-6-0.9 2.4z"/><path class="c46" d="M46.7 205.1l0.9-0.8-0.7-6.2-0.9 0.8z"/><path class="c47" d="M45.8 203.8l0.9 1.3-0.7-6.2-0.8-1.2z"/><path class="c51" d="M45 201l0.8 2.8-0.6-6.1-0.9-2.6z"/><path class="c57" d="M44.1 198.2l0.9 2.8-0.7-5.9-0.8-2.8z"/><path class="c61" d="M43.3 196.5l0.8 1.7-0.6-5.9-0.9-1.8z"/><path class="c64" d="M42.4 196.5l0.9 0-0.7-6-0.9 0.1z"/><path class="c62" d="M41.5 198.5l0.9-2-0.7-5.9-0.8 2z"/><path class="c58" d="M40.7 202.1l0.8-3.6-0.6-5.9-0.9 3.6z"/><path class="c48" d="M34.6 205.6l0.9 4.5-0.7-6.3-0.8-4.1z"/><path class="c57" d="M33.8 201.2l0.8 4.4-0.6-5.9-0.9-4.4z"/><path class="c65" d="M32.9 197.3l0.9 3.9-0.7-5.9-0.9-4z"/><path class="c72" d="M32 194.6l0.9 2.7-0.7-6-0.8-2.6z"/><path class="c75" d="M31.2 193.7l0.8 0.9-0.6-5.9-0.9-0.9z"/><path class="c76" d="M30.3 194.9l0.9-1.2-0.7-5.9-0.8 1.1z"/><path class="c72" d="M29.5 197.9l0.8-3-0.6-6-0.9 3.1z"/><path class="c66" d="M28.6 202.5l0.9-4.6-0.7-5.9-0.9 4.6z"/><path class="c57" d="M27.7 208.1l0.9-5.6-0.7-5.9-0.8 5.6z"/><path class="c48" d="M26.9 214.4l0.8-6.3-0.6-5.9-0.9 5.8zM80.2 195.1l0.8-6.3-0.6-5.7-0.9 5.9z"/><path class="c47" d="M72.4 193.1l0.9 4.5-0.7-6.2-0.9-4z"/><path class="c54" d="M71.5 190.1l0.9 3-0.7-5.7-0.8-3z"/><path class="c58" d="M70.7 188.9l0.8 1.2-0.6-5.7-0.9-1.2z"/><path class="c59" d="M69.8 189.8l0.9-0.9-0.7-5.7-0.9 0.9z"/><path class="c57" d="M68.9 192.4l0.9-2.6-0.7-5.7-0.8 2.7z"/><path class="c51" d="M68.1 196.6l0.8-4.2-0.6-5.6-0.9 3.9z"/><path class="c48" d="M61.2 198.1l0.8 1.3-0.6-5.9-0.9-1.2z"/><path class="c49" d="M60.3 198.9l0.9-0.8-0.7-5.8-0.8 0.7z"/><path class="c47" d="M59.5 201.5l0.8-2.6-0.6-5.9-0.9 2.4z"/><path class="c44" d="M55.1 203.9l0.9-0.5-0.7-6.1-0.8 0.5z"/><path class="c43" d="M54.3 204.7l0.8-0.8-0.6-6.1-0.9 0.7zM53.4 205.4l0.9-0.7-0.7-6.2-0.8 0.8z"/><path class="c47" d="M44.8 204l0.9 3.1-0.7-6.1-0.9-2.8z"/><path class="c52" d="M43.9 202.1l0.9 1.9-0.7-5.8-0.8-1.7z"/><path class="c54" d="M43.1 202.2l0.8-0.1-0.6-5.6-0.9 0z"/><path class="c52" d="M42.2 204.3l0.9-2.1-0.7-5.7-0.9 2z"/><path class="c47" d="M34.4 206.9l0.9 4.9-0.7-6.2-0.8-4.4z"/><path class="c55" d="M33.6 203l0.8 3.9-0.6-5.7-0.9-3.9z"/><path class="c62" d="M32.7 200.3l0.9 2.7-0.7-5.7-0.9-2.7z"/><path class="c66" d="M31.8 199.4l0.9 0.9-0.7-5.7-0.8-0.9zM31 200.5l0.8-1.1-0.6-5.7-0.9 1.2z"/><path class="c63" d="M30.1 203.6l0.9-3.1-0.7-5.6-0.8 3z"/><path class="c56" d="M29.3 208.2l0.8-4.6-0.6-5.7-0.9 4.6z"/><path class="c48" d="M28.4 214.2l0.9-6-0.7-5.7-0.9 5.6z"/><path class="c38" d="M27.5 220.6l0.9-6.4-0.7-6.1-0.8 6.3z"/><path class="c39" d="M80.8 200.2l0.9-6.4-0.7-5-0.8 6.3z"/><path class="c45" d="M72.2 195l0.9 3.2-0.7-5.1-0.9-3z"/><path class="c50" d="M71.3 193.7l0.9 1.3-0.7-4.9-0.8-1.2z"/><path class="c51" d="M70.5 194.5l0.8-0.8-0.6-4.8-0.9 0.9z"/><path class="c48" d="M69.6 197.4l0.9-2.9-0.7-4.7-0.9 2.6z"/><path class="c45" d="M43.7 207.2l0.9 0-0.7-5.1-0.8 0.1z"/><path class="c44" d="M42.9 209.4l0.8-2.2-0.6-5-0.9 2.1z"/><path class="c46" d="M34.2 207.7l0.9 4.3-0.7-5.1-0.8-3.9z"/><path class="c53" d="M33.4 205l0.8 2.7-0.6-4.7-0.9-2.7z"/><path class="c57" d="M32.5 204.1l0.9 0.9-0.7-4.7-0.9-0.9zM31.6 205.3l0.9-1.2-0.7-4.7-0.8 1.1z"/><path class="c54" d="M30.8 208.3l0.8-3-0.6-4.8-0.9 3.1z"/><path class="c47" d="M29.9 213.3l0.9-5-0.7-4.7-0.8 4.6z"/><path class="c39" d="M29.1 219.3l0.8-6-0.6-5.1-0.9 6z"/><path class="c29" d="M28.2 225.6l0.9-6.3-0.7-5.1-0.9 6.4z"/><path class="c43" d="M72 197l0.9 1.4-0.7-3.4-0.9-1.3z"/><path class="c44" d="M71.1 197.9l0.9-0.9-0.7-3.3-0.8 0.8z"/><path class="c32" d="M35.8 215.4l0.8 4.8-0.6-3.4-0.9-4.8z"/><path class="c50" d="M33.2 207.3l0.8 0.9-0.6-3.2-0.9-0.9z"/><path class="c51" d="M32.3 208.4l0.9-1.1-0.7-3.2-0.9 1.2z"/><path class="c47" d="M31.4 211.7l0.9-3.3-0.7-3.1-0.8 3z"/><path class="c41" d="M30.6 216.7l0.8-5-0.6-3.4-0.9 5z"/><path class="c32" d="M29.7 222.7l0.9-6-0.7-3.4-0.8 6z"/><path class="c23" d="M28.9 229l0.8-6.3-0.6-3.4-0.9 6.3z"/><path class="c29" d="M36.4 216.7l0.9 4.8-0.7-1.3-0.8-4.8z"/><path class="c37" d="M35.6 212.4l0.8 4.3-0.6-1.3-0.9-4.3z"/><path class="c43" d="M34.7 209.5l0.9 2.9-0.7-1.3-0.9-2.9z"/><path class="c48" d="M33 209.7l0.8-1.2-0.6-1.2-0.9 1.1z"/><path class="c44" d="M32.1 213l0.9-3.3-0.7-1.3-0.9 3.3z"/><path class="c38" d="M31.2 218l0.9-5-0.7-1.3-0.8 5z"/><path class="c29" d="M30.4 224l0.8-6-0.6-1.3-0.9 6z"/><path class="c19" d="M29.5 230.3l0.9-6.3-0.7-1.3-0.8 6.3z"/><path class="c8" d="M40.5 229.6l0.9-0.8-0.7 0.8-0.8 0.9z"/><path class="c9" d="M39.7 228.3l0.8 1.3-0.6 0.9-0.9-1.3z"/><path class="c14" d="M38.8 225.1l0.9 3.2-0.7 0.9-0.8-3.2z"/><path class="c45" d="M32.8 212.1l0.8-3.2-0.6 0.8-0.9 3.3z"/><path class="c38" d="M31.9 217.1l0.9-5-0.7 0.9-0.9 5z"/><path class="c29" d="M31.1 223.1l0.8-6-0.7 0.9-0.8 6z"/><path class="c20" d="M30.2 229.5l0.9-6.4-0.7 0.9-0.9 6.3z"/><path class="c12" d="M41.2 226.8l0.9-0.8-0.7 2.8-0.9 0.8z"/><path class="c13" d="M40.3 225.5l0.9 1.3-0.7 2.8-0.8-1.3z"/><path class="c17" d="M39.5 222.3l0.8 3.2-0.6 2.8-0.9-3.2z"/><path class="c42" d="M32.6 214.3l0.8-4.9-0.6 2.7-0.9 5z"/><path class="c33" d="M31.7 220.3l0.9-6-0.7 2.8-0.8 6z"/><path class="c23" d="M30.9 226.6l0.8-6.3-0.6 2.8-0.9 6.4z"/><path class="c21" d="M42.7 221.8l0.9-2.9-0.7 4.2-0.8 2.9z"/><path class="c19" d="M41.9 222.6l0.8-0.8-0.6 4.2-0.9 0.8z"/><path class="c20" d="M41 221.3l0.9 1.3-0.7 4.2-0.9-1.3z"/><path class="c24" d="M40.1 218.1l0.9 3.2-0.7 4.2-0.8-3.2z"/><path class="c40" d="M32.4 216.1l0.8-5.9-0.6 4.1-0.9 6z"/><path class="c30" d="M31.5 222.5l0.9-6.4-0.7 4.2-0.8 6.3z"/><path class="c27" d="M42.5 217.9l0.9-0.9-0.7 4.8-0.8 0.8z"/><path class="c28" d="M41.7 216.6l0.8 1.3-0.6 4.7-0.9-1.3z"/><path class="c32" d="M40.8 213.4l0.9 3.2-0.7 4.7-0.9-3.2z"/><path class="c48" d="M33 211.4l0.9-5.6-0.7 4.4-0.8 5.9z"/><path class="c38" d="M32.2 217.7l0.8-6.3-0.6 4.7-0.9 6.4z"/><path class="c56" d="M33.7 207.4l0.9-5.5-0.7 3.9-0.9 5.6z"/><path class="c47" d="M32.8 213.4l0.9-6-0.7 4-0.8 6.3z"/><path class="c64" d="M86.1 185.5l0.9-5.9-0.7 2.8-0.8 5.9z"/><path class="c54" d="M85.3 191l0.8-5.5-0.6 2.8-0.9 5.6z"/><path class="c67" d="M74.1 187.2l0.8-3.9-0.6 2.8-0.9 3.9z"/><path class="c54" d="M72.3 195l0.9-3.6-0.7 2.9-0.8 3.6z"/><path class="c57" d="M46.5 202.9l0.8-4.3-0.6 2.9-0.9 4.2z"/><path class="c78" d="M36.1 194.4l0.9-3-0.7 2.8-0.9 3z"/><path class="c72" d="M35.2 199l0.9-4.6-0.7 2.8-0.8 4.7z"/><path class="c63" d="M34.4 204.6l0.8-5.6-0.6 2.9-0.9 5.5z"/><path class="c54" d="M33.5 210.4l0.9-5.8-0.7 2.8-0.9 6z"/><path class="c68" d="M86.8 184.4l0.9-5.9-0.7 1.1-0.9 5.9z"/><path class="c58" d="M85.9 190l0.9-5.6-0.7 1.1-0.8 5.5z"/><path class="c77" d="M75.6 182.2l0.9-2.7-0.7 1.1-0.9 2.7z"/><path class="c71" d="M74.7 186.1l0.9-3.9-0.7 1.1-0.8 3.9z"/><path class="c65" d="M73.9 190.4l0.8-4.3-0.6 1.1-0.9 4.2z"/><path class="c58" d="M73 193.9l0.9-3.5-0.7 1-0.9 3.6z"/><path class="c67" d="M66.1 190.9l0.9-2.4-0.7 1-0.9 2.4z"/><path class="c63" d="M65.2 193.5l0.9-2.6-0.7 1-0.8 2.6zM55.7 197.1l0.9-2.6-0.7 1-0.8 2.6z"/><path class="c59" d="M54.9 199.4l0.8-2.3-0.6 1-0.9 2.4z"/><path class="c68" d="M48 197.5l0.8-3.5-0.6 1-0.9 3.6z"/><path class="c62" d="M47.1 201.8l0.9-4.3-0.7 1.1-0.8 4.3z"/><path class="c83" d="M36.8 193.3l0.8-3-0.6 1.1-0.9 3z"/><path class="c76" d="M35.9 198l0.9-4.7-0.7 1.1-0.9 4.6z"/><path class="c68" d="M35 203.5l0.9-5.5-0.7 1-0.8 5.6z"/><path class="c58" d="M34.2 209.4l0.8-5.9-0.6 1.1-0.9 5.8z"/><path class="c69" d="M87.5 185.3l0.8-5.8-0.6-1-0.9 5.9z"/><path class="c59" d="M86.6 190.9l0.9-5.6-0.7-0.9-0.9 5.6z"/><path class="c51" d="M85.8 195.6l0.8-4.7-0.7-0.9-0.8 4.6z"/><path class="c80" d="M78 179.6l0.8 1.2-0.6-0.9-0.9-1.2zM77.1 180.4l0.9-0.8-0.7-0.9-0.8 0.8z"/><path class="c78" d="M76.3 183.1l0.8-2.7-0.6-0.9-0.9 2.7z"/><path class="c72" d="M75.4 187l0.9-3.9-0.7-0.9-0.9 3.9z"/><path class="c65" d="M74.5 191.3l0.9-4.3-0.7-0.9-0.8 4.3z"/><path class="c59" d="M73.7 194.9l0.8-3.6-0.6-0.9-0.9 3.5z"/><path class="c54" d="M72.8 196.9l0.9-2-0.7-1-0.9 2.1z"/><path class="c53" d="M71.9 197l0.9-0.1-0.7-0.9-0.8 0z"/><path class="c69" d="M68.5 188.6l0.9 1.2-0.7-0.9-0.9-1.2z"/><path class="c70" d="M67.6 189.4l0.9-0.8-0.7-0.9-0.8 0.8z"/><path class="c68" d="M66.8 191.8l0.8-2.4-0.6-0.9-0.9 2.4z"/><path class="c64" d="M65.9 194.4l0.9-2.6-0.7-0.9-0.9 2.6z"/><path class="c61" d="M65 195.6l0.9-1.2-0.7-0.9-0.8 1.2zM64.2 194.9l0.8 0.7-0.6-0.9-0.9-0.8z"/><path class="c64" d="M63.3 193.7l0.9 1.2-0.7-1-0.9-1.1z"/><path class="c65" d="M62.5 194.2l0.8-0.5-0.6-0.9-0.9 0.5z"/><path class="c64" d="M61.6 194.9l0.9-0.7-0.7-0.9-0.9 0.7zM60.7 195.6l0.9-0.7-0.7-0.9-0.8 0.7z"/><path class="c63" d="M59.9 196.1l0.8-0.5-0.6-0.9-0.9 0.5z"/><path class="c67" d="M58.1 194.2l0.9 0.7-0.7-0.9-0.8-0.8zM57.3 195.4l0.8-1.2-0.6-1-0.9 1.3z"/><path class="c64" d="M56.4 198l0.9-2.6-0.7-0.9-0.9 2.6z"/><path class="c60" d="M55.5 200.4l0.9-2.4-0.7-0.9-0.8 2.3z"/><path class="c58" d="M54.7 201.2l0.8-0.8-0.6-1-0.9 0.8zM53.8 200l0.9 1.2-0.7-1-0.8-1.2z"/><path class="c75" d="M50.4 192.9l0.8-0.1-0.6-0.9-0.9 0z"/><path class="c74" d="M49.5 194.9l0.9-2-0.7-1-0.9 2.1z"/><path class="c69" d="M48.6 198.5l0.9-3.6-0.7-0.9-0.8 3.5z"/><path class="c62" d="M47.8 202.7l0.8-4.2-0.6-1-0.9 4.3z"/><path class="c87" d="M39.2 190.1l0.8 0.9-0.6-1-0.9-0.8zM38.3 191.2l0.9-1.1-0.7-0.9-0.9 1.1z"/><path class="c84" d="M37.4 194.3l0.9-3.1-0.7-0.9-0.8 3z"/><path class="c77" d="M36.6 198.9l0.8-4.6-0.6-1-0.9 4.7z"/><path class="c69" d="M35.7 204.5l0.9-5.6-0.7-0.9-0.9 5.5z"/><path class="c59" d="M34.8 210.3l0.9-5.8-0.7-1-0.8 5.9z"/><path class="c67" d="M88.1 188.1l0.9-5.8-0.7-2.8-0.8 5.8z"/><path class="c57" d="M87.3 193.7l0.8-5.6-0.6-2.8-0.9 5.6z"/><path class="c48" d="M86.4 198.5l0.9-4.8-0.7-2.8-0.9 4.7z"/><path class="c73" d="M79.5 183.6l0.9 2.9-0.7-2.8-0.9-2.9z"/><path class="c77" d="M78.6 182.4l0.9 1.2-0.7-2.8-0.8-1.2z"/><path class="c78" d="M77.8 183.2l0.8-0.8-0.6-2.8-0.9 0.8z"/><path class="c75" d="M76.9 185.9l0.9-2.7-0.7-2.8-0.8 2.7z"/><path class="c70" d="M76.1 189.8l0.8-3.9-0.6-2.8-0.9 3.9z"/><path class="c63" d="M75.2 194.1l0.9-4.3-0.7-2.8-0.9 4.3z"/><path class="c56" d="M74.3 197.7l0.9-3.6-0.7-2.8-0.8 3.6z"/><path class="c52" d="M73.5 199.7l0.8-2-0.6-2.8-0.9 2z"/><path class="c50" d="M72.6 199.7l0.9 0-0.7-2.8-0.9 0.1z"/><path class="c53" d="M71.7 198l0.9 1.7-0.7-2.7-0.8-1.8z"/><path class="c57" d="M70.9 195.2l0.8 2.8-0.6-2.8-0.9-2.8z"/><path class="c67" d="M69.2 191.4l0.8 1.2-0.6-2.8-0.9-1.2z"/><path class="c68" d="M68.3 192.2l0.9-0.8-0.7-2.8-0.9 0.8z"/><path class="c65" d="M67.4 194.6l0.9-2.4-0.7-2.8-0.8 2.4z"/><path class="c61" d="M66.6 197.2l0.8-2.6-0.6-2.8-0.9 2.6z"/><path class="c59" d="M65.7 198.4l0.9-1.2-0.7-2.8-0.9 1.2zM64.8 197.7l0.9 0.7-0.7-2.8-0.8-0.7z"/><path class="c61" d="M64 196.5l0.8 1.2-0.6-2.8-0.9-1.2z"/><path class="c62" d="M63.1 197l0.9-0.5-0.7-2.8-0.8 0.5zM62.3 197.7l0.8-0.7-0.6-2.8-0.9 0.7z"/><path class="c61" d="M61.4 198.4l0.9-0.7-0.7-2.8-0.9 0.7z"/><path class="c60" d="M60.5 198.9l0.9-0.5-0.7-2.8-0.8 0.5z"/><path class="c62" d="M59.7 197.7l0.8 1.2-0.6-2.8-0.9-1.2z"/><path class="c64" d="M58.8 197l0.9 0.7-0.7-2.8-0.9-0.7zM57.9 198.2l0.9-1.2-0.7-2.8-0.8 1.2z"/><path class="c61" d="M57.1 200.8l0.8-2.6-0.6-2.8-0.9 2.6z"/><path class="c57" d="M56.2 203.1l0.9-2.3-0.7-2.8-0.9 2.4z"/><path class="c55" d="M55.4 203.9l0.8-0.8-0.7-2.7-0.8 0.8z"/><path class="c56" d="M54.5 202.7l0.9 1.2-0.7-2.7-0.9-1.2z"/><path class="c60" d="M53.6 200.2l0.9 2.5-0.7-2.7-0.8-2.6z"/><path class="c70" d="M51.9 195.6l0.9 1.8-0.7-2.8-0.9-1.8z"/><path class="c72" d="M51 195.6l0.9 0-0.7-2.8-0.8 0.1z"/><path class="c71" d="M50.2 197.7l0.8-2.1-0.6-2.7-0.9 2z"/><path class="c66" d="M49.3 201.3l0.9-3.6-0.7-2.8-0.9 3.6z"/><path class="c60" d="M48.4 205.5l0.9-4.2-0.7-2.8-0.8 4.2z"/><path class="c80" d="M40.7 193.8l0.8 2.6-0.6-2.8-0.9-2.6z"/><path class="c84" d="M39.8 192.9l0.9 0.9-0.7-2.8-0.8-0.9zM39 194l0.8-1.1-0.6-2.8-0.9 1.1z"/><path class="c81" d="M38.1 197.1l0.9-3.1-0.7-2.8-0.9 3.1z"/><path class="c75" d="M37.2 201.7l0.9-4.6-0.7-2.8-0.8 4.6z"/><path class="c66" d="M36.4 207.2l0.8-5.5-0.6-2.8-0.9 5.6z"/><path class="c56" d="M35.5 213.1l0.9-5.9-0.7-2.7-0.9 5.8z"/><path class="c61" d="M88.8 192.1l0.9-5.8-0.7-4-0.9 5.8z"/><path class="c51" d="M87.9 197.9l0.9-5.8-0.7-4-0.8 5.6z"/><path class="c52" d="M81.9 194.6l0.9 4.6-0.7-4.2-0.9-4.4z"/><path class="c67" d="M80.2 187.6l0.8 2.9-0.6-4-0.9-2.9z"/><path class="c71" d="M79.3 186.4l0.9 1.2-0.7-4-0.9-1.2z"/><path class="c72" d="M78.4 187.2l0.9-0.8-0.7-4-0.8 0.8z"/><path class="c70" d="M77.6 189.9l0.9-2.7-0.7-4-0.9 2.7z"/><path class="c64" d="M76.7 193.8l0.9-3.9-0.7-4-0.8 3.9z"/><path class="c57" d="M75.9 198.1l0.8-4.3-0.6-4-0.9 4.3z"/><path class="c51" d="M75 201.8l0.9-3.7-0.7-4-0.9 3.6z"/><path class="c46" d="M74.1 204l0.9-2.2-0.7-4.1-0.8 2z"/><path class="c45" d="M73.3 204l0.8 0-0.6-4.3-0.9 0z"/><path class="c47" d="M72.4 202.1l0.9 1.9-0.7-4.3-0.9-1.7z"/><path class="c52" d="M71.5 199.2l0.9 2.9-0.7-4.1-0.8-2.8z"/><path class="c57" d="M70.7 196.6l0.8 2.6-0.6-4-0.9-2.6z"/><path class="c61" d="M69.8 195.4l0.9 1.2-0.7-4-0.8-1.2z"/><path class="c62" d="M69 196.2l0.8-0.8-0.6-4-0.9 0.8z"/><path class="c60" d="M68.1 198.6l0.9-2.4-0.7-4-0.9 2.4z"/><path class="c56" d="M67.2 201.2l0.9-2.6-0.7-4-0.8 2.6z"/><path class="c53" d="M66.4 202.4l0.8-1.2-0.6-4-0.9 1.2zM65.5 201.7l0.9 0.7-0.7-4-0.9-0.7z"/><path class="c56" d="M64.6 200.5l0.9 1.2-0.7-4-0.8-1.2z"/><path class="c57" d="M63.8 201l0.8-0.5-0.6-4-0.9 0.5z"/><path class="c56" d="M62.9 201.7l0.9-0.7-0.7-4-0.8 0.7zM62.1 202.4l0.8-0.7-0.6-4-0.9 0.7z"/><path class="c55" d="M61.2 202.9l0.9-0.5-0.7-4-0.9 0.5z"/><path class="c56" d="M60.3 201.7l0.9 1.2-0.7-4-0.8-1.2z"/><path class="c59" d="M59.5 201l0.8 0.7-0.6-4-0.9-0.7zM58.6 202.2l0.9-1.2-0.7-4-0.9 1.2z"/><path class="c56" d="M57.7 204.8l0.9-2.6-0.7-4-0.8 2.6z"/><path class="c52" d="M56.9 207.2l0.8-2.4-0.6-4-0.9 2.3z"/><path class="c49" d="M56 208.1l0.9-0.9-0.7-4.1-0.8 0.8z"/><path class="c50" d="M55.2 206.8l0.8 1.3-0.6-4.2-0.9-1.2z"/><path class="c54" d="M54.3 204.2l0.9 2.6-0.7-4.1-0.9-2.5z"/><path class="c60" d="M53.4 201.4l0.9 2.8-0.7-4-0.8-2.8z"/><path class="c65" d="M52.6 199.6l0.8 1.8-0.6-4-0.9-1.8z"/><path class="c67" d="M51.7 199.7l0.9-0.1-0.7-4-0.9 0z"/><path class="c66" d="M50.8 201.7l0.9-2-0.7-4.1-0.8 2.1z"/><path class="c61" d="M50 205.3l0.8-3.6-0.6-4-0.9 3.6z"/><path class="c54" d="M49.1 209.5l0.9-4.2-0.7-4-0.9 4.2z"/><path class="c68" d="M42.2 200.4l0.9 4-0.7-4.1-0.9-3.9z"/><path class="c75" d="M41.3 197.8l0.9 2.6-0.7-4-0.8-2.6z"/><path class="c79" d="M40.5 196.9l0.8 0.9-0.6-4-0.9-0.9zM39.6 198l0.9-1.1-0.7-4-0.8 1.1z"/><path class="c76" d="M38.8 201.1l0.8-3.1-0.6-4-0.9 3.1z"/><path class="c69" d="M37.9 205.7l0.9-4.6-0.7-4-0.9 4.6z"/><path class="c61" d="M37 211.3l0.9-5.6-0.7-4-0.8 5.5z"/><path class="c51" d="M36.2 217.3l0.8-6-0.6-4.1-0.9 5.9z"/><path class="c54" d="M89.5 196.6l0.8-6-0.6-4.3-0.9 5.8z"/><path class="c44" d="M88.6 202.6l0.9-6-0.7-4.5-0.9 5.8z"/><path class="c60" d="M80.8 192l0.9 2.9-0.7-4.4-0.8-2.9z"/><path class="c65" d="M80 190.8l0.8 1.2-0.6-4.4-0.9-1.2zM79.1 191.6l0.9-0.8-0.7-4.4-0.8 0.8z"/><path class="c63" d="M78.3 194.3l0.8-2.7-0.6-4.4-0.9 2.7z"/><path class="c57" d="M77.4 198.2l0.9-3.9-0.7-4.4-0.9 3.9z"/><path class="c51" d="M76.5 202.7l0.9-4.5-0.7-4.4-0.8 4.3z"/><path class="c44" d="M75.7 206.5l0.8-3.8-0.6-4.6-0.9 3.7z"/><path class="c45" d="M72.2 203.7l0.9 3.1-0.7-4.7-0.9-2.9z"/><path class="c50" d="M71.3 201l0.9 2.7-0.7-4.5-0.8-2.6z"/><path class="c54" d="M70.5 199.8l0.8 1.2-0.6-4.4-0.9-1.2z"/><path class="c55" d="M69.6 200.6l0.9-0.8-0.7-4.4-0.8 0.8z"/><path class="c53" d="M68.8 203l0.8-2.4-0.6-4.4-0.9 2.4z"/><path class="c49" d="M67.9 205.8l0.9-2.8-0.7-4.4-0.9 2.6z"/><path class="c46" d="M67 207l0.9-1.2-0.7-4.6-0.8 1.2zM66.2 206.2l0.8 0.8-0.6-4.6-0.9-0.7z"/><path class="c49" d="M65.3 204.9l0.9 1.3-0.7-4.5-0.9-1.2z"/><path class="c50" d="M64.4 205.4l0.9-0.5-0.7-4.4-0.8 0.5z"/><path class="c49" d="M63.6 206.2l0.8-0.8-0.6-4.4-0.9 0.7zM62.7 206.9l0.9-0.7-0.7-4.5-0.8 0.7z"/><path class="c48" d="M61.9 207.4l0.8-0.5-0.6-4.5-0.9 0.5z"/><path class="c49" d="M61 206.1l0.9 1.3-0.7-4.5-0.9-1.2z"/><path class="c52" d="M60.1 205.4l0.9 0.7-0.7-4.4-0.8-0.7zM59.3 206.6l0.8-1.2-0.6-4.4-0.9 1.2z"/><path class="c49" d="M58.4 209.4l0.9-2.8-0.7-4.4-0.9 2.6z"/><path class="c48" d="M55 208.6l0.8 2.8-0.6-4.6-0.9-2.6z"/><path class="c53" d="M54.1 205.8l0.9 2.8-0.7-4.4-0.9-2.8z"/><path class="c58" d="M53.2 204l0.9 1.8-0.7-4.4-0.8-1.8z"/><path class="c60" d="M52.4 204l0.8 0-0.6-4.4-0.9 0.1z"/><path class="c59" d="M51.5 206.1l0.9-2.1-0.7-4.3-0.9 2z"/><path class="c54" d="M50.6 209.7l0.9-3.6-0.7-4.4-0.8 3.6z"/><path class="c61" d="M42.9 204.8l0.8 3.9-0.6-4.3-0.9-4z"/><path class="c68" d="M42 202.2l0.9 2.6-0.7-4.4-0.9-2.6z"/><path class="c72" d="M41.1 201.3l0.9 0.9-0.7-4.4-0.8-0.9zM40.3 202.4l0.8-1.1-0.6-4.4-0.9 1.1z"/><path class="c69" d="M39.4 205.5l0.9-3.1-0.7-4.4-0.8 3.1z"/><path class="c62" d="M38.6 210.1l0.8-4.6-0.6-4.4-0.9 4.6z"/><path class="c54" d="M37.7 215.7l0.9-5.6-0.7-4.4-0.9 5.6z"/><path class="c44" d="M36.8 222.1l0.9-6.4-0.7-4.4-0.8 6z"/><path class="c48" d="M90.1 200.5l0.9-6.2-0.7-3.7-0.8 6z"/><path class="c54" d="M81.5 195.6l0.9 3-0.7-3.7-0.9-2.9z"/><path class="c58" d="M80.6 194.5l0.9 1.1-0.7-3.6-0.8-1.2z"/><path class="c59" d="M79.8 195.3l0.8-0.8-0.6-3.7-0.9 0.8z"/><path class="c56" d="M78.9 198l0.9-2.7-0.7-3.7-0.8 2.7z"/><path class="c51" d="M78.1 202l0.8-4-0.6-3.7-0.9 3.9z"/><path class="c44" d="M77.2 206.6l0.9-4.6-0.7-3.8-0.9 4.5zM72 204.9l0.9 2.8-0.7-4-0.9-2.7z"/><path class="c48" d="M71.2 203.5l0.8 1.4-0.7-3.9-0.8-1.2z"/><path class="c49" d="M70.3 204.4l0.9-0.9-0.7-3.7-0.9 0.8z"/><path class="c47" d="M69.4 206.9l0.9-2.5-0.7-3.8-0.8 2.4z"/><path class="c43" d="M68.6 209.7l0.8-2.8-0.6-3.9-0.9 2.8z"/><path class="c42" d="M62.5 211.4l0.9-0.5-0.7-4-0.8 0.5z"/><path class="c43" d="M61.7 210.1l0.8 1.3-0.6-4-0.9-1.3z"/><path class="c45" d="M60.8 209.3l0.9 0.8-0.7-4-0.9-0.7zM59.9 210.5l0.9-1.2-0.7-3.9-0.8 1.2z"/><path class="c51" d="M53.9 207.7l0.9 1.8-0.7-3.7-0.9-1.8z"/><path class="c53" d="M53 207.7l0.9 0-0.7-3.7-0.8 0z"/><path class="c52" d="M52.2 209.8l0.8-2.1-0.6-3.7-0.9 2.1z"/><path class="c48" d="M51.3 213.6l0.9-3.8-0.7-3.7-0.9 3.6z"/><path class="c61" d="M42.7 205.8l0.8 2.7-0.6-3.7-0.9-2.6z"/><path class="c65" d="M41.8 205l0.9 0.8-0.7-3.6-0.9-0.9zM40.9 206.1l0.9-1.1-0.7-3.7-0.8 1.1z"/><path class="c62" d="M40.1 209.1l0.8-3-0.6-3.7-0.9 3.1z"/><path class="c56" d="M39.2 213.7l0.9-4.6-0.7-3.6-0.8 4.6z"/><path class="c47" d="M38.4 219.7l0.8-6-0.6-3.6-0.9 5.6z"/><path class="c37" d="M37.5 226l0.9-6.3-0.7-4-0.9 6.4z"/><path class="c43" d="M90.8 202.8l0.9-6.3-0.7-2.2-0.9 6.2z"/><path class="c53" d="M81.3 196.6l0.9 1.2-0.7-2.2-0.9-1.1z"/><path class="c54" d="M80.4 197.4l0.9-0.8-0.7-2.1-0.8 0.8z"/><path class="c52" d="M79.6 200.1l0.8-2.7-0.6-2.1-0.9 2.7z"/><path class="c46" d="M78.7 204.3l0.9-4.2-0.7-2.1-0.8 4z"/><path class="c39" d="M77.9 208.9l0.8-4.6-0.6-2.3-0.9 4.6z"/><path class="c43" d="M71.8 205.8l0.9 1.3-0.7-2.2-0.8-1.4z"/><path class="c44" d="M71 206.6l0.8-0.8-0.6-2.3-0.9 0.9z"/><path class="c61" d="M42.5 207.1l0.8 0.9-0.6-2.2-0.9-0.8zM41.6 208.2l0.9-1.1-0.7-2.1-0.9 1.1z"/><path class="c58" d="M40.8 211.3l0.8-3.1-0.7-2.1-0.8 3z"/><path class="c51" d="M39.9 216l0.9-4.7-0.7-2.2-0.9 4.6z"/><path class="c43" d="M39 222l0.9-6-0.7-2.3-0.8 6z"/><path class="c33" d="M38.2 228.3l0.8-6.3-0.6-2.3-0.9 6.3z"/><path class="c53" d="M81.1 197.6l0.9-0.9-0.7-0.1-0.9 0.8z"/><path class="c50" d="M80.2 200.3l0.9-2.7-0.7-0.2-0.8 2.7z"/><path class="c45" d="M79.4 204.4l0.8-4.1-0.6-0.2-0.9 4.2z"/><path class="c21" d="M48.3 227.3l0.9 1.3-0.7-0.1-0.8-1.3z"/><path class="c60" d="M42.3 208.4l0.8-1.2-0.6-0.1-0.9 1.1z"/><path class="c56" d="M41.4 211.4l0.9-3-0.7-0.2-0.8 3.1z"/><path class="c50" d="M40.6 216.1l0.8-4.7-0.6-0.1-0.9 4.7z"/><path class="c41" d="M39.7 222.1l0.9-6-0.7-0.1-0.9 6z"/><path class="c31" d="M38.8 228.4l0.9-6.3-0.7-0.1-0.8 6.3z"/><path class="c47" d="M80 202.6l0.9-4-0.7 1.7-0.8 4.1z"/><path class="c40" d="M79.2 207.2l0.8-4.6-0.6 1.8-0.9 4.6z"/><path class="c22" d="M49.8 226.8l0.9-0.9-0.7 1.9-0.8 0.8z"/><path class="c23" d="M49 225.5l0.8 1.3-0.6 1.8-0.9-1.3z"/><path class="c58" d="M42.1 209.7l0.8-3-0.6 1.7-0.9 3z"/><path class="c52" d="M41.2 214.4l0.9-4.7-0.7 1.7-0.8 4.7z"/><path class="c43" d="M40.4 220.3l0.8-5.9-0.6 1.7-0.9 6z"/><path class="c34" d="M39.5 226.6l0.9-6.3-0.7 1.8-0.9 6.3z"/><path class="c49" d="M92.8 198.2l0.9-5.9-0.7 2.6-0.9 6.2z"/><path class="c52" d="M80.7 199.8l0.9-3.9-0.7 2.7-0.9 4z"/><path class="c63" d="M42.7 207.1l0.9-3.1-0.7 2.7-0.8 3z"/><path class="c57" d="M41.9 211.7l0.8-4.6-0.6 2.6-0.9 4.7z"/><path class="c48" d="M41 217.3l0.9-5.6-0.7 2.7-0.8 5.9z"/><path class="c38" d="M40.2 223.6l0.8-6.3-0.6 3-0.9 6.3z"/><path class="c54" d="M93.5 195.6l0.8-5.8-0.6 2.5-0.9 5.9z"/><path class="c57" d="M81.4 197.3l0.8-3.9-0.6 2.5-0.9 3.9z"/><path class="c50" d="M80.5 201.6l0.9-4.3-0.7 2.5-0.9 4.4z"/><path class="c69" d="M43.4 204.6l0.9-3.1-0.7 2.5-0.9 3.1z"/><path class="c62" d="M42.5 209.2l0.9-4.6-0.7 2.5-0.8 4.6z"/><path class="c54" d="M41.7 214.8l0.8-5.6-0.6 2.5-0.9 5.6z"/><path class="c44" d="M40.8 220.9l0.9-6.1-0.7 2.5-0.8 6.3z"/><path class="c58" d="M94.1 194.5l0.9-5.8-0.7 1.1-0.8 5.8z"/><path class="c48" d="M93.3 200.2l0.8-5.7-0.6 1.1-0.9 5.9z"/><path class="c67" d="M82.9 192.3l0.9-2.7-0.7 1.1-0.9 2.7z"/><path class="c61" d="M82 196.2l0.9-3.9-0.7 1.1-0.8 3.9z"/><path class="c54" d="M81.2 200.5l0.8-4.3-0.6 1.1-0.9 4.3z"/><path class="c48" d="M80.3 204.1l0.9-3.6-0.7 1.1-0.8 3.8z"/><path class="c57" d="M73.4 201l0.9-2.4-0.7 1.1-0.9 2.4z"/><path class="c53" d="M72.5 203.6l0.9-2.6-0.7 1.1-0.8 2.6zM63.1 207.2l0.8-2.6-0.6 1.1-0.9 2.6z"/><path class="c49" d="M62.2 209.6l0.9-2.4-0.7 1.1-0.9 2.5z"/><path class="c63" d="M56.2 204.1l0.8-2-0.6 1.1-0.9 2z"/><path class="c58" d="M55.3 207.7l0.9-3.6-0.7 1.1-0.9 3.6z"/><path class="c73" d="M44.1 203.5l0.8-3.1-0.6 1.1-0.9 3.1z"/><path class="c66" d="M43.2 208.1l0.9-4.6-0.7 1.1-0.9 4.6z"/><path class="c58" d="M42.3 213.7l0.9-5.6-0.7 1.1-0.8 5.6z"/><path class="c48" d="M41.5 219.7l0.8-6-0.6 1.1-0.9 6.1z"/><path class="c59" d="M94.8 195.4l0.8-5.8-0.6-0.9-0.9 5.8z"/><path class="c49" d="M93.9 201.2l0.9-5.8-0.7-0.9-0.8 5.7z"/><path class="c69" d="M85.3 189.7l0.9 1.2-0.7-0.9-0.9-1.2z"/><path class="c70" d="M84.4 190.5l0.9-0.8-0.7-0.9-0.8 0.8z"/><path class="c68" d="M83.6 193.2l0.8-2.7-0.6-0.9-0.9 2.7z"/><path class="c62" d="M82.7 197.1l0.9-3.9-0.7-0.9-0.9 3.9z"/><path class="c55" d="M81.8 201.4l0.9-4.3-0.7-0.9-0.8 4.3z"/><path class="c49" d="M81 205.1l0.8-3.7-0.6-0.9-0.9 3.6z"/><path class="c44" d="M80.1 207.3l0.9-2.2-0.7-1-0.8 2.2z"/><path class="c60" d="M74.9 199.5l0.9-0.8-0.7-0.9-0.8 0.8z"/><path class="c58" d="M74.1 201.9l0.8-2.4-0.6-0.9-0.9 2.4z"/><path class="c54" d="M73.2 204.5l0.9-2.6-0.7-0.9-0.9 2.6z"/><path class="c51" d="M72.4 205.7l0.8-1.2-0.7-0.9-0.8 1.2zM71.5 205l0.9 0.7-0.7-0.9-0.9-0.7z"/><path class="c55" d="M69.8 204.3l0.8-0.5-0.6-0.9-0.9 0.5z"/><path class="c54" d="M68.9 205l0.9-0.7-0.7-0.9-0.9 0.7zM68 205.7l0.9-0.7-0.7-0.9-0.8 0.7z"/><path class="c53" d="M67.2 206.2l0.8-0.5-0.6-0.9-0.9 0.5z"/><path class="c54" d="M66.3 205l0.9 1.2-0.7-0.9-0.9-1.2z"/><path class="c57" d="M64.6 205.5l0.8-1.2-0.6-0.9-0.9 1.2z"/><path class="c54" d="M63.7 208.1l0.9-2.6-0.7-0.9-0.8 2.6z"/><path class="c50" d="M62.9 210.5l0.8-2.4-0.6-0.9-0.9 2.4z"/><path class="c65" d="M57.7 203l0.8-0.1-0.6-0.9-0.9 0.1z"/><path class="c64" d="M56.8 205l0.9-2-0.7-0.9-0.8 2z"/><path class="c59" d="M56 208.6l0.8-3.6-0.6-0.9-0.9 3.6z"/><path class="c52" d="M55.1 212.8l0.9-4.2-0.7-0.9-0.9 4.3z"/><path class="c77" d="M45.6 201.3l0.9-1.1-0.7-0.9-0.9 1.1z"/><path class="c74" d="M44.7 204.4l0.9-3.1-0.7-0.9-0.8 3.1z"/><path class="c67" d="M43.9 209l0.8-4.6-0.6-0.9-0.9 4.6z"/><path class="c59" d="M43 214.6l0.9-5.6-0.7-0.9-0.9 5.6z"/><path class="c49" d="M42.1 220.6l0.9-6-0.7-0.9-0.8 6z"/><path class="c57" d="M95.4 197.9l0.9-5.8-0.7-2.5-0.8 5.8z"/><path class="c47" d="M94.6 203.8l0.9-5.9-0.7-2.5-0.9 5.8z"/><path class="c63" d="M86.8 193.4l0.9 2.9-0.7-2.5-0.8-2.9z"/><path class="c67" d="M86 192.2l0.8 1.2-0.6-2.5-0.9-1.2z"/><path class="c68" d="M85.1 193l0.9-0.8-0.7-2.5-0.9 0.8z"/><path class="c65" d="M84.2 195.7l0.9-2.7-0.7-2.5-0.8 2.7z"/><path class="c60" d="M83.4 199.6l0.8-3.9-0.6-2.5-0.9 3.9z"/><path class="c53" d="M82.5 203.9l0.9-4.3-0.7-2.5-0.9 4.3z"/><path class="c47" d="M81.6 207.7l0.9-3.8-0.7-2.5-0.8 3.7z"/><path class="c53" d="M77.3 202.4l0.9 2.6-0.7-2.5-0.8-2.6z"/><path class="c57" d="M76.5 201.2l0.8 1.2-0.6-2.5-0.9-1.2z"/><path class="c58" d="M75.6 202l0.9-0.8-0.7-2.5-0.9 0.8z"/><path class="c56" d="M74.7 204.4l0.9-2.4-0.7-2.5-0.8 2.4z"/><path class="c52" d="M73.9 207l0.8-2.6-0.6-2.5-0.9 2.6z"/><path class="c49" d="M73 208.3l0.9-1.3-0.7-2.5-0.8 1.2zM72.2 207.5l0.8 0.8-0.6-2.6-0.9-0.7z"/><path class="c51" d="M71.3 206.3l0.9 1.2-0.7-2.5-0.9-1.2z"/><path class="c52" d="M70.4 206.8l0.9-0.5-0.7-2.5-0.8 0.5zM69.6 207.5l0.8-0.7-0.6-2.5-0.9 0.7zM67 207.5l0.8 1.2-0.6-2.5-0.9-1.2z"/><path class="c54" d="M66.1 206.8l0.9 0.7-0.7-2.5-0.9-0.7zM65.2 208l0.9-1.2-0.7-2.5-0.8 1.2z"/><path class="c51" d="M64.4 210.6l0.8-2.6-0.6-2.5-0.9 2.6z"/><path class="c47" d="M63.5 213.1l0.9-2.5-0.7-2.5-0.8 2.4z"/><path class="c60" d="M59.2 205.4l0.9 1.8-0.7-2.5-0.9-1.8z"/><path class="c63" d="M58.3 205.5l0.9-0.1-0.7-2.5-0.8 0.1z"/><path class="c61" d="M57.5 207.5l0.8-2-0.6-2.5-0.9 2z"/><path class="c57" d="M56.6 211.1l0.9-3.6-0.7-2.5-0.8 3.6z"/><path class="c50" d="M55.8 215.5l0.8-4.4-0.6-2.5-0.9 4.2z"/><path class="c70" d="M48 203.6l0.9 2.6-0.7-2.5-0.9-2.6z"/><path class="c74" d="M47.1 202.7l0.9 0.9-0.7-2.5-0.8-0.9z"/><path class="c75" d="M46.3 203.8l0.8-1.1-0.6-2.5-0.9 1.1z"/><path class="c71" d="M45.4 206.9l0.9-3.1-0.7-2.5-0.9 3.1z"/><path class="c65" d="M44.5 211.5l0.9-4.6-0.7-2.5-0.8 4.6z"/><path class="c56" d="M43.7 217.1l0.8-5.6-0.6-2.5-0.9 5.6z"/><path class="c46" d="M42.8 223.3l0.9-6.2-0.7-2.5-0.9 6z"/><path class="c53" d="M96.1 200.7l0.9-5.9-0.7-2.7-0.8 5.8z"/><path class="c43" d="M95.3 206.7l0.8-6-0.6-2.8-0.9 5.9z"/><path class="c59" d="M87.5 196.1l0.8 2.9-0.6-2.7-0.9-2.9z"/><path class="c63" d="M86.6 194.9l0.9 1.2-0.7-2.7-0.8-1.2z"/><path class="c64" d="M85.8 195.7l0.8-0.8-0.6-2.7-0.9 0.8z"/><path class="c61" d="M84.9 198.4l0.9-2.7-0.7-2.7-0.9 2.7z"/><path class="c56" d="M84 202.3l0.9-3.9-0.7-2.7-0.8 3.9z"/><path class="c49" d="M83.2 206.8l0.8-4.5-0.6-2.7-0.9 4.3z"/><path class="c43" d="M82.3 210.7l0.9-3.9-0.7-2.9-0.9 3.8z"/><path class="c49" d="M78 205.1l0.9 2.7-0.7-2.8-0.9-2.6z"/><path class="c53" d="M77.1 203.9l0.9 1.2-0.7-2.7-0.8-1.2z"/><path class="c54" d="M76.3 204.7l0.8-0.8-0.6-2.7-0.9 0.8z"/><path class="c52" d="M75.4 207.1l0.9-2.4-0.7-2.7-0.9 2.4z"/><path class="c48" d="M74.5 209.9l0.9-2.8-0.7-2.7-0.8 2.6z"/><path class="c45" d="M73.7 211.2l0.8-1.3-0.6-2.9-0.9 1.3zM72.8 210.3l0.9 0.9-0.7-2.9-0.8-0.8z"/><path class="c47" d="M72 209l0.8 1.3-0.6-2.8-0.9-1.2z"/><path class="c48" d="M71.1 209.5l0.9-0.5-0.7-2.7-0.9 0.5zM70.2 210.3l0.9-0.8-0.7-2.7-0.8 0.7z"/><path class="c50" d="M65.9 210.7l0.9-1.2-0.7-2.7-0.9 1.2z"/><path class="c47" d="M65 213.5l0.9-2.8-0.7-2.7-0.8 2.6z"/><path class="c59" d="M59 208.2l0.9-0.1-0.7-2.7-0.9 0.1z"/><path class="c57" d="M58.1 210.2l0.9-2-0.7-2.7-0.8 2z"/><path class="c53" d="M57.3 213.8l0.8-3.6-0.6-2.7-0.9 3.6z"/><path class="c46" d="M56.4 218.4l0.9-4.6-0.7-2.7-0.8 4.4z"/><path class="c66" d="M48.7 206.3l0.8 2.6-0.6-2.7-0.9-2.6z"/><path class="c70" d="M47.8 205.4l0.9 0.9-0.7-2.7-0.9-0.9z"/><path class="c71" d="M46.9 206.5l0.9-1.1-0.7-2.7-0.8 1.1z"/><path class="c67" d="M46.1 209.6l0.8-3.1-0.6-2.7-0.9 3.1z"/><path class="c61" d="M45.2 214.2l0.9-4.6-0.7-2.7-0.9 4.6z"/><path class="c52" d="M44.3 219.9l0.9-5.7-0.7-2.7-0.8 5.6z"/><path class="c42" d="M43.5 226.2l0.8-6.3-0.6-2.8-0.9 6.2z"/><path class="c50" d="M96.8 202.1l0.8-6-0.6-1.3-0.9 5.9z"/><path class="c60" d="M87.3 196.2l0.9 1.2-0.7-1.3-0.9-1.2z"/><path class="c61" d="M86.4 197l0.9-0.8-0.7-1.3-0.8 0.8z"/><path class="c59" d="M85.6 199.7l0.8-2.7-0.6-1.3-0.9 2.7z"/><path class="c53" d="M84.7 203.6l0.9-3.9-0.7-1.3-0.9 3.9z"/><path class="c46" d="M83.8 208.2l0.9-4.6-0.7-1.3-0.8 4.5z"/><path class="c51" d="M76.9 206l0.9-0.8-0.7-1.3-0.8 0.8z"/><path class="c49" d="M76.1 208.5l0.8-2.5-0.6-1.3-0.9 2.4z"/><path class="c45" d="M75.2 211.3l0.9-2.8-0.7-1.4-0.9 2.8z"/><path class="c67" d="M48.5 206.7l0.8 0.9-0.6-1.3-0.9-0.9z"/><path class="c68" d="M47.6 207.8l0.9-1.1-0.7-1.3-0.9 1.1z"/><path class="c64" d="M46.7 210.9l0.9-3.1-0.7-1.3-0.8 3.1z"/><path class="c58" d="M45.9 215.5l0.8-4.6-0.6-1.3-0.9 4.6z"/><path class="c49" d="M45 221.2l0.9-5.7-0.7-1.3-0.9 5.7z"/><path class="c40" d="M44.1 227.6l0.9-6.4-0.7-1.3-0.8 6.3z"/><path class="c61" d="M87.1 196.4l0.9-0.8-0.7 0.6-0.9 0.8z"/><path class="c59" d="M86.2 199.1l0.9-2.7-0.7 0.6-0.8 2.7z"/><path class="c53" d="M85.4 203l0.8-3.9-0.6 0.6-0.9 3.9z"/><path class="c46" d="M84.5 207.5l0.9-4.5-0.7 0.6-0.9 4.6z"/><path class="c49" d="M76.7 207.8l0.9-2.4-0.7 0.6-0.8 2.5z"/><path class="c45" d="M75.9 210.6l0.8-2.8-0.6 0.7-0.9 2.8z"/><path class="c29" d="M54.3 225.7l0.9 1.4-0.7 0.7-0.9-1.4z"/><path class="c65" d="M47.4 210.3l0.9-3.1-0.7 0.6-0.9 3.1z"/><path class="c58" d="M46.5 214.9l0.9-4.6-0.7 0.6-0.8 4.6z"/><path class="c49" d="M45.7 220.5l0.8-5.6-0.6 0.6-0.9 5.7z"/><path class="c40" d="M44.8 226.9l0.9-6.4-0.7 0.7-0.9 6.4z"/><path class="c52" d="M98.1 200.2l0.9-5.8-0.7 1.1-0.9 5.9z"/><path class="c61" d="M86.9 198l0.9-2.7-0.7 1.1-0.9 2.7z"/><path class="c56" d="M86 201.9l0.9-3.9-0.7 1.1-0.8 3.9z"/><path class="c49" d="M85.2 206.3l0.8-4.4-0.6 1.1-0.9 4.5z"/><path class="c42" d="M84.3 210.1l0.9-3.8-0.7 1.2-0.9 3.8z"/><path class="c51" d="M77.4 206.7l0.9-2.4-0.7 1.1-0.9 2.4z"/><path class="c47" d="M76.5 209.3l0.9-2.6-0.7 1.1-0.8 2.8z"/><path class="c31" d="M55.8 225.8l0.9-0.8-0.7 1.2-0.8 0.9z"/><path class="c32" d="M55 224.5l0.8 1.3-0.6 1.3-0.9-1.4z"/><path class="c67" d="M48.1 209.2l0.8-3.1-0.6 1.1-0.9 3.1z"/><path class="c61" d="M47.2 213.8l0.9-4.6-0.7 1.1-0.9 4.6z"/><path class="c52" d="M46.3 219.4l0.9-5.6-0.7 1.1-0.8 5.6z"/><path class="c42" d="M45.5 225.6l0.8-6.2-0.6 1.1-0.9 6.4z"/><path class="c54" d="M98.8 200.8l0.8-5.8-0.6-0.6-0.9 5.8z"/><path class="c65" d="M88.4 195.9l0.9-0.8-0.7-0.6-0.8 0.8z"/><path class="c62" d="M87.6 198.6l0.8-2.7-0.6-0.6-0.9 2.7z"/><path class="c57" d="M86.7 202.5l0.9-3.9-0.7-0.6-0.9 3.9z"/><path class="c50" d="M85.8 206.9l0.9-4.4-0.7-0.6-0.8 4.4z"/><path class="c43" d="M85 210.7l0.8-3.8-0.6-0.6-0.9 3.8z"/><path class="c55" d="M78.9 204.9l0.9-0.8-0.7-0.6-0.8 0.8z"/><path class="c52" d="M78.1 207.3l0.8-2.4-0.6-0.6-0.9 2.4z"/><path class="c48" d="M77.2 210l0.9-2.7-0.7-0.6-0.9 2.6z"/><path class="c46" d="M76.3 211.2l0.9-1.2-0.7-0.7-0.8 1.3zM75.5 210.4l0.8 0.8-0.6-0.6-0.9-0.8z"/><path class="c49" d="M73.7 209.7l0.9-0.5-0.7-0.6-0.8 0.5zM72.9 210.4l0.8-0.7-0.6-0.6-0.9 0.7z"/><path class="c59" d="M61.7 208.4l0.8-0.1-0.6-0.6-0.9 0.1z"/><path class="c58" d="M60.8 210.4l0.9-2-0.7-0.6-0.9 2z"/><path class="c71" d="M49.6 206.7l0.9-1.1-0.7-0.6-0.9 1.1z"/><path class="c68" d="M48.7 209.8l0.9-3.1-0.7-0.6-0.8 3.1z"/><path class="c62" d="M47.9 214.4l0.8-4.6-0.6-0.6-0.9 4.6z"/><path class="c53" d="M47 220l0.9-5.6-0.7-0.6-0.9 5.6z"/><path class="c43" d="M46.1 226.3l0.9-6.3-0.7-0.6-0.8 6.2z"/><path class="c53" d="M99.4 201.6l0.9-5.8-0.7-0.8-0.8 5.8z"/><path class="c63" d="M89.9 195.9l0.9 1.2-0.7-0.8-0.8-1.2z"/><path class="c64" d="M89.1 196.7l0.8-0.8-0.6-0.8-0.9 0.8z"/><path class="c62" d="M88.2 199.4l0.9-2.7-0.7-0.8-0.8 2.7z"/><path class="c56" d="M87.4 203.3l0.8-3.9-0.6-0.8-0.9 3.9z"/><path class="c49" d="M86.5 207.7l0.9-4.4-0.7-0.8-0.9 4.4z"/><path class="c43" d="M85.6 211.6l0.9-3.9-0.7-0.8-0.8 3.8z"/><path class="c54" d="M79.6 205.7l0.9-0.8-0.7-0.8-0.9 0.8z"/><path class="c52" d="M78.7 208.1l0.9-2.4-0.7-0.8-0.8 2.4z"/><path class="c48" d="M77.9 210.8l0.8-2.7-0.6-0.8-0.9 2.7z"/><path class="c45" d="M77 212.1l0.9-1.3-0.7-0.8-0.9 1.2z"/><path class="c49" d="M74.4 210.5l0.9-0.5-0.7-0.8-0.9 0.5z"/><path class="c48" d="M73.6 211.2l0.8-0.7-0.7-0.8-0.8 0.7z"/><path class="c59" d="M62.3 209.2l0.9-0.1-0.7-0.8-0.8 0.1z"/><path class="c57" d="M61.5 211.2l0.8-2-0.6-0.8-0.9 2z"/><path class="c71" d="M50.3 207.5l0.8-1.1-0.6-0.8-0.9 1.1z"/><path class="c68" d="M49.4 210.6l0.9-3.1-0.7-0.8-0.9 3.1z"/><path class="c61" d="M48.5 215.2l0.9-4.6-0.7-0.8-0.8 4.6z"/><path class="c52" d="M47.7 220.8l0.8-5.6-0.6-0.8-0.9 5.6z"/><path class="c43" d="M46.8 227.1l0.9-6.3-0.7-0.8-0.9 6.3z"/><path class="c52" d="M100.1 202.5l0.9-5.9-0.7-0.8-0.9 5.8z"/><path class="c64" d="M89.7 197.6l0.9-0.9-0.7-0.8-0.8 0.8z"/><path class="c61" d="M88.9 200.2l0.8-2.6-0.6-0.9-0.9 2.7z"/><path class="c56" d="M88 204.1l0.9-3.9-0.7-0.8-0.8 3.9z"/><path class="c49" d="M87.2 208.5l0.8-4.4-0.6-0.8-0.9 4.4z"/><path class="c54" d="M80.3 206.5l0.8-0.8-0.6-0.8-0.9 0.8z"/><path class="c51" d="M79.4 208.9l0.9-2.4-0.7-0.8-0.9 2.4z"/><path class="c48" d="M75.1 211.3l0.8-0.5-0.6-0.8-0.9 0.5zM74.2 212l0.9-0.7-0.7-0.8-0.8 0.7z"/><path class="c58" d="M63 210l0.9-0.1-0.7-0.8-0.9 0.1z"/><path class="c57" d="M62.1 212l0.9-2-0.7-0.8-0.8 2z"/><path class="c70" d="M50.9 208.3l0.9-1.1-0.7-0.8-0.8 1.1z"/><path class="c67" d="M50.1 211.4l0.8-3.1-0.6-0.8-0.9 3.1z"/><path class="c60" d="M49.2 216l0.9-4.6-0.7-0.8-0.9 4.6z"/><path class="c52" d="M48.3 221.6l0.9-5.6-0.7-0.8-0.8 5.6z"/><path class="c42" d="M47.5 227.9l0.8-6.3-0.6-0.8-0.9 6.3z"/><path class="c52" d="M100.8 203.1l0.8-5.9-0.6-0.6-0.9 5.9z"/><path class="c63" d="M90.4 198.2l0.9-0.9-0.7-0.6-0.9 0.9z"/><path class="c60" d="M89.5 200.8l0.9-2.6-0.7-0.6-0.8 2.6z"/><path class="c55" d="M88.7 204.8l0.8-4-0.6-0.6-0.9 3.9z"/><path class="c48" d="M87.8 209.2l0.9-4.4-0.7-0.7-0.8 4.4z"/><path class="c53" d="M80.9 207.1l0.9-0.8-0.7-0.6-0.8 0.8z"/><path class="c51" d="M80.1 209.5l0.8-2.4-0.6-0.6-0.9 2.4z"/><path class="c48" d="M75.7 211.9l0.9-0.5-0.7-0.6-0.8 0.5z"/><path class="c47" d="M74.9 212.7l0.8-0.8-0.6-0.6-0.9 0.7z"/><path class="c58" d="M63.7 210.6l0.8-0.1-0.6-0.6-0.9 0.1z"/><path class="c56" d="M62.8 212.6l0.9-2-0.7-0.6-0.9 2z"/><path class="c70" d="M51.6 208.9l0.8-1.1-0.6-0.6-0.9 1.1z"/><path class="c66" d="M50.7 212l0.9-3.1-0.7-0.6-0.8 3.1z"/><path class="c60" d="M49.9 216.6l0.8-4.6-0.6-0.6-0.9 4.6z"/><path class="c51" d="M49 222.2l0.9-5.6-0.7-0.6-0.9 5.6z"/><path class="c41" d="M48.1 228.6l0.9-6.4-0.7-0.6-0.8 6.3z"/><path class="c53" d="M101.4 201.9l0.9-5.8-0.7 1.1-0.8 5.9z"/><path class="c62" d="M90.2 199.7l0.9-2.6-0.7 1.1-0.9 2.6z"/><path class="c56" d="M89.4 203.7l0.8-4-0.7 1.1-0.8 4z"/><path class="c52" d="M80.7 208.4l0.9-2.4-0.7 1.1-0.8 2.4z"/><path class="c57" d="M63.5 211.5l0.8-2-0.6 1.1-0.9 2z"/><path class="c53" d="M62.6 215.1l0.9-3.6-0.7 1.1-0.9 3.6z"/><path class="c68" d="M51.4 210.9l0.8-3-0.6 1-0.9 3.1z"/><path class="c61" d="M50.5 215.5l0.9-4.6-0.7 1.1-0.8 4.6z"/><path class="c52" d="M49.7 221.1l0.8-5.6-0.6 1.1-0.9 5.6z"/><path class="c43" d="M48.8 227.3l0.9-6.2-0.7 1.1-0.9 6.4z"/><path class="c55" d="M102.1 201.3l0.9-5.8-0.7 0.6-0.9 5.8z"/><path class="c46" d="M101.2 207.2l0.9-5.9-0.7 0.6-0.8 6z"/><path class="c67" d="M91.7 196.5l0.9-0.9-0.7 0.6-0.8 0.9z"/><path class="c64" d="M90.9 199.1l0.8-2.6-0.6 0.6-0.9 2.6z"/><path class="c59" d="M90 203l0.9-3.9-0.7 0.6-0.8 4z"/><path class="c52" d="M89.2 207.3l0.8-4.3-0.6 0.7-0.9 4.2z"/><path class="c54" d="M81.4 207.8l0.8-2.4-0.6 0.6-0.9 2.4z"/><path class="c51" d="M77.1 210.2l0.8-0.5-0.6 0.6-0.9 0.5z"/><path class="c60" d="M64.1 210.9l0.9-2-0.7 0.6-0.8 2z"/><path class="c55" d="M63.3 214.5l0.8-3.6-0.6 0.6-0.9 3.6z"/><path class="c70" d="M52 210.3l0.9-3.1-0.7 0.7-0.8 3z"/><path class="c64" d="M51.2 214.9l0.8-4.6-0.6 0.6-0.9 4.6z"/><path class="c55" d="M50.3 220.5l0.9-5.6-0.7 0.6-0.8 5.6z"/><path class="c45" d="M49.5 226.6l0.8-6.1-0.6 0.6-0.9 6.2z"/><path class="c55" d="M102.8 202.6l0.8-5.8-0.6-1.3-0.9 5.8z"/><path class="c46" d="M101.9 208.6l0.9-6-0.7-1.3-0.9 5.9z"/><path class="c66" d="M93.3 196.9l0.8 1.2-0.6-1.3-0.9-1.2z"/><path class="c67" d="M92.4 197.8l0.9-0.9-0.7-1.3-0.9 0.9z"/><path class="c64" d="M91.5 200.4l0.9-2.6-0.7-1.3-0.8 2.6z"/><path class="c59" d="M90.7 204.4l0.8-4-0.6-1.3-0.9 3.9z"/><path class="c52" d="M89.8 208.6l0.9-4.2-0.7-1.4-0.8 4.3z"/><path class="c57" d="M82.9 206.7l0.9-0.8-0.7-1.3-0.9 0.8z"/><path class="c54" d="M82.1 209.1l0.8-2.4-0.7-1.3-0.8 2.4z"/><path class="c50" d="M81.2 211.7l0.9-2.6-0.7-1.3-0.9 2.6z"/><path class="c51" d="M77.7 211.5l0.9-0.5-0.7-1.3-0.8 0.5zM76.9 212.2l0.8-0.7-0.6-1.3-0.9 0.7z"/><path class="c50" d="M76 212.9l0.9-0.7-0.7-1.3-0.9 0.7z"/><path class="c49" d="M75.1 213.4l0.9-0.5-0.7-1.3-0.8 0.5z"/><path class="c51" d="M74.3 212.2l0.8 1.2-0.6-1.3-0.9-1.2z"/><path class="c53" d="M73.4 211.5l0.9 0.7-0.7-1.3-0.8-0.7z"/><path class="c61" d="M65.7 210.2l0.8 0-0.6-1.4-0.9 0.1z"/><path class="c60" d="M64.8 212.2l0.9-2-0.7-1.3-0.9 2z"/><path class="c55" d="M63.9 215.8l0.9-3.6-0.7-1.3-0.8 3.6z"/><path class="c49" d="M63.1 220.2l0.8-4.4-0.6-1.3-0.9 4.3z"/><path class="c73" d="M54.4 207.4l0.9 0.9-0.7-1.3-0.8-0.9zM53.6 208.6l0.8-1.2-0.6-1.3-0.9 1.1z"/><path class="c70" d="M52.7 211.6l0.9-3-0.7-1.4-0.9 3.1z"/><path class="c64" d="M51.8 216.2l0.9-4.6-0.7-1.3-0.8 4.6z"/><path class="c55" d="M51 221.8l0.8-5.6-0.6-1.3-0.9 5.6z"/><path class="c45" d="M50.1 228l0.9-6.2-0.7-1.3-0.8 6.1z"/><path class="c53" d="M103.4 205.4l0.9-5.9-0.7-2.7-0.8 5.8z"/><path class="c43" d="M102.6 211.5l0.8-6.1-0.6-2.8-0.9 6z"/><path class="c63" d="M93.9 199.6l0.9 1.2-0.7-2.7-0.8-1.2z"/><path class="c64" d="M93.1 200.5l0.8-0.9-0.6-2.7-0.9 0.9z"/><path class="c61" d="M92.2 203.1l0.9-2.6-0.7-2.7-0.9 2.6z"/><path class="c56" d="M91.3 207.1l0.9-4-0.7-2.7-0.8 4z"/><path class="c49" d="M90.5 211.5l0.8-4.4-0.6-2.7-0.9 4.2zM85.3 209.8l0.9 2.8-0.7-2.9-0.9-2.6z"/><path class="c53" d="M84.4 208.6l0.9 1.2-0.7-2.7-0.8-1.2z"/><path class="c54" d="M83.6 209.4l0.8-0.8-0.6-2.7-0.9 0.8z"/><path class="c51" d="M82.7 211.8l0.9-2.4-0.7-2.7-0.8 2.4z"/><path class="c47" d="M81.9 214.6l0.8-2.8-0.6-2.7-0.9 2.6zM75.8 216.3l0.9-0.5-0.7-2.9-0.9 0.5z"/><path class="c48" d="M74.9 215l0.9 1.3-0.7-2.9-0.8-1.2z"/><path class="c50" d="M74.1 214.2l0.8 0.8-0.6-2.8-0.9-0.7zM73.2 215.4l0.9-1.2-0.7-2.7-0.8 1.2z"/><path class="c57" d="M65.5 214.9l0.8-2-0.6-2.7-0.9 2z"/><path class="c52" d="M64.6 218.5l0.9-3.6-0.7-2.7-0.9 3.6z"/><path class="c46" d="M63.7 223.1l0.9-4.6-0.7-2.7-0.8 4.4z"/><path class="c66" d="M56 211l0.8 2.7-0.6-2.7-0.9-2.7z"/><path class="c70" d="M55.1 210.1l0.9 0.9-0.7-2.7-0.9-0.9zM54.2 211.3l0.9-1.2-0.7-2.7-0.8 1.2z"/><path class="c67" d="M53.4 214.3l0.8-3-0.6-2.7-0.9 3z"/><path class="c61" d="M52.5 218.9l0.9-4.6-0.7-2.7-0.9 4.6z"/><path class="c52" d="M51.6 224.6l0.9-5.7-0.7-2.7-0.8 5.6z"/><path class="c42" d="M50.8 230.9l0.9-6.3-0.7-2.8-0.9 6.2z"/><path class="c49" d="M104.1 208.1l0.9-6.1-0.7-2.5-0.9 5.9z"/><path class="c59" d="M94.6 202.1l0.9 1.2-0.7-2.5-0.9-1.2z"/><path class="c60" d="M93.7 203l0.9-0.9-0.7-2.5-0.8 0.9z"/><path class="c57" d="M92.9 205.6l0.8-2.6-0.6-2.5-0.9 2.6z"/><path class="c52" d="M92 209.6l0.9-4-0.7-2.5-0.9 4z"/><path class="c45" d="M91.1 214.2l0.9-4.6-0.7-2.5-0.8 4.4z"/><path class="c49" d="M85.1 211.1l0.9 1.3-0.7-2.6-0.9-1.2z"/><path class="c50" d="M84.2 211.9l0.9-0.8-0.7-2.5-0.8 0.8z"/><path class="c44" d="M75.6 217.6l0.9 1.3-0.7-2.6-0.9-1.3z"/><path class="c46" d="M74.8 216.8l0.8 0.8-0.7-2.6-0.8-0.8zM73.9 218.1l0.8-1.3-0.6-2.6-0.9 1.2z"/><path class="c66" d="M55.8 212.6l0.8 0.9-0.6-2.5-0.9-0.9zM54.9 213.7l0.9-1.1-0.7-2.5-0.9 1.2z"/><path class="c63" d="M54 216.8l0.9-3.1-0.7-2.4-0.8 3z"/><path class="c57" d="M53.2 221.4l0.8-4.6-0.6-2.5-0.9 4.6z"/><path class="c48" d="M52.3 227.3l0.9-5.9-0.7-2.5-0.8 5.7z"/><path class="c38" d="M51.5 233.6l0.8-6.3-0.6-2.7-0.9 6.3z"/><path class="c58" d="M94.4 203.8l0.9-0.8-0.7-0.9-0.9 0.9z"/><path class="c55" d="M93.5 206.5l0.9-2.7-0.7-0.8-0.8 2.6z"/><path class="c49" d="M92.7 210.5l0.8-4-0.6-0.9-0.9 4z"/><path class="c64" d="M55.6 214.6l0.8-1.1-0.6-0.9-0.9 1.1z"/><path class="c61" d="M54.7 217.7l0.9-3.1-0.7-0.9-0.9 3.1z"/><path class="c54" d="M53.8 222.3l0.9-4.6-0.7-0.9-0.8 4.6z"/><path class="c46" d="M53 228.2l0.8-5.9-0.6-0.9-0.9 5.9z"/><path class="c36" d="M52.1 234.5l0.9-6.3-0.7-0.9-0.8 6.3z"/><path class="c19" d="M101.1 222.3l0.9 1-0.7 1.2-0.9-0.9z"/><path class="c56" d="M94.2 205.4l0.9-2.6-0.7 1-0.9 2.7z"/><path class="c50" d="M93.3 209.4l0.9-4-0.7 1.1-0.8 4z"/><path class="c26" d="M63.1 233.5l0.9-0.9-0.7 1.2-0.8 0.9zM62.3 232.2l0.8 1.3-0.6 1.2-0.9-1.3z"/><path class="c62" d="M55.4 216.6l0.8-3.1-0.6 1.1-0.9 3.1z"/><path class="c55" d="M54.5 221.2l0.9-4.6-0.7 1.1-0.9 4.6z"/><path class="c47" d="M53.6 227l0.9-5.8-0.7 1.1-0.8 5.9z"/><path class="c37" d="M52.8 233.3l0.8-6.3-0.6 1.2-0.9 6.3z"/><path class="c54" d="M94 206.9l0.9-4-0.7 2.5-0.9 4z"/><path class="c32" d="M64.7 229.9l0.8-2.9-0.6 2.7-0.9 2.9z"/><path class="c30" d="M63.8 230.8l0.9-0.9-0.7 2.7-0.9 0.9z"/><path class="c31" d="M62.9 229.4l0.9 1.4-0.7 2.7-0.8-1.3z"/><path class="c35" d="M62.1 226.2l0.8 3.2-0.6 2.8-0.9-3.2z"/><path class="c66" d="M56 214.1l0.9-3-0.7 2.4-0.8 3.1z"/><path class="c59" d="M55.2 218.7l0.8-4.6-0.6 2.5-0.9 4.6z"/><path class="c51" d="M54.3 224.3l0.9-5.6-0.7 2.5-0.9 5.8z"/><path class="c41" d="M53.4 230.6l0.9-6.3-0.7 2.7-0.8 6.3z"/><path class="c38" d="M65.3 226.9l0.9-2.9-0.7 3-0.8 2.9z"/><path class="c35" d="M64.5 227.8l0.8-0.9-0.6 3-0.9 0.9z"/><path class="c36" d="M63.6 226.5l0.9 1.3-0.7 3-0.9-1.4z"/><path class="c40" d="M62.7 223.3l0.9 3.2-0.7 2.9-0.8-3.2z"/><path class="c71" d="M56.7 211.4l0.9-3-0.7 2.7-0.9 3z"/><path class="c65" d="M55.8 216l0.9-4.6-0.7 2.7-0.8 4.6z"/><path class="c56" d="M55 221.6l0.8-5.6-0.6 2.7-0.9 5.6z"/><path class="c46" d="M54.1 227.6l0.9-6-0.7 2.7-0.9 6.3z"/><path class="c70" d="M96.2 198.6l0.9-2.7-0.7 1.7-0.9 2.7z"/><path class="c65" d="M95.3 202.5l0.9-3.9-0.7 1.7-0.8 3.9z"/><path class="c58" d="M94.5 206.8l0.8-4.3-0.6 1.7-0.9 4.3z"/><path class="c51" d="M93.6 210.4l0.9-3.6-0.7 1.7-0.9 3.6z"/><path class="c60" d="M86.7 207.3l0.9-2.4-0.7 1.7-0.9 2.3z"/><path class="c56" d="M85.8 209.9l0.9-2.6-0.7 1.6-0.8 2.6zM76.3 213.5l0.9-2.6-0.7 1.6-0.8 2.6z"/><path class="c40" d="M65.1 226l0.9-0.9-0.7 1.8-0.8 0.9z"/><path class="c41" d="M64.3 224.6l0.8 1.4-0.6 1.8-0.9-1.3z"/><path class="c45" d="M63.4 221.5l0.9 3.1-0.7 1.9-0.9-3.2z"/><path class="c76" d="M57.4 209.8l0.8-3.1-0.6 1.7-0.9 3z"/><path class="c70" d="M56.5 214.4l0.9-4.6-0.7 1.6-0.9 4.6z"/><path class="c61" d="M55.6 219.9l0.9-5.5-0.7 1.6-0.8 5.6z"/><path class="c51" d="M54.8 225.8l0.8-5.9-0.6 1.7-0.9 6z"/><path class="c64" d="M108.1 200.9l0.8-5.8-0.6-0.1-0.9 5.8z"/><path class="c75" d="M97.7 196.1l0.9-0.9-0.7-0.1-0.8 0.8z"/><path class="c72" d="M96.9 198.7l0.8-2.6-0.6-0.2-0.9 2.7z"/><path class="c67" d="M96 202.7l0.9-4-0.7-0.1-0.9 3.9z"/><path class="c60" d="M95.1 206.9l0.9-4.2-0.7-0.2-0.8 4.3z"/><path class="c53" d="M94.3 210.5l0.8-3.6-0.6-0.1-0.9 3.6z"/><path class="c65" d="M88.2 205l0.9-0.8-0.7-0.1-0.8 0.8z"/><path class="c63" d="M87.4 207.4l0.8-2.4-0.6-0.1-0.9 2.4z"/><path class="c59" d="M86.5 210l0.9-2.6-0.7-0.1-0.9 2.6z"/><path class="c56" d="M85.6 211.2l0.9-1.2-0.7-0.1-0.8 1.2z"/><path class="c59" d="M83.1 209.8l0.8-0.5-0.6-0.1-0.9 0.5zM82.2 210.5l0.9-0.7-0.7-0.1-0.9 0.7z"/><path class="c61" d="M77.9 211l0.8-1.2-0.6-0.1-0.9 1.2z"/><path class="c58" d="M77 213.6l0.9-2.6-0.7-0.1-0.9 2.6z"/><path class="c54" d="M76.1 216l0.9-2.4-0.7-0.1-0.8 2.4z"/><path class="c52" d="M75.3 216.8l0.8-0.8-0.6-0.1-0.9 0.7z"/><path class="c69" d="M71 208.5l0.8-0.1-0.6-0.1-0.9 0z"/><path class="c81" d="M58.9 206.9l0.9-1.2-0.7-0.1-0.9 1.1z"/><path class="c78" d="M58 209.9l0.9-3-0.7-0.2-0.8 3.1z"/><path class="c72" d="M57.2 214.5l0.8-4.6-0.6-0.1-0.9 4.6z"/><path class="c63" d="M56.3 220.1l0.9-5.6-0.7-0.1-0.9 5.5z"/><path class="c53" d="M55.4 225.9l0.9-5.8-0.7-0.2-0.8 5.9z"/><path class="c62" d="M108.7 203.1l0.9-5.9-0.7-2.1-0.8 5.8z"/><path class="c73" d="M99.2 197.4l0.9 1.1-0.7-2.1-0.8-1.2z"/><path class="c74" d="M98.4 198.2l0.8-0.8-0.6-2.2-0.9 0.9z"/><path class="c71" d="M97.5 200.9l0.9-2.7-0.7-2.1-0.8 2.6z"/><path class="c66" d="M96.7 204.8l0.8-3.9-0.6-2.2-0.9 4z"/><path class="c59" d="M95.8 209.1l0.9-4.3-0.7-2.1-0.9 4.2z"/><path class="c52" d="M94.9 212.6l0.9-3.5-0.7-2.2-0.8 3.6z"/><path class="c59" d="M90.6 207.6l0.9 2.6-0.7-2.2-0.8-2.6z"/><path class="c63" d="M89.8 206.4l0.8 1.2-0.6-2.2-0.9-1.2z"/><path class="c64" d="M88.9 207.2l0.9-0.8-0.7-2.2-0.9 0.8z"/><path class="c61" d="M88 209.6l0.9-2.4-0.7-2.2-0.8 2.4z"/><path class="c57" d="M87.2 212.2l0.8-2.6-0.6-2.2-0.9 2.6z"/><path class="c54" d="M85.4 212.6l0.9 0.8-0.7-2.2-0.8-0.7z"/><path class="c57" d="M84.6 211.5l0.8 1.1-0.6-2.1-0.9-1.2z"/><path class="c58" d="M83.7 212l0.9-0.5-0.7-2.2-0.8 0.5z"/><path class="c57" d="M82.9 212.7l0.8-0.7-0.6-2.2-0.9 0.7zM82 213.4l0.9-0.7-0.7-2.2-0.9 0.7z"/><path class="c53" d="M76.8 218.1l0.9-2.3-0.7-2.2-0.9 2.4z"/><path class="c51" d="M76 218.9l0.8-0.8-0.7-2.1-0.8 0.8z"/><path class="c52" d="M75.1 217.7l0.9 1.2-0.7-2.1-0.9-1.2z"/><path class="c56" d="M74.2 215.1l0.9 2.6-0.7-2.1-0.8-2.6z"/><path class="c66" d="M72.5 210.6l0.9 1.8-0.7-2.2-0.9-1.8z"/><path class="c68" d="M71.6 210.6l0.9 0-0.7-2.2-0.8 0.1z"/><path class="c67" d="M70.8 212.7l0.8-2.1-0.6-2.1-0.9 2z"/><path class="c76" d="M61.3 208.7l0.8 2.7-0.6-2.1-0.9-2.7z"/><path class="c80" d="M60.4 207.9l0.9 0.8-0.7-2.1-0.8-0.9zM59.6 209l0.8-1.1-0.6-2.2-0.9 1.2z"/><path class="c77" d="M58.7 212l0.9-3-0.7-2.1-0.9 3z"/><path class="c70" d="M57.8 216.7l0.9-4.7-0.7-2.1-0.8 4.6z"/><path class="c62" d="M57 222.2l0.8-5.5-0.6-2.2-0.9 5.6z"/><path class="c52" d="M56.1 228.2l0.9-6-0.7-2.1-0.9 5.8z"/><path class="c58" d="M109.4 206.8l0.9-5.9-0.7-3.7-0.9 5.9z"/><path class="c57" d="M101.6 205.2l0.9 4-0.7-3.6-0.8-4.1z"/><path class="c64" d="M100.8 202.2l0.8 3-0.6-3.7-0.9-3z"/><path class="c68" d="M99.9 201.1l0.9 1.1-0.7-3.7-0.9-1.1z"/><path class="c69" d="M99.1 201.9l0.8-0.8-0.7-3.7-0.8 0.8z"/><path class="c66" d="M98.2 204.6l0.9-2.7-0.7-3.7-0.9 2.7z"/><path class="c61" d="M97.3 208.5l0.9-3.9-0.7-3.7-0.8 3.9z"/><path class="c54" d="M91.3 211.3l0.8 2.5-0.6-3.6-0.9-2.6z"/><path class="c58" d="M90.4 210.1l0.9 1.2-0.7-3.7-0.8-1.2z"/><path class="c59" d="M89.6 210.9l0.8-0.8-0.6-3.7-0.9 0.8z"/><path class="c57" d="M88.7 213.2l0.9-2.3-0.7-3.7-0.9 2.4z"/><path class="c52" d="M85.2 215.1l0.9 1.2-0.7-3.7-0.8-1.1z"/><path class="c53" d="M84.4 215.6l0.8-0.5-0.6-3.6-0.9 0.5zM83.5 216.3l0.9-0.7-0.7-3.6-0.8 0.7z"/><path class="c47" d="M75.8 221.5l0.8 1.3-0.6-3.9-0.9-1.2z"/><path class="c51" d="M74.9 218.8l0.9 2.7-0.7-3.8-0.9-2.6z"/><path class="c57" d="M74 216l0.9 2.8-0.7-3.7-0.8-2.7z"/><path class="c61" d="M73.2 214.3l0.8 1.7-0.6-3.6-0.9-1.8z"/><path class="c64" d="M72.3 214.3l0.9 0-0.7-3.7-0.9 0z"/><path class="c62" d="M71.4 216.3l0.9-2-0.7-3.7-0.8 2.1z"/><path class="c65" d="M62.8 215.1l0.9 3.9-0.7-3.7-0.9-3.9z"/><path class="c71" d="M61.9 212.4l0.9 2.7-0.7-3.7-0.8-2.7z"/><path class="c75" d="M61.1 211.6l0.8 0.8-0.6-3.7-0.9-0.8z"/><path class="c76" d="M60.2 212.7l0.9-1.1-0.7-3.7-0.8 1.1z"/><path class="c72" d="M59.4 215.7l0.8-3-0.6-3.7-0.9 3z"/><path class="c66" d="M58.5 220.3l0.9-4.6-0.7-3.7-0.9 4.7z"/><path class="c57" d="M57.6 225.9l0.9-5.6-0.7-3.6-0.8 5.5z"/><path class="c47" d="M56.8 232.1l0.8-6.2-0.6-3.7-0.9 6z"/><path class="c51" d="M110.1 211.4l0.8-6.1-0.6-4.4-0.9 5.9z"/><path class="c50" d="M102.3 209.5l0.9 4.3-0.7-4.6-0.9-4z"/><path class="c57" d="M101.4 206.6l0.9 2.9-0.7-4.3-0.8-3z"/><path class="c62" d="M100.6 205.4l0.8 1.2-0.6-4.4-0.9-1.1zM99.7 206.3l0.9-0.9-0.7-4.3-0.8 0.8z"/><path class="c60" d="M98.9 208.9l0.8-2.6-0.6-4.4-0.9 2.7z"/><path class="c45" d="M75.6 223.4l0.8 2.8-0.6-4.7-0.9-2.7z"/><path class="c50" d="M74.7 220.4l0.9 3-0.7-4.6-0.9-2.8z"/><path class="c55" d="M73.8 218.6l0.9 1.8-0.7-4.4-0.8-1.7z"/><path class="c57" d="M73 218.7l0.8-0.1-0.6-4.3-0.9 0z"/><path class="c56" d="M72.1 220.7l0.9-2-0.7-4.4-0.9 2z"/><path class="c58" d="M63.5 219.5l0.8 3.9-0.6-4.4-0.9-3.9z"/><path class="c65" d="M62.6 216.8l0.9 2.7-0.7-4.4-0.9-2.7z"/><path class="c69" d="M61.7 215.9l0.9 0.9-0.7-4.4-0.8-0.8zM60.9 217l0.8-1.1-0.6-4.3-0.9 1.1z"/><path class="c66" d="M60 220.1l0.9-3.1-0.7-4.3-0.8 3z"/><path class="c59" d="M59.2 224.7l0.8-4.6-0.6-4.4-0.9 4.6z"/><path class="c51" d="M58.3 230.5l0.9-5.8-0.7-4.4-0.9 5.6z"/><path class="c41" d="M57.4 236.8l0.9-6.3-0.7-4.6-0.8 6.2z"/><path class="c50" d="M102.1 210.6l0.9 3.1-0.7-4.2-0.9-2.9z"/><path class="c55" d="M101.2 209.5l0.9 1.1-0.7-4-0.8-1.2z"/><path class="c56" d="M100.4 210.3l0.8-0.8-0.6-4.1-0.9 0.9z"/><path class="c53" d="M99.5 213l0.9-2.7-0.7-4-0.8 2.6z"/><path class="c43" d="M75.4 224.7l0.8 3-0.6-4.3-0.9-3z"/><path class="c48" d="M74.5 222.7l0.9 2-0.7-4.3-0.9-1.8z"/><path class="c50" d="M73.6 222.7l0.9 0-0.7-4.1-0.8 0.1z"/><path class="c58" d="M63.3 220.8l0.8 2.7-0.6-4-0.9-2.7z"/><path class="c62" d="M62.4 219.9l0.9 0.9-0.7-4-0.9-0.9zM61.5 221.1l0.9-1.2-0.7-4-0.8 1.1z"/><path class="c59" d="M60.7 224.1l0.8-3-0.6-4.1-0.9 3.1z"/><path class="c52" d="M59.8 228.8l0.9-4.7-0.7-4-0.8 4.6z"/><path class="c44" d="M59 234.9l0.8-6.1-0.6-4.1-0.9 5.8z"/><path class="c34" d="M58.1 241.2l0.9-6.3-0.7-4.4-0.9 6.3z"/><path class="c49" d="M101.9 212.2l0.9 1.3-0.7-2.9-0.9-1.1z"/><path class="c50" d="M101 213.1l0.9-0.9-0.7-2.7-0.8 0.8z"/><path class="c45" d="M74.3 225.7l0.9 0-0.7-3-0.9 0z"/><path class="c38" d="M65.7 230.5l0.8 4.9-0.6-3-0.9-4.8z"/><path class="c56" d="M63.1 222.7l0.8 0.9-0.6-2.8-0.9-0.9z"/><path class="c57" d="M62.2 223.9l0.9-1.2-0.7-2.8-0.9 1.2z"/><path class="c53" d="M61.4 226.9l0.8-3-0.7-2.8-0.8 3z"/><path class="c47" d="M60.5 231.8l0.9-4.9-0.7-2.8-0.9 4.7z"/><path class="c38" d="M59.6 237.9l0.9-6.1-0.7-3-0.8 6.1z"/><path class="c28" d="M58.8 244.2l0.8-6.3-0.6-3-0.9 6.3z"/><path class="c12" d="M106.9 231.3l0.8 2.9-0.6-1-0.9-2.9z"/><path class="c19" d="M106 227l0.9 4.3-0.7-1-0.8-4.3z"/><path class="c22" d="M95.7 229.9l0.8 1.9-0.6-0.9-0.9-2z"/><path class="c27" d="M94.8 226.8l0.9 3.1-0.7-1-0.9-3.1z"/><path class="c20" d="M68.1 240.8l0.8 3.2-0.6-0.9-0.9-3.3z"/><path class="c35" d="M66.3 231.5l0.9 4.9-0.7-1-0.8-4.9z"/><path class="c43" d="M65.5 227.2l0.8 4.3-0.6-1-0.9-4.2z"/><path class="c50" d="M64.6 224.5l0.9 2.7-0.7-0.9-0.9-2.7z"/><path class="c54" d="M62.9 224.8l0.8-1.1-0.6-1-0.9 1.2z"/><path class="c51" d="M62 227.8l0.9-3-0.7-0.9-0.8 3z"/><path class="c44" d="M61.2 232.8l0.8-5-0.6-0.9-0.9 4.9z"/><path class="c36" d="M60.3 238.8l0.9-6-0.7-1-0.9 6.1z"/><path class="c26" d="M59.4 245.2l0.9-6.4-0.7-0.9-0.8 6.3z"/><path class="c37" d="M112.7 218.5l0.9-6.4-0.7 1.3-0.8 6.3z"/><path class="c9" d="M109.3 234l0.8-1.2-0.6 1.2-0.9 1.2zM108.4 233l0.9 1-0.7 1.2-0.9-1z"/><path class="c13" d="M107.6 230.1l0.8 2.9-0.7 1.2-0.8-2.9z"/><path class="c20" d="M106.7 225.8l0.9 4.3-0.7 1.2-0.9-4.3z"/><path class="c21" d="M97.2 230.6l0.9 0-0.7 1.2-0.9 0z"/><path class="c23" d="M96.3 228.7l0.9 1.9-0.7 1.2-0.8-1.9z"/><path class="c28" d="M95.5 225.6l0.8 3.1-0.6 1.2-0.9-3.1z"/><path class="c32" d="M84.3 228l0.8 1.3-0.6 1.2-0.9-1.3z"/><path class="c35" d="M83.4 227.2l0.9 0.8-0.7 1.2-0.9-0.8zM82.5 228.5l0.9-1.3-0.7 1.2-0.8 1.3z"/><path class="c15" d="M70.4 244.1l0.9-0.8-0.7 1.2-0.8 0.8z"/><path class="c16" d="M69.6 242.8l0.8 1.3-0.6 1.2-0.9-1.3z"/><path class="c21" d="M68.7 239.6l0.9 3.2-0.7 1.2-0.8-3.2z"/><path class="c28" d="M67.9 235.1l0.8 4.5-0.6 1.2-0.9-4.4z"/><path class="c52" d="M62.7 226.8l0.8-3.1-0.6 1.1-0.9 3z"/><path class="c45" d="M61.8 231.6l0.9-4.8-0.7 1-0.8 5z"/><path class="c37" d="M61 237.6l0.8-6-0.6 1.2-0.9 6z"/><path class="c27" d="M60.1 243.9l0.9-6.3-0.7 1.2-0.9 6.4z"/><path class="c41" d="M113.4 215.4l0.9-6.3-0.7 3-0.9 6.4z"/><path class="c23" d="M111.7 226.4l0.8-5-0.6 3.1-0.9 5z"/><path class="c17" d="M110.8 229.7l0.9-3.3-0.7 3.1-0.9 3.3z"/><path class="c13" d="M109.9 230.9l0.9-1.2-0.7 3.1-0.8 1.2z"/><path class="c14" d="M109.1 229.9l0.8 1-0.6 3.1-0.9-1z"/><path class="c17" d="M108.2 227l0.9 2.9-0.7 3.1-0.8-2.9z"/><path class="c24" d="M107.4 222.7l0.8 4.3-0.6 3.1-0.9-4.3z"/><path class="c25" d="M97.9 227.5l0.8 0-0.6 3.1-0.9 0z"/><path class="c28" d="M72.8 237.3l0.9-4.3-0.7 3.1-0.8 4.3z"/><path class="c22" d="M72 240.1l0.8-2.8-0.6 3.1-0.9 2.9z"/><path class="c20" d="M71.1 241l0.9-0.9-0.7 3.2-0.9 0.8z"/><path class="c21" d="M70.2 239.7l0.9 1.3-0.7 3.1-0.8-1.3z"/><path class="c25" d="M69.4 236.5l0.8 3.2-0.6 3.1-0.9-3.2z"/><path class="c32" d="M68.5 232l0.9 4.5-0.7 3.1-0.8-4.5z"/><path class="c41" d="M61.6 234.5l0.9-6-0.7 3.1-0.8 6z"/><path class="c31" d="M60.8 240.8l0.8-6.3-0.6 3.1-0.9 6.3z"/><path class="c48" d="M114.1 211l0.8-5.8-0.6 3.9-0.9 6.3z"/><path class="c30" d="M112.3 222l0.9-5-0.7 4.4-0.8 5z"/><path class="c23" d="M111.5 225.3l0.8-3.3-0.6 4.4-0.9 3.3z"/><path class="c20" d="M110.6 226.5l0.9-1.2-0.7 4.4-0.9 1.2z"/><path class="c21" d="M109.7 225.5l0.9 1-0.7 4.4-0.8-1z"/><path class="c24" d="M108.9 222.6l0.8 2.9-0.6 4.4-0.9-2.9z"/><path class="c31" d="M108 218.3l0.9 4.3-0.7 4.4-0.8-4.3z"/><path class="c35" d="M73.5 232.9l0.9-4.2-0.7 4.3-0.9 4.3z"/><path class="c29" d="M72.6 235.8l0.9-2.9-0.7 4.4-0.8 2.8z"/><path class="c27" d="M71.8 236.7l0.8-0.9-0.6 4.3-0.9 0.9z"/><path class="c28" d="M70.9 235.4l0.9 1.3-0.7 4.3-0.9-1.3z"/><path class="c32" d="M70 232.1l0.9 3.3-0.7 4.3-0.8-3.2z"/><path class="c39" d="M69.2 227.7l0.8 4.4-0.6 4.4-0.9-4.5z"/><path class="c38" d="M61.4 236.5l0.9-6.3-0.7 4.3-0.8 6.3z"/><path class="c57" d="M114.7 206.7l0.9-5.9-0.7 4.4-0.8 5.8z"/><path class="c38" d="M113 217.3l0.9-5-0.7 4.7-0.9 5z"/><path class="c32" d="M112.1 220.6l0.9-3.3-0.7 4.7-0.8 3.3z"/><path class="c29" d="M111.3 221.8l0.8-1.2-0.6 4.7-0.9 1.2zM110.4 220.8l0.9 1-0.7 4.7-0.9-1z"/><path class="c33" d="M109.5 217.9l0.9 2.9-0.7 4.7-0.8-2.9z"/><path class="c39" d="M108.7 213.6l0.8 4.3-0.6 4.7-0.9-4.3z"/><path class="c43" d="M74.2 228.2l0.8-4.1-0.6 4.6-0.9 4.2z"/><path class="c38" d="M73.3 231.1l0.9-2.9-0.7 4.7-0.9 2.9z"/><path class="c35" d="M72.4 231.9l0.9-0.8-0.7 4.7-0.8 0.9z"/><path class="c36" d="M71.6 230.6l0.8 1.3-0.6 4.8-0.9-1.3z"/><path class="c40" d="M70.7 227.4l0.9 3.2-0.7 4.8-0.9-3.3z"/><path class="c47" d="M69.9 223.3l0.8 4.1-0.7 4.7-0.8-4.4z"/><path class="c46" d="M62.1 231.7l0.8-5.9-0.6 4.4-0.9 6.3z"/><path class="c65" d="M115.4 202.9l0.8-5.9-0.6 3.8-0.9 5.9z"/><path class="c37" d="M111.9 217.6l0.9-1.2-0.7 4.2-0.8 1.2zM111.1 216.6l0.8 1-0.6 4.2-0.9-1z"/><path class="c41" d="M110.2 213.7l0.9 2.9-0.7 4.2-0.9-2.9z"/><path class="c48" d="M109.3 209.8l0.9 3.9-0.7 4.2-0.8-4.3z"/><path class="c58" d="M75.7 220.3l0.9-4.3-0.7 3.8-0.9 4.3z"/><path class="c46" d="M74 226.9l0.8-2.7-0.6 4-0.9 2.9z"/><path class="c43" d="M73.1 227.8l0.9-0.9-0.7 4.2-0.9 0.8z"/><path class="c44" d="M72.2 226.5l0.9 1.3-0.7 4.1-0.8-1.3z"/><path class="c49" d="M71.4 223.6l0.8 2.9-0.6 4.1-0.9-3.2z"/><path class="c55" d="M70.5 219.5l0.9 4.1-0.7 3.8-0.8-4.1z"/><path class="c64" d="M63.6 222l0.9-5.6-0.7 3.8-0.9 5.6z"/><path class="c55" d="M62.7 227.8l0.9-5.8-0.7 3.8-0.8 5.9z"/><path class="c72" d="M116 200.3l0.9-5.8-0.7 2.5-0.8 5.9z"/><path class="c62" d="M115.2 205.9l0.9-5.6-0.7 2.6-0.9 5.5z"/><path class="c53" d="M114.3 210.5l0.9-4.6-0.7 2.5-0.8 4.7z"/><path class="c44" d="M111.7 213.8l0.9 1-0.7 2.8-0.8-1z"/><path class="c48" d="M110.9 211.1l0.8 2.7-0.6 2.8-0.9-2.9z"/><path class="c75" d="M104 202l0.8-3.9-0.6 2.5-0.9 4z"/><path class="c68" d="M103.1 206.3l0.9-4.3-0.7 2.6-0.9 4.2z"/><path class="c65" d="M76.4 217.7l0.8-4.2-0.6 2.5-0.9 4.3z"/><path class="c51" d="M72.9 224l0.9 1.2-0.7 2.6-0.9-1.3z"/><path class="c55" d="M72 221l0.9 3-0.7 2.5-0.8-2.9z"/><path class="c86" d="M66 209.3l0.9-3.1-0.7 2.6-0.9 3z"/><path class="c80" d="M65.1 213.9l0.9-4.6-0.7 2.5-0.8 4.6z"/><path class="c71" d="M64.3 219.4l0.8-5.5-0.6 2.5-0.9 5.6z"/><path class="c61" d="M63.4 225.3l0.9-5.9-0.7 2.6-0.9 5.8z"/><path class="c75" d="M116.7 199.5l0.9-5.8-0.7 0.8-0.8 5.8z"/><path class="c66" d="M115.9 205.1l0.8-5.6-0.6 0.8-0.9 5.6z"/><path class="c57" d="M115 209.7l0.9-4.6-0.7 0.8-0.9 4.6z"/><path class="c50" d="M114.1 212.8l0.9-3.1-0.7 0.8-0.8 3.1z"/><path class="c84" d="M105.5 197.3l0.9-2.7-0.7 0.8-0.9 2.7z"/><path class="c79" d="M104.6 201.2l0.9-3.9-0.7 0.8-0.8 3.9z"/><path class="c72" d="M103.8 205.5l0.8-4.3-0.6 0.8-0.9 4.3z"/><path class="c65" d="M102.9 209.1l0.9-3.6-0.7 0.8-0.9 3.6z"/><path class="c61" d="M102 211.1l0.9-2-0.7 0.8-0.8 2z"/><path class="c74" d="M96 206l0.9-2.4-0.7 0.8-0.9 2.4z"/><path class="c70" d="M95.1 208.6l0.9-2.6-0.7 0.8-0.8 2.6zM85.6 212.2l0.9-2.6-0.7 0.8-0.8 2.6z"/><path class="c66" d="M84.8 214.6l0.8-2.4-0.6 0.8-0.9 2.4z"/><path class="c80" d="M78.7 209.1l0.9-2-0.7 0.7-0.8 2.1z"/><path class="c75" d="M77.9 212.7l0.8-3.6-0.6 0.8-0.9 3.6z"/><path class="c69" d="M77 217l0.9-4.3-0.7 0.8-0.8 4.2z"/><path class="c62" d="M76.2 220.9l0.8-3.9-0.6 0.7-0.9 4z"/><path class="c56" d="M75.3 223.5l0.9-2.6-0.7 0.8-0.9 2.6z"/><path class="c54" d="M74.4 224.4l0.9-0.9-0.7 0.8-0.8 0.9z"/><path class="c90" d="M66.7 208.5l0.8-3.1-0.6 0.8-0.9 3.1z"/><path class="c83" d="M65.8 213.1l0.9-4.6-0.7 0.8-0.9 4.6z"/><path class="c75" d="M64.9 218.7l0.9-5.6-0.7 0.8-0.8 5.5z"/><path class="c65" d="M64.1 224.5l0.8-5.8-0.6 0.7-0.9 5.9z"/><path class="c76" d="M117.4 200.8l0.8-5.9-0.6-1.2-0.9 5.8z"/><path class="c66" d="M116.5 206.3l0.9-5.5-0.7-1.3-0.8 5.6z"/><path class="c57" d="M115.7 210.9l0.8-4.6-0.6-1.2-0.9 4.6z"/><path class="c51" d="M114.8 214l0.9-3.1-0.7-1.2-0.9 3.1z"/><path class="c48" d="M113.9 215.2l0.9-1.2-0.7-1.2-0.8 1.1z"/><path class="c86" d="M107.9 195l0.8 1.2-0.6-1.2-0.9-1.2z"/><path class="c87" d="M107 195.9l0.9-0.9-0.7-1.2-0.8 0.8z"/><path class="c84" d="M106.2 198.5l0.8-2.6-0.6-1.3-0.9 2.7z"/><path class="c79" d="M105.3 202.5l0.9-4-0.7-1.2-0.9 3.9z"/><path class="c72" d="M104.4 206.7l0.9-4.2-0.7-1.3-0.8 4.3z"/><path class="c65" d="M103.6 210.3l0.8-3.6-0.6-1.2-0.9 3.6z"/><path class="c61" d="M102.7 212.4l0.9-2.1-0.7-1.2-0.9 2z"/><path class="c60" d="M101.8 212.4l0.9 0-0.7-1.3-0.8 0.1z"/><path class="c77" d="M97.5 204.8l0.9-0.7-0.7-1.3-0.8 0.8z"/><path class="c75" d="M96.7 207.2l0.8-2.4-0.6-1.2-0.9 2.4z"/><path class="c71" d="M95.8 209.8l0.9-2.6-0.7-1.2-0.9 2.6z"/><path class="c68" d="M94.9 211l0.9-1.2-0.7-1.2-0.8 1.2zM94.1 210.3l0.8 0.7-0.6-1.2-0.9-0.7z"/><path class="c70" d="M93.2 209.1l0.9 1.2-0.7-1.2-0.8-1.2z"/><path class="c71" d="M92.4 209.6l0.8-0.5-0.6-1.2-0.9 0.5zM91.5 210.3l0.9-0.7-0.7-1.2-0.9 0.7z"/><path class="c70" d="M90.6 211l0.9-0.7-0.7-1.2-0.8 0.7zM89.8 211.5l0.8-0.5-0.6-1.2-0.9 0.5z"/><path class="c71" d="M88.9 210.3l0.9 1.2-0.7-1.2-0.9-1.2z"/><path class="c73" d="M88 209.6l0.9 0.7-0.7-1.2-0.8-0.7zM87.2 210.8l0.8-1.2-0.6-1.2-0.9 1.2z"/><path class="c70" d="M86.3 213.4l0.9-2.6-0.7-1.2-0.9 2.6z"/><path class="c66" d="M85.5 215.8l0.8-2.4-0.7-1.2-0.8 2.4z"/><path class="c64" d="M84.6 216.6l0.9-0.8-0.7-1.2-0.9 0.8z"/><path class="c81" d="M80.3 208.3l0.8 0-0.6-1.3-0.9 0.1z"/><path class="c80" d="M79.4 210.3l0.9-2-0.7-1.2-0.9 2z"/><path class="c76" d="M78.5 213.9l0.9-3.6-0.7-1.2-0.8 3.6z"/><path class="c69" d="M77.7 218.2l0.8-4.3-0.6-1.2-0.9 4.3z"/><path class="c62" d="M76.8 222.1l0.9-3.9-0.7-1.2-0.8 3.9z"/><path class="c57" d="M76 224.8l0.8-2.7-0.6-1.2-0.9 2.6z"/><path class="c54" d="M75.1 225.6l0.9-0.8-0.7-1.3-0.9 0.9z"/><path class="c55" d="M74.2 224.4l0.9 1.2-0.7-1.2-0.8-1.2z"/><path class="c93" d="M69.1 205.5l0.8 0.9-0.6-1.2-0.9-0.9zM68.2 206.7l0.9-1.2-0.7-1.2-0.9 1.1z"/><path class="c90" d="M67.3 209.7l0.9-3-0.7-1.3-0.8 3.1z"/><path class="c84" d="M66.5 214.3l0.8-4.6-0.6-1.2-0.9 4.6z"/><path class="c75" d="M65.6 219.9l0.9-5.6-0.7-1.2-0.9 5.6z"/><path class="c65" d="M64.7 225.7l0.9-5.8-0.7-1.2-0.8 5.8z"/><path class="c72" d="M118 203.9l0.9-5.8-0.7-3.2-0.8 5.9z"/><path class="c63" d="M117.2 209.5l0.8-5.6-0.6-3.1-0.9 5.5z"/><path class="c54" d="M116.3 214.1l0.9-4.6-0.7-3.2-0.8 4.6z"/><path class="c47" d="M115.5 217.4l0.8-3.3-0.6-3.2-0.9 3.1z"/><path class="c44" d="M114.6 218.6l0.9-1.2-0.7-3.4-0.9 1.2z"/><path class="c45" d="M113.7 217.6l0.9 1-0.7-3.4-0.8-1z"/><path class="c48" d="M112.9 214.7l0.8 2.9-0.6-3.4-0.9-2.6z"/><path class="c63" d="M111.1 206.4l0.9 4.4-0.7-3.1-0.8-4.5z"/><path class="c72" d="M110.3 202.3l0.8 4.1-0.6-3.2-0.9-4z"/><path class="c78" d="M109.4 199.4l0.9 2.9-0.7-3.1-0.9-3z"/><path class="c83" d="M108.6 198.2l0.8 1.2-0.6-3.2-0.9-1.2z"/><path class="c84" d="M107.7 199l0.9-0.8-0.7-3.2-0.9 0.9z"/><path class="c81" d="M106.8 201.7l0.9-2.7-0.7-3.1-0.8 2.6z"/><path class="c76" d="M106 205.6l0.8-3.9-0.6-3.2-0.9 4z"/><path class="c69" d="M105.1 209.9l0.9-4.3-0.7-3.1-0.9 4.2z"/><path class="c62" d="M104.2 213.5l0.9-3.6-0.7-3.2-0.8 3.6z"/><path class="c58" d="M103.4 215.5l0.8-2-0.6-3.2-0.9 2.1z"/><path class="c56" d="M102.5 215.5l0.9 0-0.7-3.1-0.9 0z"/><path class="c58" d="M101.6 213.8l0.9 1.7-0.7-3.1-0.8-1.8z"/><path class="c63" d="M100.8 211l0.8 2.8-0.6-3.2-0.9-2.8z"/><path class="c69" d="M99.9 208.4l0.9 2.6-0.7-3.2-0.8-2.6z"/><path class="c73" d="M99.1 207.2l0.8 1.2-0.6-3.2-0.9-1.1z"/><path class="c74" d="M98.2 208l0.9-0.8-0.7-3.1-0.9 0.7z"/><path class="c71" d="M97.3 210.4l0.9-2.4-0.7-3.2-0.8 2.4z"/><path class="c67" d="M96.5 213l0.8-2.6-0.6-3.2-0.9 2.6z"/><path class="c64" d="M95.6 214.2l0.9-1.2-0.7-3.2-0.9 1.2z"/><path class="c65" d="M94.7 213.5l0.9 0.7-0.7-3.2-0.8-0.7z"/><path class="c67" d="M93.9 212.3l0.8 1.2-0.6-3.2-0.9-1.2z"/><path class="c68" d="M93 212.8l0.9-0.5-0.7-3.2-0.8 0.5zM92.2 213.5l0.8-0.7-0.6-3.2-0.9 0.7z"/><path class="c67" d="M91.3 214.2l0.9-0.7-0.7-3.2-0.9 0.7z"/><path class="c66" d="M90.4 214.7l0.9-0.5-0.7-3.2-0.8 0.5z"/><path class="c68" d="M89.6 213.5l0.8 1.2-0.6-3.2-0.9-1.2z"/><path class="c70" d="M88.7 212.8l0.9 0.7-0.7-3.2-0.9-0.7zM87.8 214l0.9-1.2-0.7-3.2-0.8 1.2z"/><path class="c67" d="M87 216.6l0.8-2.6-0.6-3.2-0.9 2.6z"/><path class="c63" d="M86.1 219l0.9-2.4-0.7-3.2-0.8 2.4z"/><path class="c61" d="M85.3 219.8l0.8-0.8-0.6-3.2-0.9 0.8z"/><path class="c62" d="M84.4 218.6l0.9 1.2-0.7-3.2-0.9-1.2z"/><path class="c66" d="M83.5 216l0.9 2.6-0.7-3.2-0.8-2.6z"/><path class="c71" d="M82.7 213.2l0.8 2.8-0.6-3.2-0.9-2.8z"/><path class="c76" d="M81.8 211.4l0.9 1.8-0.7-3.2-0.9-1.7z"/><path class="c78" d="M80.9 211.5l0.9-0.1-0.7-3.1-0.8 0z"/><path class="c77" d="M80.1 213.5l0.8-2-0.6-3.2-0.9 2z"/><path class="c72" d="M79.2 217.1l0.9-3.6-0.7-3.2-0.9 3.6z"/><path class="c66" d="M78.4 221.3l0.8-4.2-0.7-3.2-0.8 4.3z"/><path class="c59" d="M77.5 225.3l0.8-4-0.6-3.1-0.9 3.9z"/><path class="c53" d="M76.6 227.9l0.9-2.6-0.7-3.2-0.8 2.7z"/><path class="c51" d="M75.8 228.8l0.8-0.9-0.6-3.1-0.9 0.8z"/><path class="c52" d="M74.9 227.6l0.9 1.2-0.7-3.2-0.9-1.2z"/><path class="c63" d="M73.2 220.6l0.8 4.1-0.6-3.2-0.9-4.1z"/><path class="c71" d="M72.3 216.1l0.9 4.5-0.7-3.2-0.9-4.4z"/><path class="c86" d="M70.6 209.6l0.8 2.6-0.6-3.1-0.9-2.7z"/><path class="c90" d="M69.7 208.7l0.9 0.9-0.7-3.2-0.8-0.9zM68.9 209.8l0.8-1.1-0.6-3.2-0.9 1.2z"/><path class="c87" d="M68 212.9l0.9-3.1-0.7-3.1-0.9 3z"/><path class="c81" d="M67.1 217.5l0.9-4.6-0.7-3.2-0.8 4.6z"/><path class="c72" d="M66.3 223.1l0.8-5.6-0.6-3.2-0.9 5.6z"/><path class="c62" d="M65.4 228.9l0.9-5.8-0.7-3.2-0.9 5.8z"/><path class="c66" d="M118.7 208.6l0.9-5.8-0.7-4.7-0.9 5.8z"/><path class="c56" d="M117.8 214.2l0.9-5.6-0.7-4.7-0.8 5.6z"/><path class="c47" d="M117 219.2l0.8-5-0.6-4.7-0.9 4.6z"/><path class="c41" d="M116.1 222.5l0.9-3.3-0.7-5.1-0.8 3.3z"/><path class="c38" d="M115.3 223.7l0.8-1.2-0.6-5.1-0.9 1.2zM114.4 222.7l0.9 1-0.7-5.1-0.9-1z"/><path class="c42" d="M113.5 219.8l0.9 2.9-0.7-5.1-0.8-2.9z"/><path class="c49" d="M112.7 215.5l0.8 4.3-0.6-5.1-0.9-3.9z"/><path class="c57" d="M111.8 211.1l0.9 4.4-0.7-4.7-0.9-4.4z"/><path class="c65" d="M110.9 207l0.9 4.1-0.7-4.7-0.8-4.1z"/><path class="c72" d="M110.1 204.1l0.8 2.9-0.6-4.7-0.9-2.9z"/><path class="c76" d="M109.2 202.9l0.9 1.2-0.7-4.7-0.8-1.2z"/><path class="c77" d="M108.4 203.7l0.8-0.8-0.6-4.7-0.9 0.8z"/><path class="c75" d="M107.5 206.4l0.9-2.7-0.7-4.7-0.9 2.7z"/><path class="c69" d="M106.6 210.3l0.9-3.9-0.7-4.7-0.8 3.9z"/><path class="c62" d="M105.8 214.6l0.8-4.3-0.6-4.7-0.9 4.3z"/><path class="c56" d="M104.9 218.2l0.9-3.6-0.7-4.7-0.9 3.6z"/><path class="c51" d="M104 220.3l0.9-2.1-0.7-4.7-0.8 2z"/><path class="c50" d="M103.2 220.3l0.8 0-0.6-4.8-0.9 0z"/><path class="c52" d="M102.3 218.5l0.9 1.8-0.7-4.8-0.9-1.7z"/><path class="c57" d="M101.4 215.7l0.9 2.8-0.7-4.7-0.8-2.8z"/><path class="c62" d="M100.6 213.1l0.9 2.6-0.7-4.7-0.9-2.6z"/><path class="c66" d="M99.7 211.9l0.9 1.2-0.7-4.7-0.8-1.2z"/><path class="c67" d="M98.9 212.7l0.8-0.8-0.6-4.7-0.9 0.8z"/><path class="c65" d="M98 215.1l0.9-2.4-0.7-4.7-0.9 2.4z"/><path class="c61" d="M97.1 217.7l0.9-2.6-0.7-4.7-0.8 2.6z"/><path class="c58" d="M96.3 218.9l0.8-1.2-0.6-4.7-0.9 1.2zM95.4 218.2l0.9 0.7-0.7-4.7-0.9-0.7z"/><path class="c61" d="M94.5 217l0.9 1.2-0.7-4.7-0.8-1.2z"/><path class="c62" d="M93.7 217.5l0.8-0.5-0.6-4.7-0.9 0.5z"/><path class="c61" d="M92.8 218.2l0.9-0.7-0.7-4.7-0.8 0.7z"/><path class="c60" d="M92 218.9l0.8-0.7-0.6-4.7-0.9 0.7zM91.1 219.4l0.9-0.5-0.7-4.7-0.9 0.5z"/><path class="c61" d="M90.2 218.2l0.9 1.2-0.7-4.7-0.8-1.2z"/><path class="c64" d="M89.4 217.5l0.8 0.7-0.6-4.7-0.9-0.7zM88.5 218.7l0.9-1.2-0.7-4.7-0.9 1.2z"/><path class="c61" d="M87.6 221.3l0.9-2.6-0.7-4.7-0.8 2.6z"/><path class="c57" d="M86.8 223.7l0.8-2.4-0.6-4.7-0.9 2.4z"/><path class="c54" d="M85.9 224.5l0.9-0.8-0.7-4.7-0.8 0.8z"/><path class="c55" d="M85.1 223.3l0.8 1.2-0.6-4.7-0.9-1.2z"/><path class="c59" d="M84.2 220.7l0.9 2.6-0.7-4.7-0.9-2.6z"/><path class="c65" d="M83.3 217.9l0.9 2.8-0.7-4.7-0.8-2.8z"/><path class="c70" d="M82.5 216.1l0.8 1.8-0.6-4.7-0.9-1.8z"/><path class="c72" d="M81.6 216.2l0.9-0.1-0.7-4.7-0.9 0.1z"/><path class="c70" d="M80.7 218.2l0.9-2-0.7-4.7-0.8 2z"/><path class="c66" d="M79.9 221.8l0.8-3.6-0.6-4.7-0.9 3.6z"/><path class="c59" d="M79 226l0.9-4.2-0.7-4.7-0.9 4.2z"/><path class="c52" d="M78.2 230.1l0.8-4.1-0.7-4.7-0.8 4z"/><path class="c47" d="M77.3 233l0.9-2.9-0.7-4.8-0.9 2.6z"/><path class="c44" d="M76.4 233.8l0.9-0.8-0.7-5.1-0.8 0.9z"/><path class="c45" d="M75.6 232.5l0.8 1.3-0.6-5-0.9-1.2z"/><path class="c50" d="M74.7 229.4l0.9 3.1-0.7-4.9-0.9-2.9z"/><path class="c57" d="M73.8 225.3l0.9 4.1-0.7-4.7-0.8-4.1z"/><path class="c65" d="M73 220.9l0.8 4.4-0.6-4.7-0.9-4.5z"/><path class="c73" d="M72.1 216.9l0.9 4-0.7-4.8-0.9-3.9z"/><path class="c80" d="M71.2 214.3l0.9 2.6-0.7-4.7-0.8-2.6z"/><path class="c83" d="M70.4 213.4l0.8 0.9-0.6-4.7-0.9-0.9z"/><path class="c84" d="M69.5 214.5l0.9-1.1-0.7-4.7-0.8 1.1z"/><path class="c81" d="M68.7 217.6l0.8-3.1-0.6-4.7-0.9 3.1z"/><path class="c74" d="M67.8 222.2l0.9-4.6-0.7-4.7-0.9 4.6z"/><path class="c65" d="M66.9 227.8l0.9-5.6-0.7-4.7-0.8 5.6z"/><path class="c56" d="M66.1 233.6l0.8-5.8-0.6-4.7-0.9 5.8z"/><path class="c57" d="M119.4 214.3l0.8-5.8-0.6-5.7-0.9 5.8z"/><path class="c48" d="M118.5 220.3l0.9-6-0.7-5.7-0.9 5.6z"/><path class="c39" d="M117.6 225.3l0.9-5-0.7-6.1-0.8 5z"/><path class="c32" d="M116.8 228.6l0.8-3.3-0.6-6.1-0.9 3.3z"/><path class="c29" d="M115.9 229.8l0.9-1.2-0.7-6.1-0.8 1.2zM115.1 228.8l0.8 1-0.6-6.1-0.9-1z"/><path class="c33" d="M114.2 225.9l0.9 2.9-0.7-6.1-0.9-2.9z"/><path class="c40" d="M113.3 221.6l0.9 4.3-0.7-6.1-0.8-4.3z"/><path class="c48" d="M112.5 216.8l0.8 4.8-0.6-6.1-0.9-4.4z"/><path class="c56" d="M111.6 212.7l0.9 4.1-0.7-5.7-0.9-4.1z"/><path class="c63" d="M110.7 209.8l0.9 2.9-0.7-5.7-0.8-2.9z"/><path class="c68" d="M109.9 208.6l0.8 1.2-0.6-5.7-0.9-1.2z"/><path class="c69" d="M109 209.4l0.9-0.8-0.7-5.7-0.8 0.8z"/><path class="c66" d="M108.2 212.1l0.8-2.7-0.6-5.7-0.9 2.7z"/><path class="c61" d="M107.3 216l0.9-3.9-0.7-5.7-0.9 3.9z"/><path class="c54" d="M106.4 220.4l0.9-4.4-0.7-5.7-0.8 4.3z"/><path class="c47" d="M105.6 224.3l0.8-3.9-0.6-5.8-0.9 3.6z"/><path class="c43" d="M104.7 226.4l0.9-2.1-0.7-6.1-0.9 2.1z"/><path class="c41" d="M103.8 226.5l0.9-0.1-0.7-6.1-0.8 0z"/><path class="c43" d="M103 224.5l0.8 2-0.6-6.2-0.9-1.8z"/><path class="c48" d="M102.1 221.4l0.9 3.1-0.7-6-0.8-2.8z"/><path class="c54" d="M101.3 218.8l0.8 2.6-0.6-5.7-0.9-2.6z"/><path class="c58" d="M100.4 217.6l0.9 1.2-0.7-5.7-0.9-1.2z"/><path class="c59" d="M99.5 218.4l0.9-0.8-0.7-5.7-0.8 0.8z"/><path class="c56" d="M98.7 220.8l0.8-2.4-0.6-5.7-0.9 2.4z"/><path class="c52" d="M97.8 223.5l0.9-2.7-0.7-5.7-0.9 2.6z"/><path class="c49" d="M96.9 224.8l0.9-1.3-0.7-5.8-0.8 1.2zM96.1 223.9l0.8 0.9-0.6-5.9-0.9-0.7z"/><path class="c52" d="M95.2 222.7l0.9 1.2-0.7-5.7-0.9-1.2z"/><path class="c53" d="M94.3 223.2l0.9-0.5-0.7-5.7-0.8 0.5z"/><path class="c52" d="M93.5 223.9l0.8-0.7-0.6-5.7-0.9 0.7zM92.6 224.6l0.9-0.7-0.7-5.7-0.8 0.7z"/><path class="c51" d="M91.8 225.1l0.8-0.5-0.6-5.7-0.9 0.5z"/><path class="c52" d="M90.9 223.9l0.9 1.2-0.7-5.7-0.9-1.2z"/><path class="c55" d="M90 223.2l0.9 0.7-0.7-5.7-0.8-0.7zM89.2 224.4l0.8-1.2-0.6-5.7-0.9 1.2z"/><path class="c52" d="M88.3 227.1l0.9-2.7-0.7-5.7-0.9 2.6z"/><path class="c48" d="M87.4 229.6l0.9-2.5-0.7-5.8-0.8 2.4z"/><path class="c46" d="M86.6 230.5l0.8-0.9-0.6-5.9-0.9 0.8z"/><path class="c47" d="M85.7 229.2l0.9 1.3-0.7-6-0.8-1.2z"/><path class="c51" d="M84.9 226.4l0.8 2.8-0.6-5.9-0.9-2.6z"/><path class="c56" d="M84 223.6l0.9 2.8-0.7-5.7-0.9-2.8z"/><path class="c61" d="M83.1 221.8l0.9 1.8-0.7-5.7-0.8-1.8z"/><path class="c63" d="M82.3 221.8l0.8 0-0.6-5.7-0.9 0.1z"/><path class="c62" d="M81.4 223.9l0.9-2.1-0.7-5.6-0.9 2z"/><path class="c57" d="M80.5 227.5l0.9-3.6-0.7-5.7-0.8 3.6z"/><path class="c51" d="M79.7 232l0.8-4.5-0.6-5.7-0.9 4.2z"/><path class="c44" d="M78.8 236.2l0.9-4.2-0.7-6-0.8 4.1z"/><path class="c38" d="M78 239.1l0.8-2.9-0.6-6.1-0.9 2.9z"/><path class="c36" d="M77.1 240l0.9-0.9-0.7-6.1-0.9 0.8z"/><path class="c37" d="M76.2 238.7l0.9 1.3-0.7-6.2-0.8-1.3z"/><path class="c41" d="M75.4 235.4l0.8 3.3-0.6-6.2-0.9-3.1z"/><path class="c48" d="M74.5 231l0.9 4.4-0.7-6-0.9-4.1z"/><path class="c56" d="M73.6 226.5l0.9 4.5-0.7-5.7-0.8-4.4z"/><path class="c64" d="M72.8 222.6l0.8 3.9-0.6-5.6-0.9-4z"/><path class="c71" d="M71.9 220l0.9 2.6-0.7-5.7-0.9-2.6z"/><path class="c75" d="M71 219.1l0.9 0.9-0.7-5.7-0.8-0.9zM70.2 220.2l0.8-1.1-0.6-5.7-0.9 1.1z"/><path class="c72" d="M69.3 223.3l0.9-3.1-0.7-5.7-0.8 3.1z"/><path class="c65" d="M68.5 227.9l0.8-4.6-0.6-5.7-0.9 4.6z"/><path class="c57" d="M67.6 233.5l0.9-5.6-0.7-5.7-0.9 5.6z"/><path class="c47" d="M66.7 239.8l0.9-6.3-0.7-5.7-0.8 5.8z"/><path class="c48" d="M120 220.7l0.9-6.3-0.7-5.9-0.8 5.8z"/><path class="c38" d="M119.2 226.8l0.8-6.1-0.6-6.4-0.9 6z"/><path class="c29" d="M118.3 231.7l0.9-4.9-0.7-6.5-0.9 5z"/><path class="c23" d="M117.4 235l0.9-3.3-0.7-6.4-0.8 3.3z"/><path class="c19" d="M116.6 236.2l0.8-1.2-0.6-6.4-0.9 1.2z"/><path class="c20" d="M115.7 235.2l0.9 1-0.7-6.4-0.8-1z"/><path class="c23" d="M114.9 232.3l0.8 2.9-0.6-6.4-0.9-2.9z"/><path class="c30" d="M114 228l0.9 4.3-0.7-6.4-0.9-4.3z"/><path class="c38" d="M113.1 223.2l0.9 4.8-0.7-6.4-0.8-4.8z"/><path class="c47" d="M112.3 218.7l0.8 4.5-0.6-6.4-0.9-4.1z"/><path class="c54" d="M111.4 215.7l0.9 3-0.7-6-0.9-2.9z"/><path class="c58" d="M110.5 214.5l0.9 1.2-0.7-5.9-0.8-1.2z"/><path class="c59" d="M109.7 215.4l0.8-0.9-0.6-5.9-0.9 0.8z"/><path class="c56" d="M108.8 218l0.9-2.6-0.7-6-0.8 2.7z"/><path class="c51" d="M108 222.2l0.8-4.2-0.6-5.9-0.9 3.9z"/><path class="c44" d="M107.1 226.8l0.9-4.6-0.7-6.2-0.9 4.4z"/><path class="c37" d="M106.2 230.7l0.9-3.9-0.7-6.4-0.8 3.9z"/><path class="c33" d="M105.4 232.9l0.8-2.2-0.6-6.4-0.9 2.1z"/><path class="c31" d="M104.5 232.9l0.9 0-0.7-6.5-0.9 0.1z"/><path class="c34" d="M103.6 230.9l0.9 2-0.7-6.4-0.8-2z"/><path class="c38" d="M102.8 227.9l0.8 3-0.6-6.4-0.9-3.1z"/><path class="c44" d="M101.9 225l0.9 2.9-0.7-6.5-0.8-2.6z"/><path class="c48" d="M101.1 223.7l0.8 1.3-0.6-6.2-0.9-1.2z"/><path class="c49" d="M100.2 224.5l0.9-0.8-0.7-6.1-0.9 0.8z"/><path class="c46" d="M99.3 227.1l0.9-2.6-0.7-6.1-0.8 2.4z"/><path class="c42" d="M98.5 229.9l0.8-2.8-0.6-6.3-0.9 2.7z"/><path class="c40" d="M97.6 231.2l0.9-1.3-0.7-6.4-0.9 1.3zM96.7 230.4l0.9 0.8-0.7-6.4-0.8-0.9z"/><path class="c42" d="M95.9 229l0.8 1.4-0.6-6.5-0.9-1.2z"/><path class="c43" d="M95 229.6l0.9-0.6-0.7-6.3-0.9 0.5zM94.2 230.3l0.8-0.7-0.7-6.4-0.8 0.7z"/><path class="c42" d="M93.3 231l0.9-0.7-0.7-6.4-0.9 0.7z"/><path class="c41" d="M92.4 231.5l0.9-0.5-0.7-6.4-0.8 0.5z"/><path class="c43" d="M91.6 230.2l0.8 1.3-0.6-6.4-0.9-1.2z"/><path class="c45" d="M90.7 229.4l0.9 0.8-0.7-6.3-0.9-0.7zM89.8 230.7l0.9-1.3-0.7-6.2-0.8 1.2z"/><path class="c42" d="M89 233.5l0.8-2.8-0.6-6.3-0.9 2.7z"/><path class="c38" d="M88.1 236.1l0.9-2.6-0.7-6.4-0.9 2.5z"/><path class="c36" d="M87.2 236.9l0.9-0.8-0.7-6.5-0.8 0.9z"/><path class="c37" d="M86.4 235.6l0.8 1.3-0.6-6.4-0.9-1.3z"/><path class="c41" d="M85.5 232.7l0.9 2.9-0.7-6.4-0.8-2.8z"/><path class="c46" d="M84.7 229.7l0.8 3-0.6-6.3-0.9-2.8z"/><path class="c51" d="M83.8 227.7l0.9 2-0.7-6.1-0.9-1.8z"/><path class="c53" d="M82.9 227.8l0.9-0.1-0.7-5.9-0.8 0z"/><path class="c52" d="M82.1 229.9l0.8-2.1-0.6-6-0.9 2.1z"/><path class="c47" d="M81.2 233.8l0.9-3.9-0.7-6-0.9 3.6z"/><path class="c41" d="M80.3 238.4l0.9-4.6-0.7-6.3-0.8 4.5z"/><path class="c34" d="M79.5 242.6l0.8-4.2-0.6-6.4-0.9 4.2z"/><path class="c28" d="M78.6 245.5l0.9-2.9-0.7-6.4-0.8 2.9z"/><path class="c26" d="M77.8 246.4l0.8-0.9-0.6-6.4-0.9 0.9z"/><path class="c27" d="M76.9 245.1l0.9 1.3-0.7-6.4-0.9-1.3z"/><path class="c31" d="M76 241.9l0.9 3.2-0.7-6.4-0.8-3.3z"/><path class="c38" d="M75.2 237.4l0.8 4.5-0.6-6.5-0.9-4.4z"/><path class="c46" d="M74.3 232.6l0.9 4.8-0.7-6.4-0.9-4.5z"/><path class="c55" d="M73.4 228.6l0.9 4-0.7-6.1-0.8-3.9z"/><path class="c61" d="M72.6 225.9l0.8 2.7-0.6-6-0.9-2.6z"/><path class="c65" d="M71.7 225l0.9 0.9-0.7-5.9-0.9-0.9zM70.9 226.2l0.8-1.2-0.7-5.9-0.8 1.1z"/><path class="c62" d="M70 229.2l0.9-3-0.7-6-0.9 3.1z"/><path class="c56" d="M69.1 233.8l0.9-4.6-0.7-5.9-0.8 4.6z"/><path class="c47" d="M68.3 239.9l0.8-6.1-0.6-5.9-0.9 5.6z"/><path class="c37" d="M67.4 246.2l0.9-6.3-0.7-6.4-0.9 6.3z"/></g>
<path d="M67.4 262.3L120.9 242.7M67.4 262.3L26.2 236.3M26.2 236.3L26.2 182M67.4 262.3l0.6 0.8M94.2 252.5l0.6 0.8M120.9 242.7l0.6 0.8M67.4 262.3l-0.6 0.8M46.8 249.3l-0.6 0.8M26.2 236.3l-0.6 0.8M26.2 224.9h-1M26.2 208h-1M26.2 191.1h-1" stroke="#444" stroke-width="0.5" fill="none"/>
<text x="73.6" y="160.9" font-size="6.8" text-anchor="middle" fill="#262626">F8</text>
<text x="23.2" y="227.29" font-size="6.3" text-anchor="end" fill="#262626">-500</text>
<text x="23.2" y="210.4" font-size="6.3" text-anchor="end" fill="#262626">0</text>
<text x="23.2" y="193.51" font-size="6.3" text-anchor="end" fill="#262626">500</text>
<text transform="translate(7.6 209) rotate(-90)" font-size="6.8" text-anchor="middle" fill="#262626">z</text>
<text x="17.8" y="243.5" font-size="6.3" text-anchor="middle" fill="#262626">500</text>
<text x="42" y="256" font-size="6.3" text-anchor="middle" fill="#262626">0</text>
<text x="57.3" y="268.9" font-size="6.3" text-anchor="middle" fill="#262626">-500</text>
<text x="34.4" y="263.5" font-size="6.8" text-anchor="middle" fill="#262626">y</text>
<text x="75.1" y="268.9" font-size="6.3" text-anchor="middle" fill="#262626">-500</text>
<text x="99.8" y="260.5" font-size="6.3" text-anchor="middle" fill="#262626">0</text>
<text x="129" y="250.9" font-size="6.3" text-anchor="middle" fill="#262626">500</text>
<text x="99.8" y="267.3" font-size="6.8" text-anchor="middle" fill="#262626">x</text>
<path d="M355.8 258.1L312 233.4M312 233.4L312 178.2M373.9 252.3L330.1 227.7M330.1 227.7L330.1 172.4M392 246.6L348.2 221.9M348.2 221.9L348.2 166.7M336.7 256.9L394.7 238.6M394.7 238.6L394.7 183.4M323 249.2L381 230.8M381 230.8L381 175.6M309.3 241.4L367.3 223.1M367.3 223.1L367.3 167.9M301.1 224.5L359.1 206.2M359.1 206.2L402.9 230.8M301.1 212.1L359.1 193.8M359.1 193.8L402.9 218.5M301.1 199.8L359.1 181.4M359.1 181.4L402.9 206.1M301.1 187.4L359.1 169.1M359.1 169.1L402.9 193.8" stroke="#e2e2e2" stroke-width="0.45" fill="none"/>
<path d="M402.9 243.2L359.1 218.5M301.1 236.8L359.1 218.5M359.1 218.5L359.1 163.3" stroke="#d8d8d8" stroke-width="0.45" fill="none"/>
<g transform="matrix(58 -18.3 -43.8 -24.7 344.9 261.5)"><rect width="1" height="1" fill="#fbf2aa"/><circle cx=".5" cy=".5" r="0.38" fill="none" stroke="#f7b731" stroke-width="1.3" opacity="0.12" vector-effect="non-scaling-stroke"/><circle cx=".5" cy=".5" r="0.35" fill="none" stroke="#f7b731" stroke-width="1.3" opacity="0.2" vector-effect="non-scaling-stroke"/><circle cx=".5" cy=".5" r="0.32" fill="none" stroke="#f7b731" stroke-width="1.3" opacity="0.3" vector-effect="non-scaling-stroke"/><circle cx=".5" cy=".5" r="0.3" fill="none" stroke="#f7b731" stroke-width="1.3" opacity="0.42" vector-effect="non-scaling-stroke"/><circle cx=".5" cy=".5" r="0.28" fill="none" stroke="#f7b731" stroke-width="1.3" opacity="0.55" vector-effect="non-scaling-stroke"/><circle cx=".5" cy=".5" r="0.26" fill="none" stroke="#fff8d8" stroke-width="0.9" opacity="0.9" vector-effect="non-scaling-stroke"/><circle cx=".5" cy=".5" r="0.23" fill="none" stroke="#f5b62f" stroke-width="0.9" opacity="1" vector-effect="non-scaling-stroke"/><circle cx=".5" cy=".5" r="0.21" fill="none" stroke="#fdf6cc" stroke-width="0.6" opacity="0.8" vector-effect="non-scaling-stroke"/><circle cx=".5" cy=".5" r="0.2" fill="none" stroke="#d8c23a" stroke-width="0.8" opacity="1" vector-effect="non-scaling-stroke"/><circle cx=".5" cy=".5" r="0.18" fill="none" stroke="#f4f4d0" stroke-width="0.5" opacity="0.8" vector-effect="non-scaling-stroke"/><circle cx=".5" cy=".5" r="0.16" fill="none" stroke="#86cc55" stroke-width="0.8" opacity="1" vector-effect="non-scaling-stroke"/><circle cx=".5" cy=".5" r="0.14" fill="none" stroke="#e8f4d8" stroke-width="0.5" opacity="0.8" vector-effect="non-scaling-stroke"/><circle cx=".5" cy=".5" r="0.12" fill="none" stroke="#35c39a" stroke-width="0.8" opacity="1" vector-effect="non-scaling-stroke"/><circle cx=".5" cy=".5" r="0.1" fill="none" stroke="#1fb5c8" stroke-width="0.9" opacity="1" vector-effect="non-scaling-stroke"/><circle cx=".5" cy=".5" r="0.08" fill="none" stroke="#2f9cf0" stroke-width="0.9" opacity="1" vector-effect="non-scaling-stroke"/><circle cx=".5" cy=".5" r="0.05" fill="none" stroke="#4270f5" stroke-width="0.9" opacity="1" vector-effect="non-scaling-stroke"/><circle cx=".5" cy=".5" r="0.032" fill="#6f6fe8"/></g>
<g stroke-width="0.6" stroke-linejoin="round"><path class="c91" d="M358.5 165.9l2.5-0.8-1.9-1.1-2.5 0.8zM356.1 166.7l2.4-0.8-1.9-1.1-2.3 0.8zM353.9 167.4l2.2-0.7-1.8-1.1-2.3 0.7zM351.8 168.2l2.1-0.8-1.9-1.1-2.1 0.7zM349.7 168.9l2.1-0.7-1.9-1.2-2 0.7zM347.8 169.5l1.9-0.6-1.8-1.2-2 0.7zM346 170.2l1.8-0.7-1.9-1.1-1.8 0.6zM344.2 170.8l1.8-0.6-1.9-1.2-1.7 0.6zM342.6 171.3l1.6-0.5-1.8-1.2-1.6 0.5zM341.1 171.9l1.5-0.6-1.8-1.2-1.5 0.5zM339.7 172.3l1.4-0.4-1.8-1.3-1.4 0.5zM338.4 172.8l1.3-0.5-1.8-1.2-1.3 0.4z"/><path class="c90" d="M337.3 173.2l1.1-0.4-1.8-1.3-1.2 0.4zM336.2 173.5l1.1-0.3-1.9-1.3-1.1 0.4zM335.2 173.9l1-0.4-1.9-1.2-0.9 0.3zM334.4 174.1l0.8-0.2-1.8-1.3-0.8 0.2zM333.7 174.4l0.7-0.3-1.8-1.3-0.8 0.3zM333.1 174.6l0.6-0.2-1.9-1.3-0.6 0.2zM332.6 174.7l0.5-0.1-1.9-1.3-0.4 0.1zM332.3 174.8l0.3-0.1-1.8-1.3-0.4 0.1zM332 174.9l0.3-0.1-1.9-1.3-0.2 0.1zM332 174.9l0 0-1.8-1.3-0.1 0zM331.6 175l0.3-0.1-1.9-1.3-0.2 0.1zM331.3 175.1l0.3-0.1-1.8-1.3-0.4 0.1zM330.8 175.3l0.5-0.2-1.9-1.3-0.4 0.2zM330.2 175.5l0.6-0.2-1.8-1.3-0.6 0.2zM329.5 175.7l0.7-0.2-1.8-1.3-0.8 0.2zM328.7 175.9l0.8-0.2-1.9-1.3-0.8 0.2zM327.7 176.2l1-0.3-1.9-1.3-0.9 0.3zM326.6 176.5l1.1-0.3-1.8-1.3-1.1 0.4zM325.5 176.9l1.1-0.4-1.8-1.2-1.2 0.3z"/><path class="c91" d="M324.2 177.2l1.3-0.3-1.9-1.3-1.3 0.4zM322.8 177.6l1.4-0.4-1.9-1.2-1.4 0.4zM321.3 178.1l1.5-0.5-1.9-1.2-1.5 0.4zM319.7 178.5l1.6-0.4-1.9-1.3-1.6 0.5zM317.9 179l1.8-0.5-1.9-1.2-1.7 0.5zM316.1 179.5l1.8-0.5-1.8-1.2-1.8 0.6zM314.2 180.1l1.9-0.6-1.8-1.1-2 0.5zM312.1 180.7l2.1-0.6-1.9-1.2-2 0.6zM310 181.3l2.1-0.6-1.8-1.2-2.1 0.7zM307.8 181.9l2.2-0.6-1.8-1.1-2.3 0.6zM305.4 182.6l2.4-0.7-1.9-1.1-2.3 0.8zM303 183.4l2.4-0.8-1.8-1-2.5 0.7zM360.3 166.9l2.4-0.8-1.7-1-2.5 0.8zM357.9 167.7l2.4-0.8-1.8-1-2.4 0.8zM355.7 168.5l2.2-0.8-1.8-1-2.2 0.7zM353.5 169.3l2.2-0.8-1.8-1.1-2.1 0.8zM351.5 170l2-0.7-1.7-1.1-2.1 0.7zM349.6 170.7l1.9-0.7-1.8-1.1-1.9 0.6zM347.7 171.3l1.9-0.6-1.8-1.2-1.8 0.7z"/><path class="c90" d="M346 172l1.7-0.7-1.7-1.1-1.8 0.6zM344.4 172.6l1.6-0.6-1.8-1.2-1.6 0.5zM342.9 173.1l1.5-0.5-1.8-1.3-1.5 0.6zM341.5 173.6l1.4-0.5-1.8-1.2-1.4 0.4zM340.2 174.1l1.3-0.5-1.8-1.3-1.3 0.5zM339 174.5l1.2-0.4-1.8-1.3-1.1 0.4zM338 174.9l1-0.4-1.7-1.3-1.1 0.3zM337 175.2l1-0.3-1.8-1.4-1 0.4zM336.2 175.5l0.8-0.3-1.8-1.3-0.8 0.2zM335.5 175.7l0.7-0.2-1.8-1.4-0.7 0.3zM334.9 175.9l0.6-0.2-1.8-1.3-0.6 0.2zM334.4 176.1l0.5-0.2-1.8-1.3-0.5 0.1zM334 176.2l0.4-0.1-1.8-1.4-0.3 0.1zM333.8 176.2l0.2 0-1.7-1.4-0.3 0.1zM333.7 176.3l0.1-0.1-1.8-1.3 0 0zM333.6 176.3l0.1 0-1.7-1.4-0.1 0zM333.4 176.4l0.2-0.1-1.7-1.4-0.3 0.1zM333.1 176.5l0.3-0.1-1.8-1.4-0.3 0.1zM332.6 176.6l0.5-0.1-1.8-1.4-0.5 0.2zM332 176.8l0.6-0.2-1.8-1.3-0.6 0.2zM331.3 177l0.7-0.2-1.8-1.3-0.7 0.2zM330.4 177.3l0.9-0.3-1.8-1.3-0.8 0.2zM329.5 177.5l0.9-0.2-1.7-1.4-1 0.3zM328.4 177.8l1.1-0.3-1.8-1.3-1.1 0.3zM327.2 178.2l1.2-0.4-1.8-1.3-1.1 0.4zM326 178.5l1.2-0.3-1.7-1.3-1.3 0.3zM324.6 178.9l1.4-0.4-1.8-1.3-1.4 0.4zM323.1 179.3l1.5-0.4-1.8-1.3-1.5 0.5zM321.4 179.7l1.7-0.4-1.8-1.2-1.6 0.4zM319.7 180.2l1.7-0.5-1.7-1.2-1.8 0.5z"/><path class="c91" d="M317.9 180.7l1.8-0.5-1.8-1.2-1.8 0.5zM316 181.2l1.9-0.5-1.8-1.2-1.9 0.6zM313.9 181.8l2.1-0.6-1.8-1.1-2.1 0.6zM311.8 182.4l2.1-0.6-1.8-1.1-2.1 0.6zM309.5 183l2.3-0.6-1.8-1.1-2.2 0.6zM307.2 183.7l2.3-0.7-1.7-1.1-2.4 0.7zM304.7 184.4l2.5-0.7-1.8-1.1-2.4 0.8zM362 167.9l2.4-0.8-1.7-1-2.4 0.8zM359.6 168.8l2.4-0.9-1.7-1-2.4 0.8zM357.4 169.5l2.2-0.7-1.7-1.1-2.2 0.8zM355.2 170.3l2.2-0.8-1.7-1-2.2 0.8zM353.2 171.1l2-0.8-1.7-1-2 0.7z"/><path class="c90" d="M351.3 171.8l1.9-0.7-1.7-1.1-1.9 0.7zM349.4 172.5l1.9-0.7-1.7-1.1-1.9 0.6zM347.7 173.2l1.7-0.7-1.7-1.2-1.7 0.7zM346.1 173.8l1.6-0.6-1.7-1.2-1.6 0.6zM344.6 174.4l1.5-0.6-1.7-1.2-1.5 0.5zM343.2 175l1.4-0.6-1.7-1.3-1.4 0.5z"/><path class="c89" d="M341.9 175.4l1.3-0.4-1.7-1.4-1.3 0.5zM340.7 175.9l1.2-0.5-1.7-1.3-1.2 0.4zM339.7 176.3l1-0.4-1.7-1.4-1 0.4zM338.7 176.6l1-0.3-1.7-1.4-1 0.3zM337.9 176.9l0.8-0.3-1.7-1.4-0.8 0.3zM337.2 177.1l0.7-0.2-1.7-1.4-0.7 0.2zM336.6 177.3l0.6-0.2-1.7-1.4-0.6 0.2zM336.1 177.5l0.5-0.2-1.7-1.4-0.5 0.2zM335.7 177.6l0.4-0.1-1.7-1.4-0.4 0.1zM335.5 177.7l0.2-0.1-1.7-1.4-0.2 0zM335.3 177.7l0.1 0-1.7-1.4-0.1 0zM335.1 177.8l0.2-0.1-1.7-1.4-0.2 0.1zM334.8 177.9l0.3-0.1-1.7-1.4-0.3 0.1zM334.3 178.1l0.5-0.2-1.7-1.4-0.5 0.1zM333.7 178.2l0.6-0.1-1.7-1.5-0.6 0.2zM333 178.5l0.7-0.3-1.7-1.4-0.7 0.2zM332.1 178.7l0.9-0.2-1.7-1.5-0.9 0.3zM331.2 179l0.9-0.3-1.7-1.4-0.9 0.2zM330.1 179.2l1.1-0.2-1.7-1.5-1.1 0.3zM328.9 179.5l1.2-0.3-1.7-1.4-1.2 0.4zM327.7 179.9l1.2-0.4-1.7-1.3-1.2 0.3z"/><path class="c90" d="M326.3 180.2l1.4-0.3-1.7-1.4-1.4 0.4zM324.8 180.6l1.5-0.4-1.7-1.3-1.5 0.4zM323.1 180.9l1.7-0.3-1.7-1.3-1.7 0.4zM321.4 181.4l1.7-0.5-1.7-1.2-1.7 0.5zM319.6 181.8l1.8-0.4-1.7-1.2-1.8 0.5zM317.7 182.3l1.9-0.5-1.7-1.1-1.9 0.5z"/><path class="c91" d="M315.6 182.8l2.1-0.5-1.7-1.1-2.1 0.6zM313.5 183.4l2.1-0.6-1.7-1-2.1 0.6zM311.2 184l2.3-0.6-1.7-1-2.3 0.6zM308.9 184.7l2.3-0.7-1.7-1-2.3 0.7zM306.4 185.4l2.5-0.7-1.7-1-2.5 0.7zM363.6 168.9l2.4-0.8-1.6-1-2.4 0.8zM361.2 169.7l2.4-0.8-1.6-1-2.4 0.9zM359 170.6l2.2-0.9-1.6-0.9-2.2 0.7zM356.8 171.4l2.2-0.8-1.6-1.1-2.2 0.8z"/><path class="c90" d="M354.8 172.2l2-0.8-1.6-1.1-2 0.8zM352.9 173l1.9-0.8-1.6-1.1-1.9 0.7zM351.1 173.7l1.8-0.7-1.6-1.2-1.9 0.7zM349.3 174.4l1.8-0.7-1.7-1.2-1.7 0.7z"/><path class="c89" d="M347.7 175.1l1.6-0.7-1.6-1.2-1.6 0.6zM346.2 175.8l1.5-0.7-1.6-1.3-1.5 0.6zM344.8 176.4l1.4-0.6-1.6-1.4-1.4 0.6zM343.5 176.9l1.3-0.5-1.6-1.4-1.3 0.4z"/><path class="c88" d="M342.3 177.4l1.2-0.5-1.6-1.5-1.2 0.5zM341.3 177.8l1-0.4-1.6-1.5-1 0.4zM340.3 178.1l1-0.3-1.6-1.5-1 0.3zM339.5 178.4l0.8-0.3-1.6-1.5-0.8 0.3zM338.8 178.7l0.7-0.3-1.6-1.5-0.7 0.2zM338.2 178.9l0.6-0.2-1.6-1.6-0.6 0.2zM337.7 179.1l0.5-0.2-1.6-1.6-0.5 0.2zM337.3 179.2l0.4-0.1-1.6-1.6-0.4 0.1zM337.1 179.2l0.2 0-1.6-1.6-0.2 0.1zM337 179.3l0 0-1.6-1.6-0.1 0zM336.7 179.4l0.3-0.1-1.7-1.6-0.2 0.1zM336.4 179.5l0.3-0.1-1.6-1.6-0.3 0.1zM335.9 179.6l0.5-0.1-1.6-1.6-0.5 0.2zM335.3 179.8l0.6-0.2-1.6-1.5-0.6 0.1zM334.6 180l0.7-0.2-1.6-1.6-0.7 0.3zM333.8 180.2l0.8-0.2-1.6-1.5-0.9 0.2zM332.8 180.5l1-0.3-1.7-1.5-0.9 0.3zM331.7 180.7l1.1-0.2-1.6-1.5-1.1 0.2zM330.6 181l1.1-0.3-1.6-1.5-1.2 0.3z"/><path class="c89" d="M329.3 181.3l1.3-0.3-1.7-1.5-1.2 0.4zM327.9 181.5l1.4-0.2-1.6-1.4-1.4 0.3zM326.4 181.9l1.5-0.4-1.6-1.3-1.5 0.4zM324.8 182.2l1.6-0.3-1.6-1.3-1.7 0.3z"/><path class="c90" d="M323 182.6l1.8-0.4-1.7-1.3-1.7 0.5zM321.2 182.9l1.8-0.3-1.6-1.2-1.8 0.4zM319.3 183.4l1.9-0.5-1.6-1.1-1.9 0.5zM317.2 183.9l2.1-0.5-1.6-1.1-2.1 0.5z"/><path class="c91" d="M315.1 184.4l2.1-0.5-1.6-1.1-2.1 0.6zM312.8 185l2.3-0.6-1.6-1-2.3 0.6zM310.5 185.7l2.3-0.7-1.6-1-2.3 0.7zM308 186.4l2.5-0.7-1.6-1-2.5 0.7zM365.1 169.8l2.5-0.8-1.6-0.9-2.4 0.8zM362.8 170.7l2.3-0.9-1.5-0.9-2.4 0.8zM360.5 171.5l2.3-0.8-1.6-1-2.2 0.9z"/><path class="c90" d="M358.4 172.4l2.1-0.9-1.5-0.9-2.2 0.8zM356.4 173.2l2-0.8-1.6-1-2 0.8zM354.4 174.1l2-0.9-1.6-1-1.9 0.8z"/><path class="c89" d="M352.6 174.9l1.8-0.8-1.5-1.1-1.8 0.7zM350.9 175.7l1.7-0.8-1.5-1.2-1.8 0.7z"/><path class="c88" d="M349.3 176.5l1.6-0.8-1.6-1.3-1.6 0.7zM347.7 177.2l1.6-0.7-1.6-1.4-1.5 0.7zM346.4 177.8l1.3-0.6-1.5-1.4-1.4 0.6z"/><path class="c87" d="M345.1 178.4l1.3-0.6-1.6-1.4-1.3 0.5zM343.9 179l1.2-0.6-1.6-1.5-1.2 0.5zM342.8 179.4l1.1-0.4-1.6-1.6-1 0.4z"/><path class="c86" d="M341.9 179.8l0.9-0.4-1.5-1.6-1 0.3zM341 180.1l0.9-0.3-1.6-1.7-0.8 0.3zM340.3 180.4l0.7-0.3-1.5-1.7-0.7 0.3zM339.7 180.6l0.6-0.2-1.5-1.7-0.6 0.2zM339.2 180.8l0.5-0.2-1.5-1.7-0.5 0.2zM338.9 180.9l0.3-0.1-1.5-1.7-0.4 0.1zM338.7 181l0.2-0.1-1.6-1.7-0.2 0zM338.5 181l0.1 0-1.6-1.7 0 0zM338.3 181.1l0.2-0.1-1.5-1.7-0.3 0.1zM337.9 181.2l0.4-0.1-1.6-1.7-0.3 0.1zM337.4 181.3l0.5-0.1-1.5-1.7-0.5 0.1zM336.8 181.5l0.6-0.2-1.5-1.7-0.6 0.2zM336.1 181.7l0.7-0.2-1.5-1.7-0.7 0.2zM335.3 181.9l0.8-0.2-1.5-1.7-0.8 0.2zM334.3 182.1l1-0.2-1.5-1.7-1 0.3z"/><path class="c87" d="M333.3 182.3l1-0.2-1.5-1.6-1.1 0.2zM332.1 182.5l1.2-0.2-1.6-1.6-1.1 0.3zM330.8 182.7l1.3-0.2-1.5-1.5-1.3 0.3z"/><path class="c88" d="M329.4 183l1.4-0.3-1.5-1.4-1.4 0.2zM327.9 183.2l1.5-0.2-1.5-1.5-1.5 0.4zM326.3 183.5l1.6-0.3-1.5-1.3-1.6 0.3z"/><path class="c89" d="M324.6 183.7l1.7-0.2-1.5-1.3-1.8 0.4zM322.7 184.1l1.9-0.4-1.6-1.1-1.8 0.3z"/><path class="c90" d="M320.8 184.5l1.9-0.4-1.5-1.2-1.9 0.5zM318.8 184.9l2-0.4-1.5-1.1-2.1 0.5zM316.6 185.4l2.2-0.5-1.6-1-2.1 0.5z"/><path class="c91" d="M314.4 186l2.2-0.6-1.5-1-2.3 0.6zM312 186.6l2.4-0.6-1.6-1-2.3 0.7zM309.6 187.3l2.4-0.7-1.5-0.9-2.5 0.7zM366.6 170.7l2.4-0.9-1.4-0.8-2.5 0.8zM364.2 171.6l2.4-0.9-1.5-0.9-2.3 0.9z"/><path class="c90" d="M362 172.5l2.2-0.9-1.4-0.9-2.3 0.8zM359.8 173.4l2.2-0.9-1.5-1-2.1 0.9zM357.8 174.3l2-0.9-1.4-1-2 0.8z"/><path class="c89" d="M355.9 175.2l1.9-0.9-1.4-1.1-2 0.9zM354 176.1l1.9-0.9-1.5-1.1-1.8 0.8z"/><path class="c88" d="M352.3 177l1.7-0.9-1.4-1.2-1.7 0.8z"/><path class="c87" d="M350.7 177.9l1.6-0.9-1.4-1.3-1.6 0.8zM349.2 178.7l1.5-0.8-1.4-1.4-1.6 0.7z"/><path class="c86" d="M347.8 179.4l1.4-0.7-1.5-1.5-1.3 0.6zM346.5 180.1l1.3-0.7-1.4-1.6-1.3 0.6z"/><path class="c85" d="M345.3 180.7l1.2-0.6-1.4-1.7-1.2 0.6zM344.3 181.2l1-0.5-1.4-1.7-1.1 0.4z"/><path class="c84" d="M343.3 181.7l1-0.5-1.5-1.8-0.9 0.4zM342.5 182l0.8-0.3-1.4-1.9-0.9 0.3zM341.8 182.3l0.7-0.3-1.5-1.9-0.7 0.3zM341.2 182.5l0.6-0.2-1.5-1.9-0.6 0.2zM340.7 182.7l0.5-0.2-1.5-1.9-0.5 0.2zM340.3 182.8l0.4-0.1-1.5-1.9-0.3 0.1zM340.1 182.9l0.2-0.1-1.4-1.9-0.2 0.1zM340 182.9l0 0-1.4-1.9-0.1 0zM339.7 183l0.3-0.1-1.5-1.9-0.2 0.1zM339.4 183.1l0.3-0.1-1.4-1.9-0.4 0.1zM338.9 183.3l0.5-0.2-1.5-1.9-0.5 0.1zM338.3 183.4l0.6-0.1-1.5-2-0.6 0.2zM337.6 183.6l0.7-0.2-1.5-1.9-0.7 0.2zM336.7 183.7l0.9-0.1-1.5-1.9-0.8 0.2zM335.8 183.9l0.9-0.2-1.4-1.8-1 0.2z"/><path class="c85" d="M334.7 184.1l1.1-0.2-1.5-1.8-1 0.2zM333.6 184.2l1.1-0.1-1.4-1.8-1.2 0.2z"/><path class="c86" d="M332.3 184.3l1.3-0.1-1.5-1.7-1.3 0.2zM330.9 184.5l1.4-0.2-1.5-1.6-1.4 0.3z"/><path class="c87" d="M329.4 184.6l1.5-0.1-1.5-1.5-1.5 0.2zM327.8 184.8l1.6-0.2-1.5-1.4-1.6 0.3z"/><path class="c88" d="M326 185l1.8-0.2-1.5-1.3-1.7 0.2z"/><path class="c89" d="M324.2 185.2l1.8-0.2-1.4-1.3-1.9 0.4zM322.3 185.5l1.9-0.3-1.5-1.1-1.9 0.4z"/><path class="c90" d="M320.2 185.9l2.1-0.4-1.5-1-2 0.4zM318.1 186.3l2.1-0.4-1.4-1-2.2 0.5zM315.8 186.9l2.3-0.6-1.5-0.9-2.2 0.6z"/><path class="c91" d="M313.5 187.5l2.3-0.6-1.4-0.9-2.4 0.6zM311 188.1l2.5-0.6-1.5-0.9-2.4 0.7zM368 171.5l2.4-0.9-1.4-0.8-2.4 0.9zM365.6 172.5l2.4-1-1.4-0.8-2.4 0.9z"/><path class="c90" d="M363.4 173.4l2.2-0.9-1.4-0.9-2.2 0.9zM361.2 174.4l2.2-1-1.4-0.9-2.2 0.9z"/><path class="c89" d="M359.2 175.3l2-0.9-1.4-1-2 0.9zM357.3 176.3l1.9-1-1.4-1-1.9 0.9z"/><path class="c88" d="M355.4 177.3l1.9-1-1.4-1.1-1.9 0.9z"/><path class="c87" d="M353.7 178.3l1.7-1-1.4-1.2-1.7 0.9z"/><path class="c86" d="M352.1 179.3l1.6-1-1.4-1.3-1.6 0.9z"/><path class="c85" d="M350.6 180.3l1.5-1-1.4-1.4-1.5 0.8z"/><path class="c84" d="M349.2 181.1l1.4-0.8-1.4-1.6-1.4 0.7zM347.9 181.9l1.3-0.8-1.4-1.7-1.3 0.7z"/><path class="c83" d="M346.7 182.6l1.2-0.7-1.4-1.8-1.2 0.6zM345.7 183.2l1-0.6-1.4-1.9-1 0.5z"/><path class="c82" d="M344.7 183.7l1-0.5-1.4-2-1 0.5zM343.9 184.1l0.8-0.4-1.4-2-0.8 0.3zM343.2 184.5l0.7-0.4-1.4-2.1-0.7 0.3zM342.6 184.7l0.6-0.2-1.4-2.2-0.6 0.2z"/><path class="c81" d="M342.1 184.9l0.5-0.2-1.4-2.2-0.5 0.2zM341.7 185l0.4-0.1-1.4-2.2-0.4 0.1zM341.5 185.1l0.2-0.1-1.4-2.2-0.2 0.1zM341.3 185.1l0.1 0-1.4-2.2 0 0zM341.1 185.2l0.2-0.1-1.3-2.2-0.3 0.1zM340.8 185.3l0.3-0.1-1.4-2.2-0.3 0.1zM340.3 185.4l0.5-0.1-1.4-2.2-0.5 0.2z"/><path class="c82" d="M339.7 185.6l0.6-0.2-1.4-2.1-0.6 0.1zM339 185.7l0.7-0.1-1.4-2.2-0.7 0.2zM338.1 185.8l0.9-0.1-1.4-2.1-0.9 0.1zM337.2 185.9l0.9-0.1-1.4-2.1-0.9 0.2z"/><path class="c83" d="M336.1 186l1.1-0.1-1.4-2-1.1 0.2zM334.9 186l1.2 0-1.4-1.9-1.1 0.1z"/><path class="c84" d="M333.7 186l1.2 0-1.3-1.8-1.3 0.1zM332.3 186l1.4 0-1.4-1.7-1.4 0.2z"/><path class="c85" d="M330.7 186l1.6 0-1.4-1.5-1.5 0.1z"/><path class="c86" d="M329.1 186.1l1.6-0.1-1.3-1.4-1.6 0.2z"/><path class="c87" d="M327.4 186.2l1.7-0.1-1.3-1.3-1.8 0.2z"/><path class="c88" d="M325.6 186.3l1.8-0.1-1.4-1.2-1.8 0.2z"/><path class="c89" d="M323.7 186.5l1.9-0.2-1.4-1.1-1.9 0.3zM321.6 186.9l2.1-0.4-1.4-1-2.1 0.4z"/><path class="c90" d="M319.5 187.3l2.1-0.4-1.4-1-2.1 0.4zM317.2 187.7l2.3-0.4-1.4-1-2.3 0.6z"/><path class="c91" d="M314.9 188.3l2.3-0.6-1.4-0.8-2.3 0.6zM312.4 188.9l2.5-0.6-1.4-0.8-2.5 0.6zM369.3 172.3l2.4-0.9-1.3-0.8-2.4 0.9z"/><path class="c90" d="M366.9 173.3l2.4-1-1.3-0.8-2.4 1zM364.7 174.3l2.2-1-1.3-0.8-2.2 0.9zM362.5 175.3l2.2-1-1.3-0.9-2.2 1z"/><path class="c89" d="M360.5 176.3l2-1-1.3-0.9-2 0.9z"/><path class="c88" d="M358.6 177.4l1.9-1.1-1.3-1-1.9 1z"/><path class="c87" d="M356.7 178.5l1.9-1.1-1.3-1.1-1.9 1z"/><path class="c86" d="M355 179.7l1.7-1.2-1.3-1.2-1.7 1z"/><path class="c85" d="M353.4 180.8l1.6-1.1-1.3-1.4-1.6 1z"/><path class="c84" d="M351.9 181.9l1.5-1.1-1.3-1.5-1.5 1z"/><path class="c82" d="M350.5 182.9l1.4-1-1.3-1.6-1.4 0.8zM349.2 183.9l1.3-1-1.3-1.8-1.3 0.8z"/><path class="c81" d="M348 184.7l1.2-0.8-1.3-2-1.2 0.7z"/><path class="c80" d="M347 185.5l1-0.8-1.3-2.1-1 0.6z"/><path class="c79" d="M346 186.1l1-0.6-1.3-2.3-1 0.5zM345.2 186.5l0.8-0.4-1.3-2.4-0.8 0.4zM344.5 186.9l0.7-0.4-1.3-2.4-0.7 0.4zM343.9 187.2l0.6-0.3-1.3-2.4-0.6 0.2z"/><path class="c78" d="M343.4 187.3l0.5-0.1-1.3-2.5-0.5 0.2zM343 187.5l0.4-0.2-1.3-2.4-0.4 0.1zM342.8 187.5l0.2 0-1.3-2.5-0.2 0.1zM342.6 187.6l0.1 0-1.3-2.5-0.1 0zM342.4 187.7l0.2-0.1-1.3-2.5-0.2 0.1zM342.1 187.8l0.3-0.1-1.3-2.5-0.3 0.1zM341.6 187.9l0.5-0.1-1.3-2.5-0.5 0.1z"/><path class="c79" d="M341 188l0.6-0.1-1.3-2.5-0.6 0.2zM340.3 188.1l0.7-0.1-1.3-2.4-0.7 0.1zM339.4 188.1l0.9 0-1.3-2.4-0.9 0.1zM338.5 188.1l0.9 0-1.3-2.3-0.9 0.1z"/><path class="c80" d="M337.4 188.1l1.1 0-1.3-2.2-1.1 0.1z"/><path class="c81" d="M336.2 188l1.2 0.1-1.3-2.1-1.2 0z"/><path class="c82" d="M335 187.8l1.2 0.2-1.3-2-1.2 0zM333.6 187.7l1.4 0.1-1.3-1.8-1.4 0z"/><path class="c84" d="M332 187.5l1.6 0.2-1.3-1.7-1.6 0z"/><path class="c85" d="M330.4 187.4l1.6 0.1-1.3-1.5-1.6 0.1z"/><path class="c86" d="M328.7 187.4l1.7 0-1.3-1.3-1.7 0.1z"/><path class="c87" d="M326.9 187.4l1.8 0-1.3-1.2-1.8 0.1z"/><path class="c88" d="M325 187.5l1.9-0.1-1.3-1.1-1.9 0.2z"/><path class="c89" d="M322.9 187.8l2.1-0.3-1.3-1-2.1 0.4z"/><path class="c90" d="M320.8 188.1l2.1-0.3-1.3-0.9-2.1 0.4zM318.5 188.6l2.3-0.5-1.3-0.8-2.3 0.4zM316.2 189.1l2.3-0.5-1.3-0.9-2.3 0.6z"/><path class="c91" d="M313.7 189.7l2.5-0.6-1.3-0.8-2.5 0.6zM370.5 173.1l2.4-1-1.2-0.7-2.4 0.9z"/><path class="c90" d="M368.1 174.1l2.4-1-1.2-0.8-2.4 1zM365.9 175.1l2.2-1-1.2-0.8-2.2 1z"/><path class="c89" d="M363.7 176.1l2.2-1-1.2-0.8-2.2 1z"/><path class="c88" d="M361.7 177.3l2-1.2-1.2-0.8-2 1z"/><path class="c87" d="M359.8 178.4l1.9-1.1-1.2-1-1.9 1.1z"/><path class="c86" d="M357.9 179.7l1.9-1.3-1.2-1-1.9 1.1z"/><path class="c85" d="M356.2 181l1.7-1.3-1.2-1.2-1.7 1.2z"/><path class="c83" d="M354.6 182.3l1.6-1.3-1.2-1.3-1.6 1.1z"/><path class="c82" d="M353.1 183.6l1.5-1.3-1.2-1.5-1.5 1.1z"/><path class="c80" d="M351.7 184.8l1.4-1.2-1.2-1.7-1.4 1z"/><path class="c79" d="M350.4 186l1.3-1.2-1.2-1.9-1.3 1z"/><path class="c78" d="M349.2 187l1.2-1-1.2-2.1-1.2 0.8z"/><path class="c77" d="M348.2 187.9l1-0.9-1.2-2.3-1 0.8z"/><path class="c76" d="M347.2 188.6l1-0.7-1.2-2.4-1 0.6zM346.4 189.2l0.8-0.6-1.2-2.5-0.8 0.4z"/><path class="c75" d="M345.7 189.6l0.7-0.4-1.2-2.7-0.7 0.4zM345.1 189.9l0.6-0.3-1.2-2.7-0.6 0.3zM344.6 190.1l0.5-0.2-1.2-2.7-0.5 0.1zM344.2 190.3l0.4-0.2-1.2-2.8-0.4 0.2zM344 190.3l0.2 0-1.2-2.8-0.2 0zM343.9 190.4l0.1-0.1-1.2-2.8-0.1 0.1zM343.9 190.4l0 0-1.2-2.8-0.1 0zM343.6 190.5l0.3-0.1-1.3-2.8-0.2 0.1zM343.3 190.5l0.3 0-1.2-2.8-0.3 0.1zM342.8 190.6l0.5-0.1-1.2-2.7-0.5 0.1zM342.2 190.7l0.6-0.1-1.2-2.7-0.6 0.1zM341.5 190.7l0.7 0-1.2-2.7-0.7 0.1z"/><path class="c76" d="M340.6 190.7l0.9 0-1.2-2.6-0.9 0zM339.7 190.6l0.9 0.1-1.2-2.6-0.9 0z"/><path class="c77" d="M338.6 190.4l1.1 0.2-1.2-2.5-1.1 0z"/><path class="c78" d="M337.5 190.1l1.1 0.3-1.2-2.3-1.2-0.1z"/><path class="c79" d="M336.2 189.7l1.3 0.4-1.3-2.1-1.2-0.2z"/><path class="c80" d="M334.8 189.4l1.4 0.3-1.2-1.9-1.4-0.1z"/><path class="c82" d="M333.3 189l1.5 0.4-1.2-1.7-1.6-0.2z"/><path class="c83" d="M331.7 188.7l1.6 0.3-1.3-1.5-1.6-0.1z"/><path class="c85" d="M329.9 188.5l1.8 0.2-1.3-1.3-1.7 0z"/><path class="c86" d="M328.1 188.4l1.8 0.1-1.2-1.1-1.8 0z"/><path class="c87" d="M326.2 188.5l1.9-0.1-1.2-1-1.9 0.1z"/><path class="c88" d="M324.1 188.6l2.1-0.1-1.2-1-2.1 0.3z"/><path class="c89" d="M322 188.9l2.1-0.3-1.2-0.8-2.1 0.3z"/><path class="c90" d="M319.7 189.3l2.3-0.4-1.2-0.8-2.3 0.5zM317.4 189.8l2.3-0.5-1.2-0.7-2.3 0.5z"/><path class="c91" d="M314.9 190.4l2.5-0.6-1.2-0.7-2.5 0.6zM371.6 173.8l2.5-1-1.2-0.7-2.4 1z"/><path class="c90" d="M369.3 174.8l2.3-1-1.1-0.7-2.4 1zM367 175.8l2.3-1-1.2-0.7-2.2 1z"/><path class="c89" d="M364.9 176.9l2.1-1.1-1.1-0.7-2.2 1z"/><path class="c88" d="M362.8 178.1l2.1-1.2-1.2-0.8-2 1.2z"/><path class="c87" d="M360.9 179.4l1.9-1.3-1.1-0.8-1.9 1.1z"/><path class="c85" d="M359.1 180.8l1.8-1.4-1.1-1-1.9 1.3z"/><path class="c84" d="M357.4 182.2l1.7-1.4-1.2-1.1-1.7 1.3z"/><path class="c82" d="M355.8 183.7l1.6-1.5-1.2-1.2-1.6 1.3z"/><path class="c80" d="M354.2 185.3l1.6-1.6-1.2-1.4-1.5 1.3z"/><path class="c78" d="M352.8 186.8l1.4-1.5-1.1-1.7-1.4 1.2z"/><path class="c77" d="M351.6 188.2l1.2-1.4-1.1-2-1.3 1.2z"/><path class="c75" d="M350.4 189.5l1.2-1.3-1.2-2.2-1.2 1z"/><path class="c74" d="M349.3 190.6l1.1-1.1-1.2-2.5-1 0.9z"/><path class="c73" d="M348.4 191.5l0.9-0.9-1.1-2.7-1 0.7z"/><path class="c72" d="M347.5 192.2l0.9-0.7-1.2-2.9-0.8 0.6z"/><path class="c71" d="M346.8 192.7l0.7-0.5-1.1-3-0.7 0.4zM346.2 193l0.6-0.3-1.1-3.1-0.6 0.3zM345.7 193.3l0.5-0.3-1.1-3.1-0.5 0.2z"/><path class="c70" d="M345.4 193.4l0.3-0.1-1.1-3.2-0.4 0.2zM345.2 193.5l0.2-0.1-1.2-3.1-0.2 0zM345.1 193.5l0.1 0-1.2-3.2-0.1 0.1zM345 193.6l0.1-0.1-1.2-3.1 0 0zM344.8 193.6l0.2 0-1.1-3.2-0.3 0.1zM344.4 193.7l0.4-0.1-1.2-3.1-0.3 0z"/><path class="c71" d="M343.9 193.8l0.5-0.1-1.1-3.2-0.5 0.1zM343.3 193.8l0.6 0-1.1-3.2-0.6 0.1zM342.6 193.7l0.7 0.1-1.1-3.1-0.7 0z"/><path class="c72" d="M341.8 193.5l0.8 0.2-1.1-3-0.9 0z"/><path class="c73" d="M340.8 193.2l1 0.3-1.2-2.8-0.9-0.1z"/><path class="c74" d="M339.8 192.8l1 0.4-1.1-2.6-1.1-0.2z"/><path class="c75" d="M338.6 192.3l1.2 0.5-1.2-2.4-1.1-0.3z"/><path class="c77" d="M337.3 191.7l1.3 0.6-1.1-2.2-1.3-0.4z"/><path class="c78" d="M335.9 191.1l1.4 0.6-1.1-2-1.4-0.3z"/><path class="c80" d="M334.4 190.5l1.5 0.6-1.1-1.7-1.5-0.4z"/><path class="c82" d="M332.8 190l1.6 0.5-1.1-1.5-1.6-0.3z"/><path class="c84" d="M331.1 189.6l1.7 0.4-1.1-1.3-1.8-0.2z"/><path class="c85" d="M329.2 189.4l1.9 0.2-1.2-1.1-1.8-0.1z"/><path class="c87" d="M327.3 189.3l1.9 0.1-1.1-1-1.9 0.1z"/><path class="c88" d="M325.3 189.4l2-0.1-1.1-0.8-2.1 0.1z"/><path class="c89" d="M323.1 189.7l2.2-0.3-1.2-0.8-2.1 0.3z"/><path class="c90" d="M320.9 190l2.2-0.3-1.1-0.8-2.3 0.4zM318.5 190.5l2.4-0.5-1.2-0.7-2.3 0.5z"/><path class="c91" d="M316.1 191.1l2.4-0.6-1.1-0.7-2.5 0.6zM372.7 174.4l2.4-1-1-0.6-2.5 1z"/><path class="c90" d="M370.3 175.4l2.4-1-1.1-0.6-2.3 1zM368.1 176.5l2.2-1.1-1-0.6-2.3 1z"/><path class="c89" d="M365.9 177.7l2.2-1.2-1.1-0.7-2.1 1.1z"/><path class="c88" d="M363.9 178.9l2-1.2-1-0.8-2.1 1.2z"/><path class="c86" d="M362 180.3l1.9-1.4-1.1-0.8-1.9 1.3z"/><path class="c84" d="M360.1 181.8l1.9-1.5-1.1-0.9-1.8 1.4z"/><path class="c82" d="M358.4 183.4l1.7-1.6-1-1-1.7 1.4z"/><path class="c80" d="M356.8 185.1l1.6-1.7-1-1.2-1.6 1.5z"/><path class="c78" d="M355.3 186.9l1.5-1.8-1-1.4-1.6 1.6z"/><path class="c76" d="M353.9 188.7l1.4-1.8-1.1-1.6-1.4 1.5z"/><path class="c74" d="M352.6 190.4l1.3-1.7-1.1-1.9-1.2 1.4z"/><path class="c72" d="M351.4 192l1.2-1.6-1-2.2-1.2 1.3z"/><path class="c70" d="M350.4 193.4l1-1.4-1-2.5-1.1 1.1z"/><path class="c68" d="M349.4 194.5l1-1.1-1.1-2.8-0.9 0.9z"/><path class="c67" d="M348.6 195.4l0.8-0.9-1-3-0.9 0.7z"/><path class="c66" d="M347.9 196.1l0.7-0.7-1.1-3.2-0.7 0.5zM347.3 196.5l0.6-0.4-1.1-3.4-0.6 0.3zM346.8 196.8l0.5-0.3-1.1-3.5-0.5 0.3zM346.4 196.9l0.4-0.1-1.1-3.5-0.3 0.1z"/><path class="c65" d="M346.2 197l0.2-0.1-1-3.5-0.2 0.1zM346.1 197.1l0-0.1-1-3.5-0.1 0.1zM345.8 197.1l0.3 0-1.1-3.5-0.2 0z"/><path class="c66" d="M345.5 197.2l0.3-0.1-1-3.5-0.4 0.1zM345 197.2l0.5 0-1.1-3.5-0.5 0.1zM344.4 197.2l0.6 0-1.1-3.4-0.6 0zM343.7 197l0.7 0.2-1.1-3.4-0.7-0.1z"/><path class="c67" d="M342.8 196.6l0.9 0.4-1.1-3.3-0.8-0.2z"/><path class="c68" d="M341.9 196.1l0.9 0.5-1-3.1-1-0.3z"/><path class="c70" d="M340.8 195.3l1.1 0.8-1.1-2.9-1-0.4z"/><path class="c72" d="M339.6 194.5l1.2 0.8-1-2.5-1.2-0.5z"/><path class="c74" d="M338.4 193.6l1.2 0.9-1-2.2-1.3-0.6z"/><path class="c76" d="M337 192.7l1.4 0.9-1.1-1.9-1.4-0.6z"/><path class="c78" d="M335.5 191.9l1.5 0.8-1.1-1.6-1.5-0.6z"/><path class="c80" d="M333.8 191.2l1.7 0.7-1.1-1.4-1.6-0.5z"/><path class="c82" d="M332.1 190.7l1.7 0.5-1-1.2-1.7-0.4z"/><path class="c84" d="M330.3 190.3l1.8 0.4-1-1.1-1.9-0.2z"/><path class="c86" d="M328.4 190.2l1.9 0.1-1.1-0.9-1.9-0.1z"/><path class="c88" d="M326.3 190.2l2.1 0-1.1-0.9-2 0.1z"/><path class="c89" d="M324.2 190.4l2.1-0.2-1-0.8-2.2 0.3z"/><path class="c90" d="M321.9 190.7l2.3-0.3-1.1-0.7-2.2 0.3zM319.6 191.2l2.3-0.5-1-0.7-2.4 0.5z"/><path class="c91" d="M317.1 191.7l2.5-0.5-1.1-0.7-2.4 0.6zM373.7 175l2.4-1-1-0.6-2.4 1z"/><path class="c90" d="M371.3 176l2.4-1-1-0.6-2.4 1z"/><path class="c89" d="M369.1 177.2l2.2-1.2-1-0.6-2.2 1.1zM366.9 178.4l2.2-1.2-1-0.7-2.2 1.2z"/><path class="c87" d="M364.9 179.7l2-1.3-1-0.7-2 1.2z"/><path class="c86" d="M362.9 181.1l2-1.4-1-0.8-1.9 1.4z"/><path class="c84" d="M361.1 182.8l1.8-1.7-0.9-0.8-1.9 1.5z"/><path class="c82" d="M359.4 184.5l1.7-1.7-1-1-1.7 1.6z"/><path class="c79" d="M357.8 186.4l1.6-1.9-1-1.1-1.6 1.7z"/><path class="c77" d="M356.3 188.5l1.5-2.1-1-1.3-1.5 1.8z"/><path class="c74" d="M354.9 190.6l1.4-2.1-1-1.6-1.4 1.8z"/><path class="c71" d="M353.6 192.6l1.3-2-1-1.9-1.3 1.7z"/><path class="c68" d="M352.4 194.6l1.2-2-1-2.2-1.2 1.6z"/><path class="c66" d="M351.3 196.3l1.1-1.7-1-2.6-1 1.4z"/><path class="c64" d="M350.4 197.8l0.9-1.5-0.9-2.9-1 1.1z"/><path class="c62" d="M349.6 198.9l0.8-1.1-1-3.3-0.8 0.9z"/><path class="c61" d="M348.8 199.7l0.8-0.8-1-3.5-0.7 0.7zM348.2 200.3l0.6-0.6-0.9-3.6-0.6 0.4z"/><path class="c60" d="M347.8 200.6l0.4-0.3-0.9-3.8-0.5 0.3zM347.4 200.8l0.4-0.2-1-3.8-0.4 0.1zM347.2 200.9l0.2-0.1-1-3.9-0.2 0.1zM346.8 201l0.2-0.1-0.9-3.8-0.3 0zM346.4 201l0.4 0-1-3.9-0.3 0.1zM346 201l0.4 0-0.9-3.8-0.5 0z"/><path class="c61" d="M345.4 200.8l0.6 0.2-1-3.8-0.6 0z"/><path class="c62" d="M343.8 199.8l0.8 0.7-0.9-3.5-0.9-0.4z"/><path class="c64" d="M342.9 199l0.9 0.8-1-3.2-0.9-0.5z"/><path class="c66" d="M341.8 197.9l1.1 1.1-1-2.9-1.1-0.8z"/><path class="c68" d="M340.6 196.7l1.2 1.2-1-2.6-1.2-0.8z"/><path class="c71" d="M339.3 195.5l1.3 1.2-1-2.2-1.2-0.9z"/><path class="c74" d="M337.9 194.3l1.4 1.2-0.9-1.9-1.4-0.9z"/><path class="c77" d="M336.4 193.2l1.5 1.1-0.9-1.6-1.5-0.8z"/><path class="c79" d="M334.8 192.3l1.6 0.9-0.9-1.3-1.7-0.7z"/><path class="c82" d="M333.1 191.6l1.7 0.7-1-1.1-1.7-0.5z"/><path class="c84" d="M331.3 191.1l1.8 0.5-1-0.9-1.8-0.4z"/><path class="c86" d="M329.3 190.9l2 0.2-1-0.8-1.9-0.1z"/><path class="c87" d="M327.3 190.9l2 0-0.9-0.7-2.1 0z"/><path class="c89" d="M325.2 191l2.1-0.1-1-0.7-2.1 0.2zM322.9 191.3l2.3-0.3-1-0.6-2.3 0.3z"/><path class="c90" d="M320.6 191.7l2.3-0.4-1-0.6-2.3 0.5z"/><path class="c91" d="M318.1 192.3l2.5-0.6-1-0.5-2.5 0.5z"/><path class="c90" d="M374.5 175.5l2.5-1-0.9-0.5-2.4 1zM372.2 176.6l2.3-1.1-0.8-0.5-2.4 1z"/><path class="c89" d="M369.9 177.7l2.3-1.1-0.9-0.6-2.2 1.2z"/><path class="c88" d="M367.8 179l2.1-1.3-0.8-0.5-2.2 1.2z"/><path class="c87" d="M365.8 180.3l2-1.3-0.9-0.6-2 1.3z"/><path class="c85" d="M363.8 181.9l2-1.6-0.9-0.6-2 1.4z"/><path class="c83" d="M362 183.6l1.8-1.7-0.9-0.8-1.8 1.7z"/><path class="c81" d="M360.3 185.5l1.7-1.9-0.9-0.8-1.7 1.7z"/><path class="c78" d="M358.7 187.6l1.6-2.1-0.9-1-1.6 1.9z"/><path class="c75" d="M357.2 189.9l1.5-2.3-0.9-1.2-1.5 2.1z"/><path class="c72" d="M355.8 192.3l1.4-2.4-0.9-1.4-1.4 2.1z"/><path class="c68" d="M354.5 194.7l1.3-2.4-0.9-1.7-1.3 2z"/><path class="c65" d="M353.3 197l1.2-2.3-0.9-2.1-1.2 2z"/><path class="c62" d="M352.2 199.2l1.1-2.2-0.9-2.4-1.1 1.7z"/><path class="c59" d="M351.3 201.1l0.9-1.9-0.9-2.9-0.9 1.5z"/><path class="c68" d="M340.2 197.2l1.3 1.6-0.9-2.1-1.3-1.2z"/><path class="c72" d="M338.8 195.7l1.4 1.5-0.9-1.7-1.4-1.2z"/><path class="c75" d="M337.3 194.3l1.5 1.4-0.9-1.4-1.5-1.1z"/><path class="c78" d="M335.7 193.3l1.6 1-0.9-1.1-1.6-0.9z"/><path class="c81" d="M334 192.4l1.7 0.9-0.9-1-1.7-0.7z"/><path class="c83" d="M332.2 191.9l1.8 0.5-0.9-0.8-1.8-0.5z"/><path class="c85" d="M330.2 191.6l2 0.3-0.9-0.8-2-0.2z"/><path class="c87" d="M328.2 191.5l2 0.1-0.9-0.7-2 0z"/><path class="c88" d="M326 191.6l2.2-0.1-0.9-0.6-2.1 0.1z"/><path class="c89" d="M323.8 191.9l2.2-0.3-0.8-0.6-2.3 0.3z"/><path class="c90" d="M321.4 192.3l2.4-0.4-0.9-0.6-2.3 0.4zM319 192.8l2.4-0.5-0.8-0.6-2.5 0.6zM375.3 176l2.5-1-0.8-0.5-2.5 1zM373 177.1l2.3-1.1-0.8-0.5-2.3 1.1z"/><path class="c89" d="M370.7 178.2l2.3-1.1-0.8-0.5-2.3 1.1z"/><path class="c88" d="M368.6 179.5l2.1-1.3-0.8-0.5-2.1 1.3z"/><path class="c87" d="M366.6 180.9l2-1.4-0.8-0.5-2 1.3z"/><path class="c85" d="M364.6 182.5l2-1.6-0.8-0.6-2 1.6z"/><path class="c83" d="M362.8 184.3l1.8-1.8-0.8-0.6-1.8 1.7z"/><path class="c80" d="M361.1 186.3l1.7-2-0.8-0.7-1.7 1.9z"/><path class="c77" d="M359.5 188.6l1.6-2.3-0.8-0.8-1.6 2.1z"/><path class="c74" d="M358 191.1l1.5-2.5-0.8-1-1.5 2.3z"/><path class="c70" d="M356.6 193.8l1.4-2.7-0.8-1.2-1.4 2.4z"/><path class="c66" d="M355.3 196.6l1.3-2.8-0.8-1.5-1.3 2.4z"/><path class="c62" d="M354.1 199.3l1.2-2.7-0.8-1.9-1.2 2.3z"/><path class="c58" d="M353 202l1.1-2.7-0.8-2.3-1.1 2.2z"/><path class="c74" d="M338.1 195.3l1.5 1.6-0.8-1.2-1.5-1.4z"/><path class="c77" d="M336.5 194.1l1.6 1.2-0.8-1-1.6-1z"/><path class="c80" d="M334.8 193.2l1.7 0.9-0.8-0.8-1.7-0.9z"/><path class="c83" d="M333 192.5l1.8 0.7-0.8-0.8-1.8-0.5z"/><path class="c85" d="M331 192.1l2 0.4-0.8-0.6-2-0.3z"/><path class="c87" d="M329 192l2 0.1-0.8-0.5-2-0.1z"/><path class="c88" d="M326.8 192.1l2.2-0.1-0.8-0.5-2.2 0.1z"/><path class="c89" d="M324.6 192.3l2.2-0.2-0.8-0.5-2.2 0.3z"/><path class="c90" d="M322.2 192.8l2.4-0.5-0.8-0.4-2.4 0.4zM319.8 193.3l2.4-0.5-0.8-0.5-2.4 0.5zM376.1 176.4l2.4-1-0.7-0.4-2.5 1zM373.7 177.5l2.4-1.1-0.8-0.4-2.3 1.1z"/><path class="c89" d="M371.5 178.7l2.2-1.2-0.7-0.4-2.3 1.1z"/><path class="c88" d="M369.3 180l2.2-1.3-0.8-0.5-2.1 1.3z"/><path class="c86" d="M367.3 181.4l2-1.4-0.7-0.5-2 1.4z"/><path class="c84" d="M365.3 183.1l2-1.7-0.7-0.5-2 1.6z"/><path class="c82" d="M363.5 184.9l1.8-1.8-0.7-0.6-1.8 1.8z"/><path class="c79" d="M361.8 187l1.7-2.1-0.7-0.6-1.7 2z"/><path class="c76" d="M360.2 189.4l1.6-2.4-0.7-0.7-1.6 2.3z"/><path class="c73" d="M358.7 192.1l1.5-2.7-0.7-0.8-1.5 2.5z"/><path class="c68" d="M357.3 195l1.4-2.9-0.7-1-1.4 2.7z"/><path class="c64" d="M356 198.1l1.3-3.1-0.7-1.2-1.3 2.8z"/><path class="c59" d="M354.8 201.3l1.2-3.2-0.7-1.5-1.2 2.7z"/><path class="c76" d="M337.2 194.8l1.6 1.4-0.7-0.9-1.6-1.2z"/><path class="c79" d="M335.5 193.8l1.7 1-0.7-0.7-1.7-0.9z"/><path class="c82" d="M333.7 193l1.8 0.8-0.7-0.6-1.8-0.7z"/><path class="c84" d="M331.7 192.6l2 0.4-0.7-0.5-2-0.4z"/><path class="c86" d="M329.7 192.5l2 0.1-0.7-0.5-2-0.1z"/><path class="c88" d="M327.6 192.5l2.1 0-0.7-0.5-2.2 0.1z"/><path class="c89" d="M325.3 192.8l2.3-0.3-0.8-0.4-2.2 0.2z"/><path class="c90" d="M323 193.2l2.3-0.4-0.7-0.5-2.4 0.5zM320.5 193.7l2.5-0.5-0.8-0.4-2.4 0.5zM376.7 176.8l2.4-1-0.6-0.4-2.4 1zM374.3 177.9l2.4-1.1-0.6-0.4-2.4 1.1z"/><path class="c89" d="M372.1 179.1l2.2-1.2-0.6-0.4-2.2 1.2z"/><path class="c88" d="M370 180.4l2.1-1.3-0.6-0.4-2.2 1.3z"/><path class="c86" d="M367.9 181.8l2.1-1.4-0.7-0.4-2 1.4z"/><path class="c84" d="M366 183.5l1.9-1.7-0.6-0.4-2 1.7z"/><path class="c82" d="M364.2 185.4l1.8-1.9-0.7-0.4-1.8 1.8z"/><path class="c79" d="M362.4 187.6l1.8-2.2-0.7-0.5-1.7 2.1z"/><path class="c76" d="M360.8 190.1l1.6-2.5-0.6-0.6-1.6 2.4z"/><path class="c72" d="M359.3 192.9l1.5-2.8-0.6-0.7-1.5 2.7z"/><path class="c67" d="M357.9 196l1.4-3.1-0.6-0.8-1.4 2.9z"/><path class="c62" d="M356.6 199.3l1.3-3.3-0.6-1-1.3 3.1z"/><path class="c79" d="M336.1 194.3l1.8 1.1-0.7-0.6-1.7-1z"/><path class="c82" d="M334.3 193.5l1.8 0.8-0.6-0.5-1.8-0.8z"/><path class="c84" d="M332.4 193l1.9 0.5-0.6-0.5-2-0.4z"/><path class="c86" d="M330.3 192.9l2.1 0.1-0.7-0.4-2-0.1z"/><path class="c88" d="M328.2 192.9l2.1 0-0.6-0.4-2.1 0z"/><path class="c89" d="M325.9 193.1l2.3-0.2-0.6-0.4-2.3 0.3z"/><path class="c90" d="M323.6 193.5l2.3-0.4-0.6-0.3-2.3 0.4zM321.1 194.1l2.5-0.6-0.6-0.3-2.5 0.5zM377.2 177.1l2.5-1-0.6-0.3-2.4 1zM374.9 178.2l2.3-1.1-0.5-0.3-2.4 1.1z"/><path class="c89" d="M372.6 179.4l2.3-1.2-0.6-0.3-2.2 1.2z"/><path class="c88" d="M370.5 180.7l2.1-1.3-0.5-0.3-2.1 1.3z"/><path class="c86" d="M368.5 182.2l2-1.5-0.5-0.3-2.1 1.4z"/><path class="c84" d="M366.5 183.9l2-1.7-0.6-0.4-1.9 1.7z"/><path class="c82" d="M364.7 185.8l1.8-1.9-0.5-0.4-1.8 1.9z"/><path class="c79" d="M363 188l1.7-2.2-0.5-0.4-1.8 2.2z"/><path class="c75" d="M361.4 190.6l1.6-2.6-0.6-0.4-1.6 2.5z"/><path class="c71" d="M359.9 193.5l1.5-2.9-0.6-0.5-1.5 2.8z"/><path class="c66" d="M358.5 196.7l1.4-3.2-0.6-0.6-1.4 3.1z"/><path class="c61" d="M357.2 200.2l1.3-3.5-0.6-0.7-1.3 3.3z"/><path class="c44" d="M346.4 210.6l1 3.2-0.5-1.9-1-2.8z"/><path class="c82" d="M334.9 193.9l1.8 0.8-0.6-0.4-1.8-0.8z"/><path class="c84" d="M332.9 193.4l2 0.5-0.6-0.4-1.9-0.5z"/><path class="c86" d="M330.9 193.2l2 0.2-0.5-0.4-2.1-0.1z"/><path class="c88" d="M328.7 193.2l2.2 0-0.6-0.3-2.1 0z"/><path class="c89" d="M326.5 193.5l2.2-0.3-0.5-0.3-2.3 0.2z"/><path class="c90" d="M324.1 193.9l2.4-0.4-0.6-0.4-2.3 0.4zM321.7 194.4l2.4-0.5-0.5-0.4-2.5 0.6zM377.7 177.4l2.4-1.1-0.4-0.2-2.5 1zM375.3 178.5l2.4-1.1-0.5-0.3-2.3 1.1z"/><path class="c89" d="M373.1 179.6l2.2-1.1-0.4-0.3-2.3 1.2z"/><path class="c88" d="M370.9 181l2.2-1.4-0.5-0.2-2.1 1.3z"/><path class="c86" d="M368.9 182.5l2-1.5-0.4-0.3-2 1.5z"/><path class="c84" d="M367 184.2l1.9-1.7-0.4-0.3-2 1.7z"/><path class="c82" d="M365.1 186.1l1.9-1.9-0.5-0.3-1.8 1.9z"/><path class="c79" d="M363.4 188.4l1.7-2.3-0.4-0.3-1.7 2.2z"/><path class="c75" d="M361.8 191l1.6-2.6-0.4-0.4-1.6 2.6z"/><path class="c71" d="M360.3 193.9l1.5-2.9-0.4-0.4-1.5 2.9z"/><path class="c66" d="M358.9 197.2l1.4-3.3-0.4-0.4-1.4 3.2z"/><path class="c61" d="M357.6 200.9l1.3-3.7-0.4-0.5-1.3 3.5z"/><path class="c30" d="M348.7 218.6l0.7 4-0.4-3-0.8-2.8z"/><path class="c36" d="M347.8 215.1l0.9 3.5-0.5-1.8-0.8-3z"/><path class="c82" d="M335.3 194.2l1.8 0.8-0.4-0.3-1.8-0.8z"/><path class="c84" d="M333.4 193.7l1.9 0.5-0.4-0.3-2-0.5z"/><path class="c86" d="M331.3 193.5l2.1 0.2-0.5-0.3-2-0.2z"/><path class="c88" d="M329.2 193.5l2.1 0-0.4-0.3-2.2 0z"/><path class="c89" d="M326.9 193.7l2.3-0.2-0.5-0.3-2.2 0.3z"/><path class="c90" d="M324.6 194.1l2.3-0.4-0.4-0.2-2.4 0.4zM322.1 194.6l2.5-0.5-0.5-0.2-2.4 0.5zM378 177.6l2.5-1.1-0.4-0.2-2.4 1.1zM375.7 178.7l2.3-1.1-0.3-0.2-2.4 1.1z"/><path class="c89" d="M373.5 179.9l2.2-1.2-0.4-0.2-2.2 1.1z"/><path class="c88" d="M371.3 181.2l2.2-1.3-0.4-0.3-2.2 1.4z"/><path class="c86" d="M369.3 182.7l2-1.5-0.4-0.2-2 1.5z"/><path class="c84" d="M367.3 184.4l2-1.7-0.4-0.2-1.9 1.7z"/><path class="c81" d="M365.5 186.4l1.8-2-0.3-0.2-1.9 1.9z"/><path class="c78" d="M363.8 188.6l1.7-2.2-0.4-0.3-1.7 2.3z"/><path class="c75" d="M362.2 191.2l1.6-2.6-0.4-0.2-1.6 2.6z"/><path class="c71" d="M360.7 194.2l1.5-3-0.4-0.2-1.5 2.9z"/><path class="c66" d="M359.3 197.6l1.4-3.4-0.4-0.3-1.4 3.3z"/><path class="c60" d="M358 201.3l1.3-3.7-0.4-0.4-1.3 3.7z"/><path class="c28" d="M349 219.7l0.8 4.8-0.4-1.9-0.7-4z"/><path class="c34" d="M348.2 215.9l0.8 3.8-0.3-1.1-0.9-3.5z"/><path class="c41" d="M347.3 212.2l0.9 3.7-0.4-0.8-0.9-3.5z"/><path class="c48" d="M346.2 208.6l1.1 3.6-0.4-0.6-1.1-3.5z"/><path class="c81" d="M335.7 194.4l1.8 0.8-0.4-0.2-1.8-0.8z"/><path class="c88" d="M329.6 193.7l2.1 0-0.4-0.2-2.1 0z"/><path class="c89" d="M327.3 193.9l2.3-0.2-0.4-0.2-2.3 0.2z"/><path class="c90" d="M325 194.3l2.3-0.4-0.4-0.2-2.3 0.4zM322.5 194.8l2.5-0.5-0.4-0.2-2.5 0.5zM378.3 177.7l2.5-1-0.3-0.2-2.5 1.1zM376 178.8l2.3-1.1-0.3-0.1-2.3 1.1z"/><path class="c89" d="M373.7 180l2.3-1.2-0.3-0.1-2.2 1.2z"/><path class="c88" d="M371.6 181.3l2.1-1.3-0.2-0.1-2.2 1.3z"/><path class="c86" d="M369.5 182.8l2.1-1.5-0.3-0.1-2 1.5z"/><path class="c84" d="M367.6 184.5l1.9-1.7-0.2-0.1-2 1.7z"/><path class="c81" d="M365.8 186.5l1.8-2-0.3-0.1-1.8 2z"/><path class="c78" d="M364.1 188.8l1.7-2.3-0.3-0.1-1.7 2.2z"/><path class="c75" d="M362.4 191.4l1.7-2.6-0.3-0.2-1.6 2.6z"/><path class="c70" d="M360.9 194.4l1.5-3-0.2-0.2-1.5 3z"/><path class="c66" d="M359.5 197.8l1.4-3.4-0.2-0.2-1.4 3.4z"/><path class="c19" d="M350 225.3l0.6 4.5-0.2-1.3-0.6-4z"/><path class="c26" d="M349.3 220.3l0.7 5-0.2-0.8-0.8-4.8z"/><path class="c33" d="M348.5 216.3l0.8 4-0.3-0.6-0.8-3.8z"/><path class="c40" d="M347.5 212.5l1 3.8-0.3-0.4-0.9-3.7z"/><path class="c47" d="M346.5 208.9l1 3.6-0.2-0.3-1.1-3.6z"/><path class="c81" d="M335.9 194.5l1.9 0.9-0.3-0.2-1.8-0.8z"/><path class="c89" d="M327.6 194.1l2.2-0.2-0.2-0.2-2.3 0.2z"/><path class="c90" d="M325.2 194.5l2.4-0.4-0.3-0.2-2.3 0.4zM322.8 195l2.4-0.5-0.2-0.2-2.5 0.5zM378.5 177.8l2.4-1-0.1-0.1-2.5 1zM376.1 178.9l2.4-1.1-0.2-0.1-2.3 1.1z"/><path class="c89" d="M373.9 180.1l2.2-1.2-0.1-0.1-2.3 1.2z"/><path class="c88" d="M371.7 181.4l2.2-1.3-0.2-0.1-2.1 1.3z"/><path class="c86" d="M369.7 182.9l2-1.5-0.1-0.1-2.1 1.5z"/><path class="c84" d="M367.8 184.6l1.9-1.7-0.2-0.1-1.9 1.7z"/><path class="c81" d="M365.9 186.6l1.9-2-0.2-0.1-1.8 2z"/><path class="c70" d="M361.1 194.5l1.5-3-0.2-0.1-1.5 3z"/><path class="c65" d="M359.7 197.9l1.4-3.4-0.2-0.1-1.4 3.4z"/><path class="c12" d="M350.8 230.2l0.5 3.9-0.2-0.6-0.5-3.7z"/><path class="c19" d="M350.2 225.6l0.6 4.6-0.2-0.4-0.6-4.5z"/><path class="c26" d="M349.5 220.5l0.7 5.1-0.2-0.3-0.7-5z"/><path class="c33" d="M348.6 216.4l0.9 4.1-0.2-0.2-0.8-4z"/><path class="c40" d="M347.7 212.6l0.9 3.8-0.1-0.1-1-3.8z"/><path class="c47" d="M346.6 209l1.1 3.6-0.2-0.1-1-3.6z"/><path class="c89" d="M327.7 194.2l2.3-0.2-0.2-0.1-2.2 0.2z"/><path class="c90" d="M322.9 195.1l2.5-0.5-0.2-0.1-2.4 0.5zM378.5 177.8l2.5-1-0.1 0-2.4 1z"/><path class="c89" d="M373.9 180.1l2.3-1.2-0.1 0-2.2 1.2z"/><path class="c84" d="M367.8 184.7l2-1.7-0.1-0.1-1.9 1.7z"/><path class="c81" d="M366 186.6l1.8-1.9 0-0.1-1.9 2z"/><path class="c78" d="M364.3 188.9l1.7-2.3-0.1 0-1.7 2.3z"/><path class="c75" d="M362.7 191.5l1.6-2.6-0.1 0-1.6 2.6z"/><path class="c70" d="M361.2 194.5l1.5-3-0.1 0-1.5 3z"/><path class="c3" d="M351.7 237.2l0.2 2.1 0-0.4-0.3-1.8z"/><path class="c7" d="M351.3 234.2l0.4 3-0.1-0.1-0.3-3z"/><path class="c12" d="M350.9 230.3l0.4 3.9 0-0.1-0.5-3.9z"/><path class="c33" d="M348.7 216.5l0.8 4.1 0-0.1-0.9-4.1z"/><path class="c40" d="M347.8 212.6l0.9 3.9-0.1-0.1-0.9-3.8z"/><path class="c81" d="M336.2 194.7l1.8 0.8-0.1 0-1.8-0.9z"/><path class="c84" d="M334.2 194.2l2 0.5-0.1-0.1-1.9-0.5z"/><path class="c89" d="M327.8 194.2l2.3-0.2-0.1 0-2.3 0.2z"/><path class="c90" d="M323 195.1l2.5-0.5-0.1 0-2.5 0.5zM378.6 177.9l2.5-1-0.1-0.1-2.5 1zM376.3 179l2.3-1.1-0.1-0.1-2.3 1.1z"/><path class="c89" d="M374 180.2l2.3-1.2-0.1-0.1-2.3 1.2z"/><path class="c88" d="M371.9 181.5l2.1-1.3-0.1-0.1-2.1 1.4z"/><path class="c81" d="M366.1 186.7l1.8-2-0.1 0-1.8 1.9z"/><path class="c78" d="M364.3 189l1.8-2.3-0.1-0.1-1.7 2.3z"/><path class="c75" d="M362.7 191.6l1.6-2.6 0-0.1-1.6 2.6z"/><path class="c1" d="M352 239l0.1 0.3-0.1 0.7-0.1-0.7z"/><path class="c3" d="M351.8 237.2l0.2 1.8-0.1 0.3-0.2-2.1z"/><path class="c84" d="M334.3 194.2l1.9 0.5 0 0-2-0.5z"/><path class="c86" d="M332.3 194l2 0.2-0.1 0-2-0.2z"/><path class="c88" d="M330.1 194l2.2 0-0.1 0-2.1 0z"/><path class="c89" d="M327.9 194.2l2.2-0.2 0 0-2.3 0.2z"/><path class="c90" d="M325.5 194.6l2.4-0.4-0.1 0-2.3 0.4zM323.1 195.2l2.4-0.6 0 0-2.5 0.5zM378.8 178l2.4-1-0.1-0.1-2.5 1zM376.4 179.1l2.4-1.1-0.2-0.1-2.3 1.1z"/><path class="c89" d="M374.2 180.3l2.2-1.2-0.1-0.1-2.3 1.2z"/><path class="c88" d="M372 181.6l2.2-1.3-0.2-0.1-2.1 1.3z"/><path class="c86" d="M370 183.1l2-1.5-0.1-0.1-2.1 1.5z"/><path class="c84" d="M368.1 184.8l1.9-1.7-0.2-0.1-1.9 1.7z"/><path class="c81" d="M366.2 186.8l1.9-2-0.2-0.1-1.8 2z"/><path class="c78" d="M364.5 189.1l1.7-2.3-0.1-0.1-1.8 2.3z"/><path class="c75" d="M362.9 191.7l1.6-2.6-0.2-0.1-1.6 2.6z"/><path class="c70" d="M361.4 194.7l1.5-3-0.2-0.1-1.5 3z"/><path class="c65" d="M360 198l1.4-3.3-0.2-0.1-1.4 3.3z"/><path class="c7" d="M352.5 236l0.4-2.7-0.2 0.5-0.3 3.2z"/><path class="c4" d="M352.3 237.2l0.2-1.2-0.1 1-0.3 1.9z"/><path class="c3" d="M352.1 237.2l0.1 0.1-0.1 2-0.1-0.3z"/><path class="c4" d="M351.9 236.2l0.2 1-0.1 1.8-0.2-1.8z"/><path class="c7" d="M351.6 233.7l0.3 2.5-0.1 1-0.4-3z"/><path class="c12" d="M351.1 230.1l0.5 3.6-0.2 0.5-0.5-3.9z"/><path class="c19" d="M350.5 225.6l0.6 4.5-0.2 0.2-0.6-4.6z"/><path class="c26" d="M349.8 220.6l0.7 5-0.2 0.1-0.7-5.1z"/><path class="c33" d="M348.9 216.6l0.9 4-0.2 0-0.8-4.1z"/><path class="c88" d="M330.3 194.1l2.1 0-0.1-0.1-2.2 0z"/><path class="c89" d="M328 194.3l2.3-0.2-0.2-0.1-2.2 0.2z"/><path class="c90" d="M325.7 194.7l2.3-0.4-0.1-0.1-2.4 0.4zM323.2 195.3l2.5-0.6-0.2-0.1-2.4 0.6zM379 178.1l2.5-1-0.3-0.1-2.4 1zM376.7 179.2l2.3-1.1-0.2-0.1-2.4 1.1z"/><path class="c89" d="M374.4 180.4l2.3-1.2-0.3-0.1-2.2 1.2z"/><path class="c88" d="M372.3 181.7l2.1-1.3-0.2-0.1-2.2 1.3z"/><path class="c86" d="M370.3 183.2l2-1.5-0.3-0.1-2 1.5z"/><path class="c84" d="M368.3 184.9l2-1.7-0.3-0.1-1.9 1.7z"/><path class="c81" d="M366.5 186.9l1.8-2-0.2-0.1-1.9 2z"/><path class="c78" d="M364.8 189.2l1.7-2.3-0.3-0.1-1.7 2.3z"/><path class="c75" d="M363.2 191.8l1.6-2.6-0.3-0.1-1.6 2.6z"/><path class="c70" d="M361.7 194.8l1.5-3-0.3-0.1-1.5 3z"/><path class="c66" d="M360.3 198.1l1.4-3.3-0.3-0.1-1.4 3.3z"/><path class="c7" d="M352.6 234.2l0.2-0.6-0.3 2.4-0.2 1.2zM352.2 233.8l0.2 0.4-0.3 3-0.2-1z"/><path class="c9" d="M351.8 232.1l0.4 1.7-0.3 2.4-0.3-2.5z"/><path class="c14" d="M351.4 229.1l0.4 3-0.2 1.6-0.5-3.6z"/><path class="c19" d="M350.8 225l0.6 4.1-0.3 1-0.6-4.5z"/><path class="c26" d="M350 220.3l0.8 4.7-0.3 0.6-0.7-5z"/><path class="c33" d="M349.2 216.5l0.8 3.8-0.2 0.3-0.9-4z"/><path class="c40" d="M348.3 212.7l0.9 3.8-0.3 0.1-0.9-3.9z"/><path class="c47" d="M347.2 209.2l1.1 3.5-0.3 0-1.1-3.6z"/><path class="c84" d="M334.7 194.4l2 0.5-0.3-0.1-1.9-0.5z"/><path class="c86" d="M332.7 194.2l2 0.2-0.2-0.1-2.1-0.2z"/><path class="c89" d="M328.3 194.5l2.2-0.2-0.2-0.2-2.3 0.2z"/><path class="c90" d="M326 194.9l2.3-0.4-0.3-0.2-2.3 0.4zM323.5 195.4l2.5-0.5-0.3-0.2-2.5 0.6zM379.4 178.3l2.5-1-0.4-0.2-2.5 1zM377.1 179.4l2.3-1.1-0.4-0.2-2.3 1.1z"/><path class="c89" d="M374.8 180.6l2.3-1.2-0.4-0.2-2.3 1.2z"/><path class="c88" d="M372.7 181.9l2.1-1.3-0.4-0.2-2.1 1.3z"/><path class="c86" d="M370.6 183.4l2.1-1.5-0.4-0.2-2 1.5z"/><path class="c84" d="M368.7 185.1l1.9-1.7-0.3-0.2-2 1.7z"/><path class="c81" d="M366.9 187.1l1.8-2-0.4-0.2-1.8 2z"/><path class="c78" d="M365.1 189.4l1.8-2.3-0.4-0.2-1.7 2.3z"/><path class="c75" d="M363.5 191.9l1.6-2.5-0.3-0.2-1.6 2.6z"/><path class="c71" d="M362 194.9l1.5-3-0.3-0.1-1.5 3z"/><path class="c66" d="M360.6 198.2l1.4-3.3-0.3-0.1-1.4 3.3z"/><path class="c14" d="M353.2 230l0.3-1.3-0.3 3-0.4 1.9z"/><path class="c12" d="M352.9 230.3l0.3-0.3-0.4 3.6-0.2 0.6zM352.6 230.1l0.2 0.3-0.4 3.8-0.2-0.4z"/><path class="c14" d="M352.2 229.1l0.4 1-0.4 3.7-0.4-1.7z"/><path class="c17" d="M351.7 227l0.5 2.1-0.4 3-0.4-3z"/><path class="c21" d="M351.1 223.6l0.6 3.4-0.3 2.1-0.6-4.1z"/><path class="c28" d="M350.4 219.6l0.7 4-0.3 1.4-0.8-4.7z"/><path class="c34" d="M349.6 216.1l0.8 3.5-0.4 0.7-0.8-3.8z"/><path class="c41" d="M348.6 212.5l1 3.6-0.4 0.4-0.9-3.8z"/><path class="c48" d="M347.6 209.1l1 3.4-0.3 0.2-1.1-3.5z"/><path class="c81" d="M337 195.1l1.9 0.8-0.4-0.1-1.8-0.9z"/><path class="c84" d="M335.1 194.6l1.9 0.5-0.3-0.2-2-0.5z"/><path class="c88" d="M330.9 194.5l2.2-0.1-0.4-0.2-2.2 0.1z"/><path class="c89" d="M328.7 194.7l2.2-0.2-0.4-0.2-2.2 0.2z"/><path class="c90" d="M326.3 195.1l2.4-0.4-0.4-0.2-2.3 0.4zM323.9 195.6l2.4-0.5-0.3-0.2-2.5 0.5zM379.9 178.6l2.4-1-0.4-0.3-2.5 1zM377.5 179.7l2.4-1.1-0.5-0.3-2.3 1.1z"/><path class="c89" d="M375.3 180.9l2.2-1.2-0.4-0.3-2.3 1.2z"/><path class="c88" d="M373.1 182.2l2.2-1.3-0.5-0.3-2.1 1.3z"/><path class="c86" d="M371.1 183.7l2-1.5-0.4-0.3-2.1 1.5z"/><path class="c84" d="M369.1 185.3l2-1.6-0.5-0.3-1.9 1.7z"/><path class="c82" d="M367.3 187.3l1.8-2-0.4-0.2-1.8 2z"/><path class="c79" d="M365.6 189.5l1.7-2.2-0.4-0.2-1.8 2.3z"/><path class="c75" d="M364 192.1l1.6-2.6-0.5-0.1-1.6 2.5z"/><path class="c71" d="M362.5 195l1.5-2.9-0.5-0.2-1.5 3z"/><path class="c66" d="M361.1 198.2l1.4-3.2-0.5-0.1-1.4 3.3z"/><path class="c21" d="M354 224.7l0.4-1.8-0.4 3.3-0.5 2.5z"/><path class="c19" d="M353.6 225.5l0.4-0.8-0.5 4-0.3 1.3zM353.4 225.8l0.2-0.3-0.4 4.5-0.3 0.3z"/><path class="c18" d="M353.3 225.8l0.1 0-0.5 4.5 0 0.1z"/><path class="c19" d="M353 225.7l0.2 0.2-0.4 4.5-0.2-0.3zM352.7 225.1l0.3 0.6-0.4 4.4-0.4-1z"/><path class="c21" d="M352.2 223.7l0.5 1.4-0.5 4-0.5-2.1z"/><path class="c25" d="M351.6 221.1l0.6 2.6-0.5 3.3-0.6-3.4z"/><path class="c30" d="M350.9 218.3l0.7 2.8-0.5 2.5-0.7-4z"/><path class="c36" d="M350 215.3l0.9 3-0.5 1.3-0.8-3.5z"/><path class="c42" d="M349.1 212l0.9 3.3-0.4 0.8-1-3.6z"/><path class="c49" d="M348 208.8l1.1 3.2-0.5 0.5-1-3.4z"/><path class="c84" d="M335.5 194.9l2 0.4-0.5-0.2-1.9-0.5z"/><path class="c86" d="M333.5 194.7l2 0.2-0.4-0.3-2-0.2z"/><path class="c88" d="M331.4 194.7l2.1 0-0.4-0.3-2.2 0.1z"/><path class="c89" d="M329.1 194.9l2.3-0.2-0.5-0.2-2.2 0.2z"/><path class="c90" d="M326.8 195.3l2.3-0.4-0.4-0.2-2.4 0.4zM324.3 195.9l2.5-0.6-0.5-0.2-2.4 0.5zM380.4 178.9l2.5-1-0.6-0.3-2.4 1zM378.1 180l2.3-1.1-0.5-0.3-2.4 1.1z"/><path class="c89" d="M375.8 181.1l2.3-1.1-0.6-0.3-2.2 1.2z"/><path class="c88" d="M373.7 182.5l2.1-1.4-0.5-0.2-2.2 1.3z"/><path class="c86" d="M371.6 183.9l2.1-1.4-0.6-0.3-2 1.5z"/><path class="c84" d="M369.7 185.6l1.9-1.7-0.5-0.2-2 1.6z"/><path class="c82" d="M367.9 187.5l1.8-1.9-0.6-0.3-1.8 2z"/><path class="c79" d="M366.1 189.7l1.8-2.2-0.6-0.2-1.7 2.2z"/><path class="c75" d="M364.5 192.2l1.6-2.5-0.5-0.2-1.6 2.6z"/><path class="c71" d="M363 195l1.5-2.8-0.5-0.1-1.5 2.9z"/><path class="c66" d="M361.6 198.1l1.4-3.1-0.5 0-1.4 3.2z"/><path class="c39" d="M356.3 214.9l0.8-3-0.5 1.3-0.8 3.6z"/><path class="c34" d="M355.6 217.3l0.7-2.4-0.5 1.9-0.8 3.2z"/><path class="c30" d="M355 219l0.6-1.7-0.6 2.7-0.6 2.9z"/><path class="c28" d="M354.5 220l0.5-1-0.6 3.9-0.4 1.8z"/><path class="c26" d="M354.2 220.6l0.3-0.6-0.5 4.7-0.4 0.8zM353.9 220.8l0.3-0.2-0.6 4.9-0.2 0.3zM353.9 220.9l0-0.1-0.5 5-0.1 0zM353.6 220.8l0.2 0.1-0.6 5-0.2-0.2zM353.2 220.5l0.4 0.3-0.6 4.9-0.3-0.6z"/><path class="c28" d="M352.7 219.7l0.5 0.8-0.5 4.6-0.5-1.4z"/><path class="c30" d="M352.1 218.4l0.6 1.3-0.5 4-0.6-2.6z"/><path class="c34" d="M351.4 216.4l0.7 2-0.5 2.7-0.7-2.8z"/><path class="c39" d="M350.6 213.9l0.8 2.5-0.5 1.9-0.9-3z"/><path class="c44" d="M349.6 211.2l1 2.7-0.6 1.4-0.9-3.3z"/><path class="c50" d="M348.5 208.3l1.1 2.9-0.5 0.8-1.1-3.2z"/><path class="c84" d="M336.1 195.1l1.9 0.5-0.5-0.3-2-0.4z"/><path class="c86" d="M334 195l2.1 0.1-0.6-0.2-2-0.2z"/><path class="c89" d="M329.7 195.2l2.2-0.2-0.5-0.3-2.3 0.2z"/><path class="c90" d="M327.3 195.6l2.4-0.4-0.6-0.3-2.3 0.4zM324.9 196.2l2.4-0.6-0.5-0.3-2.5 0.6zM381 179.2l2.5-1-0.6-0.3-2.5 1zM378.7 180.3l2.3-1.1-0.6-0.3-2.3 1.1z"/><path class="c89" d="M376.4 181.5l2.3-1.2-0.6-0.3-2.3 1.1z"/><path class="c88" d="M374.3 182.8l2.1-1.3-0.6-0.4-2.1 1.4z"/><path class="c86" d="M372.3 184.2l2-1.4-0.6-0.3-2.1 1.4z"/><path class="c84" d="M370.3 185.9l2-1.7-0.7-0.3-1.9 1.7z"/><path class="c82" d="M368.5 187.7l1.8-1.8-0.6-0.3-1.8 1.9z"/><path class="c79" d="M366.8 189.8l1.7-2.1-0.6-0.2-1.8 2.2z"/><path class="c76" d="M365.2 192.2l1.6-2.4-0.7-0.1-1.6 2.5z"/><path class="c72" d="M363.7 194.9l1.5-2.7-0.7 0-1.5 2.8z"/><path class="c67" d="M362.3 197.8l1.4-2.9-0.7 0.1-1.4 3.1z"/><path class="c43" d="M356.9 212.5l0.9-2.4-0.7 1.8-0.8 3z"/><path class="c39" d="M356.2 214.4l0.7-1.9-0.6 2.4-0.7 2.4z"/><path class="c36" d="M355.6 215.6l0.6-1.2-0.6 2.9-0.6 1.7z"/><path class="c34" d="M355.1 216.3l0.5-0.7-0.6 3.4-0.5 1z"/><path class="c33" d="M354.8 216.7l0.3-0.4-0.6 3.7-0.3 0.6zM354.6 216.8l0.2-0.1-0.6 3.9-0.3 0.2zM354.2 216.9l0.2 0-0.6 4-0.2-0.1zM353.8 216.8l0.4 0.1-0.6 3.9-0.4-0.3z"/><path class="c34" d="M353.3 216.3l0.5 0.5-0.6 3.7-0.5-0.8z"/><path class="c36" d="M352.7 215.4l0.6 0.9-0.6 3.4-0.6-1.3z"/><path class="c39" d="M352 214l0.7 1.4-0.6 3-0.7-2z"/><path class="c43" d="M351.2 212.1l0.8 1.9-0.6 2.4-0.8-2.5z"/><path class="c47" d="M350.2 209.9l1 2.2-0.6 1.8-1-2.7z"/><path class="c52" d="M349.2 207.4l1 2.5-0.6 1.3-1.1-2.9z"/><path class="c84" d="M336.7 195.4l2 0.4-0.7-0.2-1.9-0.5z"/><path class="c86" d="M334.7 195.3l2 0.1-0.6-0.3-2.1-0.1z"/><path class="c88" d="M332.5 195.3l2.2 0-0.7-0.3-2.1 0z"/><path class="c89" d="M330.3 195.6l2.2-0.3-0.6-0.3-2.2 0.2z"/><path class="c90" d="M327.9 196l2.4-0.4-0.6-0.4-2.4 0.4zM325.5 196.5l2.4-0.5-0.6-0.4-2.4 0.6zM381.8 179.6l2.4-1-0.7-0.4-2.5 1zM379.4 180.7l2.4-1.1-0.8-0.4-2.3 1.1z"/><path class="c89" d="M377.2 181.8l2.2-1.1-0.7-0.4-2.3 1.2z"/><path class="c88" d="M375 183.1l2.2-1.3-0.8-0.3-2.1 1.3z"/><path class="c86" d="M373 184.5l2-1.4-0.7-0.3-2 1.4z"/><path class="c84" d="M371 186.1l2-1.6-0.7-0.3-2 1.7z"/><path class="c82" d="M369.2 187.9l1.8-1.8-0.7-0.2-1.8 1.8z"/><path class="c79" d="M367.5 190l1.7-2.1-0.7-0.2-1.7 2.1z"/><path class="c76" d="M365.9 192.2l1.6-2.2-0.7-0.2-1.6 2.4z"/><path class="c73" d="M364.4 194.7l1.5-2.5-0.7 0-1.5 2.7z"/><path class="c68" d="M363 197.4l1.4-2.7-0.7 0.2-1.4 2.9z"/><path class="c51" d="M358.5 207.9l0.9-2.3-0.7 1.6-0.9 2.9z"/><path class="c47" d="M357.7 209.8l0.8-1.9-0.7 2.2-0.9 2.4z"/><path class="c44" d="M356.9 211.2l0.8-1.4-0.8 2.7-0.7 1.9z"/><path class="c42" d="M356.3 212.2l0.6-1-0.7 3.2-0.6 1.2z"/><path class="c41" d="M355.9 212.7l0.4-0.5-0.7 3.4-0.5 0.7z"/><path class="c40" d="M355.5 213l0.4-0.3-0.8 3.6-0.3 0.4zM355.3 213.1l0.2-0.1-0.7 3.7-0.2 0.1zM354.9 213.2l0.2-0.1-0.7 3.8-0.2 0zM354.5 213.1l0.4 0.1-0.7 3.7-0.4-0.1z"/><path class="c41" d="M354.1 212.9l0.4 0.2-0.7 3.7-0.5-0.5z"/><path class="c42" d="M353.5 212.3l0.6 0.6-0.8 3.4-0.6-0.9z"/><path class="c44" d="M352.7 211.4l0.8 0.9-0.8 3.1-0.7-1.4z"/><path class="c47" d="M351.9 210l0.8 1.4-0.7 2.6-0.8-1.9z"/><path class="c51" d="M351 208.2l0.9 1.8-0.7 2.1-1-2.2z"/><path class="c55" d="M349.9 206.3l1.1 1.9-0.8 1.7-1-2.5z"/><path class="c82" d="M339.4 196.1l1.8 0.7-0.7-0.2-1.8-0.8z"/><path class="c84" d="M337.4 195.7l2 0.4-0.7-0.3-2-0.4z"/><path class="c86" d="M335.4 195.6l2 0.1-0.7-0.3-2-0.1z"/><path class="c88" d="M333.3 195.7l2.1-0.1-0.7-0.3-2.2 0z"/><path class="c89" d="M331 196l2.3-0.3-0.8-0.4-2.2 0.3z"/><path class="c90" d="M328.7 196.4l2.3-0.4-0.7-0.4-2.4 0.4zM326.2 196.9l2.5-0.5-0.8-0.4-2.4 0.5zM382.6 180l2.4-1-0.8-0.4-2.4 1zM380.2 181.1l2.4-1.1-0.8-0.4-2.4 1.1z"/><path class="c89" d="M378 182.2l2.2-1.1-0.8-0.4-2.2 1.1z"/><path class="c88" d="M375.8 183.5l2.2-1.3-0.8-0.4-2.2 1.3z"/><path class="c87" d="M373.8 184.9l2-1.4-0.8-0.4-2 1.4z"/><path class="c85" d="M371.8 186.4l2-1.5-0.8-0.4-2 1.6z"/><path class="c83" d="M370 188.1l1.8-1.7-0.8-0.3-1.8 1.8z"/><path class="c80" d="M368.3 190l1.7-1.9-0.8-0.2-1.7 2.1z"/><path class="c77" d="M366.7 192.1l1.6-2.1-0.8 0-1.6 2.2z"/><path class="c74" d="M365.2 194.4l1.5-2.3-0.8 0.1-1.5 2.5z"/><path class="c70" d="M363.8 196.8l1.4-2.4-0.8 0.3-1.4 2.7z"/><path class="c55" d="M359.3 205.6l1-1.9-0.9 1.9-0.9 2.3z"/><path class="c52" d="M358.5 207.1l0.8-1.5-0.8 2.3-0.8 1.9z"/><path class="c50" d="M357.7 208.1l0.8-1-0.8 2.7-0.8 1.4z"/><path class="c49" d="M357.1 208.8l0.6-0.7-0.8 3.1-0.6 1z"/><path class="c48" d="M356.7 209.3l0.4-0.5-0.8 3.4-0.4 0.5z"/><path class="c47" d="M356.3 209.5l0.4-0.2-0.8 3.4-0.4 0.3zM356.1 209.6l0.2-0.1-0.8 3.5-0.2 0.1zM355.9 209.6l0.1 0-0.8 3.5-0.1 0zM355.7 209.7l0.2-0.1-0.8 3.5-0.2 0.1zM355.3 209.7l0.4 0-0.8 3.5-0.4-0.1z"/><path class="c48" d="M354.9 209.6l0.4 0.1-0.8 3.4-0.4-0.2z"/><path class="c49" d="M354.3 209.2l0.6 0.4-0.8 3.3-0.6-0.6z"/><path class="c50" d="M353.6 208.6l0.7 0.6-0.8 3.1-0.8-0.9z"/><path class="c52" d="M352.7 207.7l0.9 0.9-0.9 2.8-0.8-1.4z"/><path class="c55" d="M351.8 206.4l0.9 1.3-0.8 2.3-0.9-1.8z"/><path class="c83" d="M340.2 196.4l1.8 0.6-0.8-0.2-1.8-0.7z"/><path class="c85" d="M338.2 196.1l2 0.3-0.8-0.3-2-0.4z"/><path class="c87" d="M336.2 196l2 0.1-0.8-0.4-2-0.1z"/><path class="c88" d="M334.1 196.1l2.1-0.1-0.8-0.4-2.1 0.1z"/><path class="c89" d="M331.8 196.4l2.3-0.3-0.8-0.4-2.3 0.3z"/><path class="c90" d="M329.5 196.8l2.3-0.4-0.8-0.4-2.3 0.4zM327 197.3l2.5-0.5-0.8-0.4-2.5 0.5zM383.4 180.5l2.5-1-0.9-0.5-2.4 1zM381.1 181.6l2.3-1.1-0.8-0.5-2.4 1.1z"/><path class="c89" d="M378.8 182.7l2.3-1.1-0.9-0.5-2.2 1.1z"/><path class="c88" d="M376.7 183.9l2.1-1.2-0.8-0.5-2.2 1.3z"/><path class="c87" d="M374.7 185.2l2-1.3-0.9-0.4-2 1.4z"/><path class="c85" d="M372.7 186.7l2-1.5-0.9-0.3-2 1.5z"/><path class="c83" d="M370.9 188.3l1.8-1.6-0.9-0.3-1.8 1.7z"/><path class="c81" d="M369.2 190.1l1.7-1.8-0.9-0.2-1.7 1.9z"/><path class="c78" d="M367.6 192l1.6-1.9-0.9-0.1-1.6 2.1z"/><path class="c75" d="M366.1 194l1.5-2-0.9 0.1-1.5 2.3z"/><path class="c72" d="M364.7 196.1l1.4-2.1-0.9 0.4-1.4 2.4z"/><path class="c56" d="M358.6 205.2l0.8-0.8-0.9 2.7-0.8 1z"/><path class="c55" d="M358 205.8l0.6-0.6-0.9 2.9-0.6 0.7z"/><path class="c54" d="M357.6 206.1l0.4-0.3-0.9 3-0.4 0.5zM357.2 206.3l0.4-0.2-0.9 3.2-0.4 0.2zM357 206.4l0.2-0.1-0.9 3.2-0.2 0.1zM356.8 206.5l0.1-0.1-0.9 3.2-0.1 0zM356.6 206.5l0.2 0-0.9 3.1-0.2 0.1zM356.2 206.5l0.4 0-0.9 3.2-0.4 0zM355.8 206.5l0.4 0-0.9 3.2-0.4-0.1z"/><path class="c55" d="M355.2 206.3l0.6 0.2-0.9 3.1-0.6-0.4z"/><path class="c56" d="M354.4 206l0.8 0.3-0.9 2.9-0.7-0.6z"/><path class="c57" d="M353.6 205.4l0.8 0.6-0.8 2.6-0.9-0.9z"/><path class="c85" d="M339.1 196.4l2 0.3-0.9-0.3-2-0.3z"/><path class="c87" d="M337.1 196.4l2 0-0.9-0.3-2-0.1z"/><path class="c88" d="M334.9 196.5l2.2-0.1-0.9-0.4-2.1 0.1z"/><path class="c89" d="M332.7 196.8l2.2-0.3-0.8-0.4-2.3 0.3z"/><path class="c90" d="M330.3 197.3l2.4-0.5-0.9-0.4-2.3 0.4zM327.9 197.8l2.4-0.5-0.8-0.5-2.5 0.5z"/><path class="c91" d="M384.4 181l2.5-1-1-0.5-2.5 1z"/><path class="c90" d="M382.1 182.1l2.3-1.1-1-0.5-2.3 1.1z"/><path class="c89" d="M379.8 183.1l2.3-1-1-0.5-2.3 1.1zM377.7 184.3l2.1-1.2-1-0.4-2.1 1.2z"/><path class="c87" d="M375.6 185.6l2.1-1.3-1-0.4-2 1.3z"/><path class="c86" d="M373.7 186.9l1.9-1.3-0.9-0.4-2 1.5z"/><path class="c84" d="M371.9 188.4l1.8-1.5-1-0.2-1.8 1.6z"/><path class="c82" d="M370.2 190.1l1.7-1.7-1-0.1-1.7 1.8z"/><path class="c79" d="M368.5 191.8l1.7-1.7-1 0-1.6 1.9z"/><path class="c77" d="M367 193.5l1.5-1.7-0.9 0.2-1.5 2z"/><path class="c74" d="M365.6 195.3l1.4-1.8-0.9 0.5-1.4 2.1z"/><path class="c71" d="M364.4 197l1.2-1.7-0.9 0.8-1.3 2z"/><path class="c84" d="M342 196.9l1.9 0.4-1-0.2-1.8-0.4z"/><path class="c86" d="M340.1 196.8l1.9 0.1-0.9-0.2-2-0.3z"/><path class="c87" d="M338.1 196.8l2 0-1-0.4-2 0z"/><path class="c89" d="M335.9 197l2.2-0.2-1-0.4-2.2 0.1zM333.7 197.3l2.2-0.3-1-0.5-2.2 0.3z"/><path class="c90" d="M331.3 197.8l2.4-0.5-1-0.5-2.4 0.5z"/><path class="c91" d="M328.9 198.3l2.4-0.5-1-0.5-2.4 0.5zM385.5 181.6l2.4-1-1-0.6-2.5 1z"/><path class="c90" d="M383.1 182.6l2.4-1-1.1-0.6-2.3 1.1zM380.9 183.6l2.2-1-1-0.5-2.3 1z"/><path class="c89" d="M378.7 184.7l2.2-1.1-1.1-0.5-2.1 1.2z"/><path class="c88" d="M376.7 185.9l2-1.2-1-0.4-2.1 1.3z"/><path class="c86" d="M374.8 187.2l1.9-1.3-1.1-0.3-1.9 1.3z"/><path class="c84" d="M372.9 188.6l1.9-1.4-1.1-0.3-1.8 1.5z"/><path class="c82" d="M371.2 190l1.7-1.4-1-0.2-1.7 1.7z"/><path class="c80" d="M369.6 191.5l1.6-1.5-1 0.1-1.7 1.7z"/><path class="c78" d="M368.1 193.1l1.5-1.6-1.1 0.3-1.5 1.7z"/><path class="c76" d="M366.7 194.6l1.4-1.5-1.1 0.4-1.4 1.8z"/><path class="c74" d="M365.4 196l1.3-1.4-1.1 0.7-1.2 1.7z"/><path class="c82" d="M344.9 197.4l1.7 0.4-1 0-1.7-0.5z"/><path class="c84" d="M343.1 197.2l1.8 0.2-1-0.1-1.9-0.4z"/><path class="c86" d="M341.2 197.2l1.9 0-1.1-0.3-1.9-0.1z"/><path class="c88" d="M339.1 197.2l2.1 0-1.1-0.4-2 0z"/><path class="c89" d="M337 197.5l2.1-0.3-1-0.4-2.2 0.2z"/><path class="c90" d="M334.7 197.9l2.3-0.4-1.1-0.5-2.2 0.3zM332.4 198.3l2.3-0.4-1-0.6-2.4 0.5z"/><path class="c91" d="M329.9 198.9l2.5-0.6-1.1-0.5-2.4 0.5zM386.6 182.2l2.5-1-1.2-0.6-2.4 1z"/><path class="c90" d="M384.3 183.1l2.3-0.9-1.1-0.6-2.4 1zM382 184.2l2.3-1.1-1.2-0.5-2.2 1z"/><path class="c89" d="M379.9 185.2l2.1-1-1.1-0.6-2.2 1.1z"/><path class="c88" d="M377.8 186.3l2.1-1.1-1.2-0.5-2 1.2z"/><path class="c87" d="M375.9 187.5l1.9-1.2-1.1-0.4-1.9 1.3z"/><path class="c85" d="M374.1 188.8l1.8-1.3-1.1-0.3-1.9 1.4z"/><path class="c84" d="M372.3 190.1l1.8-1.3-1.2-0.2-1.7 1.4z"/><path class="c82" d="M370.7 191.4l1.6-1.3-1.1-0.1-1.6 1.5z"/><path class="c80" d="M369.2 192.7l1.5-1.3-1.1 0.1-1.5 1.6z"/><path class="c78" d="M367.8 193.9l1.4-1.2-1.1 0.4-1.4 1.5z"/><path class="c77" d="M366.5 195.1l1.3-1.2-1.1 0.7-1.3 1.4z"/><path class="c85" d="M344.2 197.5l1.9 0.1-1.2-0.2-1.8-0.2z"/><path class="c87" d="M342.3 197.6l1.9-0.1-1.1-0.3-1.9 0z"/><path class="c88" d="M340.3 197.7l2-0.1-1.1-0.4-2.1 0z"/><path class="c89" d="M338.1 198l2.2-0.3-1.2-0.5-2.1 0.3z"/><path class="c90" d="M335.9 198.4l2.2-0.4-1.1-0.5-2.3 0.4zM333.5 198.9l2.4-0.5-1.2-0.5-2.3 0.4z"/><path class="c91" d="M331.1 199.5l2.4-0.6-1.1-0.6-2.5 0.6zM387.8 182.8l2.5-0.9-1.2-0.7-2.5 1z"/><path class="c90" d="M385.5 183.8l2.3-1-1.2-0.6-2.3 0.9zM383.2 184.7l2.3-0.9-1.2-0.7-2.3 1.1z"/><path class="c89" d="M381.1 185.7l2.1-1-1.2-0.5-2.1 1z"/><path class="c88" d="M379 186.8l2.1-1.1-1.2-0.5-2.1 1.1z"/><path class="c87" d="M377.1 187.9l1.9-1.1-1.2-0.5-1.9 1.2z"/><path class="c86" d="M375.3 189l1.8-1.1-1.2-0.4-1.8 1.3z"/><path class="c85" d="M373.6 190.1l1.7-1.1-1.2-0.2-1.8 1.3z"/><path class="c83" d="M372 191.3l1.6-1.2-1.3 0-1.6 1.3z"/><path class="c82" d="M370.4 192.4l1.6-1.1-1.3 0.1-1.5 1.3z"/><path class="c80" d="M369 193.4l1.4-1-1.2 0.3-1.4 1.2z"/><path class="c79" d="M367.8 194.4l1.2-1-1.2 0.5-1.3 1.2z"/><path class="c85" d="M347.3 197.8l1.7 0.1-1.2-0.1-1.7-0.2z"/><path class="c86" d="M345.4 197.9l1.9-0.1-1.2-0.2-1.9-0.1z"/><path class="c87" d="M343.5 198l1.9-0.1-1.2-0.4-1.9 0.1z"/><path class="c88" d="M341.5 198.2l2-0.2-1.2-0.4-2 0.1z"/><path class="c89" d="M339.3 198.6l2.2-0.4-1.2-0.5-2.2 0.3z"/><path class="c90" d="M337.1 199l2.2-0.4-1.2-0.6-2.2 0.4zM334.7 199.6l2.4-0.6-1.2-0.6-2.4 0.5z"/><path class="c91" d="M332.3 200.2l2.4-0.6-1.2-0.7-2.4 0.6zM389.1 183.5l2.5-0.9-1.3-0.7-2.5 0.9z"/><path class="c90" d="M386.8 184.4l2.3-0.9-1.3-0.7-2.3 1zM384.5 185.3l2.3-0.9-1.3-0.6-2.3 0.9zM382.4 186.3l2.1-1-1.3-0.6-2.1 1z"/><path class="c89" d="M380.3 187.3l2.1-1-1.3-0.6-2.1 1.1z"/><path class="c88" d="M378.4 188.2l1.9-0.9-1.3-0.5-1.9 1.1z"/><path class="c87" d="M376.6 189.3l1.8-1.1-1.3-0.3-1.8 1.1z"/><path class="c86" d="M374.9 190.3l1.7-1-1.3-0.3-1.7 1.1z"/><path class="c85" d="M373.3 191.2l1.6-0.9-1.3-0.2-1.6 1.2z"/><path class="c84" d="M371.7 192.2l1.6-1-1.3 0.1-1.6 1.1z"/><path class="c82" d="M370.3 193.1l1.4-0.9-1.3 0.2-1.4 1zM369.1 193.9l1.2-0.8-1.3 0.3-1.2 1z"/><path class="c81" d="M367.9 194.6l1.2-0.7-1.3 0.5-1.2 0.8z"/><path class="c80" d="M366.8 195.2l1.1-0.6-1.3 0.6-1.1 0.7z"/><path class="c85" d="M350.3 198l1.6 0-1.3 0-1.6-0.1z"/><path class="c86" d="M348.6 198.1l1.7-0.1-1.3-0.1-1.7-0.1z"/><path class="c87" d="M346.7 198.2l1.9-0.1-1.3-0.3-1.9 0.1z"/><path class="c88" d="M344.8 198.5l1.9-0.3-1.3-0.3-1.9 0.1z"/><path class="c89" d="M342.8 198.8l2-0.3-1.3-0.5-2 0.2z"/><path class="c90" d="M340.6 199.2l2.2-0.4-1.3-0.6-2.2 0.4zM338.4 199.7l2.2-0.5-1.3-0.6-2.2 0.4zM336 200.2l2.4-0.5-1.3-0.7-2.4 0.6z"/><path class="c91" d="M333.6 200.9l2.4-0.7-1.3-0.6-2.4 0.6zM390.5 184.2l2.5-0.9-1.4-0.7-2.5 0.9zM388.2 185.1l2.3-0.9-1.4-0.7-2.3 0.9z"/><path class="c90" d="M385.9 186l2.3-0.9-1.4-0.7-2.3 0.9zM383.8 186.9l2.1-0.9-1.4-0.7-2.1 1z"/><path class="c89" d="M381.7 187.8l2.1-0.9-1.4-0.6-2.1 1zM379.8 188.7l1.9-0.9-1.4-0.5-1.9 0.9z"/><path class="c88" d="M378 189.6l1.8-0.9-1.4-0.5-1.8 1.1z"/><path class="c87" d="M376.2 190.5l1.8-0.9-1.4-0.3-1.7 1z"/><path class="c86" d="M374.6 191.4l1.6-0.9-1.3-0.2-1.6 0.9z"/><path class="c85" d="M373.1 192.2l1.5-0.8-1.3-0.2-1.6 1z"/><path class="c84" d="M371.7 192.9l1.4-0.7-1.4 0-1.4 0.9zM370.4 193.6l1.3-0.7-1.4 0.2-1.2 0.8z"/><path class="c83" d="M369.3 194.2l1.1-0.6-1.3 0.3-1.2 0.7zM368.2 194.7l1.1-0.5-1.4 0.4-1.1 0.6z"/><path class="c82" d="M367.3 195.2l0.9-0.5-1.4 0.5-0.9 0.5zM366.4 195.5l0.9-0.3-1.4 0.5-0.9 0.4zM365.7 195.8l0.7-0.3-1.4 0.6-0.7 0.3zM365.1 196l0.6-0.2-1.4 0.6-0.6 0.2zM361.5 197.1l0.7-0.2-1.4 0.6-0.7 0.1zM359.7 197.4l1-0.2-1.4 0.5-1 0.1z"/><path class="c85" d="M353.3 198.1l1.5-0.1-1.4 0-1.5 0z"/><path class="c86" d="M351.7 198.2l1.6-0.1-1.4-0.1-1.6 0z"/><path class="c87" d="M350 198.4l1.7-0.2-1.4-0.2-1.7 0.1z"/><path class="c88" d="M348.1 198.7l1.9-0.3-1.4-0.3-1.9 0.1z"/><path class="c89" d="M346.2 199l1.9-0.3-1.4-0.5-1.9 0.3zM344.2 199.4l2-0.4-1.4-0.5-2 0.3z"/><path class="c90" d="M342 199.8l2.2-0.4-1.4-0.6-2.2 0.4zM339.8 200.4l2.2-0.6-1.4-0.6-2.2 0.5z"/><path class="c91" d="M337.4 201l2.4-0.6-1.4-0.7-2.4 0.5zM335 201.6l2.4-0.6-1.4-0.8-2.4 0.7zM392 185l2.4-0.9-1.4-0.8-2.5 0.9zM389.6 185.8l2.4-0.8-1.5-0.8-2.3 0.9z"/><path class="c90" d="M387.4 186.7l2.2-0.9-1.4-0.7-2.3 0.9zM385.2 187.5l2.2-0.8-1.5-0.7-2.1 0.9zM383.2 188.4l2-0.9-1.4-0.6-2.1 0.9z"/><path class="c89" d="M381.3 189.2l1.9-0.8-1.5-0.6-1.9 0.9zM379.4 190l1.9-0.8-1.5-0.5-1.8 0.9z"/><path class="c88" d="M377.7 190.8l1.7-0.8-1.4-0.4-1.8 0.9z"/><path class="c87" d="M376.1 191.6l1.6-0.8-1.5-0.3-1.6 0.9zM374.6 192.3l1.5-0.7-1.5-0.2-1.5 0.8z"/><path class="c86" d="M373.2 193l1.4-0.7-1.5-0.1-1.4 0.7zM371.9 193.6l1.3-0.6-1.5-0.1-1.3 0.7z"/><path class="c85" d="M370.7 194.1l1.2-0.5-1.5 0-1.1 0.6zM369.7 194.6l1-0.5-1.4 0.1-1.1 0.5z"/><path class="c84" d="M368.7 194.9l1-0.3-1.5 0.1-0.9 0.5zM367.9 195.3l0.8-0.4-1.4 0.3-0.9 0.3zM367.2 195.5l0.7-0.2-1.5 0.2-0.7 0.3zM366.6 195.8l0.6-0.3-1.5 0.3-0.6 0.2zM365.3 196.2l0.1-0.1-1.4 0.3-0.1 0zM364.3 196.5l0.5-0.2-1.5 0.3-0.5 0.1zM363 196.8l0.7-0.2-1.5 0.3-0.7 0.2zM362.1 197l0.9-0.2-1.5 0.3-0.8 0.1z"/><path class="c85" d="M360.1 197.4l1.1-0.2-1.5 0.2-1 0.1z"/><path class="c86" d="M357.6 197.9l1.3-0.2-1.4 0-1.3 0.1zM356.3 198.1l1.3-0.2-1.4-0.1-1.4 0.2z"/><path class="c87" d="M354.7 198.3l1.6-0.2-1.5-0.1-1.5 0.1zM353.1 198.6l1.6-0.3-1.4-0.2-1.6 0.1z"/><path class="c88" d="M351.4 198.9l1.7-0.3-1.4-0.4-1.7 0.2z"/><path class="c89" d="M349.6 199.2l1.8-0.3-1.4-0.5-1.9 0.3zM347.6 199.6l2-0.4-1.5-0.5-1.9 0.3z"/><path class="c90" d="M345.6 200l2-0.4-1.4-0.6-2 0.4zM343.5 200.5l2.1-0.5-1.4-0.6-2.2 0.4zM341.2 201.1l2.3-0.6-1.5-0.7-2.2 0.6z"/><path class="c91" d="M338.9 201.7l2.3-0.6-1.4-0.7-2.4 0.6zM336.4 202.4l2.5-0.7-1.5-0.7-2.4 0.6zM393.5 185.8l2.5-0.9-1.6-0.8-2.4 0.9zM391.2 186.6l2.3-0.8-1.5-0.8-2.4 0.8zM388.9 187.4l2.3-0.8-1.6-0.8-2.2 0.9z"/><path class="c90" d="M386.8 188.2l2.1-0.8-1.5-0.7-2.2 0.8zM384.7 189l2.1-0.8-1.6-0.7-2 0.9zM382.8 189.8l1.9-0.8-1.5-0.6-1.9 0.8z"/><path class="c89" d="M381 190.6l1.8-0.8-1.5-0.6-1.9 0.8zM379.2 191.3l1.8-0.7-1.6-0.6-1.7 0.8z"/><path class="c88" d="M377.6 192l1.6-0.7-1.5-0.5-1.6 0.8zM376.1 192.6l1.5-0.6-1.5-0.4-1.5 0.7zM374.7 193.2l1.4-0.6-1.5-0.3-1.4 0.7z"/><path class="c87" d="M373.4 193.8l1.3-0.6-1.5-0.2-1.3 0.6zM372.3 194.2l1.1-0.4-1.5-0.2-1.2 0.5zM371.2 194.7l1.1-0.5-1.6-0.1-1 0.5z"/><path class="c86" d="M370.2 195l1-0.3-1.5-0.1-1 0.3zM369.4 195.3l0.8-0.3-1.5-0.1-0.8 0.4zM368.7 195.6l0.7-0.3-1.5 0-0.7 0.2zM368.1 195.8l0.6-0.2-1.5-0.1-0.6 0.3zM367.3 196l0.3-0.1-1.5 0-0.4 0.1zM366.3 196.3l0.4-0.1-1.6 0-0.3 0.1zM365.8 196.5l0.5-0.2-1.5 0-0.5 0.2zM364.5 196.9l0.7-0.2-1.5-0.1-0.7 0.2zM363.7 197.1l0.8-0.2-1.5-0.1-0.9 0.2z"/><path class="c87" d="M361.7 197.6l1-0.3-1.5-0.1-1.1 0.2zM360.5 197.8l1.2-0.2-1.6-0.2-1.2 0.3zM359.2 198.1l1.3-0.3-1.6-0.1-1.3 0.2z"/><path class="c88" d="M357.8 198.4l1.4-0.3-1.6-0.2-1.3 0.2zM356.3 198.7l1.5-0.3-1.5-0.3-1.6 0.2zM354.7 199.1l1.6-0.4-1.6-0.4-1.6 0.3z"/><path class="c89" d="M352.9 199.4l1.8-0.3-1.6-0.5-1.7 0.3zM351.1 199.8l1.8-0.4-1.5-0.5-1.8 0.3z"/><path class="c90" d="M349.2 200.3l1.9-0.5-1.5-0.6-2 0.4zM347.2 200.7l2-0.4-1.6-0.7-2 0.4zM345 201.3l2.2-0.6-1.6-0.7-2.1 0.5z"/><path class="c91" d="M342.8 201.9l2.2-0.6-1.5-0.8-2.3 0.6zM340.4 202.5l2.4-0.6-1.6-0.8-2.3 0.6zM338 203.2l2.4-0.7-1.5-0.8-2.5 0.7zM395.1 186.6l2.5-0.8-1.6-0.9-2.5 0.9zM392.8 187.4l2.3-0.8-1.6-0.8-2.3 0.8zM390.5 188.2l2.3-0.8-1.6-0.8-2.3 0.8zM388.4 189l2.1-0.8-1.6-0.8-2.1 0.8z"/><path class="c90" d="M386.3 189.8l2.1-0.8-1.6-0.8-2.1 0.8zM384.4 190.5l1.9-0.7-1.6-0.8-1.9 0.8zM382.6 191.2l1.8-0.7-1.6-0.7-1.8 0.8zM380.9 191.9l1.7-0.7-1.6-0.6-1.8 0.7z"/><path class="c89" d="M379.2 192.5l1.7-0.6-1.7-0.6-1.6 0.7zM377.7 193.1l1.5-0.6-1.6-0.5-1.5 0.6zM376.3 193.6l1.4-0.5-1.6-0.5-1.4 0.6zM375.1 194.1l1.2-0.5-1.6-0.4-1.3 0.6z"/><path class="c88" d="M373.9 194.6l1.2-0.5-1.7-0.3-1.1 0.4zM372.8 195l1.1-0.4-1.6-0.4-1.1 0.5zM371.9 195.3l0.9-0.3-1.6-0.3-1 0.3zM371 195.6l0.9-0.3-1.7-0.3-0.8 0.3zM370.3 195.8l0.7-0.2-1.6-0.3-0.7 0.3zM369.7 196l0.6-0.2-1.6-0.2-0.6 0.2zM369.2 196.2l0.5-0.2-1.6-0.2-0.5 0.1zM368.9 196.3l0.3-0.1-1.6-0.3-0.3 0.1zM368.7 196.4l0.2-0.1-1.6-0.3-0.3 0.1zM368.5 196.4l0.1 0-1.6-0.3-0.1 0.1zM368.3 196.5l0.2-0.1-1.6-0.2-0.2 0zM367.9 196.6l0.4-0.1-1.6-0.3-0.4 0.1zM367.4 196.8l0.5-0.2-1.6-0.3-0.5 0.2zM366.8 196.9l0.6-0.1-1.6-0.3-0.6 0.2zM366.1 197.1l0.7-0.2-1.6-0.2-0.7 0.2zM365.3 197.4l0.8-0.3-1.6-0.2-0.8 0.2zM364.3 197.6l1-0.2-1.6-0.3-1 0.2zM363.3 197.9l1-0.3-1.6-0.3-1 0.3zM362.1 198.2l1.2-0.3-1.6-0.3-1.2 0.2z"/><path class="c89" d="M360.8 198.6l1.3-0.4-1.6-0.4-1.3 0.3zM359.4 198.9l1.4-0.3-1.6-0.5-1.4 0.3zM357.9 199.3l1.5-0.4-1.6-0.5-1.5 0.3zM356.3 199.6l1.6-0.3-1.6-0.6-1.6 0.4z"/><path class="c90" d="M354.6 200.1l1.7-0.5-1.6-0.5-1.8 0.3zM352.7 200.5l1.9-0.4-1.7-0.7-1.8 0.4zM350.8 201l1.9-0.5-1.6-0.7-1.9 0.5zM348.8 201.5l2-0.5-1.6-0.7-2 0.4z"/><path class="c91" d="M346.6 202.1l2.2-0.6-1.6-0.8-2.2 0.6zM344.4 202.7l2.2-0.6-1.6-0.8-2.2 0.6zM342 203.4l2.4-0.7-1.6-0.8-2.4 0.6zM339.6 204.1l2.4-0.7-1.6-0.9-2.4 0.7zM396.8 187.5l2.5-0.8-1.7-0.9-2.5 0.8zM394.5 188.3l2.3-0.8-1.7-0.9-2.3 0.8zM392.2 189.1l2.3-0.8-1.7-0.9-2.3 0.8zM390.1 189.9l2.1-0.8-1.7-0.9-2.1 0.8zM388 190.6l2.1-0.7-1.7-0.9-2.1 0.8z"/><path class="c90" d="M386.1 191.3l1.9-0.7-1.7-0.8-1.9 0.7zM384.3 192l1.8-0.7-1.7-0.8-1.8 0.7zM382.6 192.6l1.7-0.6-1.7-0.8-1.7 0.7zM380.9 193.2l1.7-0.6-1.7-0.7-1.7 0.6zM379.4 193.7l1.5-0.5-1.7-0.7-1.5 0.6zM378 194.2l1.4-0.5-1.7-0.6-1.4 0.5z"/><path class="c89" d="M376.8 194.7l1.2-0.5-1.7-0.6-1.2 0.5zM375.6 195.1l1.2-0.4-1.7-0.6-1.2 0.5zM374.5 195.5l1.1-0.4-1.7-0.5-1.1 0.4zM373.6 195.8l0.9-0.3-1.7-0.5-0.9 0.3zM372.7 196.1l0.9-0.3-1.7-0.5-0.9 0.3zM372 196.3l0.7-0.2-1.7-0.5-0.7 0.2zM371.4 196.5l0.6-0.2-1.7-0.5-0.6 0.2zM370.9 196.7l0.5-0.2-1.7-0.5-0.5 0.2zM370.6 196.8l0.3-0.1-1.7-0.5-0.3 0.1zM370.4 196.9l0.2-0.1-1.7-0.5-0.2 0.1zM370.2 196.9l0.1 0-1.7-0.5-0.1 0zM370 197l0.2-0.1-1.7-0.5-0.2 0.1zM369.6 197.1l0.4-0.1-1.7-0.5-0.4 0.1zM369.1 197.2l0.5-0.1-1.7-0.5-0.5 0.2zM368.5 197.4l0.6-0.2-1.7-0.4-0.6 0.1zM367.8 197.6l0.7-0.2-1.7-0.5-0.7 0.2zM367 197.9l0.8-0.3-1.7-0.5-0.8 0.3zM366 198.2l1-0.3-1.7-0.5-1 0.2zM365 198.5l1-0.3-1.7-0.6-1 0.3zM363.8 198.8l1.2-0.3-1.7-0.6-1.2 0.3zM362.5 199.1l1.3-0.3-1.7-0.6-1.3 0.4z"/><path class="c90" d="M361.1 199.5l1.4-0.4-1.7-0.5-1.4 0.3zM359.6 199.9l1.5-0.4-1.7-0.6-1.5 0.4zM358 200.3l1.6-0.4-1.7-0.6-1.6 0.3zM356.3 200.8l1.7-0.5-1.7-0.7-1.7 0.5zM354.4 201.3l1.9-0.5-1.7-0.7-1.9 0.4zM352.5 201.8l1.9-0.5-1.7-0.8-1.9 0.5z"/><path class="c91" d="M350.5 202.4l2-0.6-1.7-0.8-2 0.5zM348.3 203l2.2-0.6-1.7-0.9-2.2 0.6zM346.1 203.6l2.2-0.6-1.7-0.9-2.2 0.6zM343.7 204.3l2.4-0.7-1.7-0.9-2.4 0.7zM341.3 205l2.4-0.7-1.7-0.9-2.4 0.7zM398.6 188.5l2.4-0.8-1.7-1-2.5 0.8zM396.2 189.3l2.4-0.8-1.8-1-2.3 0.8zM394 190l2.2-0.7-1.7-1-2.3 0.8zM391.9 190.8l2.1-0.8-1.8-0.9-2.1 0.8zM389.8 191.5l2.1-0.7-1.8-0.9-2.1 0.7zM387.9 192.1l1.9-0.6-1.8-0.9-1.9 0.7zM386.1 192.8l1.8-0.7-1.8-0.8-1.8 0.7z"/><path class="c90" d="M384.3 193.4l1.8-0.6-1.8-0.8-1.7 0.6zM382.7 193.9l1.6-0.5-1.7-0.8-1.7 0.6zM381.2 194.5l1.5-0.6-1.8-0.7-1.5 0.5zM379.8 195l1.4-0.5-1.8-0.8-1.4 0.5zM378.5 195.4l1.3-0.4-1.8-0.8-1.2 0.5zM377.4 195.8l1.1-0.4-1.7-0.7-1.2 0.4zM376.3 196.1l1.1-0.3-1.8-0.7-1.1 0.4zM375.3 196.5l1-0.4-1.8-0.6-0.9 0.3zM374.5 196.7l0.8-0.2-1.7-0.7-0.9 0.3zM373.8 197l0.7-0.3-1.8-0.6-0.7 0.2zM373.2 197.2l0.6-0.2-1.8-0.7-0.6 0.2zM372.7 197.3l0.5-0.1-1.8-0.7-0.5 0.2zM372.4 197.4l0.3-0.1-1.8-0.6-0.3 0.1zM372.1 197.5l0.3-0.1-1.8-0.6-0.2 0.1zM372 197.6l0-0.1-1.7-0.6-0.1 0zM371.7 197.6l0.3 0-1.8-0.7-0.2 0.1zM371.4 197.7l0.3-0.1-1.7-0.6-0.4 0.1zM370.9 197.9l0.5-0.2-1.8-0.6-0.5 0.1zM370.3 198.1l0.6-0.2-1.8-0.7-0.6 0.2zM369.6 198.3l0.7-0.2-1.8-0.7-0.7 0.2zM368.8 198.5l0.8-0.2-1.8-0.7-0.8 0.3zM367.8 198.8l1-0.3-1.8-0.6-1 0.3zM366.7 199.1l1.1-0.3-1.8-0.6-1 0.3zM365.6 199.5l1.1-0.4-1.7-0.6-1.2 0.3zM364.3 199.9l1.3-0.4-1.8-0.7-1.3 0.3zM362.9 200.3l1.4-0.4-1.8-0.8-1.4 0.4zM361.4 200.7l1.5-0.4-1.8-0.8-1.5 0.4zM359.8 201.1l1.6-0.4-1.8-0.8-1.6 0.4zM358 201.6l1.8-0.5-1.8-0.8-1.7 0.5z"/><path class="c91" d="M356.2 202.1l1.8-0.5-1.7-0.8-1.9 0.5zM354.3 202.7l1.9-0.6-1.8-0.8-1.9 0.5zM352.2 203.3l2.1-0.6-1.8-0.9-2 0.6zM350.1 203.9l2.1-0.6-1.7-0.9-2.2 0.6zM347.9 204.6l2.2-0.7-1.8-0.9-2.2 0.6zM345.5 205.3l2.4-0.7-1.8-1-2.4 0.7zM343 206l2.5-0.7-1.8-1-2.4 0.7zM400.4 189.5l2.5-0.8-1.9-1-2.4 0.8zM398.1 190.3l2.3-0.8-1.8-1-2.4 0.8zM395.8 191l2.3-0.7-1.9-1-2.2 0.7zM393.7 191.7l2.1-0.7-1.8-1-2.1 0.8zM391.7 192.4l2-0.7-1.8-0.9-2.1 0.7zM389.7 193.1l2-0.7-1.9-0.9-1.9 0.6zM387.9 193.7l1.8-0.6-1.8-1-1.8 0.7zM386.2 194.3l1.7-0.6-1.8-0.9-1.8 0.6zM384.6 194.8l1.6-0.5-1.9-0.9-1.6 0.5zM383.1 195.3l1.5-0.5-1.9-0.9-1.5 0.6zM381.7 195.8l1.4-0.5-1.9-0.8-1.4 0.5zM380.4 196.2l1.3-0.4-1.9-0.8-1.3 0.4z"/><path class="c90" d="M379.2 196.6l1.2-0.4-1.9-0.8-1.1 0.4zM378.1 197l1.1-0.4-1.8-0.8-1.1 0.3zM377.2 197.3l0.9-0.3-1.8-0.9-1 0.4zM376.4 197.5l0.8-0.2-1.9-0.8-0.8 0.2zM375.6 197.8l0.8-0.3-1.9-0.8-0.7 0.3zM375 198l0.6-0.2-1.8-0.8-0.6 0.2zM374.6 198.1l0.4-0.1-1.8-0.8-0.5 0.1zM374.2 198.2l0.4-0.1-1.9-0.8-0.3 0.1zM374 198.3l0.2-0.1-1.8-0.8-0.3 0.1zM373.9 198.3l0.1 0-1.9-0.8-0.1 0zM373.8 198.3l0.1 0-1.9-0.8 0 0.1zM373.6 198.4l0.2-0.1-1.8-0.7-0.3 0zM373.2 198.5l0.4-0.1-1.9-0.8-0.3 0.1zM372.8 198.7l0.4-0.2-1.8-0.8-0.5 0.2zM372.2 198.9l0.6-0.2-1.9-0.8-0.6 0.2zM371.4 199.1l0.8-0.2-1.9-0.8-0.7 0.2zM370.6 199.3l0.8-0.2-1.8-0.8-0.8 0.2zM369.7 199.6l0.9-0.3-1.8-0.8-1 0.3zM368.6 200l1.1-0.4-1.9-0.8-1.1 0.3zM367.4 200.3l1.2-0.3-1.9-0.9-1.1 0.4z"/><path class="c91" d="M366.1 200.7l1.3-0.4-1.8-0.8-1.3 0.4zM364.7 201.1l1.4-0.4-1.8-0.8-1.4 0.4zM363.2 201.5l1.5-0.4-1.8-0.8-1.5 0.4zM361.6 202l1.6-0.5-1.8-0.8-1.6 0.4zM359.9 202.5l1.7-0.5-1.8-0.9-1.8 0.5zM358.1 203.1l1.8-0.6-1.9-0.9-1.8 0.5zM356.1 203.6l2-0.5-1.9-1-1.9 0.6zM354.1 204.2l2-0.6-1.8-0.9-2.1 0.6zM352 204.9l2.1-0.7-1.9-0.9-2.1 0.6zM349.7 205.5l2.3-0.6-1.9-1-2.2 0.7zM347.4 206.3l2.3-0.8-1.8-0.9-2.4 0.7zM344.9 207l2.5-0.7-1.9-1-2.5 0.7z"/><path class="c85" d="M344.9 210.8l2.5-0.8 0-3.7-2.5 0.7zM347.4 210l2.3-0.7 0-3.8-2.3 0.8zM349.7 209.3l2.3-0.7 0-3.7-2.3 0.6zM352 208.6l2.1-0.6 0-3.8-2.1 0.7zM354.1 208l2-0.6 0-3.8-2 0.6zM356.1 207.4l2-0.6 0-3.7-2 0.5zM358.1 206.8l1.8-0.5 0-3.8-1.8 0.6zM359.9 206.3l1.7-0.5 0-3.8-1.7 0.5zM361.6 205.8l1.6-0.5 0-3.8-1.6 0.5zM363.2 205.3l1.5-0.4 0-3.8-1.5 0.4zM364.7 204.9l1.4-0.4 0-3.8-1.4 0.4zM366.1 204.5l1.3-0.4 0-3.8-1.3 0.4zM367.4 204.1l1.2-0.4 0-3.7-1.2 0.3zM368.6 203.7l1.1-0.3 0-3.8-1.1 0.4zM369.7 203.4l0.9-0.3 0-3.8-0.9 0.3zM370.6 203.1l0.8-0.2 0-3.8-0.8 0.2zM371.4 202.9l0.8-0.3 0-3.7-0.8 0.2zM372.2 202.6l0.6-0.2 0-3.7-0.6 0.2zM372.8 202.4l0.4-0.1 0-3.8-0.4 0.2zM373.2 202.3l0.4-0.1 0-3.8-0.4 0.1zM373.6 202.2l0.2-0.1 0-3.8-0.2 0.1zM374 202.1l0.2-0.1 0-3.8-0.2 0.1zM374.2 202l0.4-0.1 0-3.8-0.4 0.1zM374.6 201.9l0.4-0.2 0-3.7-0.4 0.1zM375 201.7l0.6-0.2 0-3.7-0.6 0.2zM375.6 201.5l0.8-0.2 0-3.8-0.8 0.3zM376.4 201.3l0.8-0.3 0-3.7-0.8 0.2zM377.2 201l0.9-0.3 0-3.7-0.9 0.3zM378.1 200.7l1.1-0.3 0-3.8-1.1 0.4zM379.2 200.4l1.2-0.4 0-3.8-1.2 0.4zM380.4 200l1.3-0.4 0-3.8-1.3 0.4zM381.7 199.6l1.4-0.5 0-3.8-1.4 0.5zM383.1 199.1l1.5-0.5 0-3.8-1.5 0.5zM384.6 198.6l1.6-0.6 0-3.7-1.6 0.5zM386.2 198l1.7-0.5 0-3.8-1.7 0.6zM387.9 197.5l1.8-0.7 0-3.7-1.8 0.6zM389.7 196.8l2-0.6 0-3.8-2 0.7zM391.7 196.2l2-0.7 0-3.8-2 0.7zM393.7 195.5l2.1-0.7 0-3.8-2.1 0.7zM395.8 194.8l2.3-0.8 0-3.7-2.3 0.7zM398.1 194l2.3-0.7 0-3.8-2.3 0.8zM400.4 193.3l2.5-0.8 0-3.8-2.5 0.8zM344.9 210.8l-1.9-1 0-3.8 1.9 1zM343 209.8l-1.7-1 0-3.8 1.7 1zM341.3 208.8l-1.7-0.9 0-3.8 1.7 0.9zM339.6 207.9l-1.6-0.9 0-3.8 1.6 0.9zM338 207l-1.6-0.8 0-3.8 1.6 0.8zM336.4 206.2l-1.4-0.8 0-3.8 1.4 0.8zM335 205.4l-1.4-0.8 0-3.7 1.4 0.7zM333.6 204.6l-1.3-0.7 0-3.7 1.3 0.7zM332.3 203.9l-1.2-0.6 0-3.8 1.2 0.7zM331.1 203.3l-1.2-0.6 0-3.8 1.2 0.6zM329.9 202.7l-1-0.6 0-3.8 1 0.6zM328.9 202.1l-1-0.5 0-3.8 1 0.5zM327.9 201.6l-0.9-0.5 0-3.8 0.9 0.5zM327 201.1l-0.8-0.4 0-3.8 0.8 0.4zM326.2 200.7l-0.7-0.4 0-3.8 0.7 0.4zM325.5 200.3l-0.6-0.4 0-3.7 0.6 0.3zM324.9 199.9l-0.6-0.3 0-3.7 0.6 0.3zM324.3 199.6l-0.4-0.2 0-3.8 0.4 0.3zM323.9 199.4l-0.4-0.2 0-3.8 0.4 0.2zM323.5 199.2l-0.3-0.2 0-3.7 0.3 0.1zM323.2 199l-0.1-0.1 0-3.7 0.1 0.1zM323 198.9l-0.1-0.1 0-3.7 0.1 0zM322.8 198.8l-0.3-0.2 0-3.8 0.3 0.2zM322.5 198.6l-0.4-0.2 0-3.8 0.4 0.2zM322.1 198.4l-0.4-0.3 0-3.7 0.4 0.2zM321.7 198.1l-0.6-0.3 0-3.7 0.6 0.3zM321.1 197.8l-0.6-0.3 0-3.8 0.6 0.4zM320.5 197.5l-0.7-0.4 0-3.8 0.7 0.4zM319.8 197.1l-0.8-0.5 0-3.8 0.8 0.5zM319 196.6l-0.9-0.5 0-3.8 0.9 0.5zM318.1 196.1l-1-0.6 0-3.8 1 0.6zM317.1 195.5l-1-0.6 0-3.8 1 0.6zM316.1 194.9l-1.2-0.7 0-3.8 1.2 0.7zM314.9 194.2l-1.2-0.7 0-3.8 1.2 0.7zM313.7 193.5l-1.3-0.8 0-3.8 1.3 0.8zM312.4 192.7l-1.4-0.8 0-3.8 1.4 0.8zM311 191.9l-1.4-0.9 0-3.7 1.4 0.8zM309.6 191l-1.6-0.9 0-3.7 1.6 0.9zM308 190.1l-1.6-0.9 0-3.8 1.6 1zM306.4 189.2l-1.7-1 0-3.8 1.7 1zM304.7 188.2l-1.7-1.1 0-3.7 1.7 1zM303 187.1l-1.9-1 0-3.8 1.9 1.1z"/></g>
<path d="M344.9 261.5L402.9 243.2M344.9 261.5L301.1 236.8M301.1 236.8L301.1 181.6M355.8 258.1l0.6 0.8M373.9 252.3l0.6 0.8M392 246.6l0.6 0.8M336.7 256.9l-0.6 0.8M323 249.2l-0.6 0.8M309.3 241.4l-0.6 0.8M301.1 224.5h-1M301.1 212.1h-1M301.1 199.8h-1M301.1 187.4h-1" stroke="#444" stroke-width="0.5" fill="none"/>
<text x="352" y="161" font-size="6.8" text-anchor="middle" fill="#262626">F10</text>
<text x="298" y="226.85" font-size="6.3" text-anchor="end" fill="#262626">5</text>
<text x="298" y="214.5" font-size="6.3" text-anchor="end" fill="#262626">10</text>
<text x="298" y="202.15" font-size="6.3" text-anchor="end" fill="#262626">15</text>
<text x="298" y="189.8" font-size="6.3" text-anchor="end" fill="#262626">20</text>
<text transform="translate(286.6 210.6) rotate(-90)" font-size="6.8" text-anchor="middle" fill="#262626">z</text>
<text x="302.4" y="248.6" font-size="6.3" text-anchor="middle" fill="#262626">20</text>
<text x="318.2" y="257.2" font-size="6.3" text-anchor="middle" fill="#262626">0</text>
<text x="329.1" y="265.6" font-size="6.3" text-anchor="middle" fill="#262626">-20</text>
<text x="316.4" y="264.8" font-size="6.8" text-anchor="middle" fill="#262626">y</text>
<text x="362.7" y="267.4" font-size="6.3" text-anchor="middle" fill="#262626">-20</text>
<text x="379.3" y="261.1" font-size="6.3" text-anchor="middle" fill="#262626">0</text>
<text x="399.1" y="254.7" font-size="6.3" text-anchor="middle" fill="#262626">20</text>
<text x="376.2" y="268.8" font-size="6.8" text-anchor="middle" fill="#262626">x</text>
<path d="M75.1 416.8L30.6 392.1M30.6 392.1L30.6 337.1M97.3 409.6L52.8 384.9M52.8 384.9L52.8 329.9M119.6 402.3L75.1 377.6M75.1 377.6L75.1 322.6M62.9 416.1L121.2 397.2M121.2 397.2L121.2 342.2M46 406.6L104.2 387.8M104.2 387.8L104.2 332.8M29 397.2L87.3 378.3M87.3 378.3L87.3 323.3M23.7 383.3L82 364.4M82 364.4L126.5 389.1M23.7 372.3L82 353.4M82 353.4L126.5 378.1M23.7 361.3L82 342.4M82 342.4L126.5 367.1M23.7 350.3L82 331.4M82 331.4L126.5 356.1" stroke="#e2e2e2" stroke-width="0.45" fill="none"/>
<path d="M126.5 400.1L82 375.4M23.7 394.3L82 375.4M82 375.4L82 320.4" stroke="#d8d8d8" stroke-width="0.45" fill="none"/>
<g transform="matrix(58.3 -18.9 -44.5 -24.7 68.2 419)" fill="none" stroke="#c4d63a" stroke-width="0.7"><circle cx="0.26" cy="0.26" r="0.025" vector-effect="non-scaling-stroke"/><circle cx="0.38" cy="0.26" r="0.025" vector-effect="non-scaling-stroke"/><circle cx="0.5" cy="0.26" r="0.025" vector-effect="non-scaling-stroke"/><circle cx="0.62" cy="0.26" r="0.025" vector-effect="non-scaling-stroke"/><circle cx="0.74" cy="0.26" r="0.025" vector-effect="non-scaling-stroke"/><circle cx="0.26" cy="0.38" r="0.025" vector-effect="non-scaling-stroke"/><circle cx="0.38" cy="0.38" r="0.025" vector-effect="non-scaling-stroke"/><circle cx="0.5" cy="0.38" r="0.025" vector-effect="non-scaling-stroke"/><circle cx="0.62" cy="0.38" r="0.025" vector-effect="non-scaling-stroke"/><circle cx="0.74" cy="0.38" r="0.025" vector-effect="non-scaling-stroke"/><circle cx="0.26" cy="0.5" r="0.025" vector-effect="non-scaling-stroke"/><circle cx="0.38" cy="0.5" r="0.025" vector-effect="non-scaling-stroke"/><circle cx="0.5" cy="0.5" r="0.025" vector-effect="non-scaling-stroke"/><circle cx="0.62" cy="0.5" r="0.025" vector-effect="non-scaling-stroke"/><circle cx="0.74" cy="0.5" r="0.025" vector-effect="non-scaling-stroke"/><circle cx="0.26" cy="0.62" r="0.025" vector-effect="non-scaling-stroke"/><circle cx="0.38" cy="0.62" r="0.025" vector-effect="non-scaling-stroke"/><circle cx="0.5" cy="0.62" r="0.025" vector-effect="non-scaling-stroke"/><circle cx="0.62" cy="0.62" r="0.025" vector-effect="non-scaling-stroke"/><circle cx="0.74" cy="0.62" r="0.025" vector-effect="non-scaling-stroke"/><circle cx="0.26" cy="0.74" r="0.025" vector-effect="non-scaling-stroke"/><circle cx="0.38" cy="0.74" r="0.025" vector-effect="non-scaling-stroke"/><circle cx="0.5" cy="0.74" r="0.025" vector-effect="non-scaling-stroke"/><circle cx="0.62" cy="0.74" r="0.025" vector-effect="non-scaling-stroke"/><circle cx="0.74" cy="0.74" r="0.025" vector-effect="non-scaling-stroke"/></g>
<g><path fill="#efb537" d="M76.2 331.6L80.8 331.6L80.2 350.9L76.7 350.9z"/><path fill="#5fc878" d="M76.7 350.7L80.2 350.7L80 360.2L77 360.2z"/><path fill="#27a9e6" d="M77 360L80 360L79.5 375.1L77.4 375.1z"/><path fill="#3c6df4" d="M77.4 374.9L79.5 374.9L79.4 381.7L77.6 381.7z"/><path fill="#4a3fdc" d="M77.6 381.5L79.4 381.5L79.2 386.8L77.7 386.8z"/><path fill="#efb537" d="M69.1 333.9L73.7 333.9L73.1 355.2L69.6 355.2z"/><path fill="#5fc878" d="M69.6 355L73.1 355L72.8 364.5L69.9 364.5z"/><path fill="#27a9e6" d="M69.9 364.3L72.8 364.3L72.4 379.4L70.3 379.4z"/><path fill="#3c6df4" d="M70.3 379.2L72.4 379.2L72.2 386L70.5 386z"/><path fill="#4a3fdc" d="M70.5 385.8L72.2 385.8L72.1 389.1L70.6 389.1z"/><path fill="#efb537" d="M61.9 336.2L66.5 336.2L66 354.8L62.5 354.8z"/><path fill="#5fc878" d="M62.5 354.6L66 354.6L65.8 364.2L62.7 364.2z"/><path fill="#27a9e6" d="M62.7 364L65.8 364L65.3 379L63.1 379z"/><path fill="#3c6df4" d="M63.1 378.8L65.3 378.8L65.1 385.6L63.3 385.6z"/><path fill="#4a3fdc" d="M63.3 385.4L65.1 385.4L65 391.4L63.5 391.4z"/><path fill="#efb537" d="M54.8 338.5L59.4 338.5L58.8 359.1L55.4 359.1z"/><path fill="#5fc878" d="M55.4 358.9L58.8 358.9L58.6 368.5L55.7 368.5z"/><path fill="#27a9e6" d="M55.7 368.3L58.6 368.3L58.2 383.3L56.1 383.3z"/><path fill="#3c6df4" d="M56.1 383.1L58.2 383.1L58 389.9L56.3 389.9z"/><path fill="#4a3fdc" d="M56.3 389.7L58 389.7L57.9 393.7L56.4 393.7z"/><path fill="#efb537" d="M47.7 340.8L52.3 340.8L51.8 358.8L48.2 358.8z"/><path fill="#5fc878" d="M48.2 358.6L51.8 358.6L51.5 368.2L48.5 368.2z"/><path fill="#27a9e6" d="M48.5 368L51.5 368L51.1 383L48.9 383z"/><path fill="#3c6df4" d="M48.9 382.8L51.1 382.8L50.9 389.6L49.1 389.6z"/><path fill="#4a3fdc" d="M49.1 389.4L50.9 389.4L50.8 396L49.3 396z"/><path fill="#efb537" d="M81.6 334.6L86.2 334.6L85.7 352.6L82.1 352.6z"/><path fill="#5fc878" d="M82.1 352.4L85.7 352.4L85.4 361.9L82.4 361.9z"/><path fill="#27a9e6" d="M82.4 361.7L85.4 361.7L85 376.8L82.8 376.8z"/><path fill="#3c6df4" d="M82.8 376.6L85 376.6L84.8 383.4L83 383.4z"/><path fill="#4a3fdc" d="M83 383.2L84.8 383.2L84.7 389.8L83.2 389.8z"/><path fill="#efb537" d="M74.5 336.9L79.1 336.9L78.5 356.9L75 356.9z"/><path fill="#5fc878" d="M75 356.7L78.5 356.7L78.3 366.2L75.3 366.2z"/><path fill="#27a9e6" d="M75.3 366L78.3 366L77.8 381.1L75.7 381.1z"/><path fill="#3c6df4" d="M75.7 380.9L77.8 380.9L77.7 387.7L75.9 387.7z"/><path fill="#4a3fdc" d="M75.9 387.5L77.7 387.5L77.5 392.1L76 392.1z"/><path fill="#efb537" d="M67.4 339.2L72 339.2L71.4 361.2L68 361.2z"/><path fill="#5fc878" d="M68 361L71.4 361L71.1 370.5L68.2 370.5z"/><path fill="#27a9e6" d="M68.2 370.3L71.1 370.3L70.7 385.4L68.7 385.4z"/><path fill="#3c6df4" d="M68.7 385.2L70.7 385.2L70.5 392L68.8 392z"/><path fill="#4a3fdc" d="M68.8 391.8L70.5 391.8L70.4 394.4L68.9 394.4z"/><path fill="#efb537" d="M60.3 341.5L64.9 341.5L64.3 360.8L60.8 360.8z"/><path fill="#5fc878" d="M60.8 360.6L64.3 360.6L64 370.2L61.1 370.2z"/><path fill="#27a9e6" d="M61.1 370L64 370L63.6 385L61.5 385z"/><path fill="#3c6df4" d="M61.5 384.8L63.6 384.8L63.4 391.6L61.7 391.6z"/><path fill="#4a3fdc" d="M61.7 391.4L63.4 391.4L63.3 396.7L61.8 396.7z"/><path fill="#efb537" d="M53.1 343.8L57.7 343.8L57.1 365.1L53.7 365.1z"/><path fill="#5fc878" d="M53.7 364.9L57.1 364.9L56.9 374.5L54 374.5z"/><path fill="#27a9e6" d="M54 374.3L56.9 374.3L56.5 389.3L54.4 389.3z"/><path fill="#3c6df4" d="M54.4 389.1L56.5 389.1L56.3 395.9L54.6 395.9z"/><path fill="#4a3fdc" d="M54.6 395.7L56.3 395.7L56.2 399L54.7 399z"/><path fill="#efb537" d="M87 337.6L91.6 337.6L91 358.9L87.6 358.9z"/><path fill="#5fc878" d="M87.6 358.7L91 358.7L90.8 368.3L87.9 368.3z"/><path fill="#27a9e6" d="M87.9 368.1L90.8 368.1L90.4 383.1L88.3 383.1z"/><path fill="#3c6df4" d="M88.3 382.9L90.4 382.9L90.2 389.7L88.5 389.7z"/><path fill="#4a3fdc" d="M88.5 389.5L90.2 389.5L90.1 392.8L88.6 392.8z"/><path fill="#efb537" d="M79.9 339.9L84.5 339.9L84 358.6L80.4 358.6z"/><path fill="#5fc878" d="M80.4 358.4L84 358.4L83.7 367.9L80.7 367.9z"/><path fill="#27a9e6" d="M80.7 367.7L83.7 367.7L83.3 382.8L81.1 382.8z"/><path fill="#3c6df4" d="M81.1 382.6L83.3 382.6L83.1 389.4L81.3 389.4z"/><path fill="#4a3fdc" d="M81.3 389.2L83.1 389.2L83 395.1L81.5 395.1z"/><path fill="#efb537" d="M72.8 342.2L77.4 342.2L76.8 362.9L73.4 362.9z"/><path fill="#5fc878" d="M73.4 362.7L76.8 362.7L76.6 372.2L73.6 372.2z"/><path fill="#27a9e6" d="M73.6 372L76.6 372L76.1 387.1L74.1 387.1z"/><path fill="#3c6df4" d="M74.1 386.9L76.1 386.9L76 393.7L74.2 393.7z"/><path fill="#4a3fdc" d="M74.2 393.5L76 393.5L75.8 397.4L74.3 397.4z"/><path fill="#efb537" d="M65.7 344.5L70.3 344.5L69.8 362.5L66.2 362.5z"/><path fill="#5fc878" d="M66.2 362.3L69.8 362.3L69.5 371.9L66.4 371.9z"/><path fill="#27a9e6" d="M66.4 371.7L69.5 371.7L69.1 386.7L66.9 386.7z"/><path fill="#3c6df4" d="M66.9 386.5L69.1 386.5L68.9 393.3L67.1 393.3z"/><path fill="#4a3fdc" d="M67.1 393.1L68.9 393.1L68.7 399.7L67.2 399.7z"/><path fill="#efb537" d="M58.6 346.8L63.2 346.8L62.6 366.8L59.1 366.8z"/><path fill="#5fc878" d="M59.1 366.6L62.6 366.6L62.3 376.2L59.4 376.2z"/><path fill="#27a9e6" d="M59.4 376L62.3 376L61.9 391L59.8 391z"/><path fill="#3c6df4" d="M59.8 390.8L61.9 390.8L61.7 397.6L60 397.6z"/><path fill="#4a3fdc" d="M60 397.4L61.7 397.4L61.6 402L60.1 402z"/><path fill="#efb537" d="M92.5 340.6L97.1 340.6L96.5 360.6L93 360.6z"/><path fill="#5fc878" d="M93 360.4L96.5 360.4L96.2 370L93.3 370z"/><path fill="#27a9e6" d="M93.3 369.8L96.2 369.8L95.8 384.8L93.7 384.8z"/><path fill="#3c6df4" d="M93.7 384.6L95.8 384.6L95.6 391.4L93.9 391.4z"/><path fill="#4a3fdc" d="M93.9 391.2L95.6 391.2L95.5 395.8L94 395.8z"/><path fill="#efb537" d="M85.3 342.9L89.9 342.9L89.3 364.9L86 364.9z"/><path fill="#5fc878" d="M86 364.7L89.3 364.7L89.1 374.2L86.2 374.2z"/><path fill="#27a9e6" d="M86.2 374L89.1 374L88.7 389.1L86.6 389.1z"/><path fill="#3c6df4" d="M86.6 388.9L88.7 388.9L88.5 395.7L86.8 395.7z"/><path fill="#4a3fdc" d="M86.8 395.5L88.5 395.5L88.4 398.1L86.9 398.1z"/><path fill="#efb537" d="M78.2 345.2L82.8 345.2L82.3 364.6L78.8 364.6z"/><path fill="#5fc878" d="M78.8 364.4L82.3 364.4L82 373.9L79 373.9z"/><path fill="#27a9e6" d="M79 373.7L82 373.7L81.6 388.8L79.5 388.8z"/><path fill="#3c6df4" d="M79.5 388.6L81.6 388.6L81.4 395.4L79.6 395.4z"/><path fill="#4a3fdc" d="M79.6 395.2L81.4 395.2L81.3 400.4L79.8 400.4z"/><path fill="#efb537" d="M71.1 347.5L75.7 347.5L75.1 368.8L71.7 368.8z"/><path fill="#5fc878" d="M71.7 368.6L75.1 368.6L74.9 378.2L72 378.2z"/><path fill="#27a9e6" d="M72 378L74.9 378L74.4 393L72.4 393z"/><path fill="#3c6df4" d="M72.4 392.8L74.4 392.8L74.3 399.6L72.6 399.6z"/><path fill="#4a3fdc" d="M72.6 399.4L74.3 399.4L74.2 402.7L72.7 402.7z"/><path fill="#efb537" d="M64 349.8L68.6 349.8L68.1 368.5L64.5 368.5z"/><path fill="#5fc878" d="M64.5 368.3L68.1 368.3L67.8 377.9L64.8 377.9z"/><path fill="#27a9e6" d="M64.8 377.7L67.8 377.7L67.4 392.7L65.2 392.7z"/><path fill="#3c6df4" d="M65.2 392.5L67.4 392.5L67.2 399.3L65.4 399.3z"/><path fill="#4a3fdc" d="M65.4 399.1L67.2 399.1L67 405L65.5 405z"/><path fill="#efb537" d="M97.9 343.6L102.5 343.6L102 362.3L98.4 362.3z"/><path fill="#5fc878" d="M98.4 362.1L102 362.1L101.7 371.6L98.7 371.6z"/><path fill="#27a9e6" d="M98.7 371.4L101.7 371.4L101.3 386.5L99.1 386.5z"/><path fill="#3c6df4" d="M99.1 386.3L101.3 386.3L101.1 393.1L99.3 393.1z"/><path fill="#4a3fdc" d="M99.3 392.9L101.1 392.9L100.9 398.8L99.4 398.8z"/><path fill="#efb537" d="M90.8 345.9L95.4 345.9L94.8 366.6L91.4 366.6z"/><path fill="#5fc878" d="M91.4 366.4L94.8 366.4L94.5 375.9L91.6 375.9z"/><path fill="#27a9e6" d="M91.6 375.7L94.5 375.7L94.1 390.8L92 390.8z"/><path fill="#3c6df4" d="M92 390.6L94.1 390.6L93.9 397.4L92.2 397.4z"/><path fill="#4a3fdc" d="M92.2 397.2L93.9 397.2L93.8 401.1L92.3 401.1z"/><path fill="#efb537" d="M83.7 348.2L88.3 348.2L87.8 366.3L84.2 366.3z"/><path fill="#5fc878" d="M84.2 366.1L87.8 366.1L87.5 375.6L84.4 375.6z"/><path fill="#27a9e6" d="M84.4 375.4L87.5 375.4L87.1 390.5L84.8 390.5z"/><path fill="#3c6df4" d="M84.8 390.3L87.1 390.3L86.9 397.1L85 397.1z"/><path fill="#4a3fdc" d="M85 396.9L86.9 396.9L86.7 403.4L85.2 403.4z"/><path fill="#efb537" d="M76.5 350.5L81.1 350.5L80.6 370.5L77.1 370.5z"/><path fill="#5fc878" d="M77.1 370.3L80.6 370.3L80.3 379.9L77.4 379.9z"/><path fill="#27a9e6" d="M77.4 379.7L80.3 379.7L79.9 394.7L77.8 394.7z"/><path fill="#3c6df4" d="M77.8 394.5L79.9 394.5L79.7 401.3L78 401.3z"/><path fill="#4a3fdc" d="M78 401.1L79.7 401.1L79.6 405.7L78.1 405.7z"/><path fill="#efb537" d="M69.4 352.8L74 352.8L73.4 374.8L70 374.8z"/><path fill="#5fc878" d="M70 374.6L73.4 374.6L73.2 384.2L70.3 384.2z"/><path fill="#27a9e6" d="M70.3 384L73.2 384L72.7 399L70.7 399z"/><path fill="#3c6df4" d="M70.7 398.8L72.7 398.8L72.5 405.6L70.9 405.6z"/><path fill="#4a3fdc" d="M70.9 405.4L72.5 405.4L72.5 408L71 408z"/></g>
<path fill="#f9fa14" d="M68.2 364L126.5 345.1L82 320.4L23.7 339.3z"/>
<g transform="matrix(58.3 -18.9 -44.5 -24.7 68.2 364)" fill="#f1c63a" opacity="0.6"><circle cx="0.26" cy="0.26" r="0.03"/><circle cx="0.38" cy="0.26" r="0.03"/><circle cx="0.5" cy="0.26" r="0.03"/><circle cx="0.62" cy="0.26" r="0.03"/><circle cx="0.74" cy="0.26" r="0.03"/><circle cx="0.26" cy="0.38" r="0.03"/><circle cx="0.38" cy="0.38" r="0.03"/><circle cx="0.5" cy="0.38" r="0.03"/><circle cx="0.62" cy="0.38" r="0.03"/><circle cx="0.74" cy="0.38" r="0.03"/><circle cx="0.26" cy="0.5" r="0.03"/><circle cx="0.38" cy="0.5" r="0.03"/><circle cx="0.5" cy="0.5" r="0.03"/><circle cx="0.62" cy="0.5" r="0.03"/><circle cx="0.74" cy="0.5" r="0.03"/><circle cx="0.26" cy="0.62" r="0.03"/><circle cx="0.38" cy="0.62" r="0.03"/><circle cx="0.5" cy="0.62" r="0.03"/><circle cx="0.62" cy="0.62" r="0.03"/><circle cx="0.74" cy="0.62" r="0.03"/><circle cx="0.26" cy="0.74" r="0.03"/><circle cx="0.38" cy="0.74" r="0.03"/><circle cx="0.5" cy="0.74" r="0.03"/><circle cx="0.62" cy="0.74" r="0.03"/><circle cx="0.74" cy="0.74" r="0.03"/></g>
<path d="M68.2 419L126.5 400.1M68.2 419L23.7 394.3M23.7 394.3L23.7 339.3M75.1 416.8l0.6 0.8M97.3 409.6l0.6 0.8M119.6 402.3l0.6 0.8M62.9 416.1l-0.6 0.8M46 406.6l-0.6 0.8M29 397.2l-0.6 0.8M23.7 383.3h-1M23.7 372.3h-1M23.7 361.3h-1M23.7 350.3h-1" stroke="#444" stroke-width="0.5" fill="none"/>
<text x="75.6" y="317.5" font-size="6.8" text-anchor="middle" fill="#262626">F14</text>
<text x="21.3" y="384.5" font-size="6.3" text-anchor="end" fill="#262626">100</text>
<text x="21.3" y="373.5" font-size="6.3" text-anchor="end" fill="#262626">200</text>
<text x="21.3" y="362.5" font-size="6.3" text-anchor="end" fill="#262626">300</text>
<text x="21.3" y="351.5" font-size="6.3" text-anchor="end" fill="#262626">400</text>
<text transform="translate(7.6 366.1) rotate(-90)" font-size="6.8" text-anchor="middle" fill="#262626">z</text>
<text x="22.9" y="404.8" font-size="6.3" text-anchor="middle" fill="#262626">50</text>
<text x="40.7" y="413.7" font-size="6.3" text-anchor="middle" fill="#262626">0</text>
<text x="56" y="423.1" font-size="6.3" text-anchor="middle" fill="#262626">-50</text>
<text x="36.9" y="421.7" font-size="6.8" text-anchor="middle" fill="#262626">y</text>
<text x="83.5" y="424.9" font-size="6.3" text-anchor="middle" fill="#262626">-50</text>
<text x="102.6" y="417.2" font-size="6.3" text-anchor="middle" fill="#262626">0</text>
<text x="126.5" y="409.9" font-size="6.3" text-anchor="middle" fill="#262626">50</text>
<text x="103.1" y="426" font-size="6.8" text-anchor="middle" fill="#262626">x</text>
<path d="M342.4 418.4L298.3 393M298.3 393L298.3 338.4M371.2 408.6L327.2 383.2M327.2 383.2L327.2 328.6M400.1 398.9L356 373.5M356 373.5L356 318.9M342.4 418.4L400.1 398.9M400.1 398.9L400.1 344.3M320.4 405.7L378.1 386.2M378.1 386.2L378.1 331.6M298.3 393L356 373.5M356 373.5L356 318.9M298.3 382.6L356 363.1M356 363.1L400.1 388.5M298.3 372.2L356 352.7M356 352.7L400.1 378.1M298.3 361.8L356 342.3M356 342.3L400.1 367.7M298.3 351.4L356 331.9M356 331.9L400.1 357.3M298.3 341L356 321.5M356 321.5L400.1 346.9" stroke="#e2e2e2" stroke-width="0.45" fill="none"/>
<path d="M400.1 398.9L356 373.5M298.3 393L356 373.5M356 373.5L356 318.9" stroke="#d8d8d8" stroke-width="0.45" fill="none"/>
<path d="M366.2 410.4l-1.4-0.6-0.5-0.2-0.9-0.3-1.4-0.6-1.5-0.6-1.6-0.5-1.8-0.5-1-0.3-0.8-0.2-1.9-0.5-2.3-0.4-2.5-0.4-1.4-0.1-1.5-0.1-1.6-0.1-2.2 0-0.5 0.1-2.5 0.1-2.1 0.2-2.2 0.3-1.9 0.3-1.9 0.3-1.8 0.4-0.6 0.1-1.1 0.2-1.8 0.3-1.7 0.4M374.3 406.6l0.9 0.7M316.9 403.7l1.2-0.6" fill="none" stroke="#402bb6" stroke-width="0.4" opacity="0.8"/>
<path d="M364.3 411l-1.5-0.5-0.7-0.2-0.8-0.3-1.6-0.5-1.7-0.5-1.8-0.5-0.5-0.1-1.4-0.3-2-0.5-1.2-0.2-1.1-0.1-2.6-0.3-3-0.2-2.8-0.1-0.8 0-1.7 0.1-2.2 0.1-0.8 0.1-1.4 0.1-2 0.3-1.9 0.3-1.3 0.2-0.6 0.1-1.8 0.3-1.7 0.3M375.7 405.1l0.7 0.8 0.8 0.7M315.3 402.8l1.2-0.6" fill="none" stroke="#4333cb" stroke-width="0.4" opacity="0.8"/>
<path d="M361.5 411.9l-1.6-0.4-1.7-0.5-1.6-0.4-2-0.5-2.1-0.3-2.1-0.4-1.9-0.2-0.5-0.1-2.7-0.2-2.8-0.2-2.6 0-1.4 0.1-0.9 0-2.2 0.1-1.5 0.2-0.6 0-2 0.2-1.9 0.3-1.5 0.2-0.4 0M377.7 402l0.5 1.2 0.6 0.9 0.2 0.3 0.3 0.5 0.6 0.8M313.2 401.6l1-0.7 1.1-0.8" fill="none" stroke="#4743e6" stroke-width="0.4" opacity="0.8"/>
<path d="M357.7 413.2l-1.8-0.4-1.5-0.3-0.4 0-2.1-0.4-1.3-0.2-0.9-0.1-2.3-0.3-2.6-0.2-2.9-0.2-2.7 0-0.6 0-1.8 0-2.1 0.1-2.2 0.2-2 0.2M387.9 391.8l-0.5 0.4-0.5 0.4-0.9 0.9-0.6 0.6-1 1.2-0.3 0.4-0.4 0.6-0.4 0.8-0.5 1.3-0.2 1.2 0 1.1 0.2 1 0.2 0.9 0.4 0.9 0.4 0.9M310.2 399.8l0.9-0.8 0.8-0.8 0.8-0.9 0.6-0.8 0.1-0.2" fill="none" stroke="#4461fc" stroke-width="0.4" opacity="0.8"/>
<path d="M354.7 414.2l-1.9-0.3-1.8-0.3-2.5-0.3-0.8-0.1-1.7-0.2-1.3-0.1-1.3-0.1-1.4 0-1.5-0.1-1 0-2.3 0-2.3 0.1-1.4 0-0.7 0.1M390.1 393.1l-0.9 0.9-0.7 0.9-0.5 0.7-0.8 1.3-0.5 1.1-0.3 1.3-0.1 1.2 0 1 0.1 0.7 0.3 1.2M307.9 398.5l0.2-0.2 0.6-0.6 0.7-1 0.6-1 0.2-0.4 0.3-0.7 0.2-0.6 0.2-0.6 0.1-0.6 0.1-0.7 0-1.4-0.2-0.9-0.3-0.9 0-0.1" fill="none" stroke="#3082f9" stroke-width="0.4" opacity="0.8"/>
<path d="M352.2 415.1l-1.7-0.3-2.6-0.3-0.5-0.1-1.9-0.1-1-0.1-1.6-0.1-1.1-0.1-1.7 0-0.8 0-2.3-0.1-2.3 0.1M391.9 394.2l-0.7 0.9-0.5 0.6-0.2 0.4-0.5 1-0.5 1.1-0.3 1.2-0.1 1.2 0 1 0.1 0.7 0 0.3M306 397.4l0.6-0.9 0.6-1 0.5-1.1 0.2-0.5 0.2-0.7 0.1-0.5 0.1-0.8 0-1.3-0.1-0.9" fill="none" stroke="#239fe4" stroke-width="0.4" opacity="0.8"/>
<path d="M350.1 415.8l-2.2-0.3-1.3-0.1-1.1-0.1-1.7-0.1-0.9-0.1-1.7-0.1-1 0-1.4 0-1.7 0-0.7 0M393.6 395.1l-0.7 1-0.5 1-0.5 1.1-0.1 0.4-0.2 0.8-0.2 1.3 0 1.1M304.3 396.4l0.6-1 0.2-0.6 0.2-0.4 0.3-0.8 0.3-1.1 0-0.5 0.1-0.6 0-0.8 0-0.2" fill="none" stroke="#12b7bf" stroke-width="0.4" opacity="0.8"/>
<path d="M348.1 416.5l-2.3-0.3-2.5-0.1-2.7-0.2-2.6 0M395 396l-0.3 0.6-0.2 0.4-0.4 0.8-0.4 1.2-0.2 1.1-0.1 1.1M302.7 395.5l0.5-1 0.4-1.1 0.3-1.2 0.1-1.1" fill="none" stroke="#51c47f" stroke-width="0.4" opacity="0.8"/>
<path d="M346.3 417.1l-1.8-0.2-0.6 0-2-0.1-0.6-0.1-1.9 0M396.4 396.8l-0.2 0.3-0.3 0.7-0.2 0.5-0.2 0.6-0.1 0.6-0.2 0.6 0 0.5M301.3 394.7l0.3-0.8 0.4-1.1 0.2-1.1" fill="none" stroke="#9cca45" stroke-width="0.4" opacity="0.8"/>
<path d="M344.6 417.7l-1.3-0.1-1.2-0.1-1.4-0.1M397.7 397.5l-0.5 1.1-0.3 1.1 0 0.3M300 394l0.2-0.6 0.2-0.5 0.1-0.6" fill="none" stroke="#e0bc2d" stroke-width="0.4" opacity="0.8"/>
<path d="M343 418.2l-1.1-0.1M398.9 398.2l-0.4 1.1 0 0.2M298.8 393.3l0.1-0.5" fill="none" stroke="#fdce36" stroke-width="0.4" opacity="0.8"/>
<g stroke-width="0.6" stroke-linejoin="round"><path class="c87" d="M355.7 331.8l1.4-5.1-1.1-5.8-1.5 5.6z"/><path class="c78" d="M354.2 336.7l1.5-4.9-1.2-5.3-1.4 5.4z"/><path class="c70" d="M352.7 341.4l1.5-4.7-1.1-4.8-1.5 5.1z"/><path class="c62" d="M351.2 345.9l1.5-4.5-1.1-4.4-1.5 5z"/><path class="c54" d="M349.6 350.3l1.6-4.4-1.1-3.9-1.6 4.8z"/><path class="c47" d="M348.1 354.5l1.5-4.2-1.1-3.5-1.5 4.6z"/><path class="c40" d="M346.5 358.5l1.6-4-1.1-3.1-1.6 4.3z"/><path class="c34" d="M344.8 362.2l1.7-3.7-1.1-2.8-1.7 4.1z"/><path class="c28" d="M343.2 365.8l1.6-3.6-1.1-2.4-1.7 3.9z"/><path class="c22" d="M341.4 369.1l1.8-3.3-1.2-2.1-1.7 3.7z"/><path class="c17" d="M339.6 372.3l1.8-3.2-1.1-1.7-1.8 3.4z"/><path class="c13" d="M337.8 375.1l1.8-2.8-1.1-1.5-1.8 3.1z"/><path class="c9" d="M335.8 377.7l2-2.6-1.1-1.2-2 2.8z"/><path class="c5" d="M333.7 380.1l2.1-2.4-1.1-1-2.1 2.5z"/><path class="c3" d="M331.4 382.1l2.3-2-1.1-0.9-2.3 2.2z"/><path class="c1" d="M328.3 383.9l3.1-1.8-1.1-0.7-3.1 1.8z"/><path class="c0" d="M325.1 384.6l3.2-0.7-1.1-0.7-3.2 0.7z"/><path class="c2" d="M322.8 384.4l2.3 0.2-1.1-0.7-2.3-0.3z"/><path class="c4" d="M320.7 383.7l2.1 0.7-1.1-0.8-2.1-0.8z"/><path class="c7" d="M318.7 382.6l2 1.1-1.1-0.9-2-1.3z"/><path class="c11" d="M316.9 381.2l1.8 1.4-1.1-1.1-1.8-1.6z"/><path class="c15" d="M315.1 379.5l1.8 1.7-1.1-1.3-1.8-2z"/><path class="c19" d="M313.4 377.6l1.7 1.9-1.1-1.6-1.7-2.2z"/><path class="c30" d="M310.1 372.8l1.6 2.5-1.1-2.2-1.7-2.8z"/><path class="c36" d="M308.5 370.1l1.6 2.7-1.2-2.5-1.6-3.1z"/><path class="c43" d="M306.9 367.2l1.6 2.9-1.2-2.9-1.5-3.3z"/><path class="c50" d="M305.3 364l1.6 3.2-1.1-3.3-1.6-3.5z"/><path class="c57" d="M303.8 360.7l1.5 3.3-1.1-3.6-1.5-3.8z"/><path class="c64" d="M302.3 357.1l1.5 3.6-1.1-4.1-1.5-4z"/><path class="c72" d="M300.9 353.4l1.4 3.7-1.1-4.5-1.4-4.1z"/><path class="c81" d="M299.4 349.5l1.5 3.9-1.1-4.9-1.5-4.4z"/><path class="c78" d="M356.8 336.9l1.4-4.6-1.1-5.6-1.4 5.1z"/><path class="c70" d="M355.3 341.3l1.5-4.4-1.1-5.1-1.5 4.9z"/><path class="c63" d="M353.8 345.6l1.5-4.3-1.1-4.6-1.5 4.7z"/><path class="c56" d="M352.3 349.7l1.5-4.1-1.1-4.2-1.5 4.5z"/><path class="c49" d="M350.8 353.7l1.5-4-1.1-3.8-1.6 4.4z"/><path class="c42" d="M349.2 357.5l1.6-3.8-1.2-3.4-1.5 4.2z"/><path class="c36" d="M347.6 361.1l1.6-3.6-1.1-3-1.6 4z"/><path class="c31" d="M346 364.6l1.6-3.5-1.1-2.6-1.7 3.7z"/><path class="c25" d="M344.3 367.8l1.7-3.2-1.2-2.4-1.6 3.6z"/><path class="c20" d="M342.5 370.9l1.8-3.1-1.1-2-1.8 3.3z"/><path class="c16" d="M340.8 373.7l1.7-2.8-1.1-1.8-1.8 3.2z"/><path class="c12" d="M338.9 376.4l1.9-2.7-1.2-1.4-1.8 2.8z"/><path class="c8" d="M336.9 378.8l2-2.4-1.1-1.3-2 2.6z"/><path class="c5" d="M334.9 380.9l2-2.1-1.1-1.1-2.1 2.4z"/><path class="c2" d="M332.5 382.8l2.4-1.9-1.2-0.8-2.3 2z"/><path class="c1" d="M329.4 384.5l3.1-1.7-1.1-0.7-3.1 1.8z"/><path class="c0" d="M326.2 385.3l3.2-0.8-1.1-0.6-3.2 0.7z"/><path class="c2" d="M323.9 385.2l2.3 0.1-1.1-0.7-2.3-0.2z"/><path class="c4" d="M321.8 384.6l2.1 0.6-1.1-0.8-2.1-0.7z"/><path class="c6" d="M319.9 383.8l1.9 0.8-1.1-0.9-2-1.1z"/><path class="c9" d="M318 382.6l1.9 1.2-1.2-1.2-1.8-1.4z"/><path class="c13" d="M316.2 381.1l1.8 1.5-1.1-1.4-1.8-1.7z"/><path class="c17" d="M314.5 379.4l1.7 1.7-1.1-1.6-1.7-1.9z"/><path class="c22" d="M312.8 377.4l1.7 2-1.1-1.8-1.7-2.3z"/><path class="c27" d="M311.2 375.3l1.6 2.1-1.1-2.1-1.6-2.5z"/><path class="c33" d="M309.6 372.9l1.6 2.4-1.1-2.5-1.6-2.7z"/><path class="c38" d="M308 370.3l1.6 2.6-1.1-2.8-1.6-2.9z"/><path class="c44" d="M306.5 367.6l1.5 2.7-1.1-3.1-1.6-3.2z"/><path class="c51" d="M304.9 364.6l1.6 3-1.2-3.6-1.5-3.3z"/><path class="c58" d="M303.5 361.5l1.4 3.1-1.1-3.9-1.5-3.6z"/><path class="c65" d="M302 358.2l1.5 3.3-1.2-4.4-1.4-3.7z"/><path class="c72" d="M300.5 354.8l1.5 3.4-1.1-4.8-1.5-3.9z"/><path class="c70" d="M357.9 341.9l1.5-4.2-1.2-5.4-1.4 4.6z"/><path class="c63" d="M356.5 345.9l1.4-4-1.1-5-1.5 4.4z"/><path class="c56" d="M355 349.7l1.5-3.8-1.2-4.6-1.5 4.3z"/><path class="c50" d="M353.4 353.4l1.6-3.7-1.2-4.1-1.5 4.1z"/><path class="c44" d="M351.9 357l1.5-3.6-1.1-3.7-1.5 4z"/><path class="c38" d="M350.3 360.4l1.6-3.4-1.1-3.3-1.6 3.8z"/><path class="c32" d="M348.7 363.7l1.6-3.3-1.1-2.9-1.6 3.6z"/><path class="c27" d="M347.1 366.8l1.6-3.1-1.1-2.6-1.6 3.5z"/><path class="c22" d="M345.4 369.8l1.7-3-1.1-2.2-1.7 3.2z"/><path class="c18" d="M343.7 372.6l1.7-2.8-1.1-2-1.8 3.1z"/><path class="c14" d="M341.9 375.2l1.8-2.6-1.2-1.7-1.7 2.8z"/><path class="c10" d="M340 377.6l1.9-2.4-1.1-1.5-1.9 2.7z"/><path class="c7" d="M338.1 379.8l1.9-2.2-1.1-1.2-2 2.4z"/><path class="c4" d="M336 381.8l2.1-2-1.2-1-2 2.1z"/><path class="c2" d="M333.7 383.5l2.3-1.7-1.1-0.9-2.4 1.9z"/><path class="c1" d="M330.5 385.2l3.2-1.7-1.2-0.7-3.1 1.7z"/><path class="c0" d="M327.4 385.9l3.1-0.7-1.1-0.7-3.2 0.8z"/><path class="c1" d="M325.1 386l2.3-0.1-1.2-0.6-2.3-0.1z"/><path class="c3" d="M323 385.6l2.1 0.4-1.2-0.8-2.1-0.6z"/><path class="c6" d="M321 384.9l2 0.7-1.2-1-1.9-0.8z"/><path class="c8" d="M319.1 383.9l1.9 1-1.1-1.1-1.9-1.2z"/><path class="c12" d="M317.4 382.6l1.7 1.3-1.1-1.3-1.8-1.5z"/><path class="c16" d="M315.6 381.2l1.8 1.4-1.2-1.5-1.7-1.7z"/><path class="c20" d="M314 379.5l1.6 1.7-1.1-1.8-1.7-2z"/><path class="c24" d="M312.3 377.7l1.7 1.8-1.2-2.1-1.6-2.1z"/><path class="c29" d="M310.7 375.6l1.6 2.1-1.1-2.4-1.6-2.4z"/><path class="c34" d="M309.1 373.4l1.6 2.2-1.1-2.7-1.6-2.6z"/><path class="c40" d="M307.6 371l1.5 2.4-1.1-3.1-1.5-2.7z"/><path class="c45" d="M306.1 368.4l1.5 2.6-1.1-3.4-1.6-3z"/><path class="c52" d="M304.6 365.7l1.5 2.7-1.2-3.8-1.4-3.1z"/><path class="c58" d="M303.1 362.8l1.5 2.9-1.1-4.2-1.5-3.3z"/><path class="c65" d="M301.7 359.8l1.4 3-1.1-4.6-1.5-3.4z"/><path class="c61" d="M359.1 346.6l1.4-3.7-1.1-5.2-1.5 4.2z"/><path class="c55" d="M357.6 350.2l1.5-3.6-1.2-4.7-1.4 4z"/><path class="c49" d="M356.1 353.7l1.5-3.5-1.1-4.3-1.5 3.8z"/><path class="c44" d="M354.6 357l1.5-3.3-1.1-4-1.6 3.7z"/><path class="c39" d="M353.1 360.2l1.5-3.2-1.2-3.6-1.5 3.6z"/><path class="c33" d="M351.5 363.3l1.6-3.1-1.2-3.2-1.6 3.4z"/><path class="c29" d="M349.9 366.2l1.6-2.9-1.2-2.9-1.6 3.3z"/><path class="c24" d="M348.3 369l1.6-2.8-1.2-2.5-1.6 3.1z"/><path class="c20" d="M346.6 371.7l1.7-2.7-1.2-2.2-1.7 3z"/><path class="c16" d="M344.8 374.2l1.8-2.5-1.2-1.9-1.7 2.8z"/><path class="c12" d="M343.1 376.6l1.7-2.4-1.1-1.6-1.8 2.6z"/><path class="c6" d="M339.2 380.8l2-2-1.2-1.2-1.9 2.2z"/><path class="c4" d="M337.1 382.6l2.1-1.8-1.1-1-2.1 2z"/><path class="c2" d="M334.8 384.3l2.3-1.7-1.1-0.8-2.3 1.7z"/><path class="c1" d="M331.7 385.8l3.1-1.5-1.1-0.8-3.2 1.7z"/><path class="c0" d="M328.5 386.7l3.2-0.9-1.2-0.6-3.1 0.7z"/><path class="c1" d="M326.2 386.8l2.3-0.1-1.1-0.8-2.3 0.1z"/><path class="c3" d="M324.1 386.5l2.1 0.3-1.1-0.8-2.1-0.4z"/><path class="c5" d="M322.2 386l1.9 0.5-1.1-0.9-2-0.7z"/><path class="c7" d="M320.3 385.2l1.9 0.8-1.2-1.1-1.9-1z"/><path class="c10" d="M318.5 384.1l1.8 1.1-1.2-1.3-1.7-1.3z"/><path class="c14" d="M316.8 382.9l1.7 1.2-1.1-1.5-1.8-1.4z"/><path class="c17" d="M315.1 381.5l1.7 1.4-1.2-1.7-1.6-1.7z"/><path class="c21" d="M313.5 380l1.6 1.5-1.1-2-1.7-1.8z"/><path class="c26" d="M311.9 378.2l1.6 1.8-1.2-2.3-1.6-2.1z"/><path class="c30" d="M310.3 376.3l1.6 1.9-1.2-2.6-1.6-2.2z"/><path class="c35" d="M308.8 374.3l1.5 2-1.2-2.9-1.5-2.4z"/><path class="c40" d="M307.2 372.1l1.6 2.2-1.2-3.3-1.5-2.6z"/><path class="c46" d="M305.8 369.8l1.4 2.3-1.1-3.7-1.5-2.7z"/><path class="c51" d="M304.3 367.3l1.5 2.5-1.2-4.1-1.5-2.9z"/><path class="c57" d="M302.8 364.7l1.5 2.6-1.2-4.5-1.4-3z"/><path class="c54" d="M360.3 351.2l1.4-3.3-1.2-5-1.4 3.7z"/><path class="c48" d="M358.8 354.4l1.5-3.2-1.2-4.6-1.5 3.6z"/><path class="c43" d="M357.3 357.4l1.5-3-1.2-4.2-1.5 3.5z"/><path class="c38" d="M355.8 360.4l1.5-3-1.2-3.7-1.5 3.3z"/><path class="c34" d="M354.2 363.3l1.6-2.9-1.2-3.4-1.5 3.2z"/><path class="c29" d="M352.7 366l1.5-2.7-1.1-3.1-1.6 3.1z"/><path class="c25" d="M351.1 368.6l1.6-2.6-1.2-2.7-1.6 2.9z"/><path class="c21" d="M349.4 371.2l1.7-2.6-1.2-2.4-1.6 2.8z"/><path class="c17" d="M347.8 373.6l1.6-2.4-1.1-2.2-1.7 2.7z"/><path class="c14" d="M346 375.8l1.8-2.2-1.2-1.9-1.8 2.5z"/><path class="c11" d="M344.2 378l1.8-2.2-1.2-1.6-1.7 2.4z"/><path class="c3" d="M338.3 383.5l2.1-1.7-1.2-1-2.1 1.8z"/><path class="c2" d="M336 385l2.3-1.5-1.2-0.9-2.3 1.7z"/><path class="c0" d="M332.9 386.5l3.1-1.5-1.2-0.7-3.1 1.5zM329.7 387.4l3.2-0.9-1.2-0.7-3.2 0.9z"/><path class="c1" d="M327.4 387.6l2.3-0.2-1.2-0.7-2.3 0.1z"/><path class="c2" d="M325.3 387.4l2.1 0.2-1.2-0.8-2.1-0.3z"/><path class="c4" d="M323.3 387l2 0.4-1.2-0.9-1.9-0.5z"/><path class="c7" d="M321.5 386.4l1.8 0.6-1.1-1-1.9-0.8z"/><path class="c9" d="M319.7 385.6l1.8 0.8-1.2-1.2-1.8-1.1z"/><path class="c12" d="M318 384.6l1.7 1-1.2-1.5-1.7-1.2z"/><path class="c15" d="M316.3 383.5l1.7 1.1-1.2-1.7-1.7-1.4z"/><path class="c19" d="M314.7 382.2l1.6 1.3-1.2-2-1.6-1.5z"/><path class="c22" d="M313.1 380.8l1.6 1.4-1.2-2.2-1.6-1.8z"/><path class="c26" d="M311.5 379.2l1.6 1.6-1.2-2.6-1.6-1.9z"/><path class="c31" d="M309.9 377.5l1.6 1.7-1.2-2.9-1.5-2z"/><path class="c35" d="M308.4 375.6l1.5 1.9-1.1-3.2-1.6-2.2z"/><path class="c40" d="M306.9 373.7l1.5 1.9-1.2-3.5-1.4-2.3z"/><path class="c45" d="M305.5 371.6l1.4 2.1-1.1-3.9-1.5-2.5z"/><path class="c50" d="M304 369.4l1.5 2.2-1.2-4.3-1.5-2.6z"/><path class="c47" d="M361.5 355.6l1.4-2.9-1.2-4.8-1.4 3.3z"/><path class="c42" d="M360 358.4l1.5-2.8-1.2-4.4-1.5 3.2z"/><path class="c37" d="M358.5 361.1l1.5-2.7-1.2-4-1.5 3z"/><path class="c33" d="M357 363.7l1.5-2.6-1.2-3.7-1.5 3z"/><path class="c29" d="M355.4 366.2l1.6-2.5-1.2-3.3-1.6 2.9z"/><path class="c25" d="M353.9 368.7l1.5-2.5-1.2-2.9-1.5 2.7z"/><path class="c22" d="M352.3 371l1.6-2.3-1.2-2.7-1.6 2.6z"/><path class="c18" d="M350.6 373.2l1.7-2.2-1.2-2.4-1.7 2.6z"/><path class="c15" d="M349 375.4l1.6-2.2-1.2-2-1.6 2.4z"/><path class="c12" d="M347.2 377.4l1.8-2-1.2-1.8-1.8 2.2z"/><path class="c9" d="M345.4 379.3l1.8-1.9-1.2-1.6-1.8 2.2z"/><path class="c1" d="M337.2 385.8l2.3-1.4-1.2-0.9-2.3 1.5z"/><path class="c0" d="M334.1 387.2l3.1-1.4-1.2-0.8-3.1 1.5zM330.9 388.1l3.2-0.9-1.2-0.7-3.2 0.9z"/><path class="c1" d="M328.6 388.4l2.3-0.3-1.2-0.7-2.3 0.2z"/><path class="c2" d="M326.5 388.4l2.1 0-1.2-0.8-2.1-0.2z"/><path class="c4" d="M324.5 388.1l2 0.3-1.2-1-2-0.4z"/><path class="c6" d="M322.7 387.7l1.8 0.4-1.2-1.1-1.8-0.6z"/><path class="c8" d="M320.9 387.1l1.8 0.6-1.2-1.3-1.8-0.8z"/><path class="c10" d="M319.2 386.3l1.7 0.8-1.2-1.5-1.7-1z"/><path class="c13" d="M317.5 385.4l1.7 0.9-1.2-1.7-1.7-1.1z"/><path class="c16" d="M315.9 384.4l1.6 1-1.2-1.9-1.6-1.3z"/><path class="c19" d="M314.3 383.2l1.6 1.2-1.2-2.2-1.6-1.4z"/><path class="c23" d="M312.7 381.9l1.6 1.3-1.2-2.4-1.6-1.6z"/><path class="c27" d="M311.1 380.5l1.6 1.4-1.2-2.7-1.6-1.7z"/><path class="c30" d="M309.6 379l1.5 1.5-1.2-3-1.5-1.9z"/><path class="c35" d="M308.1 377.4l1.5 1.6-1.2-3.4-1.5-1.9z"/><path class="c39" d="M306.7 375.7l1.4 1.7-1.2-3.7-1.4-2.1z"/><path class="c43" d="M305.2 373.9l1.5 1.8-1.2-4.1-1.5-2.2z"/><path class="c40" d="M362.7 359.8l1.4-2.6-1.2-4.5-1.4 2.9z"/><path class="c36" d="M361.2 362.2l1.5-2.4-1.2-4.2-1.5 2.8z"/><path class="c32" d="M359.7 364.6l1.5-2.4-1.2-3.8-1.5 2.7z"/><path class="c28" d="M358.2 366.9l1.5-2.3-1.2-3.5-1.5 2.6z"/><path class="c25" d="M356.7 369.1l1.5-2.2-1.2-3.2-1.6 2.5z"/><path class="c22" d="M355.1 371.2l1.6-2.1-1.3-2.9-1.5 2.5z"/><path class="c18" d="M353.5 373.3l1.6-2.1-1.2-2.5-1.6 2.3z"/><path class="c16" d="M351.9 375.2l1.6-1.9-1.2-2.3-1.7 2.2z"/><path class="c13" d="M350.2 377.1l1.7-1.9-1.3-2-1.6 2.2z"/><path class="c10" d="M348.4 378.9l1.8-1.8-1.2-1.7-1.8 2z"/><path class="c8" d="M346.7 380.7l1.7-1.8-1.2-1.5-1.8 1.9z"/><path class="c6" d="M344.8 382.3l1.9-1.6-1.3-1.4-1.8 1.8z"/><path class="c0" d="M335.3 387.9l3.1-1.4-1.2-0.7-3.1 1.4zM332.1 388.8l3.2-0.9-1.2-0.7-3.2 0.9z"/><path class="c1" d="M329.8 389.2l2.3-0.4-1.2-0.7-2.3 0.3z"/><path class="c2" d="M327.7 389.3l2.1-0.1-1.2-0.8-2.1 0z"/><path class="c3" d="M325.8 389.2l1.9 0.1-1.2-0.9-2-0.3z"/><path class="c5" d="M323.9 388.9l1.9 0.3-1.3-1.1-1.8-0.4z"/><path class="c7" d="M322.1 388.5l1.8 0.4-1.2-1.2-1.8-0.6z"/><path class="c9" d="M320.4 387.9l1.7 0.6-1.2-1.4-1.7-0.8z"/><path class="c11" d="M318.7 387.3l1.7 0.6-1.2-1.6-1.7-0.9z"/><path class="c14" d="M317.1 386.5l1.6 0.8-1.2-1.9-1.6-1z"/><path class="c17" d="M315.5 385.6l1.6 0.9-1.2-2.1-1.6-1.2z"/><path class="c20" d="M313.9 384.6l1.6 1-1.2-2.4-1.6-1.3z"/><path class="c23" d="M312.4 383.5l1.5 1.1-1.2-2.7-1.6-1.4z"/><path class="c26" d="M310.8 382.3l1.6 1.2-1.3-3-1.5-1.5z"/><path class="c29" d="M309.4 381l1.4 1.3-1.2-3.3-1.5-1.6z"/><path class="c33" d="M307.9 379.6l1.5 1.4-1.3-3.6-1.4-1.7z"/><path class="c37" d="M306.4 378.2l1.5 1.4-1.2-3.9-1.5-1.8z"/><path class="c33" d="M363.9 363.7l1.5-2.1-1.3-4.4-1.4 2.6z"/><path class="c30" d="M362.5 365.8l1.4-2.1-1.2-3.9-1.5 2.4z"/><path class="c27" d="M361 367.9l1.5-2.1-1.3-3.6-1.5 2.4z"/><path class="c24" d="M359.5 369.9l1.5-2-1.3-3.3-1.5 2.3z"/><path class="c21" d="M357.9 371.8l1.6-1.9-1.3-3-1.5 2.2z"/><path class="c18" d="M356.3 373.7l1.6-1.9-1.2-2.7-1.6 2.1z"/><path class="c15" d="M354.7 375.5l1.6-1.8-1.2-2.5-1.6 2.1z"/><path class="c13" d="M353.1 377.2l1.6-1.7-1.2-2.2-1.6 1.9z"/><path class="c11" d="M351.4 378.8l1.7-1.6-1.2-2-1.7 1.9z"/><path class="c9" d="M349.7 380.4l1.7-1.6-1.2-1.7-1.8 1.8z"/><path class="c7" d="M347.9 382l1.8-1.6-1.3-1.5-1.7 1.8z"/><path class="c5" d="M346.1 383.4l1.8-1.4-1.2-1.3-1.9 1.6z"/><path class="c0" d="M336.5 388.6l3.2-1.3-1.3-0.8-3.1 1.4zM333.4 389.6l3.1-1-1.2-0.7-3.2 0.9z"/><path class="c1" d="M331.1 390l2.3-0.4-1.3-0.8-2.3 0.4z"/><path class="c2" d="M329 390.2l2.1-0.2-1.3-0.8-2.1 0.1z"/><path class="c3" d="M327 390.2l2 0-1.3-0.9-1.9-0.1z"/><path class="c4" d="M325.2 390.1l1.8 0.1-1.2-1-1.9-0.3z"/><path class="c6" d="M323.4 389.9l1.8 0.2-1.3-1.2-1.8-0.4z"/><path class="c7" d="M321.6 389.5l1.8 0.4-1.3-1.4-1.7-0.6z"/><path class="c9" d="M320 389.1l1.6 0.4-1.2-1.6-1.7-0.6z"/><path class="c12" d="M318.3 388.5l1.7 0.6-1.3-1.8-1.6-0.8z"/><path class="c14" d="M316.7 387.9l1.6 0.6-1.2-2-1.6-0.9z"/><path class="c16" d="M315.2 387.1l1.5 0.8-1.2-2.3-1.6-1z"/><path class="c19" d="M313.6 386.3l1.6 0.8-1.3-2.5-1.5-1.1z"/><path class="c22" d="M312.1 385.4l1.5 0.9-1.2-2.8-1.6-1.2z"/><path class="c25" d="M310.6 384.4l1.5 1-1.3-3.1-1.4-1.3z"/><path class="c28" d="M309.1 383.4l1.5 1-1.2-3.4-1.5-1.4z"/><path class="c31" d="M307.7 382.3l1.4 1.1-1.2-3.8-1.5-1.4z"/><path class="c27" d="M365.2 367.5l1.5-1.9-1.3-4-1.5 2.1z"/><path class="c24" d="M363.7 369.3l1.5-1.8-1.3-3.8-1.4 2.1z"/><path class="c22" d="M362.3 371l1.4-1.7-1.2-3.5-1.5 2.1z"/><path class="c19" d="M360.7 372.7l1.6-1.7-1.3-3.1-1.5 2z"/><path class="c17" d="M359.2 374.4l1.5-1.7-1.2-2.8-1.6 1.9z"/><path class="c15" d="M357.6 376l1.6-1.6-1.3-2.6-1.6 1.9z"/><path class="c13" d="M356 377.5l1.6-1.5-1.3-2.3-1.6 1.8z"/><path class="c11" d="M354.4 379.1l1.6-1.6-1.3-2-1.6 1.7z"/><path class="c9" d="M352.7 380.5l1.7-1.4-1.3-1.9-1.7 1.6z"/><path class="c7" d="M351 381.9l1.7-1.4-1.3-1.7-1.7 1.6z"/><path class="c5" d="M349.2 383.3l1.8-1.4-1.3-1.5-1.8 1.6z"/><path class="c4" d="M347.3 384.5l1.9-1.2-1.3-1.3-1.8 1.4z"/><path class="c0" d="M334.7 390.3l3.1-0.9-1.3-0.8-3.1 1z"/><path class="c1" d="M332.4 390.8l2.3-0.5-1.3-0.7-2.3 0.4zM330.3 391.1l2.1-0.3-1.3-0.8-2.1 0.2z"/><path class="c2" d="M328.3 391.3l2-0.2-1.3-0.9-2 0z"/><path class="c3" d="M326.4 391.3l1.9 0-1.3-1.1-1.8-0.1z"/><path class="c5" d="M324.7 391.2l1.7 0.1-1.2-1.2-1.8-0.2z"/><path class="c6" d="M322.9 391.1l1.8 0.1-1.3-1.3-1.8-0.4z"/><path class="c8" d="M321.2 390.8l1.7 0.3-1.3-1.6-1.6-0.4z"/><path class="c9" d="M319.6 390.5l1.6 0.3-1.2-1.7-1.7-0.6z"/><path class="c11" d="M318 390l1.6 0.5-1.3-2-1.6-0.6z"/><path class="c13" d="M316.4 389.5l1.6 0.5-1.3-2.1-1.5-0.8z"/><path class="c16" d="M314.9 389l1.5 0.5-1.2-2.4-1.6-0.8z"/><path class="c18" d="M313.4 388.4l1.5 0.6-1.3-2.7-1.5-0.9z"/><path class="c20" d="M311.9 387.7l1.5 0.7-1.3-3-1.5-1z"/><path class="c23" d="M310.4 386.9l1.5 0.8-1.3-3.3-1.5-1z"/><path class="c25" d="M309 386.1l1.4 0.8-1.3-3.5-1.4-1.1z"/><path class="c22" d="M366.5 371l1.5-1.5-1.3-3.9-1.5 1.9z"/><path class="c19" d="M365.1 372.5l1.4-1.5-1.3-3.5-1.5 1.8z"/><path class="c17" d="M363.6 374l1.5-1.5-1.4-3.2-1.4 1.7z"/><path class="c15" d="M362.1 375.4l1.5-1.4-1.3-3-1.6 1.7z"/><path class="c14" d="M360.5 376.8l1.6-1.4-1.4-2.7-1.5 1.7z"/><path class="c12" d="M358.9 378.2l1.6-1.4-1.3-2.4-1.6 1.6z"/><path class="c10" d="M357.3 379.6l1.6-1.4-1.3-2.2-1.6 1.5z"/><path class="c8" d="M355.7 380.9l1.6-1.3-1.3-2.1-1.6 1.6z"/><path class="c7" d="M354 382.1l1.7-1.2-1.3-1.8-1.7 1.4z"/><path class="c6" d="M352.3 383.3l1.7-1.2-1.3-1.6-1.7 1.4z"/><path class="c4" d="M350.5 384.5l1.8-1.2-1.3-1.4-1.8 1.4z"/><path class="c3" d="M348.7 385.7l1.8-1.2-1.3-1.2-1.9 1.2z"/><path class="c2" d="M346.7 386.8l2-1.1-1.4-1.2-1.9 1.3z"/><path class="c0" d="M336 391.1l3.1-0.9-1.3-0.8-3.1 0.9zM333.7 391.7l2.3-0.6-1.3-0.8-2.3 0.5z"/><path class="c1" d="M331.6 392.1l2.1-0.4-1.3-0.9-2.1 0.3z"/><path class="c2" d="M329.6 392.3l2-0.2-1.3-1-2 0.2z"/><path class="c3" d="M327.8 392.5l1.8-0.2-1.3-1-1.9 0z"/><path class="c4" d="M326 392.6l1.8-0.1-1.4-1.2-1.7-0.1z"/><path class="c5" d="M324.2 392.6l1.8 0-1.3-1.4-1.8-0.1z"/><path class="c6" d="M322.6 392.5l1.6 0.1-1.3-1.5-1.7-0.3z"/><path class="c8" d="M320.9 392.3l1.7 0.2-1.4-1.7-1.6-0.3z"/><path class="c9" d="M319.3 392.1l1.6 0.2-1.3-1.8-1.6-0.5z"/><path class="c11" d="M317.8 391.9l1.5 0.2-1.3-2.1-1.6-0.5z"/><path class="c12" d="M316.2 391.5l1.6 0.4-1.4-2.4-1.5-0.5z"/><path class="c14" d="M314.7 391.1l1.5 0.4-1.3-2.5-1.5-0.6z"/><path class="c16" d="M313.2 390.7l1.5 0.4-1.3-2.7-1.5-0.7z"/><path class="c18" d="M311.7 390.2l1.5 0.5-1.3-3-1.5-0.8z"/><path class="c20" d="M310.3 389.7l1.4 0.5-1.3-3.3-1.4-0.8z"/><path class="c17" d="M367.9 374.3l1.5-1.3-1.4-3.5-1.5 1.5z"/><path class="c15" d="M366.4 375.6l1.5-1.3-1.4-3.3-1.4 1.5z"/><path class="c13" d="M364.9 376.8l1.5-1.2-1.3-3.1-1.5 1.5z"/><path class="c12" d="M363.4 378l1.5-1.2-1.3-2.8-1.5 1.4z"/><path class="c10" d="M361.9 379.2l1.5-1.2-1.3-2.6-1.6 1.4z"/><path class="c9" d="M360.3 380.3l1.6-1.1-1.4-2.4-1.6 1.4z"/><path class="c8" d="M358.7 381.5l1.6-1.2-1.4-2.1-1.6 1.4z"/><path class="c6" d="M357.1 382.6l1.6-1.1-1.4-1.9-1.6 1.3z"/><path class="c5" d="M355.4 383.7l1.7-1.1-1.4-1.7-1.7 1.2z"/><path class="c4" d="M353.7 384.7l1.7-1-1.4-1.6-1.7 1.2z"/><path class="c3" d="M351.9 385.8l1.8-1.1-1.4-1.4-1.8 1.2z"/><path class="c2" d="M350 386.8l1.9-1-1.4-1.3-1.8 1.2zM348.1 387.8l1.9-1-1.3-1.1-2 1.1z"/><path class="c0" d="M335 392.6l2.4-0.7-1.4-0.8-2.3 0.6z"/><path class="c1" d="M332.9 393l2.1-0.4-1.3-0.9-2.1 0.4zM331 393.4l1.9-0.4-1.3-0.9-2 0.2z"/><path class="c2" d="M329.1 393.7l1.9-0.3-1.4-1.1-1.8 0.2z"/><path class="c3" d="M327.3 393.9l1.8-0.2-1.3-1.2-1.8 0.1z"/><path class="c4" d="M325.6 394l1.7-0.1-1.3-1.3-1.8 0z"/><path class="c5" d="M323.9 394.1l1.7-0.1-1.4-1.4-1.6-0.1z"/><path class="c6" d="M322.3 394.1l1.6 0-1.3-1.6-1.7-0.2z"/><path class="c7" d="M320.7 394.1l1.6 0-1.4-1.8-1.6-0.2z"/><path class="c8" d="M319.1 394l1.6 0.1-1.4-2-1.5-0.2z"/><path class="c9" d="M317.6 393.9l1.5 0.1-1.3-2.1-1.6-0.4z"/><path class="c11" d="M316.1 393.8l1.5 0.1-1.4-2.4-1.5-0.4z"/><path class="c12" d="M314.6 393.6l1.5 0.2-1.4-2.7-1.5-0.4z"/><path class="c14" d="M313.1 393.3l1.5 0.3-1.4-2.9-1.5-0.5z"/><path class="c15" d="M311.7 393.1l1.4 0.2-1.4-3.1-1.4-0.5z"/><path class="c12" d="M369.3 377.3l1.5-1-1.4-3.3-1.5 1.3z"/><path class="c11" d="M367.9 378.4l1.4-1.1-1.4-3-1.5 1.3z"/><path class="c10" d="M366.4 379.4l1.5-1-1.5-2.8-1.5 1.2z"/><path class="c9" d="M364.8 380.4l1.6-1-1.5-2.6-1.5 1.2z"/><path class="c8" d="M363.3 381.4l1.5-1-1.4-2.4-1.5 1.2z"/><path class="c7" d="M361.7 382.3l1.6-0.9-1.4-2.2-1.6 1.1z"/><path class="c6" d="M360.1 383.3l1.6-1-1.4-2-1.6 1.2z"/><path class="c5" d="M358.5 384.2l1.6-0.9-1.4-1.8-1.6 1.1z"/><path class="c4" d="M356.8 385.2l1.7-1-1.4-1.6-1.7 1.1z"/><path class="c3" d="M355.1 386.1l1.7-0.9-1.4-1.5-1.7 1z"/><path class="c2" d="M353.3 387l1.8-0.9-1.4-1.4-1.8 1.1zM351.4 387.9l1.9-0.9-1.4-1.2-1.9 1z"/><path class="c1" d="M349.5 388.8l1.9-0.9-1.4-1.1-1.9 1zM334.4 394l2.1-0.6-1.5-0.8-2.1 0.4zM332.4 394.4l2-0.4-1.5-1-1.9 0.4zM330.5 394.8l1.9-0.4-1.4-1-1.9 0.3z"/><path class="c2" d="M328.8 395.1l1.7-0.3-1.4-1.1-1.8 0.2z"/><path class="c3" d="M327 395.4l1.8-0.3-1.5-1.2-1.7 0.1zM325.4 395.6l1.6-0.2-1.4-1.4-1.7 0.1z"/><path class="c4" d="M323.7 395.8l1.7-0.2-1.5-1.5-1.6 0z"/><path class="c5" d="M322.1 396l1.6-0.2-1.4-1.7-1.6 0z"/><path class="c6" d="M320.5 396.1l1.6-0.1-1.4-1.9-1.6-0.1z"/><path class="c7" d="M319 396.2l1.5-0.1-1.4-2.1-1.5-0.1z"/><path class="c8" d="M317.5 396.2l1.5 0-1.4-2.3-1.5-0.1z"/><path class="c9" d="M316 396.2l1.5 0-1.4-2.4-1.5-0.2z"/><path class="c10" d="M314.5 396.2l1.5 0-1.4-2.6-1.5-0.3z"/><path class="c11" d="M313.1 396.2l1.4 0-1.4-2.9-1.4-0.2z"/><path class="c8" d="M370.8 380.1l1.5-0.8-1.5-3-1.5 1z"/><path class="c7" d="M369.3 380.9l1.5-0.8-1.5-2.8-1.4 1.1zM367.9 381.8l1.4-0.9-1.4-2.5-1.5 1z"/><path class="c6" d="M366.3 382.6l1.6-0.8-1.5-2.4-1.6 1z"/><path class="c5" d="M364.8 383.4l1.5-0.8-1.5-2.2-1.5 1z"/><path class="c4" d="M363.2 384.2l1.6-0.8-1.5-2-1.6 0.9zM361.6 385l1.6-0.8-1.5-1.9-1.6 1z"/><path class="c3" d="M360 385.8l1.6-0.8-1.5-1.7-1.6 0.9zM358.3 386.6l1.7-0.8-1.5-1.6-1.7 1z"/><path class="c2" d="M356.6 387.4l1.7-0.8-1.5-1.4-1.7 0.9zM354.8 388.2l1.8-0.8-1.5-1.3-1.8 0.9z"/><path class="c1" d="M352.9 389l1.9-0.8-1.5-1.2-1.9 0.9zM351 389.8l1.9-0.8-1.5-1.1-1.9 0.9z"/><path class="c0" d="M348.9 390.6l2.1-0.8-1.5-1-2.1 0.9z"/><path class="c1" d="M333.9 395.5l2-0.5-1.5-1-2 0.4zM332 396l1.9-0.5-1.5-1.1-1.9 0.4zM330.3 396.4l1.7-0.4-1.5-1.2-1.7 0.3z"/><path class="c2" d="M328.5 396.8l1.8-0.4-1.5-1.3-1.8 0.3zM326.9 397.1l1.6-0.3-1.5-1.4-1.6 0.2z"/><path class="c3" d="M325.2 397.5l1.7-0.4-1.5-1.5-1.7 0.2zM323.6 397.8l1.6-0.3-1.5-1.7-1.6 0.2z"/><path class="c4" d="M322 398l1.6-0.2-1.5-1.8-1.6 0.1z"/><path class="c5" d="M320.5 398.3l1.5-0.3-1.5-1.9-1.5 0.1zM319 398.5l1.5-0.2-1.5-2.1-1.5 0z"/><path class="c6" d="M317.5 398.7l1.5-0.2-1.5-2.3-1.5 0z"/><path class="c7" d="M316 398.9l1.5-0.2-1.5-2.5-1.5 0z"/><path class="c8" d="M314.6 399l1.4-0.1-1.5-2.7-1.4 0z"/><path class="c5" d="M372.4 382.6l1.5-0.7-1.6-2.6-1.5 0.8z"/><path class="c4" d="M370.9 383.3l1.5-0.7-1.6-2.5-1.5 0.8zM369.5 383.9l1.4-0.6-1.6-2.4-1.4 0.9z"/><path class="c3" d="M367.9 384.6l1.6-0.7-1.6-2.1-1.6 0.8zM366.4 385.3l1.5-0.7-1.6-2-1.5 0.8zM364.8 385.9l1.6-0.6-1.6-1.9-1.6 0.8z"/><path class="c2" d="M363.2 386.6l1.6-0.7-1.6-1.7-1.6 0.8zM361.6 387.3l1.6-0.7-1.6-1.6-1.6 0.8zM359.9 388l1.7-0.7-1.6-1.5-1.7 0.8z"/><path class="c1" d="M358.2 388.7l1.7-0.7-1.6-1.4-1.7 0.8zM356.4 389.4l1.8-0.7-1.6-1.3-1.8 0.8zM354.5 390.1l1.9-0.7-1.6-1.2-1.9 0.8z"/><path class="c0" d="M352.6 390.8l1.9-0.7-1.6-1.1-1.9 0.8zM350.5 391.6l2.1-0.8-1.6-1-2.1 0.8z"/><path class="c1" d="M333.6 397.1l1.9-0.5-1.6-1.1-1.9 0.5zM331.9 397.6l1.7-0.5-1.6-1.1-1.7 0.4zM330.1 398.1l1.8-0.5-1.6-1.2-1.8 0.4zM328.5 398.6l1.6-0.5-1.6-1.3-1.6 0.3z"/><path class="c2" d="M326.8 399l1.7-0.4-1.6-1.5-1.7 0.4zM325.2 399.4l1.6-0.4-1.6-1.5-1.6 0.3zM323.6 399.8l1.6-0.4-1.6-1.6-1.6 0.2z"/><path class="c3" d="M322.1 400.2l1.5-0.4-1.6-1.8-1.5 0.3zM320.6 400.5l1.5-0.3-1.6-1.9-1.5 0.2z"/><path class="c4" d="M319.1 400.9l1.5-0.4-1.6-2-1.5 0.2zM317.6 401.2l1.5-0.3-1.6-2.2-1.5 0.2zM316.2 401.5l1.4-0.3-1.6-2.3-1.4 0.1z"/><path class="c2" d="M374.2 384.7l1.5-0.5-1.8-2.3-1.5 0.7zM372.7 385.3l1.5-0.6-1.8-2.1-1.5 0.7zM371.2 385.9l1.5-0.6-1.8-2-1.4 0.6zM369.7 386.4l1.5-0.5-1.7-2-1.6 0.7z"/><path class="c1" d="M368.2 387l1.5-0.6-1.8-1.8-1.5 0.7zM366.6 387.6l1.6-0.6-1.8-1.7-1.6 0.6zM365 388.2l1.6-0.6-1.8-1.7-1.6 0.7zM363.4 388.8l1.6-0.6-1.8-1.6-1.6 0.7zM361.7 389.4l1.7-0.6-1.8-1.5-1.7 0.7zM360 390l1.7-0.6-1.8-1.4-1.7 0.7z"/><path class="c0" d="M358.2 390.6l1.8-0.6-1.8-1.3-1.8 0.7zM356.3 391.3l1.9-0.7-1.8-1.2-1.9 0.7zM354.4 392l1.9-0.7-1.8-1.2-1.9 0.7zM352.3 392.7l2.1-0.7-1.8-1.2-2.1 0.8zM349.9 393.5l2.4-0.8-1.8-1.1-2.3 0.9zM333.6 398.9l1.8-0.6-1.8-1.2-1.7 0.5zM331.9 399.5l1.7-0.6-1.7-1.3-1.8 0.5z"/><path class="c1" d="M330.2 400l1.7-0.5-1.8-1.4-1.6 0.5zM328.6 400.5l1.6-0.5-1.7-1.4-1.7 0.4zM327 401l1.6-0.5-1.8-1.5-1.6 0.4zM325.4 401.5l1.6-0.5-1.8-1.6-1.6 0.4zM323.9 402l1.5-0.5-1.8-1.7-1.5 0.4zM322.4 402.4l1.5-0.4-1.8-1.8-1.5 0.3z"/><path class="c2" d="M320.9 402.9l1.5-0.5-1.8-1.9-1.5 0.4zM319.4 403.3l1.5-0.4-1.8-2-1.5 0.3zM318 403.7l1.4-0.4-1.8-2.1-1.4 0.3z"/><path class="c1" d="M376.6 386.7l1.5-0.5-2.4-2-1.5 0.5z"/><path class="c0" d="M375.1 387.2l1.5-0.5-2.4-2-1.5 0.6zM373.6 387.7l1.5-0.5-2.4-1.9-1.5 0.6zM372.1 388.2l1.5-0.5-2.4-1.8-1.5 0.5zM370.6 388.7l1.5-0.5-2.4-1.8-1.5 0.6zM369 389.3l1.6-0.6-2.4-1.7-1.6 0.6zM367.4 389.8l1.6-0.5-2.4-1.7-1.6 0.6zM365.8 390.4l1.6-0.6-2.4-1.6-1.6 0.6zM364.1 390.9l1.7-0.5-2.4-1.6-1.7 0.6zM362.4 391.5l1.7-0.6-2.4-1.5-1.7 0.6zM360.6 392.1l1.8-0.6-2.4-1.5-1.8 0.6zM358.7 392.7l1.9-0.6-2.4-1.5-1.9 0.7zM356.8 393.4l1.9-0.7-2.4-1.4-1.9 0.7zM354.7 394.1l2.1-0.7-2.4-1.4-2.1 0.7zM352.3 394.9l2.4-0.8-2.4-1.4-2.4 0.8zM332.6 401.5l1.7-0.5-2.4-1.5-1.7 0.5zM331 402.1l1.6-0.6-2.4-1.5-1.6 0.5zM329.4 402.6l1.6-0.5-2.4-1.6-1.6 0.5zM327.8 403.2l1.6-0.6-2.4-1.6-1.6 0.5zM326.3 403.7l1.5-0.5-2.4-1.7-1.5 0.5zM324.8 404.2l1.5-0.5-2.4-1.7-1.5 0.4zM323.3 404.7l1.5-0.5-2.4-1.8-1.5 0.5zM321.8 405.2l1.5-0.5-2.4-1.8-1.5 0.4z"/><path class="c1" d="M320.4 405.7l1.4-0.5-2.4-1.9-1.4 0.4zM379 387.5l1.4-0.5-2.3-0.8-1.5 0.5z"/><path class="c0" d="M377.5 388.1l1.5-0.6-2.4-0.8-1.5 0.5zM376 388.6l1.5-0.5-2.4-0.9-1.5 0.5zM374.5 389.2l1.5-0.6-2.4-0.9-1.5 0.5zM373 389.8l1.5-0.6-2.4-1-1.5 0.5zM371.4 390.3l1.6-0.5-2.4-1.1-1.6 0.6zM369.8 390.9l1.6-0.6-2.4-1-1.6 0.5zM368.2 391.5l1.6-0.6-2.4-1.1-1.6 0.6zM366.5 392.1l1.7-0.6-2.4-1.1-1.7 0.5zM364.8 392.7l1.7-0.6-2.4-1.2-1.7 0.6zM363 393.4l1.8-0.7-2.4-1.2-1.8 0.6zM361.1 394l1.9-0.6-2.4-1.3-1.9 0.6zM359.2 394.7l1.9-0.7-2.4-1.3-1.9 0.7zM357.1 395.5l2.1-0.8-2.4-1.3-2.1 0.7zM354.7 396.3l2.4-0.8-2.4-1.4-2.4 0.8zM351.6 397.3l3.1-1-2.4-1.4-3.1 1zM330.2 404.2l1.6-0.4-2.4-1.2-1.6 0.6zM328.7 404.7l1.5-0.5-2.4-1-1.5 0.5zM327.2 405.2l1.5-0.5-2.4-1-1.5 0.5zM325.7 405.6l1.5-0.4-2.4-1-1.5 0.5zM324.2 406.1l1.5-0.5-2.4-0.9-1.5 0.5z"/><path class="c1" d="M322.7 406.5l1.5-0.4-2.4-0.9-1.4 0.5z"/><path class="c2" d="M380.8 387.4l1.4-0.7-1.8 0.3-1.4 0.5zM379.3 388.1l1.5-0.7-1.8 0.1-1.5 0.6zM377.8 388.7l1.5-0.6-1.8 0-1.5 0.5zM376.3 389.4l1.5-0.7-1.8-0.1-1.5 0.6z"/><path class="c1" d="M374.8 390.1l1.5-0.7-1.8-0.2-1.5 0.6zM373.2 390.8l1.6-0.7-1.8-0.3-1.6 0.5zM371.6 391.4l1.6-0.6-1.8-0.5-1.6 0.6zM369.9 392.1l1.7-0.7-1.8-0.5-1.6 0.6zM368.3 392.8l1.6-0.7-1.7-0.6-1.7 0.6zM366.5 393.5l1.8-0.7-1.8-0.7-1.7 0.6z"/><path class="c0" d="M364.8 394.2l1.7-0.7-1.7-0.8-1.8 0.7zM362.9 394.9l1.9-0.7-1.8-0.8-1.9 0.6zM360.9 395.7l2-0.8-1.8-0.9-1.9 0.7zM358.8 396.4l2.1-0.7-1.7-1-2.1 0.8zM356.5 397.3l2.3-0.9-1.7-0.9-2.4 0.8zM353.4 398.4l3.1-1.1-1.8-1-3.1 1z"/><path class="c2" d="M327.5 405.7l1.4-0.3-1.7-0.2-1.5 0.4zM326 406l1.5-0.3-1.8-0.1-1.5 0.5zM324.5 406.4l1.5-0.4-1.8 0.1-1.5 0.4z"/><path class="c5" d="M382.4 386.8l1.4-0.9-1.6 0.8-1.4 0.7z"/><path class="c4" d="M380.9 387.6l1.5-0.8-1.6 0.6-1.5 0.7zM379.4 388.4l1.5-0.8-1.6 0.5-1.5 0.6z"/><path class="c3" d="M377.9 389.2l1.5-0.8-1.6 0.3-1.5 0.7zM376.4 390l1.5-0.8-1.6 0.2-1.5 0.7zM374.8 390.8l1.6-0.8-1.6 0.1-1.6 0.7z"/><path class="c2" d="M373.2 391.7l1.6-0.9-1.6 0-1.6 0.6zM371.5 392.5l1.7-0.8-1.6-0.3-1.7 0.7zM369.9 393.2l1.6-0.7-1.6-0.4-1.6 0.7z"/><path class="c1" d="M368.1 394l1.8-0.8-1.6-0.4-1.8 0.7zM366.4 394.8l1.7-0.8-1.6-0.5-1.7 0.7zM364.5 395.6l1.9-0.8-1.6-0.6-1.9 0.7z"/><path class="c0" d="M362.5 396.4l2-0.8-1.6-0.7-2 0.8zM360.4 397.3l2.1-0.9-1.6-0.7-2.1 0.7zM358.1 398.2l2.3-0.9-1.6-0.9-2.3 0.9zM355 399.3l3.1-1.1-1.6-0.9-3.1 1.1z"/><path class="c3" d="M330.5 405.1l1.6-0.2-1.6 0.1-1.6 0.4z"/><path class="c4" d="M329.1 405.3l1.4-0.2-1.6 0.3-1.4 0.3zM327.6 405.5l1.5-0.2-1.6 0.4-1.5 0.3zM326.1 405.7l1.5-0.2-1.6 0.5-1.5 0.4z"/><path class="c7" d="M380.9 387.7l1.5-1-1.5 0.9-1.5 0.8z"/><path class="c6" d="M379.4 388.7l1.5-1-1.5 0.7-1.5 0.8z"/><path class="c5" d="M377.9 389.7l1.5-1-1.5 0.5-1.5 0.8z"/><path class="c4" d="M376.3 390.7l1.6-1-1.5 0.3-1.6 0.8zM374.7 391.7l1.6-1-1.5 0.1-1.6 0.9z"/><path class="c3" d="M373 392.6l1.7-0.9-1.5 0-1.7 0.8zM371.4 393.5l1.6-0.9-1.5-0.1-1.6 0.7z"/><path class="c2" d="M369.6 394.4l1.8-0.9-1.5-0.3-1.8 0.8zM367.9 395.4l1.7-1-1.5-0.4-1.7 0.8z"/><path class="c1" d="M366 396.3l1.9-0.9-1.5-0.6-1.9 0.8zM364 397.1l2-0.8-1.5-0.7-2 0.8zM361.9 398.1l2.1-1-1.5-0.7-2.1 0.9z"/><path class="c0" d="M359.6 399l2.3-0.9-1.5-0.8-2.3 0.9zM356.5 400.1l3.1-1.1-1.5-0.8-3.1 1.1zM353.3 401.2l3.2-1.1-1.5-0.8-3.2 1z"/><path class="c4" d="M335.1 404.5l1.6-0.1-1.5 0-1.6 0.3z"/><path class="c5" d="M333.6 404.6l1.5-0.1-1.5 0.2-1.5 0.2zM332 404.6l1.6 0-1.5 0.3-1.6 0.2z"/><path class="c6" d="M330.5 404.6l1.5 0-1.5 0.5-1.4 0.2z"/><path class="c7" d="M329.1 404.6l1.4 0-1.4 0.7-1.5 0.2z"/><path class="c8" d="M327.6 404.6l1.5 0-1.5 0.9-1.5 0.2zM379.3 389.2l1.5-1.2-1.4 0.7-1.5 1z"/><path class="c7" d="M377.7 390.3l1.6-1.1-1.4 0.5-1.6 1z"/><path class="c6" d="M376.1 391.5l1.6-1.2-1.4 0.4-1.6 1z"/><path class="c5" d="M374.5 392.6l1.6-1.1-1.4 0.2-1.7 0.9z"/><path class="c4" d="M372.8 393.7l1.7-1.1-1.5 0-1.6 0.9z"/><path class="c3" d="M371.1 394.7l1.7-1-1.4-0.2-1.8 0.9z"/><path class="c2" d="M369.3 395.8l1.8-1.1-1.5-0.3-1.7 1zM367.4 396.8l1.9-1-1.4-0.4-1.9 0.9z"/><path class="c1" d="M365.5 397.8l1.9-1-1.4-0.5-2 0.8zM363.4 398.8l2.1-1-1.5-0.7-2.1 1z"/><path class="c0" d="M361 399.8l2.4-1-1.5-0.7-2.3 0.9zM357.9 401l3.1-1.2-1.4-0.8-3.1 1.1zM354.8 402l3.1-1-1.4-0.9-3.2 1.1z"/><path class="c5" d="M338.1 404.1l1.6 0-1.4 0.1-1.6 0.2z"/><path class="c6" d="M336.5 404.1l1.6 0-1.4 0.3-1.6 0.1z"/><path class="c7" d="M335 404l1.5 0.1-1.4 0.4-1.5 0.1z"/><path class="c8" d="M333.5 403.8l1.5 0.2-1.4 0.6-1.6 0z"/><path class="c9" d="M332 403.6l1.5 0.2-1.5 0.8-1.5 0z"/><path class="c10" d="M330.5 403.4l1.5 0.2-1.5 1-1.4 0z"/><path class="c11" d="M329 403.1l1.5 0.3-1.4 1.2-1.5 0z"/><path class="c12" d="M382.2 387l1.5-1.4-1.4 1.2-1.5 1.2z"/><path class="c10" d="M380.6 388.4l1.6-1.4-1.4 1-1.5 1.2z"/><path class="c9" d="M379.1 389.8l1.5-1.4-1.3 0.8-1.6 1.1z"/><path class="c8" d="M377.5 391.1l1.6-1.3-1.4 0.5-1.6 1.2z"/><path class="c7" d="M375.8 392.4l1.7-1.3-1.4 0.4-1.6 1.1z"/><path class="c5" d="M374.2 393.7l1.6-1.3-1.3 0.2-1.7 1.1z"/><path class="c4" d="M372.4 394.9l1.8-1.2-1.4 0-1.7 1z"/><path class="c3" d="M370.6 396.1l1.8-1.2-1.3-0.2-1.8 1.1z"/><path class="c2" d="M368.8 397.2l1.8-1.1-1.3-0.3-1.9 1zM366.8 398.4l2-1.2-1.4-0.4-1.9 1z"/><path class="c1" d="M364.7 399.4l2.1-1-1.3-0.6-2.1 1zM362.4 400.5l2.3-1.1-1.3-0.6-2.4 1z"/><path class="c0" d="M359.3 401.7l3.1-1.2-1.4-0.7-3.1 1.2zM356.1 402.7l3.2-1-1.4-0.7-3.1 1z"/><path class="c6" d="M341.1 403.9l1.6 0.2-1.4 0-1.6 0z"/><path class="c7" d="M339.5 403.7l1.6 0.2-1.4 0.2-1.6 0z"/><path class="c8" d="M337.9 403.5l1.6 0.2-1.4 0.4-1.6 0z"/><path class="c9" d="M336.3 403.1l1.6 0.4-1.4 0.6-1.5-0.1z"/><path class="c11" d="M334.8 402.7l1.5 0.4-1.3 0.9-1.5-0.2z"/><path class="c12" d="M333.3 402.3l1.5 0.4-1.3 1.1-1.5-0.2z"/><path class="c14" d="M331.9 401.8l1.4 0.5-1.3 1.3-1.5-0.2z"/><path class="c15" d="M330.4 401.3l1.5 0.5-1.4 1.6-1.5-0.3z"/><path class="c12" d="M380.4 389.1l1.6-1.6-1.4 0.9-1.5 1.4z"/><path class="c10" d="M378.8 390.6l1.6-1.5-1.3 0.7-1.6 1.3z"/><path class="c8" d="M377.2 392.2l1.6-1.6-1.3 0.5-1.7 1.3z"/><path class="c7" d="M375.5 393.6l1.7-1.4-1.4 0.2-1.6 1.3z"/><path class="c6" d="M373.7 395l1.8-1.4-1.3 0.1-1.8 1.2z"/><path class="c4" d="M372 396.4l1.7-1.4-1.3-0.1-1.8 1.2z"/><path class="c3" d="M370.1 397.6l1.9-1.2-1.4-0.3-1.8 1.1z"/><path class="c2" d="M368.1 398.9l2-1.3-1.3-0.4-2 1.2z"/><path class="c1" d="M366 400.1l2.1-1.2-1.3-0.5-2.1 1zM363.7 401.2l2.3-1.1-1.3-0.7-2.3 1.1z"/><path class="c0" d="M360.6 402.5l3.1-1.3-1.3-0.7-3.1 1.2zM357.4 403.5l3.2-1-1.3-0.8-3.2 1z"/><path class="c5" d="M345.7 404.2l1.7 0.2-1.3-0.2-1.7 0z"/><path class="c6" d="M344 403.9l1.7 0.3-1.3 0-1.7-0.1z"/><path class="c8" d="M342.4 403.6l1.6 0.3-1.3 0.2-1.6-0.2z"/><path class="c9" d="M340.8 403.2l1.6 0.4-1.3 0.3-1.6-0.2z"/><path class="c11" d="M339.2 402.7l1.6 0.5-1.3 0.5-1.6-0.2z"/><path class="c12" d="M337.7 402.1l1.5 0.6-1.3 0.8-1.6-0.4z"/><path class="c14" d="M336.1 401.5l1.6 0.6-1.4 1-1.5-0.4z"/><path class="c16" d="M334.7 400.8l1.4 0.7-1.3 1.2-1.5-0.4z"/><path class="c18" d="M333.2 400l1.5 0.8-1.4 1.5-1.4-0.5z"/><path class="c20" d="M331.7 399.2l1.5 0.8-1.3 1.8-1.5-0.5z"/><path class="c17" d="M383.2 386.4l1.6-2-1.3 1.4-1.5 1.7z"/><path class="c15" d="M381.7 388.2l1.5-1.8-1.2 1.1-1.6 1.6z"/><path class="c13" d="M380.1 390l1.6-1.8-1.3 0.9-1.6 1.5z"/><path class="c11" d="M378.4 391.8l1.7-1.8-1.3 0.6-1.6 1.6z"/><path class="c9" d="M376.8 393.4l1.6-1.6-1.2 0.4-1.7 1.4z"/><path class="c7" d="M375 395l1.8-1.6-1.3 0.2-1.8 1.4z"/><path class="c5" d="M373.2 396.5l1.8-1.5-1.3 0-1.7 1.4z"/><path class="c4" d="M371.4 398l1.8-1.5-1.2-0.1-1.9 1.2z"/><path class="c3" d="M369.4 399.4l2-1.4-1.3-0.4-2 1.3z"/><path class="c2" d="M367.3 400.7l2.1-1.3-1.3-0.5-2.1 1.2z"/><path class="c1" d="M365 401.9l2.3-1.2-1.3-0.6-2.3 1.1z"/><path class="c0" d="M361.9 403.2l3.1-1.3-1.3-0.7-3.1 1.3zM358.7 404.2l3.2-1-1.3-0.7-3.2 1z"/><path class="c5" d="M348.7 404.5l1.8 0.2-1.3-0.3-1.8 0z"/><path class="c6" d="M347 404.1l1.7 0.4-1.3-0.1-1.7-0.2z"/><path class="c8" d="M345.3 403.7l1.7 0.4-1.3 0.1-1.7-0.3z"/><path class="c9" d="M343.7 403.1l1.6 0.6-1.3 0.2-1.6-0.3z"/><path class="c11" d="M342.1 402.5l1.6 0.6-1.3 0.5-1.6-0.4z"/><path class="c13" d="M340.5 401.7l1.6 0.8-1.3 0.7-1.6-0.5z"/><path class="c16" d="M338.9 400.9l1.6 0.8-1.3 1-1.5-0.6z"/><path class="c18" d="M337.4 400l1.5 0.9-1.2 1.2-1.6-0.6z"/><path class="c20" d="M335.9 399l1.5 1-1.3 1.5-1.4-0.7z"/><path class="c23" d="M334.5 398l1.4 1-1.2 1.8-1.5-0.8z"/><path class="c25" d="M333 396.9l1.5 1.1-1.3 2-1.5-0.8z"/><path class="c24" d="M386 382.9l1.6-2.3-1.3 1.9-1.5 1.9z"/><path class="c21" d="M384.5 385.1l1.5-2.2-1.2 1.5-1.6 2z"/><path class="c18" d="M382.9 387.2l1.6-2.1-1.3 1.3-1.5 1.8z"/><path class="c15" d="M381.3 389.3l1.6-2.1-1.2 1-1.6 1.8z"/><path class="c13" d="M379.7 391.3l1.6-2-1.2 0.7-1.7 1.8z"/><path class="c11" d="M378 393.2l1.7-1.9-1.3 0.5-1.6 1.6z"/><path class="c9" d="M376.3 395l1.7-1.8-1.2 0.2-1.8 1.6z"/><path class="c7" d="M374.5 396.7l1.8-1.7-1.3 0-1.8 1.5z"/><path class="c5" d="M372.6 398.3l1.9-1.6-1.3-0.2-1.8 1.5z"/><path class="c3" d="M370.7 399.8l1.9-1.5-1.2-0.3-2 1.4z"/><path class="c2" d="M368.6 401.2l2.1-1.4-1.3-0.4-2.1 1.3z"/><path class="c1" d="M366.3 402.6l2.3-1.4-1.3-0.5-2.3 1.2z"/><path class="c0" d="M363.1 404l3.2-1.4-1.3-0.7-3.1 1.3zM360 404.9l3.1-0.9-1.2-0.8-3.2 1z"/><path class="c6" d="M350 404.5l1.7 0.4-1.2-0.2-1.8-0.2z"/><path class="c7" d="M348.2 404l1.8 0.5-1.3 0-1.7-0.4z"/><path class="c9" d="M346.5 403.3l1.7 0.7-1.2 0.1-1.7-0.4z"/><path class="c12" d="M344.9 402.5l1.6 0.8-1.2 0.4-1.6-0.6z"/><path class="c14" d="M343.3 401.6l1.6 0.9-1.2 0.6-1.6-0.6z"/><path class="c16" d="M341.7 400.6l1.6 1-1.2 0.9-1.6-0.8z"/><path class="c19" d="M340.2 399.5l1.5 1.1-1.2 1.1-1.6-0.8z"/><path class="c22" d="M338.7 398.3l1.5 1.2-1.3 1.4-1.5-0.9z"/><path class="c25" d="M337.2 397.1l1.5 1.2-1.3 1.7-1.5-1z"/><path class="c28" d="M335.7 395.7l1.5 1.4-1.3 1.9-1.4-1z"/><path class="c31" d="M334.3 394.2l1.4 1.5-1.2 2.3-1.5-1.1z"/><path class="c28" d="M387.3 381.1l1.5-2.6-1.2 2.1-1.6 2.3z"/><path class="c25" d="M385.7 383.7l1.6-2.6-1.3 1.8-1.5 2.2z"/><path class="c22" d="M384.1 386.1l1.6-2.4-1.2 1.4-1.6 2.1z"/><path class="c18" d="M382.5 388.4l1.6-2.3-1.2 1.1-1.6 2.1z"/><path class="c16" d="M380.9 390.7l1.6-2.3-1.2 0.9-1.6 2z"/><path class="c13" d="M379.2 392.8l1.7-2.1-1.2 0.6-1.7 1.9z"/><path class="c10" d="M377.5 394.8l1.7-2-1.2 0.4-1.7 1.8z"/><path class="c8" d="M375.7 396.7l1.8-1.9-1.2 0.2-1.8 1.7z"/><path class="c6" d="M373.9 398.5l1.8-1.8-1.2 0-1.9 1.6z"/><path class="c4" d="M371.9 400.2l2-1.7-1.3-0.2-1.9 1.5z"/><path class="c2" d="M369.8 401.8l2.1-1.6-1.2-0.4-2.1 1.4z"/><path class="c1" d="M367.5 403.2l2.3-1.4-1.2-0.6-2.3 1.4z"/><path class="c0" d="M364.3 404.7l3.2-1.5-1.2-0.6-3.2 1.4zM361.2 405.5l3.1-0.8-1.2-0.7-3.1 0.9z"/><path class="c1" d="M358.9 405.8l2.3-0.3-1.2-0.6-2.4 0.3z"/><path class="c5" d="M353 405.1l1.8 0.5-1.2-0.4-1.9-0.3z"/><path class="c7" d="M351.2 404.5l1.8 0.6-1.3-0.2-1.7-0.4z"/><path class="c9" d="M349.4 403.8l1.8 0.7-1.2 0-1.8-0.5z"/><path class="c11" d="M347.8 402.9l1.6 0.9-1.2 0.2-1.7-0.7z"/><path class="c14" d="M346.1 401.8l1.7 1.1-1.3 0.4-1.6-0.8z"/><path class="c17" d="M344.5 400.7l1.6 1.1-1.2 0.7-1.6-0.9z"/><path class="c19" d="M343 399.4l1.5 1.3-1.2 0.9-1.6-1z"/><path class="c23" d="M341.4 398l1.6 1.4-1.3 1.2-1.5-1.1z"/><path class="c26" d="M339.9 396.5l1.5 1.5-1.2 1.5-1.5-1.2z"/><path class="c29" d="M338.4 394.9l1.5 1.6-1.2 1.8-1.5-1.2z"/><path class="c33" d="M336.9 393.2l1.5 1.7-1.2 2.2-1.5-1.4z"/><path class="c37" d="M335.5 391.4l1.4 1.8-1.2 2.5-1.4-1.5z"/><path class="c47" d="M392.9 370l1.5-3.3-1.2 3.4-1.5 2.9z"/><path class="c29" d="M386.9 382.1l1.6-2.9-1.2 1.9-1.6 2.6z"/><path class="c25" d="M385.3 384.8l1.6-2.7-1.2 1.6-1.6 2.4z"/><path class="c22" d="M383.7 387.5l1.6-2.7-1.2 1.3-1.6 2.3z"/><path class="c18" d="M382.1 390l1.6-2.5-1.2 0.9-1.6 2.3z"/><path class="c15" d="M380.4 392.4l1.7-2.4-1.2 0.7-1.7 2.1z"/><path class="c12" d="M378.7 394.6l1.7-2.2-1.2 0.4-1.7 2z"/><path class="c9" d="M376.9 396.8l1.8-2.2-1.2 0.2-1.8 1.9z"/><path class="c7" d="M375.1 398.8l1.8-2-1.2-0.1-1.8 1.8z"/><path class="c5" d="M373.1 400.6l2-1.8-1.2-0.3-2 1.7z"/><path class="c3" d="M371 402.3l2.1-1.7-1.2-0.4-2.1 1.6z"/><path class="c1" d="M368.7 403.8l2.3-1.5-1.2-0.5-2.3 1.4z"/><path class="c0" d="M365.5 405.3l3.2-1.5-1.2-0.6-3.2 1.5zM362.4 406.2l3.1-0.9-1.2-0.6-3.1 0.8z"/><path class="c1" d="M360.1 406.4l2.3-0.2-1.2-0.7-2.3 0.3z"/><path class="c6" d="M354.2 405.3l1.8 0.6-1.2-0.3-1.8-0.5z"/><path class="c8" d="M352.4 404.5l1.8 0.8-1.2-0.2-1.8-0.6z"/><path class="c10" d="M350.6 403.5l1.8 1-1.2 0-1.8-0.7z"/><path class="c13" d="M349 402.3l1.6 1.2-1.2 0.3-1.6-0.9z"/><path class="c16" d="M347.3 401l1.7 1.3-1.2 0.6-1.7-1.1z"/><path class="c19" d="M345.7 399.6l1.6 1.4-1.2 0.8-1.6-1.1z"/><path class="c23" d="M344.2 398l1.5 1.6-1.2 1.1-1.5-1.3z"/><path class="c27" d="M342.6 396.3l1.6 1.7-1.2 1.4-1.6-1.4z"/><path class="c30" d="M341.1 394.5l1.5 1.8-1.2 1.7-1.5-1.5z"/><path class="c34" d="M339.6 392.5l1.5 2-1.2 2-1.5-1.6z"/><path class="c39" d="M338.1 390.4l1.5 2.1-1.2 2.4-1.5-1.7z"/><path class="c43" d="M336.7 388.3l1.4 2.1-1.2 2.8-1.4-1.8z"/><path class="c54" d="M394.1 366.8l1.5-3.7-1.2 3.6-1.5 3.3z"/><path class="c38" d="M389.6 377.1l1.6-3.3-1.2 2.4-1.5 3z"/><path class="c34" d="M388.1 380.3l1.5-3.2-1.1 2.1-1.6 2.9z"/><path class="c29" d="M386.5 383.4l1.6-3.1-1.2 1.8-1.6 2.7z"/><path class="c25" d="M384.9 386.4l1.6-3-1.2 1.4-1.6 2.7z"/><path class="c21" d="M383.3 389.2l1.6-2.8-1.2 1.1-1.6 2.5z"/><path class="c17" d="M381.6 391.9l1.7-2.7-1.2 0.8-1.7 2.4z"/><path class="c14" d="M379.9 394.4l1.7-2.5-1.2 0.5-1.7 2.2z"/><path class="c11" d="M378.1 396.7l1.8-2.3-1.2 0.2-1.8 2.2z"/><path class="c8" d="M376.2 398.9l1.9-2.2-1.2 0.1-1.8 2z"/><path class="c5" d="M374.3 401l1.9-2.1-1.1-0.1-2 1.8z"/><path class="c3" d="M372.2 402.8l2.1-1.8-1.2-0.4-2.1 1.7z"/><path class="c2" d="M369.9 404.5l2.3-1.7-1.2-0.5-2.3 1.5z"/><path class="c0" d="M366.7 406l3.2-1.5-1.2-0.7-3.2 1.5zM363.6 406.8l3.1-0.8-1.2-0.7-3.1 0.9z"/><path class="c1" d="M361.3 406.9l2.3-0.1-1.2-0.6-2.3 0.2z"/><path class="c4" d="M357.2 406.1l2 0.6-1.2-0.4-2-0.4z"/><path class="c7" d="M355.3 405.3l1.9 0.8-1.2-0.2-1.8-0.6z"/><path class="c9" d="M353.6 404.3l1.7 1-1.1 0-1.8-0.8z"/><path class="c12" d="M351.8 403.1l1.8 1.2-1.2 0.2-1.8-1z"/><path class="c15" d="M350.1 401.7l1.7 1.4-1.2 0.4-1.6-1.2z"/><path class="c19" d="M348.5 400.2l1.6 1.5-1.1 0.6-1.7-1.3z"/><path class="c22" d="M346.9 398.4l1.6 1.8-1.2 0.8-1.6-1.4z"/><path class="c26" d="M345.3 396.5l1.6 1.9-1.2 1.2-1.5-1.6z"/><path class="c31" d="M343.8 394.5l1.5 2-1.1 1.5-1.6-1.7z"/><path class="c35" d="M342.3 392.3l1.5 2.2-1.2 1.8-1.5-1.8z"/><path class="c40" d="M340.8 390l1.5 2.3-1.2 2.2-1.5-2z"/><path class="c45" d="M339.3 387.5l1.5 2.5-1.2 2.5-1.5-2.1z"/><path class="c50" d="M337.9 384.9l1.4 2.6-1.2 2.9-1.4-2.1z"/><path class="c62" d="M395.3 363.3l1.4-4.1-1.1 3.9-1.5 3.7z"/><path class="c39" d="M389.3 378.5l1.5-3.6-1.2 2.2-1.5 3.2z"/><path class="c33" d="M387.7 381.9l1.6-3.4-1.2 1.8-1.6 3.1z"/><path class="c29" d="M386.1 385.2l1.6-3.3-1.2 1.5-1.6 3z"/><path class="c24" d="M384.4 388.3l1.7-3.1-1.2 1.2-1.6 2.8z"/><path class="c20" d="M382.8 391.3l1.6-3-1.1 0.9-1.7 2.7z"/><path class="c16" d="M381 394.1l1.8-2.8-1.2 0.6-1.7 2.5z"/><path class="c12" d="M379.3 396.7l1.7-2.6-1.1 0.3-1.8 2.3z"/><path class="c9" d="M377.4 399.1l1.9-2.4-1.2 0-1.9 2.2z"/><path class="c6" d="M375.4 401.3l2-2.2-1.2-0.2-1.9 2.1z"/><path class="c4" d="M373.3 403.3l2.1-2-1.1-0.3-2.1 1.8z"/><path class="c2" d="M371 405l2.3-1.7-1.1-0.5-2.3 1.7z"/><path class="c1" d="M367.9 406.7l3.1-1.7-1.1-0.5-3.2 1.5z"/><path class="c0" d="M364.7 407.5l3.2-0.8-1.2-0.7-3.1 0.8z"/><path class="c1" d="M362.4 407.5l2.3 0-1.1-0.7-2.3 0.1z"/><path class="c5" d="M358.4 406.4l1.9 0.7-1.1-0.4-2-0.6z"/><path class="c7" d="M356.5 405.4l1.9 1-1.2-0.3-1.9-0.8z"/><path class="c10" d="M354.7 404.2l1.8 1.2-1.2-0.1-1.7-1z"/><path class="c14" d="M353 402.7l1.7 1.5-1.1 0.1-1.8-1.2z"/><path class="c17" d="M351.3 401l1.7 1.7-1.2 0.4-1.7-1.4z"/><path class="c21" d="M349.7 399.2l1.6 1.8-1.2 0.7-1.6-1.5z"/><path class="c26" d="M348.1 397.1l1.6 2.1-1.2 1-1.6-1.8z"/><path class="c30" d="M346.5 394.9l1.6 2.2-1.2 1.3-1.6-1.9z"/><path class="c35" d="M345 392.5l1.5 2.4-1.2 1.6-1.5-2z"/><path class="c40" d="M343.4 390l1.6 2.5-1.2 2-1.5-2.2z"/><path class="c46" d="M341.9 387.2l1.5 2.8-1.1 2.3-1.5-2.3z"/><path class="c51" d="M340.5 384.4l1.4 2.8-1.1 2.8-1.5-2.5z"/><path class="c57" d="M339 381.4l1.5 3-1.2 3.1-1.4-2.6z"/><path class="c70" d="M396.4 359.7l1.5-4.6-1.2 4.1-1.4 4.1z"/><path class="c56" d="M393.5 368.4l1.4-4.3-1.1 3.2-1.5 3.9z"/><path class="c50" d="M391.9 372.5l1.6-4.1-1.2 2.8-1.5 3.7z"/><path class="c44" d="M390.4 376.5l1.5-4-1.1 2.4-1.5 3.6z"/><path class="c38" d="M388.8 380.3l1.6-3.8-1.1 2-1.6 3.4z"/><path class="c32" d="M387.2 383.9l1.6-3.6-1.1 1.6-1.6 3.3z"/><path class="c27" d="M385.6 387.4l1.6-3.5-1.1 1.3-1.7 3.1z"/><path class="c22" d="M383.9 390.6l1.7-3.2-1.2 0.9-1.6 3z"/><path class="c18" d="M382.2 393.7l1.7-3.1-1.1 0.7-1.8 2.8z"/><path class="c14" d="M380.4 396.5l1.8-2.8-1.2 0.4-1.7 2.6z"/><path class="c10" d="M378.5 399.2l1.9-2.7-1.1 0.2-1.9 2.4z"/><path class="c7" d="M376.6 401.6l1.9-2.4-1.1-0.1-2 2.2z"/><path class="c4" d="M374.5 403.7l2.1-2.1-1.2-0.3-2.1 2z"/><path class="c2" d="M372.2 405.6l2.3-1.9-1.2-0.4-2.3 1.7z"/><path class="c1" d="M369 407.3l3.2-1.7-1.2-0.6-3.1 1.7z"/><path class="c0" d="M365.9 408.1l3.1-0.8-1.1-0.6-3.2 0.8z"/><path class="c1" d="M363.5 408l2.4 0.1-1.2-0.6-2.3 0z"/><path class="c6" d="M359.5 406.6l2 0.9-1.2-0.4-1.9-0.7z"/><path class="c8" d="M357.6 405.4l1.9 1.2-1.1-0.2-1.9-1z"/><path class="c12" d="M355.9 403.9l1.7 1.5-1.1 0-1.8-1.2z"/><path class="c16" d="M354.1 402.2l1.8 1.7-1.2 0.3-1.7-1.5z"/><path class="c20" d="M352.4 400.3l1.7 1.9-1.1 0.5-1.7-1.7z"/><path class="c24" d="M350.8 398.1l1.6 2.2-1.1 0.7-1.6-1.8z"/><path class="c29" d="M349.2 395.7l1.6 2.4-1.1 1.1-1.6-2.1z"/><path class="c34" d="M347.6 393.2l1.6 2.5-1.1 1.4-1.6-2.2z"/><path class="c40" d="M346.1 390.4l1.5 2.8-1.1 1.7-1.5-2.4z"/><path class="c45" d="M344.6 387.5l1.5 2.9-1.1 2.1-1.6-2.5z"/><path class="c52" d="M343.1 384.4l1.5 3.1-1.2 2.5-1.5-2.8z"/><path class="c58" d="M341.6 381.1l1.5 3.3-1.2 2.8-1.4-2.8z"/><path class="c65" d="M340.2 377.6l1.4 3.5-1.1 3.3-1.5-3z"/><path class="c78" d="M397.5 355.9l1.5-5.1-1.1 4.3-1.5 4.6z"/><path class="c70" d="M396.1 360.8l1.4-4.9-1.1 3.8-1.5 4.4z"/><path class="c63" d="M394.6 365.5l1.5-4.7-1.2 3.3-1.4 4.3z"/><path class="c56" d="M393.1 370l1.5-4.5-1.1 2.9-1.6 4.1z"/><path class="c49" d="M391.5 374.4l1.6-4.4-1.2 2.5-1.5 4z"/><path class="c42" d="M389.9 378.6l1.6-4.2-1.1 2.1-1.6 3.8z"/><path class="c36" d="M388.3 382.6l1.6-4-1.1 1.7-1.6 3.6z"/><path class="c31" d="M386.7 386.3l1.6-3.7-1.1 1.3-1.6 3.5z"/><path class="c25" d="M385 389.9l1.7-3.6-1.1 1.1-1.7 3.2z"/><path class="c20" d="M383.3 393.3l1.7-3.4-1.1 0.7-1.7 3.1z"/><path class="c16" d="M381.5 396.4l1.8-3.1-1.1 0.4-1.8 2.8z"/><path class="c12" d="M379.7 399.2l1.8-2.8-1.1 0.1-1.9 2.7z"/><path class="c8" d="M377.7 401.9l2-2.7-1.2 0-1.9 2.4z"/><path class="c5" d="M375.6 404.2l2.1-2.3-1.1-0.3-2.1 2.1z"/><path class="c2" d="M373.3 406.2l2.3-2-1.1-0.5-2.3 1.9z"/><path class="c1" d="M370.1 408l3.2-1.8-1.1-0.6-3.2 1.7z"/><path class="c0" d="M367 408.7l3.1-0.7-1.1-0.7-3.1 0.8z"/><path class="c2" d="M364.7 408.5l2.3 0.2-1.1-0.6-2.4-0.1z"/><path class="c4" d="M362.6 407.8l2.1 0.7-1.2-0.5-2-0.5z"/><path class="c6" d="M360.6 406.8l2 1-1.1-0.3-2-0.9z"/><path class="c9" d="M358.8 405.4l1.8 1.4-1.1-0.2-1.9-1.2z"/><path class="c13" d="M357 403.7l1.8 1.7-1.2 0-1.7-1.5z"/><path class="c17" d="M355.2 401.7l1.8 2-1.1 0.2-1.8-1.7z"/><path class="c22" d="M353.6 399.4l1.6 2.3-1.1 0.5-1.7-1.9z"/><path class="c27" d="M351.9 397l1.7 2.4-1.2 0.9-1.6-2.2z"/><path class="c33" d="M350.3 394.3l1.6 2.7-1.1 1.1-1.6-2.4z"/><path class="c38" d="M348.8 391.3l1.5 3-1.1 1.4-1.6-2.5z"/><path class="c44" d="M347.2 388.2l1.6 3.1-1.2 1.9-1.5-2.8z"/><path class="c51" d="M345.7 384.8l1.5 3.4-1.1 2.2-1.5-2.9z"/><path class="c58" d="M344.2 381.3l1.5 3.5-1.1 2.7-1.5-3.1z"/><path class="c65" d="M342.7 377.6l1.5 3.7-1.1 3.1-1.5-3.3z"/><path class="c72" d="M341.3 373.6l1.4 4-1.1 3.5-1.4-3.5z"/><path class="c87" d="M398.6 351.9l1.5-5.6-1.1 4.5-1.5 5.1z"/><path class="c78" d="M397.2 357.2l1.4-5.3-1.1 4-1.4 4.9z"/><path class="c70" d="M395.7 362.4l1.5-5.2-1.1 3.6-1.5 4.7z"/><path class="c62" d="M394.2 367.4l1.5-5-1.1 3.1-1.5 4.5z"/><path class="c54" d="M392.6 372.2l1.6-4.8-1.1 2.6-1.6 4.4z"/><path class="c47" d="M391.1 376.7l1.5-4.5-1.1 2.2-1.6 4.2z"/><path class="c40" d="M389.5 381.1l1.6-4.4-1.2 1.9-1.6 4z"/><path class="c34" d="M387.8 385.2l1.7-4.1-1.2 1.5-1.6 3.7z"/><path class="c28" d="M386.1 389.1l1.7-3.9-1.1 1.1-1.7 3.6z"/><path class="c22" d="M384.4 392.8l1.7-3.7-1.1 0.8-1.7 3.4z"/><path class="c17" d="M382.6 396.2l1.8-3.4-1.1 0.5-1.8 3.1z"/><path class="c13" d="M380.8 399.3l1.8-3.1-1.1 0.2-1.8 2.8z"/><path class="c9" d="M378.8 402.1l2-2.8-1.1-0.1-2 2.7z"/><path class="c5" d="M376.7 404.6l2.1-2.5-1.1-0.2-2.1 2.3z"/><path class="c3" d="M374.4 406.8l2.3-2.2-1.1-0.4-2.3 2z"/><path class="c1" d="M371.2 408.6l3.2-1.8-1.1-0.6-3.2 1.8z"/><path class="c0" d="M368.1 409.3l3.1-0.7-1.1-0.6-3.1 0.7z"/><path class="c2" d="M365.8 409l2.3 0.3-1.1-0.6-2.3-0.2z"/><path class="c4" d="M363.7 408.2l2.1 0.8-1.1-0.5-2.1-0.7z"/><path class="c7" d="M361.7 406.9l2 1.3-1.1-0.4-2-1z"/><path class="c11" d="M359.9 405.3l1.8 1.6-1.1-0.1-1.8-1.4z"/><path class="c15" d="M358.1 403.4l1.8 1.9-1.1 0.1-1.8-1.7z"/><path class="c19" d="M356.4 401.1l1.7 2.3-1.1 0.3-1.8-2z"/><path class="c25" d="M354.7 398.5l1.7 2.6-1.2 0.6-1.6-2.3z"/><path class="c30" d="M353 395.7l1.7 2.8-1.1 0.9-1.7-2.4z"/><path class="c36" d="M351.4 392.7l1.6 3-1.1 1.3-1.6-2.7z"/><path class="c43" d="M349.9 389.4l1.5 3.3-1.1 1.6-1.5-3z"/><path class="c49" d="M348.3 385.8l1.6 3.6-1.1 1.9-1.6-3.1z"/><path class="c57" d="M346.8 382.1l1.5 3.7-1.1 2.4-1.5-3.4z"/><path class="c64" d="M345.3 378.1l1.5 4-1.1 2.7-1.5-3.5z"/><path class="c72" d="M343.9 373.9l1.4 4.2-1.1 3.2-1.5-3.7z"/><path class="c81" d="M342.4 369.5l1.5 4.4-1.2 3.7-1.4-4z"/></g>
<path d="M342.4 418.4L400.1 398.9M342.4 418.4L298.3 393M298.3 393L298.3 338.4M342.4 418.4l0.6 0.8M371.2 408.6l0.6 0.8M400.1 398.9l0.6 0.8M342.4 418.4l-0.6 0.8M320.4 405.7l-0.6 0.8M298.3 393l-0.6 0.8M298.3 382.6h-1M298.3 372.2h-1M298.3 361.8h-1M298.3 351.4h-1M298.3 341h-1" stroke="#444" stroke-width="0.5" fill="none"/>
<text x="349.3" y="317" font-size="6.8" text-anchor="middle" fill="#262626">F15</text>
<text x="282.6" y="332.4" font-size="6.3" fill="#262626">×10<tspan font-size="4.4" dy="-2.9">5</tspan></text>
<text x="295.4" y="385" font-size="6.3" text-anchor="end" fill="#262626">1</text>
<text x="295.4" y="374.6" font-size="6.3" text-anchor="end" fill="#262626">2</text>
<text x="295.4" y="364.2" font-size="6.3" text-anchor="end" fill="#262626">3</text>
<text x="295.4" y="353.8" font-size="6.3" text-anchor="end" fill="#262626">4</text>
<text x="295.4" y="343.4" font-size="6.3" text-anchor="end" fill="#262626">5</text>
<text transform="translate(289.4 366) rotate(-90)" font-size="6.8" text-anchor="middle" fill="#262626">z</text>
<text x="293.2" y="400.2" font-size="6.3" text-anchor="middle" fill="#262626">5</text>
<text x="315.6" y="412.9" font-size="6.3" text-anchor="middle" fill="#262626">0</text>
<text x="336.5" y="426.1" font-size="6.3" text-anchor="middle" fill="#262626">-5</text>
<text x="314.4" y="428.1" font-size="6.8" text-anchor="middle" fill="#262626">y</text>
<text x="348.2" y="426.1" font-size="6.3" text-anchor="middle" fill="#262626">-5</text>
<text x="376.2" y="416.2" font-size="6.3" text-anchor="middle" fill="#262626">0</text>
<text x="404.7" y="406.6" font-size="6.3" text-anchor="middle" fill="#262626">5</text>
<text x="372.9" y="429.4" font-size="6.8" text-anchor="middle" fill="#262626">x</text>
<path d="M174 9.6V108M194.7 9.6V108M215.3 9.6V108M236 9.6V108M153.3 34.2H256.7M153.3 58.8H256.7M153.3 83.4H256.7" stroke="#e4e4e4" stroke-width="0.5" fill="none"/>
<rect x="153.3" y="9.6" width="103.4" height="98.4" fill="none" stroke="#666" stroke-width="0.5"/>
<path d="M153.3 108v-1M153.3 9.6v1M174 108v-1M174 9.6v1M194.7 108v-1M194.7 9.6v1M215.3 108v-1M215.3 9.6v1M236 108v-1M236 9.6v1M256.7 108v-1M256.7 9.6v1M153.3 9.6h1M256.7 9.6h-1M153.3 34.2h1M256.7 34.2h-1M153.3 58.8h1M256.7 58.8h-1M153.3 83.4h1M256.7 83.4h-1M153.3 108h1M256.7 108h-1" stroke="#555" stroke-width="0.45" fill="none"/>
<text x="153.3" y="117" font-size="6.3" text-anchor="middle" fill="#262626">0</text>
<text x="173.98" y="117" font-size="6.3" text-anchor="middle" fill="#262626">200</text>
<text x="194.66" y="117" font-size="6.3" text-anchor="middle" fill="#262626">400</text>
<text x="215.34" y="117" font-size="6.3" text-anchor="middle" fill="#262626">600</text>
<text x="236.02" y="117" font-size="6.3" text-anchor="middle" fill="#262626">800</text>
<text x="256.7" y="117" font-size="6.3" text-anchor="middle" fill="#262626">1000</text>
<text x="205" y="125.3" font-size="6.8" text-anchor="middle" fill="#262626">Iteration</text>
<text x="151.2" y="13.1" font-size="6.3" text-anchor="end" fill="#262626">10<tspan font-size="4.4" dy="-2.9">10</tspan></text>
<text x="151.2" y="37.7" font-size="6.3" text-anchor="end" fill="#262626">10<tspan font-size="4.4" dy="-2.9">5</tspan></text>
<text x="151.2" y="62.3" font-size="6.3" text-anchor="end" fill="#262626">10<tspan font-size="4.4" dy="-2.9">0</tspan></text>
<text x="151.2" y="86.9" font-size="6.3" text-anchor="end" fill="#262626">10<tspan font-size="4.4" dy="-2.9">-5</tspan></text>
<text x="151.2" y="111.5" font-size="6.3" text-anchor="end" fill="#262626">10<tspan font-size="4.4" dy="-2.9">-10</tspan></text>
<text transform="translate(136.3 58.8) rotate(-90)" font-size="6.8" text-anchor="middle" fill="#262626">Objective function value</text>
<path d="M153.3 17.5L158.7 50.2L164.2 51.5L169.6 51.5L175.1 51.5L180.5 51.5L186 51.5L191.4 51.5L196.8 51.5L202.3 51.5L207.7 51.5L213.2 51.5L218.6 51.5L224 51.5L229.5 51.5L234.9 51.5L240.4 51.5L245.8 51.5L251.3 51.5L256.7 51.5" fill="none" stroke="#1a1a1a" stroke-width="0.85" stroke-linejoin="round"/>
<g fill="#9a9a9a" stroke="#1a1a1a" stroke-width=".75"><circle cx="153.3" cy="17.5" r="1.55"/><circle cx="158.7" cy="50.2" r="1.55"/><circle cx="164.2" cy="51.5" r="1.55"/><circle cx="169.6" cy="51.5" r="1.55"/><circle cx="175.1" cy="51.5" r="1.55"/><circle cx="180.5" cy="51.5" r="1.55"/><circle cx="186" cy="51.5" r="1.55"/><circle cx="191.4" cy="51.5" r="1.55"/><circle cx="196.8" cy="51.5" r="1.55"/><circle cx="202.3" cy="51.5" r="1.55"/><circle cx="207.7" cy="51.5" r="1.55"/><circle cx="213.2" cy="51.5" r="1.55"/><circle cx="218.6" cy="51.5" r="1.55"/><circle cx="224" cy="51.5" r="1.55"/><circle cx="229.5" cy="51.5" r="1.55"/><circle cx="234.9" cy="51.5" r="1.55"/><circle cx="240.4" cy="51.5" r="1.55"/><circle cx="245.8" cy="51.5" r="1.55"/><circle cx="251.3" cy="51.5" r="1.55"/><circle cx="256.7" cy="51.5" r="1.55"/></g>
<path d="M153.3 17.5L158.7 51.5L164.2 51.5L169.6 51.5L175.1 51.5L180.5 51.5L186 51.5L191.4 51.5L196.8 51.5L202.3 51.5L207.7 51.5L213.2 51.5L218.6 51.5L224 51.5L229.5 51.5L234.9 51.5L240.4 51.5L245.8 51.5L251.3 51.5L256.7 51.5" fill="none" stroke="#2a2aff" stroke-width="0.85" stroke-linejoin="round"/>
<path d="M153.3 15.4l-2 3.6 4 0zM158.7 49.4l-2 3.6 4 0zM164.2 49.4l-2 3.6 4 0zM169.6 49.4l-2 3.6 4 0zM175.1 49.4l-2 3.6 4 0zM180.5 49.4l-2 3.6 4 0zM186 49.4l-2 3.6 4 0zM191.4 49.4l-2 3.6 4 0zM196.8 49.4l-2 3.6 4 0zM202.3 49.4l-2 3.6 4 0zM207.7 49.4l-2 3.6 4 0zM213.2 49.4l-2 3.6 4 0zM218.6 49.4l-2 3.6 4 0zM224 49.4l-2 3.6 4 0zM229.5 49.4l-2 3.6 4 0zM234.9 49.4l-2 3.6 4 0zM240.4 49.4l-2 3.6 4 0zM245.8 49.4l-2 3.6 4 0zM251.3 49.4l-2 3.6 4 0zM256.7 49.4l-2 3.6 4 0z" fill="#b8b8ff" stroke="#2a2aff" stroke-width=".7"/>
<path d="M153.3 17.5L158.7 51.5L164.2 51.5L169.6 51.5L175.1 51.5L180.5 51.5L186 51.5L191.4 51.5L196.8 51.5L202.3 51.5L207.7 51.5L213.2 51.5L218.6 51.5L224 51.5L229.5 51.5L234.9 51.5L240.4 51.5L245.8 51.5L251.3 51.5L256.7 51.5" fill="none" stroke="#ff00ff" stroke-width="0.85" stroke-linejoin="round"/>
<g fill="#ff00ff"><circle cx="153.3" cy="17.5" r="1.25"/><circle cx="158.7" cy="51.5" r="1.25"/><circle cx="164.2" cy="51.5" r="1.25"/><circle cx="169.6" cy="51.5" r="1.25"/><circle cx="175.1" cy="51.5" r="1.25"/><circle cx="180.5" cy="51.5" r="1.25"/><circle cx="186" cy="51.5" r="1.25"/><circle cx="191.4" cy="51.5" r="1.25"/><circle cx="196.8" cy="51.5" r="1.25"/><circle cx="202.3" cy="51.5" r="1.25"/><circle cx="207.7" cy="51.5" r="1.25"/><circle cx="213.2" cy="51.5" r="1.25"/><circle cx="218.6" cy="51.5" r="1.25"/><circle cx="224" cy="51.5" r="1.25"/><circle cx="229.5" cy="51.5" r="1.25"/><circle cx="234.9" cy="51.5" r="1.25"/><circle cx="240.4" cy="51.5" r="1.25"/><circle cx="245.8" cy="51.5" r="1.25"/><circle cx="251.3" cy="51.5" r="1.25"/><circle cx="256.7" cy="51.5" r="1.25"/></g>
<path d="M153.3 53.8L158.7 72.5L164.2 75.1L169.6 77L175.1 78.6L180.5 81.2L186 83.3L191.4 84.9L196.8 86.2L202.3 87.3L207.7 88.3L213.2 89.4L218.6 90.4L224 91.2L229.5 92L234.9 92.5L240.4 93.1L245.8 93.5L251.3 93.8L256.7 94.1" fill="none" stroke="#00ff00" stroke-width="0.85" stroke-linejoin="round"/>
<path d="M153.3 51.5l0.6 1.5 1.6 0.1-1.2 1 0.4 1.6-1.4-0.9-1.4 0.9 0.4-1.6-1.2-1 1.6-0.1zM158.7 70.2l0.6 1.5 1.6 0.1-1.2 1 0.4 1.6-1.4-0.9-1.3 0.9 0.4-1.6-1.2-1 1.6-0.1zM164.2 72.8l0.6 1.5 1.6 0.1-1.3 1 0.4 1.6-1.3-0.9-1.4 0.9 0.4-1.6-1.2-1 1.6-0.1zM169.6 74.7l0.6 1.5 1.6 0.1-1.2 1 0.4 1.6-1.4-0.9-1.3 0.9 0.4-1.6-1.3-1 1.6-0.1zM175.1 76.3l0.6 1.5 1.6 0.1-1.3 1 0.4 1.6-1.3-0.9-1.4 0.9 0.4-1.6-1.2-1 1.6-0.1zM180.5 78.9l0.6 1.5 1.6 0.1-1.2 1 0.4 1.6-1.4-0.9-1.3 0.9 0.4-1.6-1.3-1 1.6-0.1zM186 81l0.5 1.5 1.6 0.1-1.2 1 0.4 1.6-1.3-0.9-1.4 0.9 0.4-1.6-1.2-1 1.6-0.1zM191.4 82.6l0.6 1.5 1.6 0.1-1.3 1 0.4 1.6-1.3-0.9-1.4 0.9 0.4-1.6-1.2-1 1.6-0.1zM196.8 83.9l0.6 1.5 1.6 0.1-1.2 1 0.4 1.6-1.4-0.9-1.3 0.9 0.4-1.6-1.3-1 1.6-0.1zM202.3 85l0.6 1.5 1.6 0.1-1.3 1 0.4 1.6-1.3-0.9-1.4 0.9 0.4-1.6-1.2-1 1.6-0.1zM207.7 86l0.6 1.5 1.6 0.1-1.2 1 0.4 1.6-1.4-0.9-1.3 0.9 0.4-1.6-1.3-1 1.6-0.1zM213.2 87.1l0.6 1.5 1.6 0.1-1.3 1 0.4 1.6-1.3-0.9-1.4 0.9 0.4-1.6-1.2-1 1.6-0.1zM218.6 88.1l0.6 1.5 1.6 0.1-1.2 1 0.4 1.6-1.4-0.9-1.3 0.9 0.4-1.6-1.3-1 1.6-0.1zM224 88.9l0.6 1.5 1.6 0.1-1.2 1 0.4 1.6-1.4-0.9-1.3 0.9 0.4-1.6-1.2-1 1.6-0.1zM229.5 89.7l0.6 1.5 1.6 0.1-1.3 1 0.4 1.6-1.3-0.9-1.4 0.9 0.4-1.6-1.2-1 1.6-0.1zM234.9 90.2l0.6 1.5 1.6 0.1-1.2 1 0.4 1.6-1.4-0.9-1.3 0.9 0.4-1.6-1.3-1 1.6-0.1zM240.4 90.8l0.6 1.5 1.6 0.1-1.3 1 0.4 1.6-1.3-0.9-1.4 0.9 0.4-1.6-1.2-1 1.6-0.1zM245.8 91.2l0.6 1.5 1.6 0.1-1.2 1 0.4 1.6-1.4-0.9-1.3 0.9 0.4-1.6-1.3-1 1.6-0.1zM251.3 91.5l0.5 1.5 1.6 0.1-1.2 1 0.4 1.6-1.3-0.9-1.4 0.9 0.4-1.6-1.2-1 1.6-0.1zM256.7 91.8l0.6 1.5 1.6 0.1-1.2 1 0.4 1.6-1.4-0.9-1.4 0.9 0.4-1.6-1.2-1 1.6-0.1z" fill="#00ff00"/>
<rect x="219.2" y="13.5" width="33.6" height="27.8" fill="#fff" stroke="#444" stroke-width="0.5"/>
<path d="M220.9 17.6H236.2" stroke="#1a1a1a" stroke-width="0.85"/>
<g fill="#9a9a9a" stroke="#1a1a1a" stroke-width=".75"><circle cx="228.8" cy="17.6" r="1.47"/></g>
<text x="237.8" y="19.5" font-size="5.6" text-anchor="start" fill="#262626">WOA</text>
<path d="M220.9 24.1H236.2" stroke="#2a2aff" stroke-width="0.85"/>
<path d="M228.8 22.1l-1.9 3.4 3.8 0z" fill="#b8b8ff" stroke="#2a2aff" stroke-width=".7"/>
<text x="237.8" y="26" font-size="5.6" text-anchor="start" fill="#262626">GWO</text>
<path d="M220.9 30.6H236.2" stroke="#ff00ff" stroke-width="0.85"/>
<g fill="#ff00ff"><circle cx="228.8" cy="30.6" r="1.19"/></g>
<text x="237.8" y="32.5" font-size="5.6" text-anchor="start" fill="#262626">PSO</text>
<path d="M220.9 37.1H236.2" stroke="#00ff00" stroke-width="0.85"/>
<path d="M228.8 34.9l0.6 1.4 1.5 0.1-1.2 1 0.4 1.5-1.3-0.8-1.3 0.8 0.4-1.5-1.2-1 1.5-0.1z" fill="#00ff00"/>
<text x="237.8" y="39" font-size="5.6" text-anchor="start" fill="#262626">SSA</text>
<path d="M454.7 9.6V108.3M475.3 9.6V108.3M496 9.6V108.3M516.6 9.6V108.3M434 42.5H537.3M434 75.4H537.3" stroke="#e4e4e4" stroke-width="0.5" fill="none"/>
<path d="M434 26H537.3M434 58.9H537.3M434 91.8H537.3" stroke="#f1f1f1" stroke-width="0.4" fill="none"/>
<rect x="434" y="9.6" width="103.3" height="98.7" fill="none" stroke="#666" stroke-width="0.5"/>
<path d="M434 108.3v-1M434 9.6v1M454.7 108.3v-1M454.7 9.6v1M475.3 108.3v-1M475.3 9.6v1M496 108.3v-1M496 9.6v1M516.6 108.3v-1M516.6 9.6v1M537.3 108.3v-1M537.3 9.6v1M434 9.6h1M537.3 9.6h-1M434 42.5h1M537.3 42.5h-1M434 75.4h1M537.3 75.4h-1M434 108.3h1M537.3 108.3h-1" stroke="#555" stroke-width="0.45" fill="none"/>
<text x="434" y="116.9" font-size="6.3" text-anchor="middle" fill="#262626">0</text>
<text x="454.66" y="116.9" font-size="6.3" text-anchor="middle" fill="#262626">200</text>
<text x="475.32" y="116.9" font-size="6.3" text-anchor="middle" fill="#262626">400</text>
<text x="495.98" y="116.9" font-size="6.3" text-anchor="middle" fill="#262626">600</text>
<text x="516.64" y="116.9" font-size="6.3" text-anchor="middle" fill="#262626">800</text>
<text x="537.3" y="116.9" font-size="6.3" text-anchor="middle" fill="#262626">1000</text>
<text x="485.65" y="125.3" font-size="6.8" text-anchor="middle" fill="#262626">Iteration</text>
<text x="431.9" y="13.1" font-size="6.3" text-anchor="end" fill="#262626">10<tspan font-size="4.4" dy="-2.9">2</tspan></text>
<text x="431.9" y="46" font-size="6.3" text-anchor="end" fill="#262626">10<tspan font-size="4.4" dy="-2.9">0</tspan></text>
<text x="431.9" y="78.9" font-size="6.3" text-anchor="end" fill="#262626">10<tspan font-size="4.4" dy="-2.9">-2</tspan></text>
<text x="431.9" y="111.8" font-size="6.3" text-anchor="end" fill="#262626">10<tspan font-size="4.4" dy="-2.9">-4</tspan></text>
<text transform="translate(416.8 58.9) rotate(-90)" font-size="6.8" text-anchor="middle" fill="#262626">Objective function value</text>
<path d="M434 9.6L439.4 50.7L444.9 60.6L450.3 68.2L455.7 73.6L461.2 75.5L466.6 76.2L472.1 76.8L477.5 86.2L482.9 86.2L488.4 86.2L493.8 86.2L499.2 89.8L504.7 90.3L510.1 90.3L515.6 90.3L521 96.4L526.4 96.4L531.9 96.4L537.3 100" fill="none" stroke="#1a1a1a" stroke-width="0.85" stroke-linejoin="round"/>
<g fill="#9a9a9a" stroke="#1a1a1a" stroke-width=".75"><circle cx="434" cy="9.6" r="1.55"/><circle cx="439.4" cy="50.7" r="1.55"/><circle cx="444.9" cy="60.6" r="1.55"/><circle cx="450.3" cy="68.2" r="1.55"/><circle cx="455.7" cy="73.6" r="1.55"/><circle cx="461.2" cy="75.5" r="1.55"/><circle cx="466.6" cy="76.2" r="1.55"/><circle cx="472.1" cy="76.8" r="1.55"/><circle cx="477.5" cy="86.2" r="1.55"/><circle cx="482.9" cy="86.2" r="1.55"/><circle cx="488.4" cy="86.2" r="1.55"/><circle cx="493.8" cy="86.2" r="1.55"/><circle cx="499.2" cy="89.8" r="1.55"/><circle cx="504.7" cy="90.3" r="1.55"/><circle cx="510.1" cy="90.3" r="1.55"/><circle cx="515.6" cy="90.3" r="1.55"/><circle cx="521" cy="96.4" r="1.55"/><circle cx="526.4" cy="96.4" r="1.55"/><circle cx="531.9" cy="96.4" r="1.55"/><circle cx="537.3" cy="100" r="1.55"/></g>
<path d="M434 9.6L439.4 71.6L444.9 77.5L450.3 77.5L455.7 82L461.2 88.5L466.6 88.9L472.1 89.3L477.5 89.5L482.9 89.5L488.4 89.5L493.8 89.5L499.2 90.3L504.7 90.3L510.1 90.3L515.6 90.3L521 92L526.4 92L531.9 92L537.3 92" fill="none" stroke="#2a2aff" stroke-width="0.85" stroke-linejoin="round"/>
<path d="M434 7.5l-2 3.6 4 0zM439.4 69.5l-2 3.6 4 0zM444.9 75.4l-2 3.6 4 0zM450.3 75.4l-2 3.6 4 0zM455.7 79.9l-2 3.6 4 0zM461.2 86.4l-2 3.6 4 0zM466.6 86.8l-2 3.6 4 0zM472.1 87.2l-2 3.6 4 0zM477.5 87.4l-2 3.6 4 0zM482.9 87.4l-2 3.6 4 0zM488.4 87.4l-2 3.6 4 0zM493.8 87.4l-2 3.6 4 0zM499.2 88.2l-2 3.6 4 0zM504.7 88.2l-2 3.6 4 0zM510.1 88.2l-2 3.6 4 0zM515.6 88.2l-2 3.6 4 0zM521 89.9l-2 3.6 4 0zM526.4 89.9l-2 3.6 4 0zM531.9 89.9l-2 3.6 4 0zM537.3 89.9l-2 3.6 4 0z" fill="#b8b8ff" stroke="#2a2aff" stroke-width=".7"/>
<path d="M434 9.6L439.4 88.5L444.9 88.5L450.3 90.6L455.7 91L461.2 101.6L466.6 101.8L472.1 101.8L477.5 101.8L482.9 101.8L488.4 101.8L493.8 101.8L499.2 101.8L504.7 101.8L510.1 101.8L515.6 108.8L521 108.8L526.4 108.8L531.9 108.8L537.3 108.8" fill="none" stroke="#ff00ff" stroke-width="0.85" stroke-linejoin="round"/>
<g fill="#ff00ff"><circle cx="434" cy="9.6" r="1.25"/><circle cx="439.4" cy="88.5" r="1.25"/><circle cx="444.9" cy="88.5" r="1.25"/><circle cx="450.3" cy="90.6" r="1.25"/><circle cx="455.7" cy="91" r="1.25"/><circle cx="461.2" cy="101.6" r="1.25"/><circle cx="466.6" cy="101.8" r="1.25"/><circle cx="472.1" cy="101.8" r="1.25"/><circle cx="477.5" cy="101.8" r="1.25"/><circle cx="482.9" cy="101.8" r="1.25"/><circle cx="488.4" cy="101.8" r="1.25"/><circle cx="493.8" cy="101.8" r="1.25"/><circle cx="499.2" cy="101.8" r="1.25"/><circle cx="504.7" cy="101.8" r="1.25"/><circle cx="510.1" cy="101.8" r="1.25"/><circle cx="515.6" cy="108.8" r="1.25"/><circle cx="521" cy="108.8" r="1.25"/><circle cx="526.4" cy="108.8" r="1.25"/><circle cx="531.9" cy="108.8" r="1.25"/><circle cx="537.3" cy="108.8" r="1.25"/></g>
<path d="M434 53.3L439.4 103.3L444.9 103.3L450.3 103.3L455.7 103.3L461.2 103.3L466.6 103.3L472.1 108L477.5 108L482.9 108L488.4 108L493.8 108L499.2 108L504.7 108L510.1 108L515.6 108L521 108L526.4 108L531.9 108L537.3 108" fill="none" stroke="#00ff00" stroke-width="0.85" stroke-linejoin="round"/>
<path d="M434 51l0.6 1.5 1.6 0.1-1.2 1 0.4 1.6-1.4-0.9-1.4 0.9 0.4-1.6-1.2-1 1.6-0.1zM439.4 101l0.6 1.5 1.6 0.1-1.2 1 0.4 1.6-1.4-0.9-1.3 0.9 0.4-1.6-1.3-1 1.6-0.1zM444.9 101l0.6 1.5 1.6 0.1-1.3 1 0.4 1.6-1.3-0.9-1.4 0.9 0.4-1.6-1.2-1 1.6-0.1zM450.3 101l0.6 1.5 1.6 0.1-1.2 1 0.4 1.6-1.4-0.9-1.3 0.9 0.4-1.6-1.3-1 1.6-0.1zM455.7 101l0.6 1.5 1.6 0.1-1.2 1 0.4 1.6-1.4-0.9-1.3 0.9 0.4-1.6-1.2-1 1.6-0.1zM461.2 101l0.6 1.5 1.6 0.1-1.3 1 0.4 1.6-1.3-0.9-1.4 0.9 0.4-1.6-1.2-1 1.6-0.1zM466.6 101l0.6 1.5 1.6 0.1-1.2 1 0.4 1.6-1.4-0.9-1.3 0.9 0.4-1.6-1.3-1 1.6-0.1zM472.1 105.7l0.5 1.5 1.6 0.1-1.2 1 0.4 1.6-1.3-0.9-1.4 0.9 0.4-1.6-1.2-1 1.6-0.1zM477.5 105.7l0.6 1.5 1.6 0.1-1.3 1 0.4 1.6-1.3-0.9-1.4 0.9 0.4-1.6-1.2-1 1.6-0.1zM482.9 105.7l0.6 1.5 1.6 0.1-1.2 1 0.4 1.6-1.4-0.9-1.3 0.9 0.4-1.6-1.3-1 1.6-0.1zM488.4 105.7l0.6 1.5 1.6 0.1-1.3 1 0.4 1.6-1.3-0.9-1.4 0.9 0.4-1.6-1.2-1 1.6-0.1zM493.8 105.7l0.6 1.5 1.6 0.1-1.2 1 0.4 1.6-1.4-0.9-1.3 0.9 0.4-1.6-1.3-1 1.6-0.1zM499.2 105.7l0.6 1.5 1.6 0.1-1.2 1 0.4 1.6-1.4-0.9-1.3 0.9 0.4-1.6-1.2-1 1.6-0.1zM504.7 105.7l0.6 1.5 1.6 0.1-1.3 1 0.4 1.6-1.3-0.9-1.4 0.9 0.4-1.6-1.2-1 1.6-0.1zM510.1 105.7l0.6 1.5 1.6 0.1-1.2 1 0.4 1.6-1.4-0.9-1.3 0.9 0.4-1.6-1.3-1 1.6-0.1zM515.6 105.7l0.5 1.5 1.6 0.1-1.2 1 0.4 1.6-1.3-0.9-1.4 0.9 0.4-1.6-1.2-1 1.6-0.1zM521 105.7l0.6 1.5 1.6 0.1-1.3 1 0.4 1.6-1.3-0.9-1.4 0.9 0.4-1.6-1.2-1 1.6-0.1zM526.4 105.7l0.6 1.5 1.6 0.1-1.2 1 0.4 1.6-1.4-0.9-1.3 0.9 0.4-1.6-1.3-1 1.6-0.1zM531.9 105.7l0.6 1.5 1.6 0.1-1.3 1 0.4 1.6-1.3-0.9-1.4 0.9 0.4-1.6-1.2-1 1.6-0.1zM537.3 105.7l0.6 1.5 1.6 0.1-1.2 1 0.4 1.6-1.4-0.9-1.4 0.9 0.4-1.6-1.2-1 1.6-0.1z" fill="#00ff00"/>
<rect x="499.8" y="13.5" width="33.6" height="27.8" fill="#fff" stroke="#444" stroke-width="0.5"/>
<path d="M501.5 17.6H516.8" stroke="#1a1a1a" stroke-width="0.85"/>
<g fill="#9a9a9a" stroke="#1a1a1a" stroke-width=".75"><circle cx="509.4" cy="17.6" r="1.47"/></g>
<text x="518.4" y="19.5" font-size="5.6" text-anchor="start" fill="#262626">WOA</text>
<path d="M501.5 24.1H516.8" stroke="#2a2aff" stroke-width="0.85"/>
<path d="M509.4 22.1l-1.9 3.4 3.8 0z" fill="#b8b8ff" stroke="#2a2aff" stroke-width=".7"/>
<text x="518.4" y="26" font-size="5.6" text-anchor="start" fill="#262626">GWO</text>
<path d="M501.5 30.6H516.8" stroke="#ff00ff" stroke-width="0.85"/>
<g fill="#ff00ff"><circle cx="509.4" cy="30.6" r="1.19"/></g>
<text x="518.4" y="32.5" font-size="5.6" text-anchor="start" fill="#262626">PSO</text>
<path d="M501.5 37.1H516.8" stroke="#00ff00" stroke-width="0.85"/>
<path d="M509.4 34.9l0.6 1.4 1.5 0.1-1.2 1 0.4 1.5-1.3-0.8-1.3 0.8 0.4-1.5-1.2-1 1.5-0.1z" fill="#00ff00"/>
<text x="518.4" y="39" font-size="5.6" text-anchor="start" fill="#262626">SSA</text>
<path d="M180.3 163.1V262.5M199.7 163.1V262.5M219 163.1V262.5M238.4 163.1V262.5M161 181.2H257.7M161 202.8H257.7M161 219.6H257.7M161 233.2H257.7M161 244.8H257.7M161 254.8H257.7" stroke="#e4e4e4" stroke-width="0.5" fill="none"/>
<rect x="161" y="163.1" width="96.7" height="99.4" fill="none" stroke="#666" stroke-width="0.5"/>
<path d="M161 262.5v-1M161 163.1v1M180.3 262.5v-1M180.3 163.1v1M199.7 262.5v-1M199.7 163.1v1M219 262.5v-1M219 163.1v1M238.4 262.5v-1M238.4 163.1v1M257.7 262.5v-1M257.7 163.1v1M161 181.2h1M257.7 181.2h-1M161 202.8h1M257.7 202.8h-1M161 219.6h1M257.7 219.6h-1M161 233.2h1M257.7 233.2h-1M161 244.8h1M257.7 244.8h-1M161 254.8h1M257.7 254.8h-1" stroke="#555" stroke-width="0.45" fill="none"/>
<text x="161" y="271.1" font-size="6.3" text-anchor="middle" fill="#262626">0</text>
<text x="180.34" y="271.1" font-size="6.3" text-anchor="middle" fill="#262626">200</text>
<text x="199.68" y="271.1" font-size="6.3" text-anchor="middle" fill="#262626">400</text>
<text x="219.02" y="271.1" font-size="6.3" text-anchor="middle" fill="#262626">600</text>
<text x="238.36" y="271.1" font-size="6.3" text-anchor="middle" fill="#262626">800</text>
<text x="257.7" y="271.1" font-size="6.3" text-anchor="middle" fill="#262626">1000</text>
<text x="209.35" y="279.5" font-size="6.8" text-anchor="middle" fill="#262626">Iteration</text>
<text x="159.2" y="183.3" font-size="6.3" text-anchor="end" fill="#262626">-3000</text>
<text x="159.2" y="204.9" font-size="6.3" text-anchor="end" fill="#262626">-4000</text>
<text x="159.2" y="221.66" font-size="6.3" text-anchor="end" fill="#262626">-5000</text>
<text x="159.2" y="235.35" font-size="6.3" text-anchor="end" fill="#262626">-6000</text>
<text x="159.2" y="246.92" font-size="6.3" text-anchor="end" fill="#262626">-7000</text>
<text x="159.2" y="256.95" font-size="6.3" text-anchor="end" fill="#262626">-8000</text>
<text transform="translate(141.6 212.8) rotate(-90)" font-size="6.8" text-anchor="middle" fill="#262626">Objective function value</text>
<path d="M161 163.1L166.1 201.5L171.2 201.5L176.3 201.5L181.4 201.5L186.4 201.5L191.5 203.6L196.6 203.6L201.7 203.6L206.8 203.6L211.9 203.6L217 203.6L222.1 203.6L227.2 203.6L232.3 203.6L237.3 203.6L242.4 203.6L247.5 203.6L252.6 203.6L257.7 203.6" fill="none" stroke="#1a1a1a" stroke-width="0.85" stroke-linejoin="round"/>
<g fill="#9a9a9a" stroke="#1a1a1a" stroke-width=".75"><circle cx="161" cy="163.1" r="1.55"/><circle cx="166.1" cy="201.5" r="1.55"/><circle cx="171.2" cy="201.5" r="1.55"/><circle cx="176.3" cy="201.5" r="1.55"/><circle cx="181.4" cy="201.5" r="1.55"/><circle cx="186.4" cy="201.5" r="1.55"/><circle cx="191.5" cy="203.6" r="1.55"/><circle cx="196.6" cy="203.6" r="1.55"/><circle cx="201.7" cy="203.6" r="1.55"/><circle cx="206.8" cy="203.6" r="1.55"/><circle cx="211.9" cy="203.6" r="1.55"/><circle cx="217" cy="203.6" r="1.55"/><circle cx="222.1" cy="203.6" r="1.55"/><circle cx="227.2" cy="203.6" r="1.55"/><circle cx="232.3" cy="203.6" r="1.55"/><circle cx="237.3" cy="203.6" r="1.55"/><circle cx="242.4" cy="203.6" r="1.55"/><circle cx="247.5" cy="203.6" r="1.55"/><circle cx="252.6" cy="203.6" r="1.55"/><circle cx="257.7" cy="203.6" r="1.55"/></g>
<path d="M161 177.9L166.1 189.8L171.2 189.8L176.3 189.8L181.4 198.2L186.4 198.2L191.5 198.2L196.6 198.2L201.7 198.2L206.8 199.6L211.9 199.6L217 199.6L222.1 217.2L227.2 218.6L232.3 221.6L237.3 228L242.4 230L247.5 234L252.6 235.2L257.7 236.3" fill="none" stroke="#2a2aff" stroke-width="0.85" stroke-linejoin="round"/>
<path d="M161 175.8l-2 3.6 4 0zM166.1 187.7l-2 3.6 4 0zM171.2 187.7l-2 3.6 4 0zM176.3 187.7l-2 3.6 4 0zM181.4 196.1l-2 3.6 4 0zM186.4 196.1l-2 3.6 4 0zM191.5 196.1l-2 3.6 4 0zM196.6 196.1l-2 3.6 4 0zM201.7 196.1l-2 3.6 4 0zM206.8 197.5l-2 3.6 4 0zM211.9 197.5l-2 3.6 4 0zM217 197.5l-2 3.6 4 0zM222.1 215.1l-2 3.6 4 0zM227.2 216.5l-2 3.6 4 0zM232.3 219.5l-2 3.6 4 0zM237.3 225.9l-2 3.6 4 0zM242.4 227.9l-2 3.6 4 0zM247.5 231.9l-2 3.6 4 0zM252.6 233.1l-2 3.6 4 0zM257.7 234.2l-2 3.6 4 0z" fill="#b8b8ff" stroke="#2a2aff" stroke-width=".7"/>
<path d="M161 177.9L166.1 236.7L171.2 243L176.3 245.3L181.4 245.3L186.4 245.3L191.5 245.3L196.6 245.3L201.7 245.3L206.8 245.3L211.9 245.3L217 245.3L222.1 245.3L227.2 245.3L232.3 245.3L237.3 245.3L242.4 245.3L247.5 245.3L252.6 245.3L257.7 245.3" fill="none" stroke="#ff00ff" stroke-width="0.85" stroke-linejoin="round"/>
<g fill="#ff00ff"><circle cx="161" cy="177.9" r="1.25"/><circle cx="166.1" cy="236.7" r="1.25"/><circle cx="171.2" cy="243" r="1.25"/><circle cx="176.3" cy="245.3" r="1.25"/><circle cx="181.4" cy="245.3" r="1.25"/><circle cx="186.4" cy="245.3" r="1.25"/><circle cx="191.5" cy="245.3" r="1.25"/><circle cx="196.6" cy="245.3" r="1.25"/><circle cx="201.7" cy="245.3" r="1.25"/><circle cx="206.8" cy="245.3" r="1.25"/><circle cx="211.9" cy="245.3" r="1.25"/><circle cx="217" cy="245.3" r="1.25"/><circle cx="222.1" cy="245.3" r="1.25"/><circle cx="227.2" cy="245.3" r="1.25"/><circle cx="232.3" cy="245.3" r="1.25"/><circle cx="237.3" cy="245.3" r="1.25"/><circle cx="242.4" cy="245.3" r="1.25"/><circle cx="247.5" cy="245.3" r="1.25"/><circle cx="252.6" cy="245.3" r="1.25"/><circle cx="257.7" cy="245.3" r="1.25"/></g>
<path d="M161 178.5L166.1 252.2L171.2 259.8L176.3 262.5L181.4 262.5L186.4 262.5L191.5 262.5L196.6 262.5L201.7 262.5L206.8 262.5L211.9 262.5L217 262.5L222.1 262.5L227.2 262.5L232.3 262.5L237.3 262.5L242.4 262.5L247.5 262.5L252.6 262.5L257.7 262.5" fill="none" stroke="#00ff00" stroke-width="0.85" stroke-linejoin="round"/>
<path d="M161 176.2l0.6 1.5 1.6 0.1-1.2 1 0.4 1.6-1.4-0.9-1.4 0.9 0.4-1.6-1.2-1 1.6-0.1zM166.1 249.9l0.6 1.5 1.6 0.1-1.3 1 0.4 1.6-1.3-0.9-1.4 0.9 0.4-1.6-1.2-1 1.6-0.1zM171.2 257.5l0.6 1.5 1.6 0.1-1.3 1 0.4 1.6-1.3-0.9-1.4 0.9 0.4-1.6-1.2-1 1.6-0.1zM176.3 260.2l0.6 1.5 1.6 0.1-1.3 1 0.4 1.6-1.3-0.9-1.4 0.9 0.4-1.6-1.2-1 1.6-0.1zM181.4 260.2l0.5 1.5 1.6 0.1-1.2 1 0.4 1.6-1.3-0.9-1.4 0.9 0.4-1.6-1.2-1 1.6-0.1zM186.4 260.2l0.6 1.5 1.6 0.1-1.2 1 0.4 1.6-1.4-0.9-1.3 0.9 0.4-1.6-1.2-1 1.6-0.1zM191.5 260.2l0.6 1.5 1.6 0.1-1.2 1 0.4 1.6-1.4-0.9-1.3 0.9 0.4-1.6-1.3-1 1.6-0.1zM196.6 260.2l0.6 1.5 1.6 0.1-1.2 1 0.4 1.6-1.4-0.9-1.3 0.9 0.4-1.6-1.3-1 1.6-0.1zM201.7 260.2l0.6 1.5 1.6 0.1-1.2 1 0.4 1.6-1.4-0.9-1.3 0.9 0.4-1.6-1.3-1 1.6-0.1zM206.8 260.2l0.6 1.5 1.6 0.1-1.2 1 0.4 1.6-1.4-0.9-1.3 0.9 0.4-1.6-1.3-1 1.6-0.1zM211.9 260.2l0.6 1.5 1.6 0.1-1.3 1 0.4 1.6-1.3-0.9-1.4 0.9 0.4-1.6-1.2-1 1.6-0.1zM217 260.2l0.6 1.5 1.6 0.1-1.3 1 0.4 1.6-1.3-0.9-1.4 0.9 0.4-1.6-1.2-1 1.6-0.1zM222.1 260.2l0.6 1.5 1.6 0.1-1.3 1 0.4 1.6-1.3-0.9-1.4 0.9 0.4-1.6-1.2-1 1.6-0.1zM227.2 260.2l0.6 1.5 1.6 0.1-1.3 1 0.4 1.6-1.3-0.9-1.4 0.9 0.4-1.6-1.2-1 1.6-0.1zM232.3 260.2l0.5 1.5 1.6 0.1-1.2 1 0.4 1.6-1.3-0.9-1.4 0.9 0.4-1.6-1.2-1 1.6-0.1zM237.3 260.2l0.6 1.5 1.6 0.1-1.2 1 0.4 1.6-1.4-0.9-1.3 0.9 0.4-1.6-1.2-1 1.6-0.1zM242.4 260.2l0.6 1.5 1.6 0.1-1.2 1 0.4 1.6-1.4-0.9-1.3 0.9 0.4-1.6-1.3-1 1.6-0.1zM247.5 260.2l0.6 1.5 1.6 0.1-1.2 1 0.4 1.6-1.4-0.9-1.3 0.9 0.4-1.6-1.3-1 1.6-0.1zM252.6 260.2l0.6 1.5 1.6 0.1-1.2 1 0.4 1.6-1.4-0.9-1.3 0.9 0.4-1.6-1.3-1 1.6-0.1zM257.7 260.2l0.6 1.5 1.6 0.1-1.2 1 0.4 1.6-1.4-0.9-1.4 0.9 0.4-1.6-1.2-1 1.6-0.1z" fill="#00ff00"/>
<rect x="220.2" y="167" width="33.6" height="27.8" fill="#fff" stroke="#444" stroke-width="0.5"/>
<path d="M221.9 171.1H237.2" stroke="#1a1a1a" stroke-width="0.85"/>
<g fill="#9a9a9a" stroke="#1a1a1a" stroke-width=".75"><circle cx="229.8" cy="171.1" r="1.47"/></g>
<text x="238.8" y="173" font-size="5.6" text-anchor="start" fill="#262626">WOA</text>
<path d="M221.9 177.6H237.2" stroke="#2a2aff" stroke-width="0.85"/>
<path d="M229.8 175.6l-1.9 3.4 3.8 0z" fill="#b8b8ff" stroke="#2a2aff" stroke-width=".7"/>
<text x="238.8" y="179.5" font-size="5.6" text-anchor="start" fill="#262626">GWO</text>
<path d="M221.9 184.1H237.2" stroke="#ff00ff" stroke-width="0.85"/>
<g fill="#ff00ff"><circle cx="229.8" cy="184.1" r="1.19"/></g>
<text x="238.8" y="186" font-size="5.6" text-anchor="start" fill="#262626">PSO</text>
<path d="M221.9 190.6H237.2" stroke="#00ff00" stroke-width="0.85"/>
<path d="M229.8 188.4l0.6 1.4 1.5 0.1-1.2 1 0.4 1.5-1.3-0.9-1.3 0.9 0.4-1.5-1.2-1 1.5-0.1z" fill="#00ff00"/>
<text x="238.8" y="192.5" font-size="5.6" text-anchor="start" fill="#262626">SSA</text>
<path d="M456.1 163.4V262.6M476.7 163.4V262.6M497.3 163.4V262.6M517.9 163.4V262.6M435.5 188.2H538.5M435.5 213H538.5M435.5 237.8H538.5" stroke="#e4e4e4" stroke-width="0.5" fill="none"/>
<rect x="435.5" y="163.4" width="103" height="99.2" fill="none" stroke="#666" stroke-width="0.5"/>
<path d="M435.5 262.6v-1M435.5 163.4v1M456.1 262.6v-1M456.1 163.4v1M476.7 262.6v-1M476.7 163.4v1M497.3 262.6v-1M497.3 163.4v1M517.9 262.6v-1M517.9 163.4v1M538.5 262.6v-1M538.5 163.4v1M435.5 163.4h1M538.5 163.4h-1M435.5 188.2h1M538.5 188.2h-1M435.5 213h1M538.5 213h-1M435.5 237.8h1M538.5 237.8h-1M435.5 262.6h1M538.5 262.6h-1" stroke="#555" stroke-width="0.45" fill="none"/>
<text x="435.5" y="271.2" font-size="6.3" text-anchor="middle" fill="#262626">0</text>
<text x="456.1" y="271.2" font-size="6.3" text-anchor="middle" fill="#262626">200</text>
<text x="476.7" y="271.2" font-size="6.3" text-anchor="middle" fill="#262626">400</text>
<text x="497.3" y="271.2" font-size="6.3" text-anchor="middle" fill="#262626">600</text>
<text x="517.9" y="271.2" font-size="6.3" text-anchor="middle" fill="#262626">800</text>
<text x="538.5" y="271.2" font-size="6.3" text-anchor="middle" fill="#262626">1000</text>
<text x="487" y="279.4" font-size="6.8" text-anchor="middle" fill="#262626">Iteration</text>
<text x="433.4" y="166.9" font-size="6.3" text-anchor="end" fill="#262626">10<tspan font-size="4.4" dy="-2.9">5</tspan></text>
<text x="433.4" y="191.7" font-size="6.3" text-anchor="end" fill="#262626">10<tspan font-size="4.4" dy="-2.9">0</tspan></text>
<text x="433.4" y="216.5" font-size="6.3" text-anchor="end" fill="#262626">10<tspan font-size="4.4" dy="-2.9">-5</tspan></text>
<text x="433.4" y="241.3" font-size="6.3" text-anchor="end" fill="#262626">10<tspan font-size="4.4" dy="-2.9">-10</tspan></text>
<text x="433.4" y="266.1" font-size="6.3" text-anchor="end" fill="#262626">10<tspan font-size="4.4" dy="-2.9">-15</tspan></text>
<text transform="translate(417.3 213) rotate(-90)" font-size="6.8" text-anchor="middle" fill="#262626">Objective function value</text>
<path d="M435.5 180.7L440.9 182.8L446.3 187.7L451.8 195L457.2 200.7L462.6 205.2L468 209.3L473.4 213.2L478.9 216.6L484.3 219.5L489.7 222.1L495.1 224.7L500.6 226.8L506 228.8L511.4 230.7L516.8 232.7L522.2 234.6L527.7 236.4L533.1 238.5L538.5 240.8" fill="none" stroke="#1a1a1a" stroke-width="0.85" stroke-linejoin="round"/>
<g fill="#9a9a9a" stroke="#1a1a1a" stroke-width=".75"><circle cx="435.5" cy="180.7" r="1.55"/><circle cx="440.9" cy="182.8" r="1.55"/><circle cx="446.3" cy="187.7" r="1.55"/><circle cx="451.8" cy="195" r="1.55"/><circle cx="457.2" cy="200.7" r="1.55"/><circle cx="462.6" cy="205.2" r="1.55"/><circle cx="468" cy="209.3" r="1.55"/><circle cx="473.4" cy="213.2" r="1.55"/><circle cx="478.9" cy="216.6" r="1.55"/><circle cx="484.3" cy="219.5" r="1.55"/><circle cx="489.7" cy="222.1" r="1.55"/><circle cx="495.1" cy="224.7" r="1.55"/><circle cx="500.6" cy="226.8" r="1.55"/><circle cx="506" cy="228.8" r="1.55"/><circle cx="511.4" cy="230.7" r="1.55"/><circle cx="516.8" cy="232.7" r="1.55"/><circle cx="522.2" cy="234.6" r="1.55"/><circle cx="527.7" cy="236.4" r="1.55"/><circle cx="533.1" cy="238.5" r="1.55"/><circle cx="538.5" cy="240.8" r="1.55"/></g>
<path d="M435.5 180.7L440.9 192.9L446.3 211.1L451.8 230.7L457.2 250.2L462.6 256.7L468 256.7L473.4 256.7L478.9 256.7L484.3 256.7L489.7 256.7L495.1 256.7L500.6 256.7L506 256.7L511.4 256.7L516.8 256.7L522.2 256.7L527.7 256.7L533.1 256.7L538.5 256.7" fill="none" stroke="#2a2aff" stroke-width="0.85" stroke-linejoin="round"/>
<path d="M435.5 178.6l-2 3.6 4 0zM440.9 190.8l-2 3.6 4 0zM446.3 209l-2 3.6 4 0zM451.8 228.6l-2 3.6 4 0zM457.2 248.1l-2 3.6 4 0zM462.6 254.6l-2 3.6 4 0zM468 254.6l-2 3.6 4 0zM473.4 254.6l-2 3.6 4 0zM478.9 254.6l-2 3.6 4 0zM484.3 254.6l-2 3.6 4 0zM489.7 254.6l-2 3.6 4 0zM495.1 254.6l-2 3.6 4 0zM500.6 254.6l-2 3.6 4 0zM506 254.6l-2 3.6 4 0zM511.4 254.6l-2 3.6 4 0zM516.8 254.6l-2 3.6 4 0zM522.2 254.6l-2 3.6 4 0zM527.7 254.6l-2 3.6 4 0zM533.1 254.6l-2 3.6 4 0zM538.5 254.6l-2 3.6 4 0z" fill="#b8b8ff" stroke="#2a2aff" stroke-width=".7"/>
<path d="M435.5 180.7L440.9 222.9L446.3 254L451.8 257.6L457.2 257.6L462.6 257.6L468 257.6L473.4 257.6L478.9 257.6L484.3 257.6L489.7 257.6L495.1 257.6L500.6 257.6L506 257.6L511.4 257.6L516.8 257.6L522.2 257.6L527.7 257.6L533.1 257.6L538.5 257.6" fill="none" stroke="#ff00ff" stroke-width="0.85" stroke-linejoin="round"/>
<g fill="#ff00ff"><circle cx="435.5" cy="180.7" r="1.25"/><circle cx="440.9" cy="222.9" r="1.25"/><circle cx="446.3" cy="254" r="1.25"/><circle cx="451.8" cy="257.6" r="1.25"/><circle cx="457.2" cy="257.6" r="1.25"/><circle cx="462.6" cy="257.6" r="1.25"/><circle cx="468" cy="257.6" r="1.25"/><circle cx="473.4" cy="257.6" r="1.25"/><circle cx="478.9" cy="257.6" r="1.25"/><circle cx="484.3" cy="257.6" r="1.25"/><circle cx="489.7" cy="257.6" r="1.25"/><circle cx="495.1" cy="257.6" r="1.25"/><circle cx="500.6" cy="257.6" r="1.25"/><circle cx="506" cy="257.6" r="1.25"/><circle cx="511.4" cy="257.6" r="1.25"/><circle cx="516.8" cy="257.6" r="1.25"/><circle cx="522.2" cy="257.6" r="1.25"/><circle cx="527.7" cy="257.6" r="1.25"/><circle cx="533.1" cy="257.6" r="1.25"/><circle cx="538.5" cy="257.6" r="1.25"/></g>
<path d="M435.5 188.5L440.9 210.6L446.3 238.5L451.8 262.6L457.2 262.6L462.6 262.6L468 262.6L473.4 262.6L478.9 262.6L484.3 262.6L489.7 262.6L495.1 262.6L500.6 262.6L506 262.6L511.4 262.6L516.8 262.6L522.2 262.6L527.7 262.6L533.1 262.6L538.5 262.6" fill="none" stroke="#00ff00" stroke-width="0.85" stroke-linejoin="round"/>
<path d="M435.5 186.2l0.6 1.5 1.6 0.1-1.2 1 0.4 1.6-1.4-0.9-1.4 0.9 0.4-1.6-1.2-1 1.6-0.1zM440.9 208.3l0.6 1.5 1.6 0.1-1.2 1 0.4 1.6-1.4-0.9-1.3 0.9 0.4-1.6-1.3-1 1.6-0.1zM446.3 236.2l0.6 1.5 1.6 0.1-1.2 1 0.4 1.6-1.4-0.9-1.3 0.9 0.4-1.6-1.2-1 1.6-0.1zM451.8 260.3l0.6 1.5 1.6 0.1-1.3 1 0.4 1.6-1.3-0.9-1.4 0.9 0.4-1.6-1.2-1 1.6-0.1zM457.2 260.3l0.6 1.5 1.6 0.1-1.3 1 0.4 1.6-1.3-0.9-1.4 0.9 0.4-1.6-1.2-1 1.6-0.1zM462.6 260.3l0.6 1.5 1.6 0.1-1.2 1 0.4 1.6-1.4-0.9-1.3 0.9 0.4-1.6-1.3-1 1.6-0.1zM468 260.3l0.6 1.5 1.6 0.1-1.2 1 0.4 1.6-1.4-0.9-1.3 0.9 0.4-1.6-1.3-1 1.6-0.1zM473.4 260.3l0.6 1.5 1.6 0.1-1.2 1 0.4 1.6-1.4-0.9-1.3 0.9 0.4-1.6-1.2-1 1.6-0.1zM478.9 260.3l0.6 1.5 1.6 0.1-1.3 1 0.4 1.6-1.3-0.9-1.4 0.9 0.4-1.6-1.2-1 1.6-0.1zM484.3 260.3l0.6 1.5 1.6 0.1-1.3 1 0.4 1.6-1.3-0.9-1.4 0.9 0.4-1.6-1.2-1 1.6-0.1zM489.7 260.3l0.6 1.5 1.6 0.1-1.2 1 0.4 1.6-1.4-0.9-1.3 0.9 0.4-1.6-1.3-1 1.6-0.1zM495.1 260.3l0.6 1.5 1.6 0.1-1.2 1 0.4 1.6-1.4-0.9-1.3 0.9 0.4-1.6-1.3-1 1.6-0.1zM500.6 260.3l0.5 1.5 1.6 0.1-1.2 1 0.4 1.6-1.3-0.9-1.4 0.9 0.4-1.6-1.2-1 1.6-0.1zM506 260.3l0.6 1.5 1.6 0.1-1.3 1 0.4 1.6-1.3-0.9-1.4 0.9 0.4-1.6-1.2-1 1.6-0.1zM511.4 260.3l0.6 1.5 1.6 0.1-1.3 1 0.4 1.6-1.3-0.9-1.4 0.9 0.4-1.6-1.2-1 1.6-0.1zM516.8 260.3l0.6 1.5 1.6 0.1-1.2 1 0.4 1.6-1.4-0.9-1.3 0.9 0.4-1.6-1.3-1 1.6-0.1zM522.2 260.3l0.6 1.5 1.6 0.1-1.2 1 0.4 1.6-1.4-0.9-1.3 0.9 0.4-1.6-1.3-1 1.6-0.1zM527.7 260.3l0.5 1.5 1.6 0.1-1.2 1 0.4 1.6-1.3-0.9-1.4 0.9 0.4-1.6-1.2-1 1.6-0.1zM533.1 260.3l0.6 1.5 1.6 0.1-1.3 1 0.4 1.6-1.3-0.9-1.4 0.9 0.4-1.6-1.2-1 1.6-0.1zM538.5 260.3l0.6 1.5 1.6 0.1-1.2 1 0.4 1.6-1.4-0.9-1.4 0.9 0.4-1.6-1.2-1 1.6-0.1z" fill="#00ff00"/>
<rect x="501" y="167.3" width="33.6" height="27.8" fill="#fff" stroke="#444" stroke-width="0.5"/>
<path d="M502.7 171.4H518" stroke="#1a1a1a" stroke-width="0.85"/>
<g fill="#9a9a9a" stroke="#1a1a1a" stroke-width=".75"><circle cx="510.6" cy="171.4" r="1.47"/></g>
<text x="519.6" y="173.3" font-size="5.6" text-anchor="start" fill="#262626">WOA</text>
<path d="M502.7 177.9H518" stroke="#2a2aff" stroke-width="0.85"/>
<path d="M510.6 175.9l-1.9 3.4 3.8 0z" fill="#b8b8ff" stroke="#2a2aff" stroke-width=".7"/>
<text x="519.6" y="179.8" font-size="5.6" text-anchor="start" fill="#262626">GWO</text>
<path d="M502.7 184.4H518" stroke="#ff00ff" stroke-width="0.85"/>
<g fill="#ff00ff"><circle cx="510.6" cy="184.4" r="1.19"/></g>
<text x="519.6" y="186.3" font-size="5.6" text-anchor="start" fill="#262626">PSO</text>
<path d="M502.7 190.9H518" stroke="#00ff00" stroke-width="0.85"/>
<path d="M510.6 188.7l0.6 1.4 1.5 0.1-1.2 1 0.4 1.5-1.3-0.8-1.3 0.8 0.4-1.5-1.2-1 1.5-0.1z" fill="#00ff00"/>
<text x="519.6" y="192.8" font-size="5.6" text-anchor="start" fill="#262626">SSA</text>
<path d="M180.3 319.5V419M200.9 319.5V419M221.4 319.5V419M242 319.5V419M159.8 329.6H262.5M159.8 374.3H262.5" stroke="#e4e4e4" stroke-width="0.5" fill="none"/>
<path d="M159.8 405.5H262.5M159.8 397.7H262.5M159.8 392.1H262.5M159.8 387.8H262.5M159.8 384.2H262.5M159.8 381.2H262.5M159.8 378.6H262.5M159.8 376.3H262.5M159.8 360.8H262.5M159.8 353H262.5M159.8 347.4H262.5M159.8 343.1H262.5M159.8 339.5H262.5M159.8 336.5H262.5M159.8 333.9H262.5M159.8 331.6H262.5" stroke="#f1f1f1" stroke-width="0.4" fill="none"/>
<rect x="159.8" y="319.5" width="102.7" height="99.5" fill="none" stroke="#666" stroke-width="0.5"/>
<path d="M159.8 419v-1M159.8 319.5v1M180.3 419v-1M180.3 319.5v1M200.9 419v-1M200.9 319.5v1M221.4 419v-1M221.4 319.5v1M242 419v-1M242 319.5v1M262.5 419v-1M262.5 319.5v1M159.8 329.6h1M262.5 329.6h-1M159.8 374.3h1M262.5 374.3h-1M159.8 419h1M262.5 419h-1" stroke="#555" stroke-width="0.45" fill="none"/>
<text x="159.8" y="427.7" font-size="6.3" text-anchor="middle" fill="#262626">0</text>
<text x="180.34" y="427.7" font-size="6.3" text-anchor="middle" fill="#262626">200</text>
<text x="200.88" y="427.7" font-size="6.3" text-anchor="middle" fill="#262626">400</text>
<text x="221.42" y="427.7" font-size="6.3" text-anchor="middle" fill="#262626">600</text>
<text x="241.96" y="427.7" font-size="6.3" text-anchor="middle" fill="#262626">800</text>
<text x="262.5" y="427.7" font-size="6.3" text-anchor="middle" fill="#262626">1000</text>
<text x="211.15" y="435.9" font-size="6.8" text-anchor="middle" fill="#262626">Iteration</text>
<text x="157.7" y="333.1" font-size="6.3" text-anchor="end" fill="#262626">10<tspan font-size="4.4" dy="-2.9">2</tspan></text>
<text x="157.7" y="377.8" font-size="6.3" text-anchor="end" fill="#262626">10<tspan font-size="4.4" dy="-2.9">1</tspan></text>
<text x="157.7" y="422.5" font-size="6.3" text-anchor="end" fill="#262626">10<tspan font-size="4.4" dy="-2.9">0</tspan></text>
<text transform="translate(145.2 369.2) rotate(-90)" font-size="6.8" text-anchor="middle" fill="#262626">Objective function value</text>
<path d="M159.8 363.6L165.2 418.9L170.6 418.9L176 418.9L181.4 418.9L186.8 418.9L192.2 418.9L197.6 418.9L203 418.9L208.4 418.9L213.9 418.9L219.3 418.9L224.7 418.9L230.1 418.9L235.5 418.9L240.9 418.9L246.3 418.9L251.7 418.9L257.1 418.9L262.5 418.9" fill="none" stroke="#1a1a1a" stroke-width="0.85" stroke-linejoin="round"/>
<g fill="#9a9a9a" stroke="#1a1a1a" stroke-width=".75"><circle cx="159.8" cy="363.6" r="1.55"/><circle cx="165.2" cy="418.9" r="1.55"/><circle cx="170.6" cy="418.9" r="1.55"/><circle cx="176" cy="418.9" r="1.55"/><circle cx="181.4" cy="418.9" r="1.55"/><circle cx="186.8" cy="418.9" r="1.55"/><circle cx="192.2" cy="418.9" r="1.55"/><circle cx="197.6" cy="418.9" r="1.55"/><circle cx="203" cy="418.9" r="1.55"/><circle cx="208.4" cy="418.9" r="1.55"/><circle cx="213.9" cy="418.9" r="1.55"/><circle cx="219.3" cy="418.9" r="1.55"/><circle cx="224.7" cy="418.9" r="1.55"/><circle cx="230.1" cy="418.9" r="1.55"/><circle cx="235.5" cy="418.9" r="1.55"/><circle cx="240.9" cy="418.9" r="1.55"/><circle cx="246.3" cy="418.9" r="1.55"/><circle cx="251.7" cy="418.9" r="1.55"/><circle cx="257.1" cy="418.9" r="1.55"/><circle cx="262.5" cy="418.9" r="1.55"/></g>
<path d="M159.8 319.5L165.2 418.9L170.6 418.9L176 418.9L181.4 418.9L186.8 418.9L192.2 418.9L197.6 418.9L203 418.9L208.4 418.9L213.9 418.9L219.3 418.9L224.7 418.9L230.1 418.9L235.5 418.9L240.9 418.9L246.3 418.9L251.7 418.9L257.1 418.9L262.5 418.9" fill="none" stroke="#2a2aff" stroke-width="0.85" stroke-linejoin="round"/>
<path d="M159.8 317.4l-2 3.6 4 0zM165.2 416.8l-2 3.6 4 0zM170.6 416.8l-2 3.6 4 0zM176 416.8l-2 3.6 4 0zM181.4 416.8l-2 3.6 4 0zM186.8 416.8l-2 3.6 4 0zM192.2 416.8l-2 3.6 4 0zM197.6 416.8l-2 3.6 4 0zM203 416.8l-2 3.6 4 0zM208.4 416.8l-2 3.6 4 0zM213.9 416.8l-2 3.6 4 0zM219.3 416.8l-2 3.6 4 0zM224.7 416.8l-2 3.6 4 0zM230.1 416.8l-2 3.6 4 0zM235.5 416.8l-2 3.6 4 0zM240.9 416.8l-2 3.6 4 0zM246.3 416.8l-2 3.6 4 0zM251.7 416.8l-2 3.6 4 0zM257.1 416.8l-2 3.6 4 0zM262.5 416.8l-2 3.6 4 0z" fill="#b8b8ff" stroke="#2a2aff" stroke-width=".7"/>
<path d="M159.8 355.6L165.2 418.9L170.6 418.9L176 418.9L181.4 418.9L186.8 418.9L192.2 418.9L197.6 418.9L203 418.9L208.4 418.9L213.9 418.9L219.3 418.9L224.7 418.9L230.1 418.9L235.5 418.9L240.9 418.9L246.3 418.9L251.7 418.9L257.1 418.9L262.5 418.9" fill="none" stroke="#ff00ff" stroke-width="0.85" stroke-linejoin="round"/>
<g fill="#ff00ff"><circle cx="159.8" cy="355.6" r="1.25"/><circle cx="165.2" cy="418.9" r="1.25"/><circle cx="170.6" cy="418.9" r="1.25"/><circle cx="176" cy="418.9" r="1.25"/><circle cx="181.4" cy="418.9" r="1.25"/><circle cx="186.8" cy="418.9" r="1.25"/><circle cx="192.2" cy="418.9" r="1.25"/><circle cx="197.6" cy="418.9" r="1.25"/><circle cx="203" cy="418.9" r="1.25"/><circle cx="208.4" cy="418.9" r="1.25"/><circle cx="213.9" cy="418.9" r="1.25"/><circle cx="219.3" cy="418.9" r="1.25"/><circle cx="224.7" cy="418.9" r="1.25"/><circle cx="230.1" cy="418.9" r="1.25"/><circle cx="235.5" cy="418.9" r="1.25"/><circle cx="240.9" cy="418.9" r="1.25"/><circle cx="246.3" cy="418.9" r="1.25"/><circle cx="251.7" cy="418.9" r="1.25"/><circle cx="257.1" cy="418.9" r="1.25"/><circle cx="262.5" cy="418.9" r="1.25"/></g>
<path d="M159.8 380.5L165.2 418.9L170.6 418.9L176 418.9L181.4 418.9L186.8 418.9L192.2 418.9L197.6 418.9L203 418.9L208.4 418.9L213.9 418.9L219.3 418.9L224.7 418.9L230.1 418.9L235.5 418.9L240.9 418.9L246.3 418.9L251.7 418.9L257.1 418.9L262.5 418.9" fill="none" stroke="#00ff00" stroke-width="0.85" stroke-linejoin="round"/>
<path d="M159.8 378.2l0.6 1.5 1.6 0.1-1.2 1 0.4 1.6-1.4-0.9-1.4 0.9 0.4-1.6-1.2-1 1.6-0.1zM165.2 416.6l0.6 1.5 1.6 0.1-1.2 1 0.4 1.6-1.4-0.9-1.3 0.9 0.4-1.6-1.3-1 1.6-0.1zM170.6 416.6l0.6 1.5 1.6 0.1-1.2 1 0.4 1.6-1.4-0.9-1.3 0.9 0.4-1.6-1.3-1 1.6-0.1zM176 416.6l0.6 1.5 1.6 0.1-1.2 1 0.4 1.6-1.4-0.9-1.3 0.9 0.4-1.6-1.3-1 1.6-0.1zM181.4 416.6l0.6 1.5 1.6 0.1-1.2 1 0.4 1.6-1.4-0.9-1.3 0.9 0.4-1.6-1.3-1 1.6-0.1zM186.8 416.6l0.6 1.5 1.6 0.1-1.2 1 0.4 1.6-1.4-0.9-1.3 0.9 0.4-1.6-1.3-1 1.6-0.1zM192.2 416.6l0.6 1.5 1.6 0.1-1.2 1 0.4 1.6-1.4-0.9-1.3 0.9 0.4-1.6-1.3-1 1.6-0.1zM197.6 416.6l0.6 1.5 1.6 0.1-1.2 1 0.4 1.6-1.4-0.9-1.3 0.9 0.4-1.6-1.3-1 1.6-0.1zM203 416.6l0.6 1.5 1.6 0.1-1.2 1 0.4 1.6-1.4-0.9-1.3 0.9 0.4-1.6-1.2-1 1.6-0.1zM208.4 416.6l0.6 1.5 1.6 0.1-1.2 1 0.4 1.6-1.4-0.9-1.3 0.9 0.4-1.6-1.2-1 1.6-0.1zM213.9 416.6l0.5 1.5 1.6 0.1-1.2 1 0.4 1.6-1.3-0.9-1.4 0.9 0.4-1.6-1.2-1 1.6-0.1zM219.3 416.6l0.5 1.5 1.6 0.1-1.2 1 0.4 1.6-1.3-0.9-1.4 0.9 0.4-1.6-1.2-1 1.6-0.1zM224.7 416.6l0.6 1.5 1.6 0.1-1.3 1 0.4 1.6-1.3-0.9-1.4 0.9 0.4-1.6-1.2-1 1.6-0.1zM230.1 416.6l0.6 1.5 1.6 0.1-1.3 1 0.4 1.6-1.3-0.9-1.4 0.9 0.4-1.6-1.2-1 1.6-0.1zM235.5 416.6l0.6 1.5 1.6 0.1-1.3 1 0.4 1.6-1.3-0.9-1.4 0.9 0.4-1.6-1.2-1 1.6-0.1zM240.9 416.6l0.6 1.5 1.6 0.1-1.3 1 0.4 1.6-1.3-0.9-1.4 0.9 0.4-1.6-1.2-1 1.6-0.1zM246.3 416.6l0.6 1.5 1.6 0.1-1.3 1 0.4 1.6-1.3-0.9-1.4 0.9 0.4-1.6-1.2-1 1.6-0.1zM251.7 416.6l0.6 1.5 1.6 0.1-1.3 1 0.4 1.6-1.3-0.9-1.4 0.9 0.4-1.6-1.2-1 1.6-0.1zM257.1 416.6l0.6 1.5 1.6 0.1-1.3 1 0.4 1.6-1.3-0.9-1.4 0.9 0.4-1.6-1.2-1 1.6-0.1zM262.5 416.6l0.6 1.5 1.6 0.1-1.2 1 0.4 1.6-1.4-0.9-1.4 0.9 0.4-1.6-1.2-1 1.6-0.1z" fill="#00ff00"/>
<rect x="225" y="323.4" width="33.6" height="27.8" fill="#fff" stroke="#444" stroke-width="0.5"/>
<path d="M226.7 327.5H242" stroke="#1a1a1a" stroke-width="0.85"/>
<g fill="#9a9a9a" stroke="#1a1a1a" stroke-width=".75"><circle cx="234.6" cy="327.5" r="1.47"/></g>
<text x="243.6" y="329.4" font-size="5.6" text-anchor="start" fill="#262626">WOA</text>
<path d="M226.7 334H242" stroke="#2a2aff" stroke-width="0.85"/>
<path d="M234.6 332l-1.9 3.4 3.8 0z" fill="#b8b8ff" stroke="#2a2aff" stroke-width=".7"/>
<text x="243.6" y="335.9" font-size="5.6" text-anchor="start" fill="#262626">GWO</text>
<path d="M226.7 340.5H242" stroke="#ff00ff" stroke-width="0.85"/>
<g fill="#ff00ff"><circle cx="234.6" cy="340.5" r="1.19"/></g>
<text x="243.6" y="342.4" font-size="5.6" text-anchor="start" fill="#262626">PSO</text>
<path d="M226.7 347H242" stroke="#00ff00" stroke-width="0.85"/>
<path d="M234.6 344.8l0.6 1.4 1.5 0.1-1.2 1 0.4 1.5-1.3-0.9-1.3 0.9 0.4-1.5-1.2-1 1.5-0.1z" fill="#00ff00"/>
<text x="243.6" y="348.9" font-size="5.6" text-anchor="start" fill="#262626">SSA</text>
<path d="M454.2 319.5V419M474.7 319.5V419M495.3 319.5V419M515.8 319.5V419M433.7 344.4H536.3M433.7 369.2H536.3M433.7 394.1H536.3" stroke="#e4e4e4" stroke-width="0.5" fill="none"/>
<path d="M433.7 336.9H536.3M433.7 332.5H536.3M433.7 329.4H536.3M433.7 327H536.3M433.7 325H536.3M433.7 323.4H536.3M433.7 321.9H536.3M433.7 320.6H536.3M433.7 361.8H536.3M433.7 357.4H536.3M433.7 354.3H536.3M433.7 351.9H536.3M433.7 349.9H536.3M433.7 348.2H536.3M433.7 346.8H536.3M433.7 345.5H536.3M433.7 386.6H536.3M433.7 382.3H536.3M433.7 379.1H536.3M433.7 376.7H536.3M433.7 374.8H536.3M433.7 373.1H536.3M433.7 371.7H536.3M433.7 370.4H536.3M433.7 411.5H536.3M433.7 407.1H536.3M433.7 404H536.3M433.7 401.6H536.3M433.7 399.6H536.3M433.7 398H536.3M433.7 396.5H536.3M433.7 395.3H536.3" stroke="#f1f1f1" stroke-width="0.4" fill="none"/>
<rect x="433.7" y="319.5" width="102.6" height="99.5" fill="none" stroke="#666" stroke-width="0.5"/>
<path d="M433.7 419v-1M433.7 319.5v1M454.2 419v-1M454.2 319.5v1M474.7 419v-1M474.7 319.5v1M495.3 419v-1M495.3 319.5v1M515.8 419v-1M515.8 319.5v1M536.3 419v-1M536.3 319.5v1M433.7 319.5h1M536.3 319.5h-1M433.7 344.4h1M536.3 344.4h-1M433.7 369.2h1M536.3 369.2h-1M433.7 394.1h1M536.3 394.1h-1M433.7 419h1M536.3 419h-1" stroke="#555" stroke-width="0.45" fill="none"/>
<text x="433.7" y="427.7" font-size="6.3" text-anchor="middle" fill="#262626">0</text>
<text x="454.22" y="427.7" font-size="6.3" text-anchor="middle" fill="#262626">200</text>
<text x="474.74" y="427.7" font-size="6.3" text-anchor="middle" fill="#262626">400</text>
<text x="495.26" y="427.7" font-size="6.3" text-anchor="middle" fill="#262626">600</text>
<text x="515.78" y="427.7" font-size="6.3" text-anchor="middle" fill="#262626">800</text>
<text x="536.3" y="427.7" font-size="6.3" text-anchor="middle" fill="#262626">1000</text>
<text x="485" y="435.9" font-size="6.8" text-anchor="middle" fill="#262626">Iteration</text>
<text x="431.6" y="323" font-size="6.3" text-anchor="end" fill="#262626">10<tspan font-size="4.4" dy="-2.9">0</tspan></text>
<text x="431.6" y="347.88" font-size="6.3" text-anchor="end" fill="#262626">10<tspan font-size="4.4" dy="-2.9">-1</tspan></text>
<text x="431.6" y="372.75" font-size="6.3" text-anchor="end" fill="#262626">10<tspan font-size="4.4" dy="-2.9">-2</tspan></text>
<text x="431.6" y="397.62" font-size="6.3" text-anchor="end" fill="#262626">10<tspan font-size="4.4" dy="-2.9">-3</tspan></text>
<text x="431.6" y="422.5" font-size="6.3" text-anchor="end" fill="#262626">10<tspan font-size="4.4" dy="-2.9">-4</tspan></text>
<text transform="translate(417.3 369.2) rotate(-90)" font-size="6.8" text-anchor="middle" fill="#262626">Objective function value</text>
<path d="M433.7 349.8L439.1 361.3L444.5 386L449.9 399.8L455.3 399.8L460.7 403.7L466.1 404.2L471.5 404.5L476.9 405L482.3 405L487.7 405L493.1 405L498.5 405L503.9 405.8L509.3 405.8L514.7 405.8L520.1 405.8L525.5 405.8L530.9 405.8L536.3 405.8" fill="none" stroke="#1a1a1a" stroke-width="0.85" stroke-linejoin="round"/>
<g fill="#9a9a9a" stroke="#1a1a1a" stroke-width=".75"><circle cx="433.7" cy="349.8" r="1.55"/><circle cx="439.1" cy="361.3" r="1.55"/><circle cx="444.5" cy="386" r="1.55"/><circle cx="449.9" cy="399.8" r="1.55"/><circle cx="455.3" cy="399.8" r="1.55"/><circle cx="460.7" cy="403.7" r="1.55"/><circle cx="466.1" cy="404.2" r="1.55"/><circle cx="471.5" cy="404.5" r="1.55"/><circle cx="476.9" cy="405" r="1.55"/><circle cx="482.3" cy="405" r="1.55"/><circle cx="487.7" cy="405" r="1.55"/><circle cx="493.1" cy="405" r="1.55"/><circle cx="498.5" cy="405" r="1.55"/><circle cx="503.9" cy="405.8" r="1.55"/><circle cx="509.3" cy="405.8" r="1.55"/><circle cx="514.7" cy="405.8" r="1.55"/><circle cx="520.1" cy="405.8" r="1.55"/><circle cx="525.5" cy="405.8" r="1.55"/><circle cx="530.9" cy="405.8" r="1.55"/><circle cx="536.3" cy="405.8" r="1.55"/></g>
<path d="M433.7 326.1L439.1 397.7L444.5 397.7L449.9 398.5L455.3 399.8L460.7 400.3L466.1 403.7L471.5 405.5L476.9 406.3L482.3 406.3L487.7 406.3L493.1 406.3L498.5 406.3L503.9 406.3L509.3 406.3L514.7 406.3L520.1 406.3L525.5 406.3L530.9 406.3L536.3 406.3" fill="none" stroke="#2a2aff" stroke-width="0.85" stroke-linejoin="round"/>
<path d="M433.7 324l-2 3.6 4 0zM439.1 395.6l-2 3.6 4 0zM444.5 395.6l-2 3.6 4 0zM449.9 396.4l-2 3.6 4 0zM455.3 397.7l-2 3.6 4 0zM460.7 398.2l-2 3.6 4 0zM466.1 401.6l-2 3.6 4 0zM471.5 403.4l-2 3.6 4 0zM476.9 404.2l-2 3.6 4 0zM482.3 404.2l-2 3.6 4 0zM487.7 404.2l-2 3.6 4 0zM493.1 404.2l-2 3.6 4 0zM498.5 404.2l-2 3.6 4 0zM503.9 404.2l-2 3.6 4 0zM509.3 404.2l-2 3.6 4 0zM514.7 404.2l-2 3.6 4 0zM520.1 404.2l-2 3.6 4 0zM525.5 404.2l-2 3.6 4 0zM530.9 404.2l-2 3.6 4 0zM536.3 404.2l-2 3.6 4 0z" fill="#b8b8ff" stroke="#2a2aff" stroke-width=".7"/>
<path d="M433.7 380.3L439.1 397.2L444.5 398.5L449.9 399L455.3 399.3L460.7 399.8L466.1 400.3L471.5 401L476.9 401.9L482.3 402.9L487.7 405.5L493.1 406L498.5 406L503.9 406L509.3 406L514.7 406L520.1 406L525.5 406L530.9 406L536.3 406" fill="none" stroke="#ff00ff" stroke-width="0.85" stroke-linejoin="round"/>
<g fill="#ff00ff"><circle cx="433.7" cy="380.3" r="1.25"/><circle cx="439.1" cy="397.2" r="1.25"/><circle cx="444.5" cy="398.5" r="1.25"/><circle cx="449.9" cy="399" r="1.25"/><circle cx="455.3" cy="399.3" r="1.25"/><circle cx="460.7" cy="399.8" r="1.25"/><circle cx="466.1" cy="400.3" r="1.25"/><circle cx="471.5" cy="401" r="1.25"/><circle cx="476.9" cy="401.9" r="1.25"/><circle cx="482.3" cy="402.9" r="1.25"/><circle cx="487.7" cy="405.5" r="1.25"/><circle cx="493.1" cy="406" r="1.25"/><circle cx="498.5" cy="406" r="1.25"/><circle cx="503.9" cy="406" r="1.25"/><circle cx="509.3" cy="406" r="1.25"/><circle cx="514.7" cy="406" r="1.25"/><circle cx="520.1" cy="406" r="1.25"/><circle cx="525.5" cy="406" r="1.25"/><circle cx="530.9" cy="406" r="1.25"/><circle cx="536.3" cy="406" r="1.25"/></g>
<path d="M433.7 358.7L439.1 406.5L444.5 406.8L449.9 406.8L455.3 406.8L460.7 406.8L466.1 406.8L471.5 406.8L476.9 406.8L482.3 406.8L487.7 406.8L493.1 406.8L498.5 406.8L503.9 406.8L509.3 406.8L514.7 406.8L520.1 406.8L525.5 406.8L530.9 406.8L536.3 406.8" fill="none" stroke="#00ff00" stroke-width="0.85" stroke-linejoin="round"/>
<path d="M433.7 356.4l0.6 1.5 1.6 0.1-1.2 1 0.4 1.6-1.4-0.9-1.4 0.9 0.4-1.6-1.2-1 1.6-0.1zM439.1 404.2l0.6 1.5 1.6 0.1-1.2 1 0.4 1.6-1.4-0.9-1.4 0.9 0.4-1.6-1.2-1 1.6-0.1zM444.5 404.5l0.6 1.5 1.6 0.1-1.2 1 0.4 1.6-1.4-0.9-1.4 0.9 0.4-1.6-1.2-1 1.6-0.1zM449.9 404.5l0.6 1.5 1.6 0.1-1.2 1 0.4 1.6-1.4-0.9-1.4 0.9 0.4-1.6-1.2-1 1.6-0.1zM455.3 404.5l0.6 1.5 1.6 0.1-1.2 1 0.4 1.6-1.4-0.9-1.4 0.9 0.4-1.6-1.2-1 1.6-0.1zM460.7 404.5l0.6 1.5 1.6 0.1-1.2 1 0.4 1.6-1.4-0.9-1.4 0.9 0.4-1.6-1.2-1 1.6-0.1zM466.1 404.5l0.6 1.5 1.6 0.1-1.2 1 0.4 1.6-1.4-0.9-1.4 0.9 0.4-1.6-1.2-1 1.6-0.1zM471.5 404.5l0.6 1.5 1.6 0.1-1.2 1 0.4 1.6-1.4-0.9-1.4 0.9 0.4-1.6-1.2-1 1.6-0.1zM476.9 404.5l0.6 1.5 1.6 0.1-1.2 1 0.4 1.6-1.4-0.9-1.4 0.9 0.4-1.6-1.2-1 1.6-0.1zM482.3 404.5l0.6 1.5 1.6 0.1-1.2 1 0.4 1.6-1.4-0.9-1.4 0.9 0.4-1.6-1.2-1 1.6-0.1zM487.7 404.5l0.6 1.5 1.6 0.1-1.2 1 0.4 1.6-1.4-0.9-1.4 0.9 0.4-1.6-1.2-1 1.6-0.1zM493.1 404.5l0.6 1.5 1.6 0.1-1.2 1 0.4 1.6-1.4-0.9-1.4 0.9 0.4-1.6-1.2-1 1.6-0.1zM498.5 404.5l0.6 1.5 1.6 0.1-1.2 1 0.4 1.6-1.4-0.9-1.4 0.9 0.4-1.6-1.2-1 1.6-0.1zM503.9 404.5l0.6 1.5 1.6 0.1-1.2 1 0.4 1.6-1.4-0.9-1.4 0.9 0.4-1.6-1.2-1 1.6-0.1zM509.3 404.5l0.6 1.5 1.6 0.1-1.2 1 0.4 1.6-1.4-0.9-1.4 0.9 0.4-1.6-1.2-1 1.6-0.1zM514.7 404.5l0.6 1.5 1.6 0.1-1.2 1 0.4 1.6-1.4-0.9-1.4 0.9 0.4-1.6-1.2-1 1.6-0.1zM520.1 404.5l0.6 1.5 1.6 0.1-1.2 1 0.4 1.6-1.4-0.9-1.4 0.9 0.4-1.6-1.2-1 1.6-0.1zM525.5 404.5l0.6 1.5 1.6 0.1-1.2 1 0.4 1.6-1.4-0.9-1.4 0.9 0.4-1.6-1.2-1 1.6-0.1zM530.9 404.5l0.6 1.5 1.6 0.1-1.2 1 0.4 1.6-1.4-0.9-1.4 0.9 0.4-1.6-1.2-1 1.6-0.1zM536.3 404.5l0.6 1.5 1.6 0.1-1.2 1 0.4 1.6-1.4-0.9-1.4 0.9 0.4-1.6-1.2-1 1.6-0.1z" fill="#00ff00"/>
<rect x="498.8" y="323.4" width="33.6" height="27.8" fill="#fff" stroke="#444" stroke-width="0.5"/>
<path d="M500.5 327.5H515.8" stroke="#1a1a1a" stroke-width="0.85"/>
<g fill="#9a9a9a" stroke="#1a1a1a" stroke-width=".75"><circle cx="508.4" cy="327.5" r="1.47"/></g>
<text x="517.4" y="329.4" font-size="5.6" text-anchor="start" fill="#262626">WOA</text>
<path d="M500.5 334H515.8" stroke="#2a2aff" stroke-width="0.85"/>
<path d="M508.4 332l-1.9 3.4 3.8 0z" fill="#b8b8ff" stroke="#2a2aff" stroke-width=".7"/>
<text x="517.4" y="335.9" font-size="5.6" text-anchor="start" fill="#262626">GWO</text>
<path d="M500.5 340.5H515.8" stroke="#ff00ff" stroke-width="0.85"/>
<g fill="#ff00ff"><circle cx="508.4" cy="340.5" r="1.19"/></g>
<text x="517.4" y="342.4" font-size="5.6" text-anchor="start" fill="#262626">PSO</text>
<path d="M500.5 347H515.8" stroke="#00ff00" stroke-width="0.85"/>
<path d="M508.4 344.8l0.6 1.4 1.5 0.1-1.2 1 0.4 1.5-1.3-0.9-1.3 0.9 0.4-1.5-1.2-1 1.5-0.1z" fill="#00ff00"/>
<text x="517.4" y="348.9" font-size="5.6" text-anchor="start" fill="#262626">SSA</text>
<text x="136" y="144.2" font-size="10.4" text-anchor="middle" fill="#111">(<tspan font-weight="bold">a</tspan>) F5</text>
<text x="414" y="144.2" font-size="10.4" text-anchor="middle" fill="#111">(<tspan font-weight="bold">b</tspan>) F7</text>
<text x="136" y="299.3" font-size="10.4" text-anchor="middle" fill="#111">(<tspan font-weight="bold">c</tspan>) F8</text>
<text x="414.6" y="297.6" font-size="10.4" text-anchor="middle" fill="#111">(<tspan font-weight="bold">d</tspan>) F10</text>
<text x="136" y="454.9" font-size="10.4" text-anchor="middle" fill="#111">(<tspan font-weight="bold">e</tspan>) F14</text>
<text x="414.6" y="454.6" font-size="10.4" text-anchor="middle" fill="#111">(<tspan font-weight="bold">f</tspan>) F15</text>
</svg></body></html>
